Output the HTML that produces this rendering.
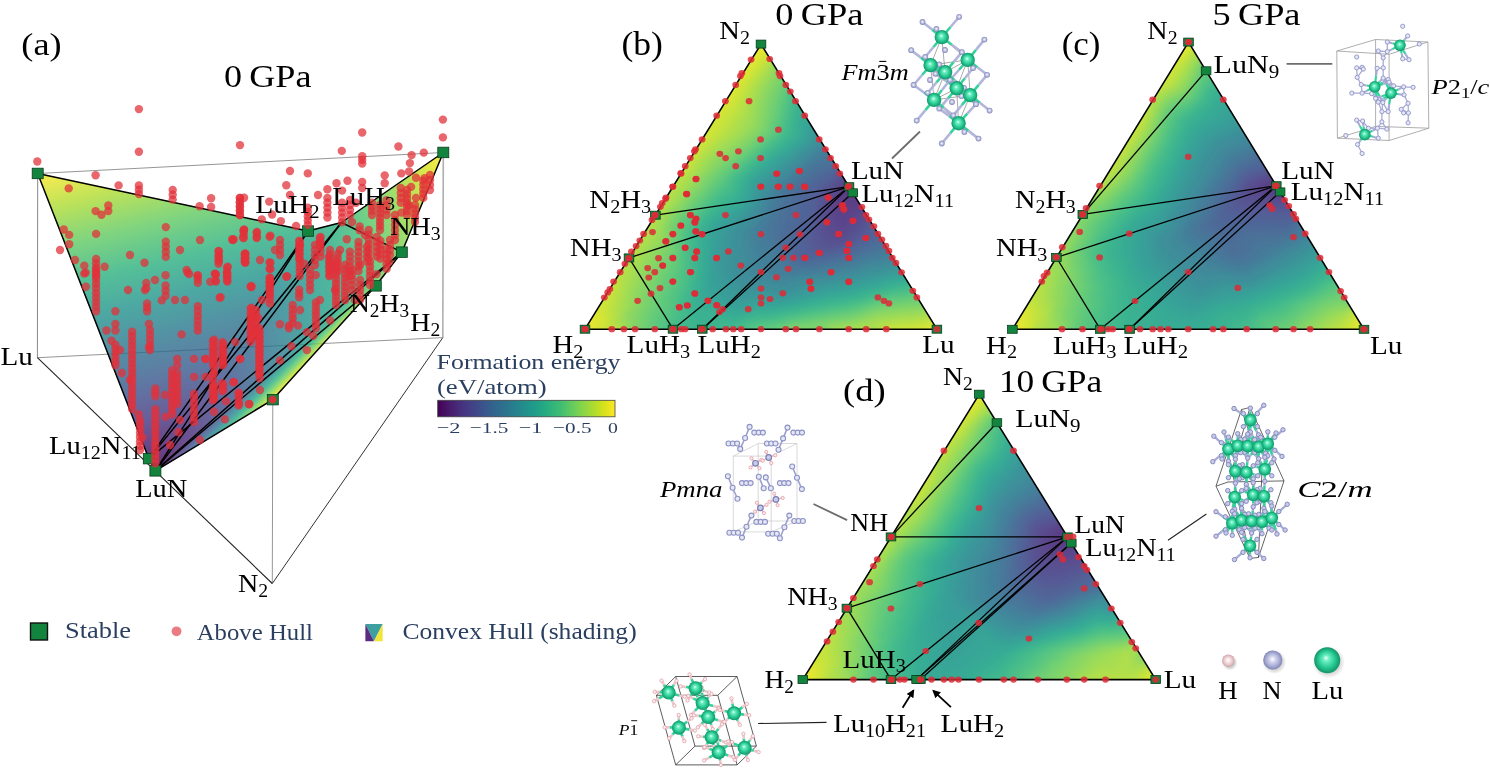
<!DOCTYPE html><html><head><meta charset="utf-8"><style>html,body{margin:0;padding:0;background:#fff;overflow:hidden}svg{display:block}</style></head><body><svg width="1490" height="776" viewBox="0 0 1490 776"><defs><linearGradient id="fa1" gradientUnits="userSpaceOnUse" x1="330.6" y1="185.9" x2="443.3" y2="152.5"><stop offset="0" stop-color="#31b57b"/><stop offset="0.12" stop-color="#42be71"/><stop offset="0.25" stop-color="#58c765"/><stop offset="0.38" stop-color="#70cf57"/><stop offset="0.5" stop-color="#8bd646"/><stop offset="0.62" stop-color="#a8db34"/><stop offset="0.75" stop-color="#c5e021"/><stop offset="0.88" stop-color="#e2e418"/><stop offset="1" stop-color="#fde725"/></linearGradient><linearGradient id="fa2" gradientUnits="userSpaceOnUse" x1="111.1" y1="274.5" x2="392.5" y2="211"><stop offset="0" stop-color="#440154"/><stop offset="0.12" stop-color="#482475"/><stop offset="0.25" stop-color="#414487"/><stop offset="0.38" stop-color="#355f8d"/><stop offset="0.5" stop-color="#2a788e"/><stop offset="0.62" stop-color="#21918c"/><stop offset="0.75" stop-color="#22a884"/><stop offset="0.88" stop-color="#44bf70"/><stop offset="1" stop-color="#7ad151"/></linearGradient><linearGradient id="fa3" gradientUnits="userSpaceOnUse" x1="251.5" y1="501.8" x2="341.5" y2="222.5"><stop offset="0" stop-color="#440154"/><stop offset="0.12" stop-color="#481d6f"/><stop offset="0.25" stop-color="#453882"/><stop offset="0.38" stop-color="#3c508b"/><stop offset="0.5" stop-color="#31668e"/><stop offset="0.62" stop-color="#297a8e"/><stop offset="0.75" stop-color="#218e8d"/><stop offset="0.88" stop-color="#1fa187"/><stop offset="1" stop-color="#31b57b"/></linearGradient><linearGradient id="fa4" gradientUnits="userSpaceOnUse" x1="299.6" y1="475.8" x2="308" y2="231"><stop offset="0" stop-color="#440154"/><stop offset="0.12" stop-color="#481c6e"/><stop offset="0.25" stop-color="#453581"/><stop offset="0.38" stop-color="#3e4c8a"/><stop offset="0.5" stop-color="#34618d"/><stop offset="0.62" stop-color="#2b748e"/><stop offset="0.75" stop-color="#24868e"/><stop offset="0.88" stop-color="#1f998a"/><stop offset="1" stop-color="#25ac82"/></linearGradient><linearGradient id="fa5" gradientUnits="userSpaceOnUse" x1="351.9" y1="408.3" x2="279" y2="113.8"><stop offset="0" stop-color="#460b5e"/><stop offset="0.12" stop-color="#463480"/><stop offset="0.25" stop-color="#38588c"/><stop offset="0.38" stop-color="#2a768e"/><stop offset="0.5" stop-color="#20938c"/><stop offset="0.62" stop-color="#2ab07f"/><stop offset="0.75" stop-color="#60ca60"/><stop offset="0.88" stop-color="#addc30"/><stop offset="1" stop-color="#fde725"/></linearGradient><linearGradient id="fa6" gradientUnits="userSpaceOnUse" x1="362.2" y1="219.6" x2="402.8" y2="253"><stop offset="0" stop-color="#440154"/><stop offset="0.12" stop-color="#482576"/><stop offset="0.25" stop-color="#404588"/><stop offset="0.38" stop-color="#34618d"/><stop offset="0.5" stop-color="#297a8e"/><stop offset="0.62" stop-color="#20938c"/><stop offset="0.75" stop-color="#25ac82"/><stop offset="0.88" stop-color="#4cc26c"/><stop offset="1" stop-color="#86d549"/></linearGradient><linearGradient id="fa7" gradientUnits="userSpaceOnUse" x1="355.9" y1="266.3" x2="380.2" y2="290.1"><stop offset="0" stop-color="#440154"/><stop offset="0.12" stop-color="#472d7b"/><stop offset="0.25" stop-color="#3b528b"/><stop offset="0.38" stop-color="#2c728e"/><stop offset="0.5" stop-color="#21918c"/><stop offset="0.62" stop-color="#28ae80"/><stop offset="0.75" stop-color="#5ec962"/><stop offset="0.88" stop-color="#addc30"/><stop offset="1" stop-color="#fde725"/></linearGradient><linearGradient id="cb8" x1="0" x2="1" y1="0" y2="0"><stop offset="0" stop-color="#440154"/><stop offset="0.06" stop-color="#48186a"/><stop offset="0.12" stop-color="#472d7b"/><stop offset="0.19" stop-color="#424086"/><stop offset="0.25" stop-color="#3b528b"/><stop offset="0.31" stop-color="#33638d"/><stop offset="0.38" stop-color="#2c728e"/><stop offset="0.44" stop-color="#26828e"/><stop offset="0.5" stop-color="#21918c"/><stop offset="0.56" stop-color="#1fa088"/><stop offset="0.62" stop-color="#28ae80"/><stop offset="0.69" stop-color="#3fbc73"/><stop offset="0.75" stop-color="#5ec962"/><stop offset="0.81" stop-color="#84d44b"/><stop offset="0.88" stop-color="#addc30"/><stop offset="0.94" stop-color="#d8e219"/><stop offset="1" stop-color="#fde725"/></linearGradient><clipPath id="clip9"><polygon points="585,329.2 936.9,329.2 761,44.1"/></clipPath><filter id="blur10" x="-5%" y="-5%" width="110%" height="110%"><feGaussianBlur stdDeviation="0.8 2.0"/></filter><linearGradient id="r11" gradientUnits="userSpaceOnUse" x1="755" x2="767" y1="0" y2="0"><stop offset="0" stop-color="#eee731"/><stop offset="0.5" stop-color="#eee731"/><stop offset="1" stop-color="#eee731"/></linearGradient><linearGradient id="r12" gradientUnits="userSpaceOnUse" x1="755" x2="767" y1="0" y2="0"><stop offset="0" stop-color="#eee731"/><stop offset="0.5" stop-color="#ece731"/><stop offset="1" stop-color="#ece731"/></linearGradient><linearGradient id="r13" gradientUnits="userSpaceOnUse" x1="752.5" x2="769.5" y1="0" y2="0"><stop offset="0" stop-color="#ece731"/><stop offset="0.5" stop-color="#e7e730"/><stop offset="1" stop-color="#ece731"/></linearGradient><linearGradient id="r14" gradientUnits="userSpaceOnUse" x1="750.1" x2="771.9" y1="0" y2="0"><stop offset="0" stop-color="#ece731"/><stop offset="0.33" stop-color="#e5e62f"/><stop offset="0.67" stop-color="#e0e630"/><stop offset="1" stop-color="#e9e730"/></linearGradient><linearGradient id="r15" gradientUnits="userSpaceOnUse" x1="747.6" x2="774.4" y1="0" y2="0"><stop offset="0" stop-color="#ece731"/><stop offset="0.33" stop-color="#e3e62f"/><stop offset="0.67" stop-color="#d4e433"/><stop offset="1" stop-color="#d9e531"/></linearGradient><linearGradient id="r16" gradientUnits="userSpaceOnUse" x1="745.1" x2="776.9" y1="0" y2="0"><stop offset="0" stop-color="#ece731"/><stop offset="0.25" stop-color="#e3e62f"/><stop offset="0.5" stop-color="#d0e435"/><stop offset="0.75" stop-color="#c6e23a"/><stop offset="1" stop-color="#a9de4d"/></linearGradient><linearGradient id="r17" gradientUnits="userSpaceOnUse" x1="742.7" x2="779.3" y1="0" y2="0"><stop offset="0" stop-color="#e7e730"/><stop offset="0.25" stop-color="#e0e630"/><stop offset="0.5" stop-color="#c8e339"/><stop offset="0.75" stop-color="#aedf4a"/><stop offset="1" stop-color="#7fd468"/></linearGradient><linearGradient id="r18" gradientUnits="userSpaceOnUse" x1="740.2" x2="781.8" y1="0" y2="0"><stop offset="0" stop-color="#e3e62f"/><stop offset="0.2" stop-color="#dee530"/><stop offset="0.4" stop-color="#cbe338"/><stop offset="0.6" stop-color="#b5e045"/><stop offset="0.8" stop-color="#94d95a"/><stop offset="1" stop-color="#72d06f"/></linearGradient><linearGradient id="r19" gradientUnits="userSpaceOnUse" x1="737.7" x2="784.3" y1="0" y2="0"><stop offset="0" stop-color="#e3e62f"/><stop offset="0.2" stop-color="#dce530"/><stop offset="0.4" stop-color="#c4e23c"/><stop offset="0.6" stop-color="#acde4b"/><stop offset="0.8" stop-color="#8bd760"/><stop offset="1" stop-color="#70cf70"/></linearGradient><linearGradient id="r20" gradientUnits="userSpaceOnUse" x1="735.2" x2="786.7" y1="0" y2="0"><stop offset="0" stop-color="#e3e62f"/><stop offset="0.17" stop-color="#dce530"/><stop offset="0.33" stop-color="#c8e339"/><stop offset="0.5" stop-color="#b0df48"/><stop offset="0.67" stop-color="#99da57"/><stop offset="0.83" stop-color="#7fd468"/><stop offset="1" stop-color="#6ecf71"/></linearGradient><linearGradient id="r21" gradientUnits="userSpaceOnUse" x1="732.8" x2="789.2" y1="0" y2="0"><stop offset="0" stop-color="#e3e62f"/><stop offset="0.17" stop-color="#d9e531"/><stop offset="0.33" stop-color="#c1e23d"/><stop offset="0.5" stop-color="#a9de4d"/><stop offset="0.67" stop-color="#90d85d"/><stop offset="0.83" stop-color="#78d26b"/><stop offset="1" stop-color="#6cce73"/></linearGradient><linearGradient id="r22" gradientUnits="userSpaceOnUse" x1="730.3" x2="791.7" y1="0" y2="0"><stop offset="0" stop-color="#e0e630"/><stop offset="0.14" stop-color="#d9e531"/><stop offset="0.29" stop-color="#c4e23c"/><stop offset="0.43" stop-color="#aedf4a"/><stop offset="0.57" stop-color="#97da59"/><stop offset="0.71" stop-color="#81d466"/><stop offset="0.86" stop-color="#6ecf71"/><stop offset="1" stop-color="#65cb77"/></linearGradient><linearGradient id="r23" gradientUnits="userSpaceOnUse" x1="727.8" x2="794.1" y1="0" y2="0"><stop offset="0" stop-color="#e0e630"/><stop offset="0.14" stop-color="#d7e532"/><stop offset="0.29" stop-color="#c1e23d"/><stop offset="0.43" stop-color="#a7dd4e"/><stop offset="0.57" stop-color="#90d85d"/><stop offset="0.71" stop-color="#7ad26a"/><stop offset="0.86" stop-color="#65cb77"/><stop offset="1" stop-color="#50c282"/></linearGradient><linearGradient id="r24" gradientUnits="userSpaceOnUse" x1="725.4" x2="796.6" y1="0" y2="0"><stop offset="0" stop-color="#e0e630"/><stop offset="0.12" stop-color="#d9e531"/><stop offset="0.25" stop-color="#c4e23c"/><stop offset="0.38" stop-color="#aedf4a"/><stop offset="0.5" stop-color="#97da59"/><stop offset="0.62" stop-color="#83d565"/><stop offset="0.75" stop-color="#6ecf71"/><stop offset="0.88" stop-color="#57c57f"/><stop offset="1" stop-color="#41b98b"/></linearGradient><linearGradient id="r25" gradientUnits="userSpaceOnUse" x1="722.9" x2="799.1" y1="0" y2="0"><stop offset="0" stop-color="#e0e630"/><stop offset="0.12" stop-color="#d7e532"/><stop offset="0.25" stop-color="#c4e23c"/><stop offset="0.38" stop-color="#acde4b"/><stop offset="0.5" stop-color="#94d95a"/><stop offset="0.62" stop-color="#7cd369"/><stop offset="0.75" stop-color="#68cd75"/><stop offset="0.88" stop-color="#4bbf85"/><stop offset="1" stop-color="#3db68d"/></linearGradient><linearGradient id="r26" gradientUnits="userSpaceOnUse" x1="720.4" x2="801.6" y1="0" y2="0"><stop offset="0" stop-color="#e0e630"/><stop offset="0.11" stop-color="#d9e531"/><stop offset="0.22" stop-color="#c6e23a"/><stop offset="0.33" stop-color="#b0df48"/><stop offset="0.44" stop-color="#9bdb56"/><stop offset="0.56" stop-color="#85d564"/><stop offset="0.67" stop-color="#72d06f"/><stop offset="0.78" stop-color="#5ac77d"/><stop offset="0.89" stop-color="#42ba8a"/><stop offset="1" stop-color="#3bb48e"/></linearGradient><linearGradient id="r27" gradientUnits="userSpaceOnUse" x1="718" x2="804" y1="0" y2="0"><stop offset="0" stop-color="#dee530"/><stop offset="0.11" stop-color="#d7e532"/><stop offset="0.22" stop-color="#c4e23c"/><stop offset="0.33" stop-color="#b0df48"/><stop offset="0.44" stop-color="#99da57"/><stop offset="0.56" stop-color="#81d466"/><stop offset="0.67" stop-color="#6cce73"/><stop offset="0.78" stop-color="#54c480"/><stop offset="0.89" stop-color="#3fb78c"/><stop offset="1" stop-color="#37af91"/></linearGradient><linearGradient id="r28" gradientUnits="userSpaceOnUse" x1="715.5" x2="806.5" y1="0" y2="0"><stop offset="0" stop-color="#d9e531"/><stop offset="0.1" stop-color="#d4e433"/><stop offset="0.2" stop-color="#c6e23a"/><stop offset="0.3" stop-color="#b5e045"/><stop offset="0.4" stop-color="#a2dc51"/><stop offset="0.5" stop-color="#8bd760"/><stop offset="0.6" stop-color="#76d16d"/><stop offset="0.7" stop-color="#61ca79"/><stop offset="0.8" stop-color="#49be86"/><stop offset="0.9" stop-color="#3ab28f"/><stop offset="1" stop-color="#35a994"/></linearGradient><linearGradient id="r29" gradientUnits="userSpaceOnUse" x1="713" x2="809" y1="0" y2="0"><stop offset="0" stop-color="#d7e532"/><stop offset="0.1" stop-color="#d2e434"/><stop offset="0.2" stop-color="#c4e23c"/><stop offset="0.3" stop-color="#b5e045"/><stop offset="0.4" stop-color="#a0dc53"/><stop offset="0.5" stop-color="#89d761"/><stop offset="0.6" stop-color="#72d06f"/><stop offset="0.7" stop-color="#5cc87c"/><stop offset="0.8" stop-color="#44bb89"/><stop offset="0.9" stop-color="#37ae92"/><stop offset="1" stop-color="#35a795"/></linearGradient><linearGradient id="r30" gradientUnits="userSpaceOnUse" x1="710.6" x2="811.4" y1="0" y2="0"><stop offset="0" stop-color="#d7e532"/><stop offset="0.09" stop-color="#d0e435"/><stop offset="0.18" stop-color="#c4e23c"/><stop offset="0.27" stop-color="#b5e045"/><stop offset="0.36" stop-color="#a7dd4e"/><stop offset="0.45" stop-color="#94d95a"/><stop offset="0.55" stop-color="#7cd369"/><stop offset="0.64" stop-color="#67cc76"/><stop offset="0.73" stop-color="#4fc283"/><stop offset="0.82" stop-color="#3db68d"/><stop offset="0.91" stop-color="#35aa94"/><stop offset="1" stop-color="#35a695"/></linearGradient><linearGradient id="r31" gradientUnits="userSpaceOnUse" x1="708.1" x2="813.9" y1="0" y2="0"><stop offset="0" stop-color="#d7e532"/><stop offset="0.09" stop-color="#d0e435"/><stop offset="0.18" stop-color="#c4e23c"/><stop offset="0.27" stop-color="#b3df47"/><stop offset="0.36" stop-color="#a5dd50"/><stop offset="0.45" stop-color="#92d95c"/><stop offset="0.55" stop-color="#7ad26a"/><stop offset="0.64" stop-color="#61ca79"/><stop offset="0.73" stop-color="#49be86"/><stop offset="0.82" stop-color="#3ab28f"/><stop offset="0.91" stop-color="#35a795"/><stop offset="1" stop-color="#35a496"/></linearGradient><linearGradient id="r32" gradientUnits="userSpaceOnUse" x1="705.6" x2="816.4" y1="0" y2="0"><stop offset="0" stop-color="#d7e532"/><stop offset="0.08" stop-color="#d2e434"/><stop offset="0.17" stop-color="#c4e23c"/><stop offset="0.25" stop-color="#b5e045"/><stop offset="0.33" stop-color="#a7dd4e"/><stop offset="0.42" stop-color="#99da57"/><stop offset="0.5" stop-color="#85d564"/><stop offset="0.58" stop-color="#6cce73"/><stop offset="0.67" stop-color="#54c480"/><stop offset="0.75" stop-color="#41b98b"/><stop offset="0.83" stop-color="#36ad92"/><stop offset="0.92" stop-color="#35a496"/><stop offset="1" stop-color="#369d98"/></linearGradient><linearGradient id="r33" gradientUnits="userSpaceOnUse" x1="703.1" x2="818.8" y1="0" y2="0"><stop offset="0" stop-color="#d4e433"/><stop offset="0.08" stop-color="#d0e435"/><stop offset="0.17" stop-color="#c1e23d"/><stop offset="0.25" stop-color="#b3df47"/><stop offset="0.33" stop-color="#a5dd50"/><stop offset="0.42" stop-color="#94d95a"/><stop offset="0.5" stop-color="#83d565"/><stop offset="0.58" stop-color="#68cd75"/><stop offset="0.67" stop-color="#50c282"/><stop offset="0.75" stop-color="#3eb68d"/><stop offset="0.83" stop-color="#36ab93"/><stop offset="0.92" stop-color="#36a097"/><stop offset="1" stop-color="#399599"/></linearGradient><linearGradient id="r34" gradientUnits="userSpaceOnUse" x1="700.7" x2="821.3" y1="0" y2="0"><stop offset="0" stop-color="#d4e433"/><stop offset="0.08" stop-color="#d0e435"/><stop offset="0.15" stop-color="#c4e23c"/><stop offset="0.23" stop-color="#b3df47"/><stop offset="0.31" stop-color="#a5dd50"/><stop offset="0.38" stop-color="#97da59"/><stop offset="0.46" stop-color="#85d564"/><stop offset="0.54" stop-color="#70cf70"/><stop offset="0.62" stop-color="#58c67e"/><stop offset="0.69" stop-color="#45bc88"/><stop offset="0.77" stop-color="#39b190"/><stop offset="0.85" stop-color="#35a795"/><stop offset="0.92" stop-color="#379b98"/><stop offset="1" stop-color="#3a9199"/></linearGradient><linearGradient id="r35" gradientUnits="userSpaceOnUse" x1="698.2" x2="823.8" y1="0" y2="0"><stop offset="0" stop-color="#d4e433"/><stop offset="0.08" stop-color="#d0e435"/><stop offset="0.15" stop-color="#bfe13f"/><stop offset="0.23" stop-color="#b0df48"/><stop offset="0.31" stop-color="#a0dc53"/><stop offset="0.38" stop-color="#90d85d"/><stop offset="0.46" stop-color="#7cd369"/><stop offset="0.54" stop-color="#67cc76"/><stop offset="0.62" stop-color="#50c282"/><stop offset="0.69" stop-color="#41b98b"/><stop offset="0.77" stop-color="#37ae92"/><stop offset="0.85" stop-color="#35a396"/><stop offset="0.92" stop-color="#389799"/><stop offset="1" stop-color="#3b9099"/></linearGradient><linearGradient id="r36" gradientUnits="userSpaceOnUse" x1="695.7" x2="826.2" y1="0" y2="0"><stop offset="0" stop-color="#d4e433"/><stop offset="0.07" stop-color="#cde336"/><stop offset="0.14" stop-color="#bfe13f"/><stop offset="0.21" stop-color="#aedf4a"/><stop offset="0.29" stop-color="#9edb54"/><stop offset="0.36" stop-color="#8ed85e"/><stop offset="0.43" stop-color="#7cd369"/><stop offset="0.5" stop-color="#67cc76"/><stop offset="0.57" stop-color="#52c381"/><stop offset="0.64" stop-color="#43ba8a"/><stop offset="0.71" stop-color="#38b190"/><stop offset="0.79" stop-color="#35a795"/><stop offset="0.86" stop-color="#379c98"/><stop offset="0.93" stop-color="#3a9299"/><stop offset="1" stop-color="#3d8c99"/></linearGradient><linearGradient id="r37" gradientUnits="userSpaceOnUse" x1="693.3" x2="828.7" y1="0" y2="0"><stop offset="0" stop-color="#d4e433"/><stop offset="0.07" stop-color="#cbe338"/><stop offset="0.14" stop-color="#b8e043"/><stop offset="0.21" stop-color="#a7dd4e"/><stop offset="0.29" stop-color="#97da59"/><stop offset="0.36" stop-color="#87d663"/><stop offset="0.43" stop-color="#72d06f"/><stop offset="0.5" stop-color="#5cc87c"/><stop offset="0.57" stop-color="#49be86"/><stop offset="0.64" stop-color="#3cb58e"/><stop offset="0.71" stop-color="#36ab93"/><stop offset="0.79" stop-color="#35a197"/><stop offset="0.86" stop-color="#389799"/><stop offset="0.93" stop-color="#3d8c99"/><stop offset="1" stop-color="#40829a"/></linearGradient><linearGradient id="r38" gradientUnits="userSpaceOnUse" x1="690.8" x2="831.2" y1="0" y2="0"><stop offset="0" stop-color="#d4e433"/><stop offset="0.07" stop-color="#c8e339"/><stop offset="0.13" stop-color="#b5e045"/><stop offset="0.2" stop-color="#a5dd50"/><stop offset="0.27" stop-color="#94d95a"/><stop offset="0.33" stop-color="#85d564"/><stop offset="0.4" stop-color="#72d06f"/><stop offset="0.47" stop-color="#5cc87c"/><stop offset="0.53" stop-color="#49be86"/><stop offset="0.6" stop-color="#3cb58e"/><stop offset="0.67" stop-color="#36ac93"/><stop offset="0.73" stop-color="#35a296"/><stop offset="0.8" stop-color="#389799"/><stop offset="0.87" stop-color="#3c8d99"/><stop offset="0.93" stop-color="#40839a"/><stop offset="1" stop-color="#437b99"/></linearGradient><linearGradient id="r39" gradientUnits="userSpaceOnUse" x1="688.3" x2="833.6" y1="0" y2="0"><stop offset="0" stop-color="#d4e433"/><stop offset="0.07" stop-color="#c6e23a"/><stop offset="0.13" stop-color="#b0df48"/><stop offset="0.2" stop-color="#9edb54"/><stop offset="0.27" stop-color="#8ed85e"/><stop offset="0.33" stop-color="#7cd369"/><stop offset="0.4" stop-color="#68cd75"/><stop offset="0.47" stop-color="#52c381"/><stop offset="0.53" stop-color="#41b98b"/><stop offset="0.6" stop-color="#38b091"/><stop offset="0.67" stop-color="#35a695"/><stop offset="0.73" stop-color="#379c98"/><stop offset="0.8" stop-color="#3a9199"/><stop offset="0.87" stop-color="#3f869a"/><stop offset="0.93" stop-color="#437c99"/><stop offset="1" stop-color="#457899"/></linearGradient><linearGradient id="r40" gradientUnits="userSpaceOnUse" x1="685.9" x2="836.1" y1="0" y2="0"><stop offset="0" stop-color="#d4e433"/><stop offset="0.06" stop-color="#c6e23a"/><stop offset="0.12" stop-color="#aedf4a"/><stop offset="0.19" stop-color="#99da57"/><stop offset="0.25" stop-color="#89d761"/><stop offset="0.31" stop-color="#7ad26a"/><stop offset="0.38" stop-color="#68cd75"/><stop offset="0.44" stop-color="#52c381"/><stop offset="0.5" stop-color="#41b98b"/><stop offset="0.56" stop-color="#38b091"/><stop offset="0.62" stop-color="#35a695"/><stop offset="0.69" stop-color="#379c98"/><stop offset="0.75" stop-color="#3a9299"/><stop offset="0.81" stop-color="#3e889a"/><stop offset="0.88" stop-color="#437d99"/><stop offset="0.94" stop-color="#457799"/><stop offset="1" stop-color="#477299"/></linearGradient><linearGradient id="r41" gradientUnits="userSpaceOnUse" x1="683.4" x2="838.6" y1="0" y2="0"><stop offset="0" stop-color="#d4e433"/><stop offset="0.06" stop-color="#c4e23c"/><stop offset="0.12" stop-color="#acde4b"/><stop offset="0.19" stop-color="#94d95a"/><stop offset="0.25" stop-color="#83d565"/><stop offset="0.31" stop-color="#74d16e"/><stop offset="0.38" stop-color="#5fc97a"/><stop offset="0.44" stop-color="#49be86"/><stop offset="0.5" stop-color="#3bb48e"/><stop offset="0.56" stop-color="#35aa94"/><stop offset="0.62" stop-color="#36a097"/><stop offset="0.69" stop-color="#399699"/><stop offset="0.75" stop-color="#3d8c99"/><stop offset="0.81" stop-color="#41819a"/><stop offset="0.88" stop-color="#457799"/><stop offset="0.94" stop-color="#477299"/><stop offset="1" stop-color="#497099"/></linearGradient><linearGradient id="r42" gradientUnits="userSpaceOnUse" x1="680.9" x2="841" y1="0" y2="0"><stop offset="0" stop-color="#d4e433"/><stop offset="0.06" stop-color="#c4e23c"/><stop offset="0.12" stop-color="#a9de4d"/><stop offset="0.18" stop-color="#92d95c"/><stop offset="0.24" stop-color="#81d466"/><stop offset="0.29" stop-color="#72d06f"/><stop offset="0.35" stop-color="#5ec87b"/><stop offset="0.41" stop-color="#49be86"/><stop offset="0.47" stop-color="#3bb48e"/><stop offset="0.53" stop-color="#35aa94"/><stop offset="0.59" stop-color="#35a197"/><stop offset="0.65" stop-color="#389799"/><stop offset="0.71" stop-color="#3c8d99"/><stop offset="0.76" stop-color="#40839a"/><stop offset="0.82" stop-color="#457899"/><stop offset="0.88" stop-color="#487299"/><stop offset="0.94" stop-color="#496f98"/><stop offset="1" stop-color="#4a6d98"/></linearGradient><linearGradient id="r43" gradientUnits="userSpaceOnUse" x1="678.5" x2="843.5" y1="0" y2="0"><stop offset="0" stop-color="#d2e434"/><stop offset="0.06" stop-color="#c1e23d"/><stop offset="0.12" stop-color="#a7dd4e"/><stop offset="0.18" stop-color="#90d85d"/><stop offset="0.24" stop-color="#7ad26a"/><stop offset="0.29" stop-color="#6acd74"/><stop offset="0.35" stop-color="#55c580"/><stop offset="0.41" stop-color="#43ba8a"/><stop offset="0.47" stop-color="#37af91"/><stop offset="0.53" stop-color="#35a595"/><stop offset="0.59" stop-color="#379b98"/><stop offset="0.65" stop-color="#3b9199"/><stop offset="0.71" stop-color="#3f869a"/><stop offset="0.76" stop-color="#437c99"/><stop offset="0.82" stop-color="#477299"/><stop offset="0.88" stop-color="#496e98"/><stop offset="0.94" stop-color="#4b6b98"/><stop offset="1" stop-color="#4f6397"/></linearGradient><linearGradient id="r44" gradientUnits="userSpaceOnUse" x1="676" x2="846" y1="0" y2="0"><stop offset="0" stop-color="#c8e339"/><stop offset="0.06" stop-color="#bce140"/><stop offset="0.12" stop-color="#a5dd50"/><stop offset="0.18" stop-color="#8bd760"/><stop offset="0.24" stop-color="#74d16e"/><stop offset="0.29" stop-color="#63ca78"/><stop offset="0.35" stop-color="#4dc184"/><stop offset="0.41" stop-color="#3db68d"/><stop offset="0.47" stop-color="#35aa94"/><stop offset="0.53" stop-color="#36a097"/><stop offset="0.59" stop-color="#399699"/><stop offset="0.65" stop-color="#3d8b9a"/><stop offset="0.71" stop-color="#41809a"/><stop offset="0.76" stop-color="#467699"/><stop offset="0.82" stop-color="#496e98"/><stop offset="0.88" stop-color="#4c6998"/><stop offset="0.94" stop-color="#4e6397"/><stop offset="1" stop-color="#555291"/></linearGradient><linearGradient id="r45" gradientUnits="userSpaceOnUse" x1="673.5" x2="848.4" y1="0" y2="0"><stop offset="0" stop-color="#bce140"/><stop offset="0.06" stop-color="#b8e043"/><stop offset="0.11" stop-color="#a5dd50"/><stop offset="0.17" stop-color="#8bd760"/><stop offset="0.22" stop-color="#74d16e"/><stop offset="0.28" stop-color="#63ca78"/><stop offset="0.33" stop-color="#4dc184"/><stop offset="0.39" stop-color="#3eb68d"/><stop offset="0.44" stop-color="#36ab93"/><stop offset="0.5" stop-color="#36a097"/><stop offset="0.56" stop-color="#399699"/><stop offset="0.61" stop-color="#3d8c99"/><stop offset="0.67" stop-color="#41819a"/><stop offset="0.72" stop-color="#457799"/><stop offset="0.78" stop-color="#496f98"/><stop offset="0.83" stop-color="#4c6898"/><stop offset="0.89" stop-color="#4e6397"/><stop offset="0.94" stop-color="#535793"/><stop offset="1" stop-color="#58488d"/></linearGradient><linearGradient id="r46" gradientUnits="userSpaceOnUse" x1="671" x2="850.9" y1="0" y2="0"><stop offset="0" stop-color="#b8e043"/><stop offset="0.06" stop-color="#b3df47"/><stop offset="0.11" stop-color="#a0dc53"/><stop offset="0.17" stop-color="#87d663"/><stop offset="0.22" stop-color="#70cf70"/><stop offset="0.28" stop-color="#5ec87b"/><stop offset="0.33" stop-color="#49be86"/><stop offset="0.39" stop-color="#3ab38f"/><stop offset="0.44" stop-color="#35a795"/><stop offset="0.5" stop-color="#379c98"/><stop offset="0.56" stop-color="#3b9199"/><stop offset="0.61" stop-color="#3f869a"/><stop offset="0.67" stop-color="#437b99"/><stop offset="0.72" stop-color="#487299"/><stop offset="0.78" stop-color="#4b6a98"/><stop offset="0.83" stop-color="#4e6497"/><stop offset="0.89" stop-color="#515d95"/><stop offset="0.94" stop-color="#574e90"/><stop offset="1" stop-color="#5a4087"/></linearGradient><linearGradient id="r47" gradientUnits="userSpaceOnUse" x1="668.6" x2="853.4" y1="0" y2="0"><stop offset="0" stop-color="#b8e043"/><stop offset="0.05" stop-color="#b5e045"/><stop offset="0.11" stop-color="#a0dc53"/><stop offset="0.16" stop-color="#89d761"/><stop offset="0.21" stop-color="#72d06f"/><stop offset="0.26" stop-color="#5ec87b"/><stop offset="0.32" stop-color="#4cc084"/><stop offset="0.37" stop-color="#3db68d"/><stop offset="0.42" stop-color="#35aa94"/><stop offset="0.47" stop-color="#369e97"/><stop offset="0.53" stop-color="#3a9299"/><stop offset="0.58" stop-color="#3e879a"/><stop offset="0.63" stop-color="#437c99"/><stop offset="0.68" stop-color="#477299"/><stop offset="0.74" stop-color="#4b6b98"/><stop offset="0.79" stop-color="#4e6497"/><stop offset="0.84" stop-color="#515e95"/><stop offset="0.89" stop-color="#555291"/><stop offset="0.95" stop-color="#59448a"/><stop offset="1" stop-color="#5a3881"/></linearGradient><linearGradient id="r48" gradientUnits="userSpaceOnUse" x1="666.1" x2="855.8" y1="0" y2="0"><stop offset="0" stop-color="#b8e043"/><stop offset="0.05" stop-color="#b3df47"/><stop offset="0.11" stop-color="#9edb54"/><stop offset="0.16" stop-color="#85d564"/><stop offset="0.21" stop-color="#6ecf71"/><stop offset="0.26" stop-color="#58c67e"/><stop offset="0.32" stop-color="#49be86"/><stop offset="0.37" stop-color="#3cb58e"/><stop offset="0.42" stop-color="#35a994"/><stop offset="0.47" stop-color="#379c98"/><stop offset="0.53" stop-color="#3b8f99"/><stop offset="0.58" stop-color="#40839a"/><stop offset="0.63" stop-color="#457799"/><stop offset="0.68" stop-color="#496e98"/><stop offset="0.74" stop-color="#4c6797"/><stop offset="0.79" stop-color="#506196"/><stop offset="0.84" stop-color="#535793"/><stop offset="0.89" stop-color="#574c8e"/><stop offset="0.95" stop-color="#5a3c84"/><stop offset="1" stop-color="#5b357f"/></linearGradient><linearGradient id="r49" gradientUnits="userSpaceOnUse" x1="663.6" x2="858.3" y1="0" y2="0"><stop offset="0" stop-color="#b8e043"/><stop offset="0.05" stop-color="#b3df47"/><stop offset="0.1" stop-color="#9edb54"/><stop offset="0.15" stop-color="#85d564"/><stop offset="0.2" stop-color="#6ecf71"/><stop offset="0.25" stop-color="#58c67e"/><stop offset="0.3" stop-color="#48be87"/><stop offset="0.35" stop-color="#3fb78c"/><stop offset="0.4" stop-color="#36ad92"/><stop offset="0.45" stop-color="#35a197"/><stop offset="0.5" stop-color="#3a9299"/><stop offset="0.55" stop-color="#3f869a"/><stop offset="0.6" stop-color="#447a99"/><stop offset="0.65" stop-color="#497099"/><stop offset="0.7" stop-color="#4c6998"/><stop offset="0.75" stop-color="#4f6397"/><stop offset="0.8" stop-color="#525c95"/><stop offset="0.85" stop-color="#565091"/><stop offset="0.9" stop-color="#594389"/><stop offset="0.95" stop-color="#5a3982"/><stop offset="1" stop-color="#5a3982"/></linearGradient><linearGradient id="r50" gradientUnits="userSpaceOnUse" x1="661.2" x2="860.8" y1="0" y2="0"><stop offset="0" stop-color="#b8e043"/><stop offset="0.05" stop-color="#b0df48"/><stop offset="0.1" stop-color="#9bdb56"/><stop offset="0.15" stop-color="#81d466"/><stop offset="0.2" stop-color="#68cd75"/><stop offset="0.25" stop-color="#54c480"/><stop offset="0.3" stop-color="#44bb89"/><stop offset="0.35" stop-color="#3cb58e"/><stop offset="0.4" stop-color="#36ac93"/><stop offset="0.45" stop-color="#369e97"/><stop offset="0.5" stop-color="#3b9099"/><stop offset="0.55" stop-color="#40839a"/><stop offset="0.6" stop-color="#457799"/><stop offset="0.65" stop-color="#496e98"/><stop offset="0.7" stop-color="#4c6797"/><stop offset="0.75" stop-color="#506196"/><stop offset="0.8" stop-color="#535894"/><stop offset="0.85" stop-color="#584b8e"/><stop offset="0.9" stop-color="#5a3e86"/><stop offset="0.95" stop-color="#5a3a83"/><stop offset="1" stop-color="#5a3d85"/></linearGradient><linearGradient id="r51" gradientUnits="userSpaceOnUse" x1="658.7" x2="863.2" y1="0" y2="0"><stop offset="0" stop-color="#b8e043"/><stop offset="0.05" stop-color="#b0df48"/><stop offset="0.1" stop-color="#99da57"/><stop offset="0.14" stop-color="#81d466"/><stop offset="0.19" stop-color="#68cd75"/><stop offset="0.24" stop-color="#54c480"/><stop offset="0.29" stop-color="#43ba8a"/><stop offset="0.33" stop-color="#3bb48e"/><stop offset="0.38" stop-color="#36ad92"/><stop offset="0.43" stop-color="#35a296"/><stop offset="0.48" stop-color="#399499"/><stop offset="0.52" stop-color="#3e879a"/><stop offset="0.57" stop-color="#437b99"/><stop offset="0.62" stop-color="#487199"/><stop offset="0.67" stop-color="#4b6a98"/><stop offset="0.71" stop-color="#4e6497"/><stop offset="0.76" stop-color="#515e95"/><stop offset="0.81" stop-color="#555291"/><stop offset="0.86" stop-color="#59448a"/><stop offset="0.9" stop-color="#5a3c84"/><stop offset="0.95" stop-color="#5a3c84"/><stop offset="1" stop-color="#5a4087"/></linearGradient><linearGradient id="r52" gradientUnits="userSpaceOnUse" x1="656.2" x2="865.7" y1="0" y2="0"><stop offset="0" stop-color="#b8e043"/><stop offset="0.05" stop-color="#aedf4a"/><stop offset="0.1" stop-color="#97da59"/><stop offset="0.14" stop-color="#7cd369"/><stop offset="0.19" stop-color="#65cb77"/><stop offset="0.24" stop-color="#4fc283"/><stop offset="0.29" stop-color="#40b88b"/><stop offset="0.33" stop-color="#38b190"/><stop offset="0.38" stop-color="#35aa94"/><stop offset="0.43" stop-color="#36a097"/><stop offset="0.48" stop-color="#3a9199"/><stop offset="0.52" stop-color="#40849a"/><stop offset="0.57" stop-color="#457899"/><stop offset="0.62" stop-color="#497099"/><stop offset="0.67" stop-color="#4c6998"/><stop offset="0.71" stop-color="#4e6397"/><stop offset="0.76" stop-color="#525c95"/><stop offset="0.81" stop-color="#564f90"/><stop offset="0.86" stop-color="#5a4188"/><stop offset="0.9" stop-color="#5a3d85"/><stop offset="0.95" stop-color="#5a3e86"/><stop offset="1" stop-color="#5a4188"/></linearGradient><linearGradient id="r53" gradientUnits="userSpaceOnUse" x1="653.8" x2="868.2" y1="0" y2="0"><stop offset="0" stop-color="#b8e043"/><stop offset="0.05" stop-color="#aedf4a"/><stop offset="0.09" stop-color="#94d95a"/><stop offset="0.14" stop-color="#7cd369"/><stop offset="0.18" stop-color="#65cb77"/><stop offset="0.23" stop-color="#4fc283"/><stop offset="0.27" stop-color="#40b88b"/><stop offset="0.32" stop-color="#37af91"/><stop offset="0.36" stop-color="#35a994"/><stop offset="0.41" stop-color="#35a296"/><stop offset="0.45" stop-color="#399699"/><stop offset="0.5" stop-color="#3e889a"/><stop offset="0.55" stop-color="#437c99"/><stop offset="0.59" stop-color="#477299"/><stop offset="0.64" stop-color="#4a6c98"/><stop offset="0.68" stop-color="#4d6697"/><stop offset="0.73" stop-color="#506096"/><stop offset="0.77" stop-color="#545693"/><stop offset="0.82" stop-color="#58488d"/><stop offset="0.86" stop-color="#5a4087"/><stop offset="0.91" stop-color="#5a3e86"/><stop offset="0.95" stop-color="#594288"/><stop offset="1" stop-color="#59458b"/></linearGradient><linearGradient id="r54" gradientUnits="userSpaceOnUse" x1="651.3" x2="870.7" y1="0" y2="0"><stop offset="0" stop-color="#b8e043"/><stop offset="0.05" stop-color="#acde4b"/><stop offset="0.09" stop-color="#92d95c"/><stop offset="0.14" stop-color="#76d16d"/><stop offset="0.18" stop-color="#5fc97a"/><stop offset="0.23" stop-color="#4cc084"/><stop offset="0.27" stop-color="#3db68d"/><stop offset="0.32" stop-color="#36ac92"/><stop offset="0.36" stop-color="#35a695"/><stop offset="0.41" stop-color="#369e97"/><stop offset="0.45" stop-color="#3a9399"/><stop offset="0.5" stop-color="#3f869a"/><stop offset="0.55" stop-color="#447a99"/><stop offset="0.59" stop-color="#487299"/><stop offset="0.64" stop-color="#4b6b98"/><stop offset="0.68" stop-color="#4d6597"/><stop offset="0.73" stop-color="#505f96"/><stop offset="0.77" stop-color="#555492"/><stop offset="0.82" stop-color="#59468b"/><stop offset="0.86" stop-color="#5a4087"/><stop offset="0.91" stop-color="#5a4188"/><stop offset="0.95" stop-color="#59468b"/><stop offset="1" stop-color="#564f90"/></linearGradient><linearGradient id="r55" gradientUnits="userSpaceOnUse" x1="648.8" x2="873.1" y1="0" y2="0"><stop offset="0" stop-color="#b8e043"/><stop offset="0.04" stop-color="#acde4b"/><stop offset="0.09" stop-color="#90d85d"/><stop offset="0.13" stop-color="#76d16d"/><stop offset="0.17" stop-color="#5fc97a"/><stop offset="0.22" stop-color="#4cc084"/><stop offset="0.26" stop-color="#3db68d"/><stop offset="0.3" stop-color="#36ac93"/><stop offset="0.35" stop-color="#35a496"/><stop offset="0.39" stop-color="#369d98"/><stop offset="0.43" stop-color="#399599"/><stop offset="0.48" stop-color="#3d8a9a"/><stop offset="0.52" stop-color="#437d99"/><stop offset="0.57" stop-color="#467499"/><stop offset="0.61" stop-color="#496e98"/><stop offset="0.65" stop-color="#4c6898"/><stop offset="0.7" stop-color="#4f6397"/><stop offset="0.74" stop-color="#525b94"/><stop offset="0.78" stop-color="#574e90"/><stop offset="0.83" stop-color="#59448a"/><stop offset="0.87" stop-color="#5a4188"/><stop offset="0.91" stop-color="#59448a"/><stop offset="0.96" stop-color="#574c8e"/><stop offset="1" stop-color="#555492"/></linearGradient><linearGradient id="r56" gradientUnits="userSpaceOnUse" x1="646.4" x2="875.6" y1="0" y2="0"><stop offset="0" stop-color="#b8e043"/><stop offset="0.04" stop-color="#acde4b"/><stop offset="0.09" stop-color="#90d85d"/><stop offset="0.13" stop-color="#72d06f"/><stop offset="0.17" stop-color="#5ac77d"/><stop offset="0.22" stop-color="#48be87"/><stop offset="0.26" stop-color="#3ab38f"/><stop offset="0.3" stop-color="#35a994"/><stop offset="0.35" stop-color="#35a197"/><stop offset="0.39" stop-color="#389998"/><stop offset="0.43" stop-color="#3a9199"/><stop offset="0.48" stop-color="#3f869a"/><stop offset="0.52" stop-color="#447a99"/><stop offset="0.57" stop-color="#477399"/><stop offset="0.61" stop-color="#4a6d98"/><stop offset="0.65" stop-color="#4c6797"/><stop offset="0.7" stop-color="#4f6296"/><stop offset="0.74" stop-color="#535894"/><stop offset="0.78" stop-color="#574c8e"/><stop offset="0.83" stop-color="#59448a"/><stop offset="0.87" stop-color="#594389"/><stop offset="0.91" stop-color="#58478c"/><stop offset="0.96" stop-color="#565191"/><stop offset="1" stop-color="#545693"/></linearGradient><linearGradient id="r57" gradientUnits="userSpaceOnUse" x1="643.9" x2="878.1" y1="0" y2="0"><stop offset="0" stop-color="#b8e043"/><stop offset="0.04" stop-color="#aedf4a"/><stop offset="0.08" stop-color="#97da59"/><stop offset="0.12" stop-color="#76d16d"/><stop offset="0.17" stop-color="#5cc87c"/><stop offset="0.21" stop-color="#48be87"/><stop offset="0.25" stop-color="#3bb48e"/><stop offset="0.29" stop-color="#35a994"/><stop offset="0.33" stop-color="#36a097"/><stop offset="0.38" stop-color="#389898"/><stop offset="0.42" stop-color="#3b9199"/><stop offset="0.46" stop-color="#3e889a"/><stop offset="0.5" stop-color="#427e99"/><stop offset="0.54" stop-color="#467599"/><stop offset="0.58" stop-color="#497099"/><stop offset="0.62" stop-color="#4b6a98"/><stop offset="0.67" stop-color="#4e6497"/><stop offset="0.71" stop-color="#515e95"/><stop offset="0.75" stop-color="#555392"/><stop offset="0.79" stop-color="#584a8d"/><stop offset="0.83" stop-color="#59448a"/><stop offset="0.88" stop-color="#59468b"/><stop offset="0.92" stop-color="#574d8f"/><stop offset="0.96" stop-color="#545693"/><stop offset="1" stop-color="#525b94"/></linearGradient><linearGradient id="r58" gradientUnits="userSpaceOnUse" x1="641.4" x2="880.5" y1="0" y2="0"><stop offset="0" stop-color="#b8e043"/><stop offset="0.04" stop-color="#aedf4a"/><stop offset="0.08" stop-color="#99da57"/><stop offset="0.12" stop-color="#78d26b"/><stop offset="0.17" stop-color="#5cc87c"/><stop offset="0.21" stop-color="#45bc88"/><stop offset="0.25" stop-color="#3ab28f"/><stop offset="0.29" stop-color="#35a795"/><stop offset="0.33" stop-color="#369d98"/><stop offset="0.38" stop-color="#399699"/><stop offset="0.42" stop-color="#3c8d99"/><stop offset="0.46" stop-color="#3f859a"/><stop offset="0.5" stop-color="#437c99"/><stop offset="0.54" stop-color="#467599"/><stop offset="0.58" stop-color="#496f98"/><stop offset="0.62" stop-color="#4c6998"/><stop offset="0.67" stop-color="#4e6397"/><stop offset="0.71" stop-color="#515d95"/><stop offset="0.75" stop-color="#565191"/><stop offset="0.79" stop-color="#584a8d"/><stop offset="0.83" stop-color="#59458b"/><stop offset="0.88" stop-color="#584a8d"/><stop offset="0.92" stop-color="#555291"/><stop offset="0.96" stop-color="#525b94"/><stop offset="1" stop-color="#4f6397"/></linearGradient><linearGradient id="r59" gradientUnits="userSpaceOnUse" x1="638.9" x2="883" y1="0" y2="0"><stop offset="0" stop-color="#b8e043"/><stop offset="0.04" stop-color="#aedf4a"/><stop offset="0.08" stop-color="#9edb54"/><stop offset="0.12" stop-color="#83d565"/><stop offset="0.16" stop-color="#63ca78"/><stop offset="0.2" stop-color="#49be86"/><stop offset="0.24" stop-color="#3bb48e"/><stop offset="0.28" stop-color="#35a994"/><stop offset="0.32" stop-color="#369f97"/><stop offset="0.36" stop-color="#389799"/><stop offset="0.4" stop-color="#3b8f99"/><stop offset="0.44" stop-color="#3e879a"/><stop offset="0.48" stop-color="#427f99"/><stop offset="0.52" stop-color="#457899"/><stop offset="0.56" stop-color="#487299"/><stop offset="0.6" stop-color="#4a6c98"/><stop offset="0.64" stop-color="#4d6697"/><stop offset="0.68" stop-color="#506196"/><stop offset="0.72" stop-color="#535793"/><stop offset="0.76" stop-color="#564f90"/><stop offset="0.8" stop-color="#584a8d"/><stop offset="0.84" stop-color="#58478c"/><stop offset="0.88" stop-color="#564f90"/><stop offset="0.92" stop-color="#535793"/><stop offset="0.96" stop-color="#506196"/><stop offset="1" stop-color="#4c6998"/></linearGradient><linearGradient id="r60" gradientUnits="userSpaceOnUse" x1="636.5" x2="885.5" y1="0" y2="0"><stop offset="0" stop-color="#b8e043"/><stop offset="0.04" stop-color="#aedf4a"/><stop offset="0.08" stop-color="#9edb54"/><stop offset="0.12" stop-color="#87d663"/><stop offset="0.16" stop-color="#67cc76"/><stop offset="0.2" stop-color="#4cc084"/><stop offset="0.24" stop-color="#3bb48e"/><stop offset="0.28" stop-color="#35aa94"/><stop offset="0.32" stop-color="#369f97"/><stop offset="0.36" stop-color="#389799"/><stop offset="0.4" stop-color="#3b8f99"/><stop offset="0.44" stop-color="#3e879a"/><stop offset="0.48" stop-color="#427f99"/><stop offset="0.52" stop-color="#447999"/><stop offset="0.56" stop-color="#487299"/><stop offset="0.6" stop-color="#4b6b98"/><stop offset="0.64" stop-color="#4d6597"/><stop offset="0.68" stop-color="#505f96"/><stop offset="0.72" stop-color="#545693"/><stop offset="0.76" stop-color="#565091"/><stop offset="0.8" stop-color="#584b8e"/><stop offset="0.84" stop-color="#574c8e"/><stop offset="0.88" stop-color="#555492"/><stop offset="0.92" stop-color="#515d95"/><stop offset="0.96" stop-color="#4d6597"/><stop offset="1" stop-color="#4b6b98"/></linearGradient><linearGradient id="r61" gradientUnits="userSpaceOnUse" x1="634" x2="887.9" y1="0" y2="0"><stop offset="0" stop-color="#b8e043"/><stop offset="0.04" stop-color="#aedf4a"/><stop offset="0.08" stop-color="#9edb54"/><stop offset="0.12" stop-color="#8bd760"/><stop offset="0.15" stop-color="#70cf70"/><stop offset="0.19" stop-color="#54c480"/><stop offset="0.23" stop-color="#40b88b"/><stop offset="0.27" stop-color="#36ad92"/><stop offset="0.31" stop-color="#35a296"/><stop offset="0.35" stop-color="#389998"/><stop offset="0.38" stop-color="#3a9399"/><stop offset="0.42" stop-color="#3d8c99"/><stop offset="0.46" stop-color="#40849a"/><stop offset="0.5" stop-color="#437c99"/><stop offset="0.54" stop-color="#467699"/><stop offset="0.58" stop-color="#496f98"/><stop offset="0.62" stop-color="#4c6898"/><stop offset="0.65" stop-color="#4f6397"/><stop offset="0.69" stop-color="#525c95"/><stop offset="0.73" stop-color="#555492"/><stop offset="0.77" stop-color="#564f90"/><stop offset="0.81" stop-color="#574d8f"/><stop offset="0.85" stop-color="#555291"/><stop offset="0.88" stop-color="#525c95"/><stop offset="0.92" stop-color="#4e6397"/><stop offset="0.96" stop-color="#4b6a98"/><stop offset="1" stop-color="#496e98"/></linearGradient><linearGradient id="r62" gradientUnits="userSpaceOnUse" x1="631.5" x2="890.4" y1="0" y2="0"><stop offset="0" stop-color="#b8e043"/><stop offset="0.04" stop-color="#aedf4a"/><stop offset="0.08" stop-color="#9edb54"/><stop offset="0.12" stop-color="#8bd760"/><stop offset="0.15" stop-color="#74d16e"/><stop offset="0.19" stop-color="#57c57f"/><stop offset="0.23" stop-color="#42ba8a"/><stop offset="0.27" stop-color="#37ae92"/><stop offset="0.31" stop-color="#35a396"/><stop offset="0.35" stop-color="#379a98"/><stop offset="0.38" stop-color="#3a9399"/><stop offset="0.42" stop-color="#3c8c99"/><stop offset="0.46" stop-color="#40849a"/><stop offset="0.5" stop-color="#437d99"/><stop offset="0.54" stop-color="#457899"/><stop offset="0.58" stop-color="#497099"/><stop offset="0.62" stop-color="#4c6898"/><stop offset="0.65" stop-color="#4f6296"/><stop offset="0.69" stop-color="#525c95"/><stop offset="0.73" stop-color="#545593"/><stop offset="0.77" stop-color="#565191"/><stop offset="0.81" stop-color="#555291"/><stop offset="0.85" stop-color="#535994"/><stop offset="0.88" stop-color="#4f6397"/><stop offset="0.92" stop-color="#4c6998"/><stop offset="0.96" stop-color="#496f98"/><stop offset="1" stop-color="#467599"/></linearGradient><linearGradient id="r63" gradientUnits="userSpaceOnUse" x1="629.1" x2="892.9" y1="0" y2="0"><stop offset="0" stop-color="#b8e043"/><stop offset="0.04" stop-color="#aedf4a"/><stop offset="0.07" stop-color="#9edb54"/><stop offset="0.11" stop-color="#8bd760"/><stop offset="0.15" stop-color="#7ad26a"/><stop offset="0.19" stop-color="#5fc97a"/><stop offset="0.22" stop-color="#48be87"/><stop offset="0.26" stop-color="#3ab28f"/><stop offset="0.3" stop-color="#35a795"/><stop offset="0.33" stop-color="#379c98"/><stop offset="0.37" stop-color="#399699"/><stop offset="0.41" stop-color="#3b9099"/><stop offset="0.44" stop-color="#3e899a"/><stop offset="0.48" stop-color="#41819a"/><stop offset="0.52" stop-color="#437c99"/><stop offset="0.56" stop-color="#467699"/><stop offset="0.59" stop-color="#4a6d98"/><stop offset="0.63" stop-color="#4d6597"/><stop offset="0.67" stop-color="#506096"/><stop offset="0.7" stop-color="#535994"/><stop offset="0.74" stop-color="#545693"/><stop offset="0.78" stop-color="#535793"/><stop offset="0.81" stop-color="#525c95"/><stop offset="0.85" stop-color="#4e6397"/><stop offset="0.89" stop-color="#4b6b98"/><stop offset="0.93" stop-color="#497099"/><stop offset="0.96" stop-color="#467499"/><stop offset="1" stop-color="#437b99"/></linearGradient><linearGradient id="r64" gradientUnits="userSpaceOnUse" x1="626.6" x2="895.3" y1="0" y2="0"><stop offset="0" stop-color="#b8e043"/><stop offset="0.04" stop-color="#aedf4a"/><stop offset="0.07" stop-color="#9edb54"/><stop offset="0.11" stop-color="#8bd760"/><stop offset="0.15" stop-color="#7ad26a"/><stop offset="0.19" stop-color="#63ca78"/><stop offset="0.22" stop-color="#4bbf85"/><stop offset="0.26" stop-color="#3ab38f"/><stop offset="0.3" stop-color="#35a894"/><stop offset="0.33" stop-color="#369d98"/><stop offset="0.37" stop-color="#399699"/><stop offset="0.41" stop-color="#3b9099"/><stop offset="0.44" stop-color="#3e899a"/><stop offset="0.48" stop-color="#41819a"/><stop offset="0.52" stop-color="#437d99"/><stop offset="0.56" stop-color="#457899"/><stop offset="0.59" stop-color="#496e98"/><stop offset="0.63" stop-color="#4d6597"/><stop offset="0.67" stop-color="#506096"/><stop offset="0.7" stop-color="#515d95"/><stop offset="0.74" stop-color="#515d95"/><stop offset="0.78" stop-color="#506096"/><stop offset="0.81" stop-color="#4e6397"/><stop offset="0.85" stop-color="#4b6b98"/><stop offset="0.89" stop-color="#477299"/><stop offset="0.93" stop-color="#467699"/><stop offset="0.96" stop-color="#447a99"/><stop offset="1" stop-color="#437d99"/></linearGradient><linearGradient id="r65" gradientUnits="userSpaceOnUse" x1="624.1" x2="897.8" y1="0" y2="0"><stop offset="0" stop-color="#b8e043"/><stop offset="0.04" stop-color="#b0df48"/><stop offset="0.07" stop-color="#9edb54"/><stop offset="0.11" stop-color="#8bd760"/><stop offset="0.14" stop-color="#7cd369"/><stop offset="0.18" stop-color="#6acd74"/><stop offset="0.21" stop-color="#52c381"/><stop offset="0.25" stop-color="#3fb78c"/><stop offset="0.29" stop-color="#36ac92"/><stop offset="0.32" stop-color="#35a197"/><stop offset="0.36" stop-color="#389799"/><stop offset="0.39" stop-color="#3a9299"/><stop offset="0.43" stop-color="#3c8c99"/><stop offset="0.46" stop-color="#3f869a"/><stop offset="0.5" stop-color="#41809a"/><stop offset="0.54" stop-color="#437c99"/><stop offset="0.57" stop-color="#467699"/><stop offset="0.61" stop-color="#4a6c98"/><stop offset="0.64" stop-color="#4e6497"/><stop offset="0.68" stop-color="#4f6296"/><stop offset="0.71" stop-color="#4f6397"/><stop offset="0.75" stop-color="#4d6597"/><stop offset="0.79" stop-color="#4c6898"/><stop offset="0.82" stop-color="#4a6c98"/><stop offset="0.86" stop-color="#477399"/><stop offset="0.89" stop-color="#447a99"/><stop offset="0.93" stop-color="#437c99"/><stop offset="0.96" stop-color="#427f99"/><stop offset="1" stop-color="#41809a"/></linearGradient><linearGradient id="r66" gradientUnits="userSpaceOnUse" x1="621.7" x2="900.3" y1="0" y2="0"><stop offset="0" stop-color="#b8e043"/><stop offset="0.04" stop-color="#b0df48"/><stop offset="0.07" stop-color="#9edb54"/><stop offset="0.11" stop-color="#8bd760"/><stop offset="0.14" stop-color="#7ad26a"/><stop offset="0.18" stop-color="#6acd74"/><stop offset="0.21" stop-color="#55c580"/><stop offset="0.25" stop-color="#41b98b"/><stop offset="0.29" stop-color="#36ad92"/><stop offset="0.32" stop-color="#35a296"/><stop offset="0.36" stop-color="#389898"/><stop offset="0.39" stop-color="#3a9299"/><stop offset="0.43" stop-color="#3c8c99"/><stop offset="0.46" stop-color="#3f869a"/><stop offset="0.5" stop-color="#41809a"/><stop offset="0.54" stop-color="#437d99"/><stop offset="0.57" stop-color="#457899"/><stop offset="0.61" stop-color="#496e98"/><stop offset="0.64" stop-color="#4c6797"/><stop offset="0.68" stop-color="#4c6797"/><stop offset="0.71" stop-color="#4b6a98"/><stop offset="0.75" stop-color="#4a6d98"/><stop offset="0.79" stop-color="#497099"/><stop offset="0.82" stop-color="#467499"/><stop offset="0.86" stop-color="#437b99"/><stop offset="0.89" stop-color="#41809a"/><stop offset="0.93" stop-color="#40829a"/><stop offset="0.96" stop-color="#3f859a"/><stop offset="1" stop-color="#3d8c99"/></linearGradient><linearGradient id="r67" gradientUnits="userSpaceOnUse" x1="619.2" x2="902.7" y1="0" y2="0"><stop offset="0" stop-color="#b8e043"/><stop offset="0.03" stop-color="#b0df48"/><stop offset="0.07" stop-color="#a0dc53"/><stop offset="0.1" stop-color="#8ed85e"/><stop offset="0.14" stop-color="#7cd369"/><stop offset="0.17" stop-color="#6cce73"/><stop offset="0.21" stop-color="#5cc87c"/><stop offset="0.24" stop-color="#47bd87"/><stop offset="0.28" stop-color="#39b190"/><stop offset="0.31" stop-color="#35a795"/><stop offset="0.34" stop-color="#379c98"/><stop offset="0.38" stop-color="#399499"/><stop offset="0.41" stop-color="#3b8f99"/><stop offset="0.45" stop-color="#3e899a"/><stop offset="0.48" stop-color="#40839a"/><stop offset="0.52" stop-color="#427f99"/><stop offset="0.55" stop-color="#437c99"/><stop offset="0.59" stop-color="#467699"/><stop offset="0.62" stop-color="#496f98"/><stop offset="0.66" stop-color="#4a6d98"/><stop offset="0.69" stop-color="#496f98"/><stop offset="0.72" stop-color="#477299"/><stop offset="0.76" stop-color="#467599"/><stop offset="0.79" stop-color="#457899"/><stop offset="0.83" stop-color="#437c99"/><stop offset="0.86" stop-color="#40839a"/><stop offset="0.9" stop-color="#3f869a"/><stop offset="0.93" stop-color="#3e889a"/><stop offset="0.97" stop-color="#3c8c99"/><stop offset="1" stop-color="#389799"/></linearGradient><linearGradient id="r68" gradientUnits="userSpaceOnUse" x1="616.7" x2="905.2" y1="0" y2="0"><stop offset="0" stop-color="#b8e043"/><stop offset="0.03" stop-color="#b3df47"/><stop offset="0.07" stop-color="#a0dc53"/><stop offset="0.1" stop-color="#8ed85e"/><stop offset="0.14" stop-color="#7cd369"/><stop offset="0.17" stop-color="#6cce73"/><stop offset="0.21" stop-color="#5cc87c"/><stop offset="0.24" stop-color="#49be86"/><stop offset="0.28" stop-color="#3ab38f"/><stop offset="0.31" stop-color="#35a795"/><stop offset="0.34" stop-color="#379c98"/><stop offset="0.38" stop-color="#399499"/><stop offset="0.41" stop-color="#3b8f99"/><stop offset="0.45" stop-color="#3e899a"/><stop offset="0.48" stop-color="#40849a"/><stop offset="0.52" stop-color="#41809a"/><stop offset="0.55" stop-color="#437d99"/><stop offset="0.59" stop-color="#447999"/><stop offset="0.62" stop-color="#467599"/><stop offset="0.66" stop-color="#467499"/><stop offset="0.69" stop-color="#467699"/><stop offset="0.72" stop-color="#447a99"/><stop offset="0.76" stop-color="#437c99"/><stop offset="0.79" stop-color="#427f99"/><stop offset="0.83" stop-color="#40839a"/><stop offset="0.86" stop-color="#3e899a"/><stop offset="0.9" stop-color="#3d8c99"/><stop offset="0.93" stop-color="#3b8f99"/><stop offset="0.97" stop-color="#399599"/><stop offset="1" stop-color="#379b98"/></linearGradient><linearGradient id="r69" gradientUnits="userSpaceOnUse" x1="614.2" x2="907.7" y1="0" y2="0"><stop offset="0" stop-color="#b8e043"/><stop offset="0.03" stop-color="#b5e045"/><stop offset="0.07" stop-color="#a5dd50"/><stop offset="0.1" stop-color="#90d85d"/><stop offset="0.13" stop-color="#7fd468"/><stop offset="0.17" stop-color="#6ecf71"/><stop offset="0.2" stop-color="#5fc97a"/><stop offset="0.23" stop-color="#4fc283"/><stop offset="0.27" stop-color="#3fb78c"/><stop offset="0.3" stop-color="#36ac93"/><stop offset="0.33" stop-color="#35a197"/><stop offset="0.37" stop-color="#389799"/><stop offset="0.4" stop-color="#3a9199"/><stop offset="0.43" stop-color="#3c8c99"/><stop offset="0.47" stop-color="#3e879a"/><stop offset="0.5" stop-color="#40839a"/><stop offset="0.53" stop-color="#41809a"/><stop offset="0.57" stop-color="#427e99"/><stop offset="0.6" stop-color="#437c99"/><stop offset="0.63" stop-color="#437c99"/><stop offset="0.67" stop-color="#437c99"/><stop offset="0.7" stop-color="#427f99"/><stop offset="0.73" stop-color="#41819a"/><stop offset="0.77" stop-color="#40849a"/><stop offset="0.8" stop-color="#3f869a"/><stop offset="0.83" stop-color="#3d8c99"/><stop offset="0.87" stop-color="#3b9099"/><stop offset="0.9" stop-color="#3a9299"/><stop offset="0.93" stop-color="#389799"/><stop offset="0.97" stop-color="#379c98"/><stop offset="1" stop-color="#369d98"/></linearGradient><linearGradient id="r70" gradientUnits="userSpaceOnUse" x1="611.8" x2="910.1" y1="0" y2="0"><stop offset="0" stop-color="#bfe13f"/><stop offset="0.03" stop-color="#b8e043"/><stop offset="0.07" stop-color="#a5dd50"/><stop offset="0.1" stop-color="#92d95c"/><stop offset="0.13" stop-color="#81d466"/><stop offset="0.17" stop-color="#6ecf71"/><stop offset="0.2" stop-color="#5fc97a"/><stop offset="0.23" stop-color="#50c282"/><stop offset="0.27" stop-color="#40b88b"/><stop offset="0.3" stop-color="#36ac92"/><stop offset="0.33" stop-color="#35a296"/><stop offset="0.37" stop-color="#389998"/><stop offset="0.4" stop-color="#3a9399"/><stop offset="0.43" stop-color="#3c8e99"/><stop offset="0.47" stop-color="#3e899a"/><stop offset="0.5" stop-color="#3f869a"/><stop offset="0.53" stop-color="#40839a"/><stop offset="0.57" stop-color="#41809a"/><stop offset="0.6" stop-color="#41819a"/><stop offset="0.63" stop-color="#40839a"/><stop offset="0.67" stop-color="#40849a"/><stop offset="0.7" stop-color="#3f869a"/><stop offset="0.73" stop-color="#3e889a"/><stop offset="0.77" stop-color="#3d8b9a"/><stop offset="0.8" stop-color="#3c8d99"/><stop offset="0.83" stop-color="#3a9299"/><stop offset="0.87" stop-color="#399699"/><stop offset="0.9" stop-color="#389998"/><stop offset="0.93" stop-color="#369e97"/><stop offset="0.97" stop-color="#35a296"/><stop offset="1" stop-color="#35a695"/></linearGradient><linearGradient id="r71" gradientUnits="userSpaceOnUse" x1="609.3" x2="912.6" y1="0" y2="0"><stop offset="0" stop-color="#cbe338"/><stop offset="0.03" stop-color="#bae142"/><stop offset="0.06" stop-color="#a7dd4e"/><stop offset="0.1" stop-color="#94d95a"/><stop offset="0.13" stop-color="#83d565"/><stop offset="0.16" stop-color="#72d06f"/><stop offset="0.19" stop-color="#63ca78"/><stop offset="0.23" stop-color="#54c480"/><stop offset="0.26" stop-color="#45bc88"/><stop offset="0.29" stop-color="#38b190"/><stop offset="0.32" stop-color="#35a695"/><stop offset="0.35" stop-color="#379c98"/><stop offset="0.39" stop-color="#389799"/><stop offset="0.42" stop-color="#3a9199"/><stop offset="0.45" stop-color="#3c8c99"/><stop offset="0.48" stop-color="#3d8a9a"/><stop offset="0.52" stop-color="#3e889a"/><stop offset="0.55" stop-color="#3f869a"/><stop offset="0.58" stop-color="#40849a"/><stop offset="0.61" stop-color="#3e879a"/><stop offset="0.65" stop-color="#3d8b9a"/><stop offset="0.68" stop-color="#3d8c99"/><stop offset="0.71" stop-color="#3c8d99"/><stop offset="0.74" stop-color="#3b9099"/><stop offset="0.77" stop-color="#3a9299"/><stop offset="0.81" stop-color="#399599"/><stop offset="0.84" stop-color="#389998"/><stop offset="0.87" stop-color="#379c98"/><stop offset="0.9" stop-color="#35a296"/><stop offset="0.94" stop-color="#35a795"/><stop offset="0.97" stop-color="#35aa94"/><stop offset="1" stop-color="#3ab38f"/></linearGradient><linearGradient id="r72" gradientUnits="userSpaceOnUse" x1="606.8" x2="915.1" y1="0" y2="0"><stop offset="0" stop-color="#d2e434"/><stop offset="0.03" stop-color="#bfe13f"/><stop offset="0.06" stop-color="#a9de4d"/><stop offset="0.1" stop-color="#97da59"/><stop offset="0.13" stop-color="#83d565"/><stop offset="0.16" stop-color="#72d06f"/><stop offset="0.19" stop-color="#63ca78"/><stop offset="0.23" stop-color="#54c480"/><stop offset="0.26" stop-color="#45bc88"/><stop offset="0.29" stop-color="#39b190"/><stop offset="0.32" stop-color="#35a795"/><stop offset="0.35" stop-color="#369e97"/><stop offset="0.39" stop-color="#389898"/><stop offset="0.42" stop-color="#3a9399"/><stop offset="0.45" stop-color="#3c8e99"/><stop offset="0.48" stop-color="#3c8d99"/><stop offset="0.52" stop-color="#3c8c99"/><stop offset="0.55" stop-color="#3e899a"/><stop offset="0.58" stop-color="#3e889a"/><stop offset="0.61" stop-color="#3c8c99"/><stop offset="0.65" stop-color="#3b9099"/><stop offset="0.68" stop-color="#3a9299"/><stop offset="0.71" stop-color="#399499"/><stop offset="0.74" stop-color="#389799"/><stop offset="0.77" stop-color="#389998"/><stop offset="0.81" stop-color="#379c98"/><stop offset="0.84" stop-color="#36a097"/><stop offset="0.87" stop-color="#35a496"/><stop offset="0.9" stop-color="#35aa94"/><stop offset="0.94" stop-color="#37af91"/><stop offset="0.97" stop-color="#3ab38f"/><stop offset="1" stop-color="#43ba8a"/></linearGradient><linearGradient id="r73" gradientUnits="userSpaceOnUse" x1="604.4" x2="917.5" y1="0" y2="0"><stop offset="0" stop-color="#d4e433"/><stop offset="0.03" stop-color="#c4e23c"/><stop offset="0.06" stop-color="#aedf4a"/><stop offset="0.09" stop-color="#99da57"/><stop offset="0.12" stop-color="#87d663"/><stop offset="0.16" stop-color="#74d16e"/><stop offset="0.19" stop-color="#65cb77"/><stop offset="0.22" stop-color="#57c57f"/><stop offset="0.25" stop-color="#49be86"/><stop offset="0.28" stop-color="#3db68d"/><stop offset="0.31" stop-color="#36ab93"/><stop offset="0.34" stop-color="#35a296"/><stop offset="0.38" stop-color="#379c98"/><stop offset="0.41" stop-color="#389799"/><stop offset="0.44" stop-color="#3a9299"/><stop offset="0.47" stop-color="#3b9099"/><stop offset="0.5" stop-color="#3b9199"/><stop offset="0.53" stop-color="#3c8e99"/><stop offset="0.56" stop-color="#3d8c99"/><stop offset="0.59" stop-color="#3c8e99"/><stop offset="0.62" stop-color="#3a9299"/><stop offset="0.66" stop-color="#399699"/><stop offset="0.69" stop-color="#389998"/><stop offset="0.72" stop-color="#379c98"/><stop offset="0.75" stop-color="#369e97"/><stop offset="0.78" stop-color="#35a197"/><stop offset="0.81" stop-color="#35a396"/><stop offset="0.84" stop-color="#35a894"/><stop offset="0.88" stop-color="#36ad92"/><stop offset="0.91" stop-color="#3ab38f"/><stop offset="0.94" stop-color="#3fb78c"/><stop offset="0.97" stop-color="#43ba8a"/><stop offset="1" stop-color="#49be86"/></linearGradient><linearGradient id="r74" gradientUnits="userSpaceOnUse" x1="601.9" x2="920" y1="0" y2="0"><stop offset="0" stop-color="#d4e433"/><stop offset="0.03" stop-color="#c6e23a"/><stop offset="0.06" stop-color="#aedf4a"/><stop offset="0.09" stop-color="#99da57"/><stop offset="0.12" stop-color="#87d663"/><stop offset="0.16" stop-color="#76d16d"/><stop offset="0.19" stop-color="#65cb77"/><stop offset="0.22" stop-color="#57c57f"/><stop offset="0.25" stop-color="#49be86"/><stop offset="0.28" stop-color="#3db68d"/><stop offset="0.31" stop-color="#36ac93"/><stop offset="0.34" stop-color="#35a496"/><stop offset="0.38" stop-color="#369e97"/><stop offset="0.41" stop-color="#389998"/><stop offset="0.44" stop-color="#399499"/><stop offset="0.47" stop-color="#3a9399"/><stop offset="0.5" stop-color="#399599"/><stop offset="0.53" stop-color="#3a9299"/><stop offset="0.56" stop-color="#3b9099"/><stop offset="0.59" stop-color="#3a9299"/><stop offset="0.62" stop-color="#389799"/><stop offset="0.66" stop-color="#379b98"/><stop offset="0.69" stop-color="#369f97"/><stop offset="0.72" stop-color="#35a296"/><stop offset="0.75" stop-color="#35a595"/><stop offset="0.78" stop-color="#35a795"/><stop offset="0.81" stop-color="#36ab93"/><stop offset="0.84" stop-color="#38b190"/><stop offset="0.88" stop-color="#3eb68d"/><stop offset="0.91" stop-color="#44bb89"/><stop offset="0.94" stop-color="#49be86"/><stop offset="0.97" stop-color="#4dc184"/><stop offset="1" stop-color="#58c67e"/></linearGradient><linearGradient id="r75" gradientUnits="userSpaceOnUse" x1="599.4" x2="922.5" y1="0" y2="0"><stop offset="0" stop-color="#d4e433"/><stop offset="0.03" stop-color="#c8e339"/><stop offset="0.06" stop-color="#b3df47"/><stop offset="0.09" stop-color="#9edb54"/><stop offset="0.12" stop-color="#89d761"/><stop offset="0.15" stop-color="#78d26b"/><stop offset="0.18" stop-color="#68cd75"/><stop offset="0.21" stop-color="#5ac77d"/><stop offset="0.24" stop-color="#4dc184"/><stop offset="0.27" stop-color="#40b88b"/><stop offset="0.3" stop-color="#38b091"/><stop offset="0.33" stop-color="#35a795"/><stop offset="0.36" stop-color="#35a296"/><stop offset="0.39" stop-color="#379c98"/><stop offset="0.42" stop-color="#389799"/><stop offset="0.45" stop-color="#399699"/><stop offset="0.48" stop-color="#389898"/><stop offset="0.52" stop-color="#389898"/><stop offset="0.55" stop-color="#399599"/><stop offset="0.58" stop-color="#399699"/><stop offset="0.61" stop-color="#379a98"/><stop offset="0.64" stop-color="#369e97"/><stop offset="0.67" stop-color="#35a296"/><stop offset="0.7" stop-color="#35a795"/><stop offset="0.73" stop-color="#35aa94"/><stop offset="0.76" stop-color="#36ac92"/><stop offset="0.79" stop-color="#37af91"/><stop offset="0.82" stop-color="#3bb48e"/><stop offset="0.85" stop-color="#42ba8a"/><stop offset="0.88" stop-color="#4bbf85"/><stop offset="0.91" stop-color="#52c381"/><stop offset="0.94" stop-color="#57c57f"/><stop offset="0.97" stop-color="#5cc87c"/><stop offset="1" stop-color="#67cc76"/></linearGradient><linearGradient id="r76" gradientUnits="userSpaceOnUse" x1="597" x2="924.9" y1="0" y2="0"><stop offset="0" stop-color="#d4e433"/><stop offset="0.03" stop-color="#cbe338"/><stop offset="0.06" stop-color="#b5e045"/><stop offset="0.09" stop-color="#a0dc53"/><stop offset="0.12" stop-color="#8bd760"/><stop offset="0.15" stop-color="#78d26b"/><stop offset="0.18" stop-color="#68cd75"/><stop offset="0.21" stop-color="#5ac77d"/><stop offset="0.24" stop-color="#4dc184"/><stop offset="0.27" stop-color="#40b88b"/><stop offset="0.3" stop-color="#38b091"/><stop offset="0.33" stop-color="#35aa94"/><stop offset="0.36" stop-color="#35a595"/><stop offset="0.39" stop-color="#36a097"/><stop offset="0.42" stop-color="#379b98"/><stop offset="0.45" stop-color="#379a98"/><stop offset="0.48" stop-color="#379c98"/><stop offset="0.52" stop-color="#369d98"/><stop offset="0.55" stop-color="#379b98"/><stop offset="0.58" stop-color="#369d98"/><stop offset="0.61" stop-color="#35a296"/><stop offset="0.64" stop-color="#35a695"/><stop offset="0.67" stop-color="#35aa94"/><stop offset="0.7" stop-color="#37ae92"/><stop offset="0.73" stop-color="#39b190"/><stop offset="0.76" stop-color="#3bb48e"/><stop offset="0.79" stop-color="#3fb78c"/><stop offset="0.82" stop-color="#45bc88"/><stop offset="0.85" stop-color="#4fc283"/><stop offset="0.88" stop-color="#5ac77d"/><stop offset="0.91" stop-color="#61ca79"/><stop offset="0.94" stop-color="#65cb77"/><stop offset="0.97" stop-color="#6acd74"/><stop offset="1" stop-color="#6ecf71"/></linearGradient><linearGradient id="r77" gradientUnits="userSpaceOnUse" x1="594.5" x2="927.4" y1="0" y2="0"><stop offset="0" stop-color="#d7e532"/><stop offset="0.03" stop-color="#cde336"/><stop offset="0.06" stop-color="#b8e043"/><stop offset="0.09" stop-color="#a2dc51"/><stop offset="0.12" stop-color="#8ed85e"/><stop offset="0.15" stop-color="#7cd369"/><stop offset="0.18" stop-color="#6cce73"/><stop offset="0.21" stop-color="#5ec87b"/><stop offset="0.24" stop-color="#50c282"/><stop offset="0.26" stop-color="#43ba8a"/><stop offset="0.29" stop-color="#3ab28f"/><stop offset="0.32" stop-color="#36ad92"/><stop offset="0.35" stop-color="#35aa94"/><stop offset="0.38" stop-color="#35a595"/><stop offset="0.41" stop-color="#36a097"/><stop offset="0.44" stop-color="#369e97"/><stop offset="0.47" stop-color="#35a197"/><stop offset="0.5" stop-color="#35a396"/><stop offset="0.53" stop-color="#35a296"/><stop offset="0.56" stop-color="#35a296"/><stop offset="0.59" stop-color="#35a795"/><stop offset="0.62" stop-color="#36ab93"/><stop offset="0.65" stop-color="#37af91"/><stop offset="0.68" stop-color="#3ab38f"/><stop offset="0.71" stop-color="#3eb68d"/><stop offset="0.74" stop-color="#41b98b"/><stop offset="0.76" stop-color="#45bc88"/><stop offset="0.79" stop-color="#4bbf85"/><stop offset="0.82" stop-color="#55c580"/><stop offset="0.85" stop-color="#63ca78"/><stop offset="0.88" stop-color="#6cce73"/><stop offset="0.91" stop-color="#70cf70"/><stop offset="0.94" stop-color="#74d16e"/><stop offset="0.97" stop-color="#78d26b"/><stop offset="1" stop-color="#7ad26a"/></linearGradient><linearGradient id="r78" gradientUnits="userSpaceOnUse" x1="592" x2="929.9" y1="0" y2="0"><stop offset="0" stop-color="#d7e532"/><stop offset="0.03" stop-color="#d0e435"/><stop offset="0.06" stop-color="#bae142"/><stop offset="0.09" stop-color="#a5dd50"/><stop offset="0.12" stop-color="#90d85d"/><stop offset="0.15" stop-color="#7cd369"/><stop offset="0.18" stop-color="#6cce73"/><stop offset="0.21" stop-color="#5ec87b"/><stop offset="0.24" stop-color="#50c282"/><stop offset="0.26" stop-color="#43ba8a"/><stop offset="0.29" stop-color="#3ab38f"/><stop offset="0.32" stop-color="#37af91"/><stop offset="0.35" stop-color="#36ad92"/><stop offset="0.38" stop-color="#35a994"/><stop offset="0.41" stop-color="#35a496"/><stop offset="0.44" stop-color="#35a396"/><stop offset="0.47" stop-color="#35a795"/><stop offset="0.5" stop-color="#35a994"/><stop offset="0.53" stop-color="#35a894"/><stop offset="0.56" stop-color="#36ab93"/><stop offset="0.59" stop-color="#37ae92"/><stop offset="0.62" stop-color="#3ab28f"/><stop offset="0.65" stop-color="#3eb68d"/><stop offset="0.68" stop-color="#43ba8a"/><stop offset="0.71" stop-color="#48be87"/><stop offset="0.74" stop-color="#4cc084"/><stop offset="0.76" stop-color="#50c282"/><stop offset="0.79" stop-color="#5ac77d"/><stop offset="0.82" stop-color="#68cd75"/><stop offset="0.85" stop-color="#74d16e"/><stop offset="0.88" stop-color="#7cd369"/><stop offset="0.91" stop-color="#81d466"/><stop offset="0.94" stop-color="#83d565"/><stop offset="0.97" stop-color="#87d663"/><stop offset="1" stop-color="#92d95c"/></linearGradient><linearGradient id="r79" gradientUnits="userSpaceOnUse" x1="589.6" x2="932.3" y1="0" y2="0"><stop offset="0" stop-color="#dce530"/><stop offset="0.03" stop-color="#d4e433"/><stop offset="0.06" stop-color="#bfe13f"/><stop offset="0.09" stop-color="#a7dd4e"/><stop offset="0.11" stop-color="#92d95c"/><stop offset="0.14" stop-color="#81d466"/><stop offset="0.17" stop-color="#6ecf71"/><stop offset="0.2" stop-color="#5fc97a"/><stop offset="0.23" stop-color="#54c480"/><stop offset="0.26" stop-color="#47bd87"/><stop offset="0.29" stop-color="#3cb58e"/><stop offset="0.31" stop-color="#38b091"/><stop offset="0.34" stop-color="#38b091"/><stop offset="0.37" stop-color="#37af91"/><stop offset="0.4" stop-color="#35aa94"/><stop offset="0.43" stop-color="#35a795"/><stop offset="0.46" stop-color="#36ab93"/><stop offset="0.49" stop-color="#37af91"/><stop offset="0.51" stop-color="#37af91"/><stop offset="0.54" stop-color="#38b091"/><stop offset="0.57" stop-color="#3bb48e"/><stop offset="0.6" stop-color="#40b88b"/><stop offset="0.63" stop-color="#45bc88"/><stop offset="0.66" stop-color="#4bbf85"/><stop offset="0.69" stop-color="#50c282"/><stop offset="0.71" stop-color="#57c57f"/><stop offset="0.74" stop-color="#5cc87c"/><stop offset="0.77" stop-color="#63ca78"/><stop offset="0.8" stop-color="#6ecf71"/><stop offset="0.83" stop-color="#7fd468"/><stop offset="0.86" stop-color="#87d663"/><stop offset="0.89" stop-color="#8bd760"/><stop offset="0.91" stop-color="#90d85d"/><stop offset="0.94" stop-color="#92d95c"/><stop offset="0.97" stop-color="#97da59"/><stop offset="1" stop-color="#acde4b"/></linearGradient><linearGradient id="r80" gradientUnits="userSpaceOnUse" x1="587.1" x2="934.8" y1="0" y2="0"><stop offset="0" stop-color="#e5e62f"/><stop offset="0.03" stop-color="#d9e531"/><stop offset="0.06" stop-color="#c6e23a"/><stop offset="0.09" stop-color="#acde4b"/><stop offset="0.11" stop-color="#94d95a"/><stop offset="0.14" stop-color="#81d466"/><stop offset="0.17" stop-color="#6ecf71"/><stop offset="0.2" stop-color="#5fc97a"/><stop offset="0.23" stop-color="#52c381"/><stop offset="0.26" stop-color="#47bd87"/><stop offset="0.29" stop-color="#3db68d"/><stop offset="0.31" stop-color="#38b190"/><stop offset="0.34" stop-color="#38b190"/><stop offset="0.37" stop-color="#39b190"/><stop offset="0.4" stop-color="#37ae92"/><stop offset="0.43" stop-color="#36ac93"/><stop offset="0.46" stop-color="#38b190"/><stop offset="0.49" stop-color="#3cb58e"/><stop offset="0.51" stop-color="#3db68d"/><stop offset="0.54" stop-color="#40b88b"/><stop offset="0.57" stop-color="#45bc88"/><stop offset="0.6" stop-color="#4bbf85"/><stop offset="0.63" stop-color="#52c381"/><stop offset="0.66" stop-color="#5ac77d"/><stop offset="0.69" stop-color="#5fc97a"/><stop offset="0.71" stop-color="#65cb77"/><stop offset="0.74" stop-color="#6cce73"/><stop offset="0.77" stop-color="#74d16e"/><stop offset="0.8" stop-color="#83d565"/><stop offset="0.83" stop-color="#90d85d"/><stop offset="0.86" stop-color="#97da59"/><stop offset="0.89" stop-color="#9bdb56"/><stop offset="0.91" stop-color="#a0dc53"/><stop offset="0.94" stop-color="#a2dc51"/><stop offset="0.97" stop-color="#a9de4d"/><stop offset="1" stop-color="#bae142"/></linearGradient><linearGradient id="r81" gradientUnits="userSpaceOnUse" x1="584.6" x2="937.3" y1="0" y2="0"><stop offset="0" stop-color="#ece731"/><stop offset="0.03" stop-color="#dee530"/><stop offset="0.06" stop-color="#cde336"/><stop offset="0.08" stop-color="#b5e045"/><stop offset="0.11" stop-color="#9bdb56"/><stop offset="0.14" stop-color="#85d564"/><stop offset="0.17" stop-color="#72d06f"/><stop offset="0.19" stop-color="#63ca78"/><stop offset="0.22" stop-color="#55c580"/><stop offset="0.25" stop-color="#49be86"/><stop offset="0.28" stop-color="#40b88b"/><stop offset="0.31" stop-color="#3ab38f"/><stop offset="0.33" stop-color="#38b190"/><stop offset="0.36" stop-color="#3ab28f"/><stop offset="0.39" stop-color="#3ab38f"/><stop offset="0.42" stop-color="#38b190"/><stop offset="0.44" stop-color="#3ab38f"/><stop offset="0.47" stop-color="#41b98b"/><stop offset="0.5" stop-color="#44bb89"/><stop offset="0.53" stop-color="#47bd87"/><stop offset="0.56" stop-color="#4dc184"/><stop offset="0.58" stop-color="#55c580"/><stop offset="0.61" stop-color="#5ec87b"/><stop offset="0.64" stop-color="#65cb77"/><stop offset="0.67" stop-color="#6cce73"/><stop offset="0.69" stop-color="#72d06f"/><stop offset="0.72" stop-color="#78d26b"/><stop offset="0.75" stop-color="#7fd468"/><stop offset="0.78" stop-color="#8bd760"/><stop offset="0.81" stop-color="#99da57"/><stop offset="0.83" stop-color="#a0dc53"/><stop offset="0.86" stop-color="#a7dd4e"/><stop offset="0.89" stop-color="#acde4b"/><stop offset="0.92" stop-color="#b0df48"/><stop offset="0.94" stop-color="#b3df47"/><stop offset="0.97" stop-color="#bae142"/><stop offset="1" stop-color="#cbe338"/></linearGradient><linearGradient id="r82" gradientUnits="userSpaceOnUse" x1="582.1" x2="939.8" y1="0" y2="0"><stop offset="0" stop-color="#eee731"/><stop offset="0.03" stop-color="#e3e62f"/><stop offset="0.06" stop-color="#d0e435"/><stop offset="0.08" stop-color="#bce140"/><stop offset="0.11" stop-color="#a2dc51"/><stop offset="0.14" stop-color="#85d564"/><stop offset="0.17" stop-color="#72d06f"/><stop offset="0.19" stop-color="#65cb77"/><stop offset="0.22" stop-color="#55c580"/><stop offset="0.25" stop-color="#49be86"/><stop offset="0.28" stop-color="#41b98b"/><stop offset="0.31" stop-color="#3bb48e"/><stop offset="0.33" stop-color="#38b190"/><stop offset="0.36" stop-color="#3ab28f"/><stop offset="0.39" stop-color="#3db68d"/><stop offset="0.42" stop-color="#3cb58e"/><stop offset="0.44" stop-color="#40b88b"/><stop offset="0.47" stop-color="#48be87"/><stop offset="0.5" stop-color="#4fc283"/><stop offset="0.53" stop-color="#54c480"/><stop offset="0.56" stop-color="#5cc87c"/><stop offset="0.58" stop-color="#67cc76"/><stop offset="0.61" stop-color="#6ecf71"/><stop offset="0.64" stop-color="#74d16e"/><stop offset="0.67" stop-color="#7ad26a"/><stop offset="0.69" stop-color="#83d565"/><stop offset="0.72" stop-color="#8bd760"/><stop offset="0.75" stop-color="#92d95c"/><stop offset="0.78" stop-color="#9edb54"/><stop offset="0.81" stop-color="#a5dd50"/><stop offset="0.83" stop-color="#aedf4a"/><stop offset="0.86" stop-color="#b8e043"/><stop offset="0.89" stop-color="#bce140"/><stop offset="0.92" stop-color="#bfe13f"/><stop offset="0.94" stop-color="#c4e23c"/><stop offset="0.97" stop-color="#cde336"/><stop offset="1" stop-color="#e3e62f"/></linearGradient><linearGradient id="r83" gradientUnits="userSpaceOnUse" x1="579.7" x2="942.2" y1="0" y2="0"><stop offset="0" stop-color="#eee731"/><stop offset="0.03" stop-color="#e9e730"/><stop offset="0.05" stop-color="#d4e433"/><stop offset="0.08" stop-color="#c4e23c"/><stop offset="0.11" stop-color="#b0df48"/><stop offset="0.14" stop-color="#89d761"/><stop offset="0.16" stop-color="#76d16d"/><stop offset="0.19" stop-color="#6acd74"/><stop offset="0.22" stop-color="#57c57f"/><stop offset="0.24" stop-color="#4bbf85"/><stop offset="0.27" stop-color="#44bb89"/><stop offset="0.3" stop-color="#3eb68d"/><stop offset="0.32" stop-color="#39b190"/><stop offset="0.35" stop-color="#39b190"/><stop offset="0.38" stop-color="#3cb58e"/><stop offset="0.41" stop-color="#3fb78c"/><stop offset="0.43" stop-color="#41b98b"/><stop offset="0.46" stop-color="#4bbf85"/><stop offset="0.49" stop-color="#55c580"/><stop offset="0.51" stop-color="#5ac77d"/><stop offset="0.54" stop-color="#61ca79"/><stop offset="0.57" stop-color="#72d06f"/><stop offset="0.59" stop-color="#7ad26a"/><stop offset="0.62" stop-color="#7fd468"/><stop offset="0.65" stop-color="#7ad26a"/><stop offset="0.68" stop-color="#81d466"/><stop offset="0.7" stop-color="#97da59"/><stop offset="0.73" stop-color="#9edb54"/><stop offset="0.76" stop-color="#a2dc51"/><stop offset="0.78" stop-color="#a9de4d"/><stop offset="0.81" stop-color="#a7dd4e"/><stop offset="0.84" stop-color="#bae142"/><stop offset="0.86" stop-color="#c4e23c"/><stop offset="0.89" stop-color="#c8e339"/><stop offset="0.92" stop-color="#cbe338"/><stop offset="0.95" stop-color="#d0e435"/><stop offset="0.97" stop-color="#e0e630"/><stop offset="1" stop-color="#ece731"/></linearGradient><linearGradient id="r84" gradientUnits="userSpaceOnUse" x1="579" x2="942.9" y1="0" y2="0"><stop offset="0" stop-color="#eee731"/><stop offset="0.03" stop-color="#ece731"/><stop offset="0.05" stop-color="#d4e433"/><stop offset="0.08" stop-color="#c4e23c"/><stop offset="0.11" stop-color="#bae142"/><stop offset="0.14" stop-color="#87d663"/><stop offset="0.16" stop-color="#74d16e"/><stop offset="0.19" stop-color="#6ecf71"/><stop offset="0.22" stop-color="#54c480"/><stop offset="0.24" stop-color="#49be86"/><stop offset="0.27" stop-color="#47bd87"/><stop offset="0.3" stop-color="#3fb78c"/><stop offset="0.32" stop-color="#39b190"/><stop offset="0.35" stop-color="#39b190"/><stop offset="0.38" stop-color="#3cb58e"/><stop offset="0.41" stop-color="#41b98b"/><stop offset="0.43" stop-color="#42ba8a"/><stop offset="0.46" stop-color="#4fc283"/><stop offset="0.49" stop-color="#5cc87c"/><stop offset="0.51" stop-color="#5ec87b"/><stop offset="0.54" stop-color="#63ca78"/><stop offset="0.57" stop-color="#7cd369"/><stop offset="0.59" stop-color="#83d565"/><stop offset="0.62" stop-color="#85d564"/><stop offset="0.65" stop-color="#78d26b"/><stop offset="0.68" stop-color="#7cd369"/><stop offset="0.7" stop-color="#a2dc51"/><stop offset="0.73" stop-color="#a7dd4e"/><stop offset="0.76" stop-color="#a9de4d"/><stop offset="0.78" stop-color="#acde4b"/><stop offset="0.81" stop-color="#a5dd50"/><stop offset="0.84" stop-color="#c4e23c"/><stop offset="0.86" stop-color="#cde336"/><stop offset="0.89" stop-color="#cde336"/><stop offset="0.92" stop-color="#d0e435"/><stop offset="0.95" stop-color="#d9e531"/><stop offset="0.97" stop-color="#e9e730"/><stop offset="1" stop-color="#eee731"/></linearGradient><linearGradient id="r85" gradientUnits="userSpaceOnUse" x1="579" x2="942.9" y1="0" y2="0"><stop offset="0" stop-color="#eee731"/><stop offset="0.03" stop-color="#ece731"/><stop offset="0.05" stop-color="#d4e433"/><stop offset="0.08" stop-color="#c4e23c"/><stop offset="0.11" stop-color="#bfe13f"/><stop offset="0.14" stop-color="#85d564"/><stop offset="0.16" stop-color="#72d06f"/><stop offset="0.19" stop-color="#70cf70"/><stop offset="0.22" stop-color="#52c381"/><stop offset="0.24" stop-color="#48be87"/><stop offset="0.27" stop-color="#47bd87"/><stop offset="0.3" stop-color="#3fb78c"/><stop offset="0.32" stop-color="#38b190"/><stop offset="0.35" stop-color="#38b190"/><stop offset="0.38" stop-color="#3cb58e"/><stop offset="0.41" stop-color="#41b98b"/><stop offset="0.43" stop-color="#42ba8a"/><stop offset="0.46" stop-color="#50c282"/><stop offset="0.49" stop-color="#5ec87b"/><stop offset="0.51" stop-color="#5fc97a"/><stop offset="0.54" stop-color="#63ca78"/><stop offset="0.57" stop-color="#83d565"/><stop offset="0.59" stop-color="#87d663"/><stop offset="0.62" stop-color="#87d663"/><stop offset="0.65" stop-color="#76d16d"/><stop offset="0.68" stop-color="#7ad26a"/><stop offset="0.7" stop-color="#a7dd4e"/><stop offset="0.73" stop-color="#a9de4d"/><stop offset="0.76" stop-color="#acde4b"/><stop offset="0.78" stop-color="#acde4b"/><stop offset="0.81" stop-color="#acde4b"/><stop offset="0.84" stop-color="#cbe338"/><stop offset="0.86" stop-color="#d0e435"/><stop offset="0.89" stop-color="#d0e435"/><stop offset="0.92" stop-color="#d0e435"/><stop offset="0.95" stop-color="#e3e62f"/><stop offset="0.97" stop-color="#eee731"/><stop offset="1" stop-color="#eee731"/></linearGradient><clipPath id="clip86"><polygon points="1012.4,329.3 1364,329.3 1188.5,42.1"/></clipPath><filter id="blur87" x="-5%" y="-5%" width="110%" height="110%"><feGaussianBlur stdDeviation="0.8 2.0"/></filter><linearGradient id="r88" gradientUnits="userSpaceOnUse" x1="1182.5" x2="1194.5" y1="0" y2="0"><stop offset="0" stop-color="#eee731"/><stop offset="0.5" stop-color="#eee731"/><stop offset="1" stop-color="#ece731"/></linearGradient><linearGradient id="r89" gradientUnits="userSpaceOnUse" x1="1182.5" x2="1194.5" y1="0" y2="0"><stop offset="0" stop-color="#ece731"/><stop offset="0.5" stop-color="#e9e730"/><stop offset="1" stop-color="#e5e62f"/></linearGradient><linearGradient id="r90" gradientUnits="userSpaceOnUse" x1="1180" x2="1196.9" y1="0" y2="0"><stop offset="0" stop-color="#ece731"/><stop offset="0.5" stop-color="#e3e62f"/><stop offset="1" stop-color="#c8e339"/></linearGradient><linearGradient id="r91" gradientUnits="userSpaceOnUse" x1="1177.6" x2="1199.4" y1="0" y2="0"><stop offset="0" stop-color="#ece731"/><stop offset="0.33" stop-color="#e0e630"/><stop offset="0.67" stop-color="#c6e23a"/><stop offset="1" stop-color="#aedf4a"/></linearGradient><linearGradient id="r92" gradientUnits="userSpaceOnUse" x1="1175.1" x2="1201.8" y1="0" y2="0"><stop offset="0" stop-color="#e5e62f"/><stop offset="0.33" stop-color="#d7e532"/><stop offset="0.67" stop-color="#b5e045"/><stop offset="1" stop-color="#a2dc51"/></linearGradient><linearGradient id="r93" gradientUnits="userSpaceOnUse" x1="1172.7" x2="1204.3" y1="0" y2="0"><stop offset="0" stop-color="#dce530"/><stop offset="0.25" stop-color="#d4e433"/><stop offset="0.5" stop-color="#bce140"/><stop offset="0.75" stop-color="#a0dc53"/><stop offset="1" stop-color="#8ed85e"/></linearGradient><linearGradient id="r94" gradientUnits="userSpaceOnUse" x1="1170.2" x2="1206.7" y1="0" y2="0"><stop offset="0" stop-color="#d7e532"/><stop offset="0.25" stop-color="#cde336"/><stop offset="0.5" stop-color="#b0df48"/><stop offset="0.75" stop-color="#90d85d"/><stop offset="1" stop-color="#6cce73"/></linearGradient><linearGradient id="r95" gradientUnits="userSpaceOnUse" x1="1167.8" x2="1209.2" y1="0" y2="0"><stop offset="0" stop-color="#d4e433"/><stop offset="0.2" stop-color="#cde336"/><stop offset="0.4" stop-color="#b5e045"/><stop offset="0.6" stop-color="#99da57"/><stop offset="0.8" stop-color="#76d16d"/><stop offset="1" stop-color="#5ac77d"/></linearGradient><linearGradient id="r96" gradientUnits="userSpaceOnUse" x1="1165.3" x2="1211.6" y1="0" y2="0"><stop offset="0" stop-color="#d4e433"/><stop offset="0.2" stop-color="#cbe338"/><stop offset="0.4" stop-color="#aedf4a"/><stop offset="0.6" stop-color="#8ed85e"/><stop offset="0.8" stop-color="#68cd75"/><stop offset="1" stop-color="#57c57f"/></linearGradient><linearGradient id="r97" gradientUnits="userSpaceOnUse" x1="1162.9" x2="1214.1" y1="0" y2="0"><stop offset="0" stop-color="#d4e433"/><stop offset="0.17" stop-color="#cbe338"/><stop offset="0.33" stop-color="#b3df47"/><stop offset="0.5" stop-color="#97da59"/><stop offset="0.67" stop-color="#76d16d"/><stop offset="0.83" stop-color="#5ac77d"/><stop offset="1" stop-color="#55c580"/></linearGradient><linearGradient id="r98" gradientUnits="userSpaceOnUse" x1="1160.4" x2="1216.5" y1="0" y2="0"><stop offset="0" stop-color="#d4e433"/><stop offset="0.17" stop-color="#c8e339"/><stop offset="0.33" stop-color="#aedf4a"/><stop offset="0.5" stop-color="#90d85d"/><stop offset="0.67" stop-color="#6cce73"/><stop offset="0.83" stop-color="#52c381"/><stop offset="1" stop-color="#50c282"/></linearGradient><linearGradient id="r99" gradientUnits="userSpaceOnUse" x1="1158" x2="1218.9" y1="0" y2="0"><stop offset="0" stop-color="#d2e434"/><stop offset="0.14" stop-color="#c8e339"/><stop offset="0.29" stop-color="#b0df48"/><stop offset="0.43" stop-color="#97da59"/><stop offset="0.57" stop-color="#78d26b"/><stop offset="0.71" stop-color="#5ac77d"/><stop offset="0.86" stop-color="#4bbf85"/><stop offset="1" stop-color="#43ba8a"/></linearGradient><linearGradient id="r100" gradientUnits="userSpaceOnUse" x1="1155.5" x2="1221.4" y1="0" y2="0"><stop offset="0" stop-color="#cbe338"/><stop offset="0.14" stop-color="#c1e23d"/><stop offset="0.29" stop-color="#a9de4d"/><stop offset="0.43" stop-color="#90d85d"/><stop offset="0.57" stop-color="#70cf70"/><stop offset="0.71" stop-color="#52c381"/><stop offset="0.86" stop-color="#42ba8a"/><stop offset="1" stop-color="#37af91"/></linearGradient><linearGradient id="r101" gradientUnits="userSpaceOnUse" x1="1153.1" x2="1223.8" y1="0" y2="0"><stop offset="0" stop-color="#bce140"/><stop offset="0.12" stop-color="#bae142"/><stop offset="0.25" stop-color="#a2dc51"/><stop offset="0.38" stop-color="#90d85d"/><stop offset="0.5" stop-color="#78d26b"/><stop offset="0.62" stop-color="#5cc87c"/><stop offset="0.75" stop-color="#45bc88"/><stop offset="0.88" stop-color="#3ab38f"/><stop offset="1" stop-color="#35aa94"/></linearGradient><linearGradient id="r102" gradientUnits="userSpaceOnUse" x1="1150.6" x2="1226.3" y1="0" y2="0"><stop offset="0" stop-color="#b8e043"/><stop offset="0.12" stop-color="#b0df48"/><stop offset="0.25" stop-color="#97da59"/><stop offset="0.38" stop-color="#85d564"/><stop offset="0.5" stop-color="#6ecf71"/><stop offset="0.62" stop-color="#55c580"/><stop offset="0.75" stop-color="#40b88b"/><stop offset="0.88" stop-color="#37af91"/><stop offset="1" stop-color="#35a894"/></linearGradient><linearGradient id="r103" gradientUnits="userSpaceOnUse" x1="1148.2" x2="1228.7" y1="0" y2="0"><stop offset="0" stop-color="#b8e043"/><stop offset="0.11" stop-color="#acde4b"/><stop offset="0.22" stop-color="#92d95c"/><stop offset="0.33" stop-color="#7cd369"/><stop offset="0.44" stop-color="#6ecf71"/><stop offset="0.56" stop-color="#5ac77d"/><stop offset="0.67" stop-color="#45bc88"/><stop offset="0.78" stop-color="#3ab28f"/><stop offset="0.89" stop-color="#36ac93"/><stop offset="1" stop-color="#35a894"/></linearGradient><linearGradient id="r104" gradientUnits="userSpaceOnUse" x1="1145.7" x2="1231.2" y1="0" y2="0"><stop offset="0" stop-color="#b8e043"/><stop offset="0.11" stop-color="#a9de4d"/><stop offset="0.22" stop-color="#89d761"/><stop offset="0.33" stop-color="#72d06f"/><stop offset="0.44" stop-color="#63ca78"/><stop offset="0.56" stop-color="#50c282"/><stop offset="0.67" stop-color="#3fb78c"/><stop offset="0.78" stop-color="#37af91"/><stop offset="0.89" stop-color="#35a994"/><stop offset="1" stop-color="#35a795"/></linearGradient><linearGradient id="r105" gradientUnits="userSpaceOnUse" x1="1143.3" x2="1233.6" y1="0" y2="0"><stop offset="0" stop-color="#bfe13f"/><stop offset="0.1" stop-color="#acde4b"/><stop offset="0.2" stop-color="#89d761"/><stop offset="0.3" stop-color="#6cce73"/><stop offset="0.4" stop-color="#5ec87b"/><stop offset="0.5" stop-color="#50c282"/><stop offset="0.6" stop-color="#41b98b"/><stop offset="0.7" stop-color="#38b190"/><stop offset="0.8" stop-color="#36ab93"/><stop offset="0.9" stop-color="#35a795"/><stop offset="1" stop-color="#35a396"/></linearGradient><linearGradient id="r106" gradientUnits="userSpaceOnUse" x1="1140.8" x2="1236.1" y1="0" y2="0"><stop offset="0" stop-color="#c8e339"/><stop offset="0.1" stop-color="#b0df48"/><stop offset="0.2" stop-color="#87d663"/><stop offset="0.3" stop-color="#65cb77"/><stop offset="0.4" stop-color="#54c480"/><stop offset="0.5" stop-color="#48be87"/><stop offset="0.6" stop-color="#3bb48e"/><stop offset="0.7" stop-color="#36ad92"/><stop offset="0.8" stop-color="#35a894"/><stop offset="0.9" stop-color="#35a496"/><stop offset="1" stop-color="#369e97"/></linearGradient><linearGradient id="r107" gradientUnits="userSpaceOnUse" x1="1138.4" x2="1238.5" y1="0" y2="0"><stop offset="0" stop-color="#cde336"/><stop offset="0.09" stop-color="#b8e043"/><stop offset="0.18" stop-color="#90d85d"/><stop offset="0.27" stop-color="#6acd74"/><stop offset="0.36" stop-color="#54c480"/><stop offset="0.45" stop-color="#47bd87"/><stop offset="0.55" stop-color="#3cb58e"/><stop offset="0.64" stop-color="#37ae92"/><stop offset="0.73" stop-color="#35aa94"/><stop offset="0.82" stop-color="#35a595"/><stop offset="0.91" stop-color="#35a197"/><stop offset="1" stop-color="#379c98"/></linearGradient><linearGradient id="r108" gradientUnits="userSpaceOnUse" x1="1135.9" x2="1240.9" y1="0" y2="0"><stop offset="0" stop-color="#d0e435"/><stop offset="0.09" stop-color="#bae142"/><stop offset="0.18" stop-color="#90d85d"/><stop offset="0.27" stop-color="#68cd75"/><stop offset="0.36" stop-color="#4fc283"/><stop offset="0.45" stop-color="#41b98b"/><stop offset="0.55" stop-color="#39b190"/><stop offset="0.64" stop-color="#36ac93"/><stop offset="0.73" stop-color="#35a795"/><stop offset="0.82" stop-color="#35a296"/><stop offset="0.91" stop-color="#369d98"/><stop offset="1" stop-color="#379b98"/></linearGradient><linearGradient id="r109" gradientUnits="userSpaceOnUse" x1="1133.4" x2="1243.4" y1="0" y2="0"><stop offset="0" stop-color="#d0e435"/><stop offset="0.09" stop-color="#bce140"/><stop offset="0.18" stop-color="#90d85d"/><stop offset="0.27" stop-color="#67cc76"/><stop offset="0.36" stop-color="#4dc184"/><stop offset="0.45" stop-color="#3eb68d"/><stop offset="0.55" stop-color="#37ae92"/><stop offset="0.64" stop-color="#35a894"/><stop offset="0.73" stop-color="#35a496"/><stop offset="0.82" stop-color="#369f97"/><stop offset="0.91" stop-color="#379b98"/><stop offset="1" stop-color="#389998"/></linearGradient><linearGradient id="r110" gradientUnits="userSpaceOnUse" x1="1131" x2="1245.8" y1="0" y2="0"><stop offset="0" stop-color="#cde336"/><stop offset="0.08" stop-color="#bfe13f"/><stop offset="0.17" stop-color="#97da59"/><stop offset="0.25" stop-color="#6ecf71"/><stop offset="0.33" stop-color="#52c381"/><stop offset="0.42" stop-color="#42ba8a"/><stop offset="0.5" stop-color="#38b091"/><stop offset="0.58" stop-color="#35a894"/><stop offset="0.67" stop-color="#35a396"/><stop offset="0.75" stop-color="#369f97"/><stop offset="0.83" stop-color="#379b98"/><stop offset="0.92" stop-color="#389799"/><stop offset="1" stop-color="#3a9399"/></linearGradient><linearGradient id="r111" gradientUnits="userSpaceOnUse" x1="1128.5" x2="1248.3" y1="0" y2="0"><stop offset="0" stop-color="#cbe338"/><stop offset="0.08" stop-color="#bce140"/><stop offset="0.17" stop-color="#97da59"/><stop offset="0.25" stop-color="#6ecf71"/><stop offset="0.33" stop-color="#50c282"/><stop offset="0.42" stop-color="#40b88b"/><stop offset="0.5" stop-color="#36ad92"/><stop offset="0.58" stop-color="#35a695"/><stop offset="0.67" stop-color="#36a097"/><stop offset="0.75" stop-color="#379b98"/><stop offset="0.83" stop-color="#389799"/><stop offset="0.92" stop-color="#3a9299"/><stop offset="1" stop-color="#3d8b9a"/></linearGradient><linearGradient id="r112" gradientUnits="userSpaceOnUse" x1="1126.1" x2="1250.7" y1="0" y2="0"><stop offset="0" stop-color="#c6e23a"/><stop offset="0.08" stop-color="#bfe13f"/><stop offset="0.15" stop-color="#9bdb56"/><stop offset="0.23" stop-color="#76d16d"/><stop offset="0.31" stop-color="#55c580"/><stop offset="0.38" stop-color="#43ba8a"/><stop offset="0.46" stop-color="#38b190"/><stop offset="0.54" stop-color="#35a795"/><stop offset="0.62" stop-color="#36a097"/><stop offset="0.69" stop-color="#379b98"/><stop offset="0.77" stop-color="#389799"/><stop offset="0.85" stop-color="#3a9199"/><stop offset="0.92" stop-color="#3c8c99"/><stop offset="1" stop-color="#3f869a"/></linearGradient><linearGradient id="r113" gradientUnits="userSpaceOnUse" x1="1123.6" x2="1253.2" y1="0" y2="0"><stop offset="0" stop-color="#c4e23c"/><stop offset="0.08" stop-color="#bce140"/><stop offset="0.15" stop-color="#99da57"/><stop offset="0.23" stop-color="#74d16e"/><stop offset="0.31" stop-color="#54c480"/><stop offset="0.38" stop-color="#41b98b"/><stop offset="0.46" stop-color="#37ae92"/><stop offset="0.54" stop-color="#35a595"/><stop offset="0.62" stop-color="#369d98"/><stop offset="0.69" stop-color="#389799"/><stop offset="0.77" stop-color="#3a9299"/><stop offset="0.85" stop-color="#3c8d99"/><stop offset="0.92" stop-color="#3e889a"/><stop offset="1" stop-color="#3f869a"/></linearGradient><linearGradient id="r114" gradientUnits="userSpaceOnUse" x1="1121.2" x2="1255.6" y1="0" y2="0"><stop offset="0" stop-color="#c4e23c"/><stop offset="0.07" stop-color="#bce140"/><stop offset="0.14" stop-color="#9bdb56"/><stop offset="0.21" stop-color="#7ad26a"/><stop offset="0.29" stop-color="#5ac77d"/><stop offset="0.36" stop-color="#44bb89"/><stop offset="0.43" stop-color="#39b190"/><stop offset="0.5" stop-color="#35a795"/><stop offset="0.57" stop-color="#369f97"/><stop offset="0.64" stop-color="#389898"/><stop offset="0.71" stop-color="#3a9299"/><stop offset="0.79" stop-color="#3c8d99"/><stop offset="0.86" stop-color="#3e899a"/><stop offset="0.93" stop-color="#3f859a"/><stop offset="1" stop-color="#3f859a"/></linearGradient><linearGradient id="r115" gradientUnits="userSpaceOnUse" x1="1118.7" x2="1258.1" y1="0" y2="0"><stop offset="0" stop-color="#c4e23c"/><stop offset="0.07" stop-color="#bae142"/><stop offset="0.14" stop-color="#99da57"/><stop offset="0.21" stop-color="#76d16d"/><stop offset="0.29" stop-color="#57c57f"/><stop offset="0.36" stop-color="#43ba8a"/><stop offset="0.43" stop-color="#38b091"/><stop offset="0.5" stop-color="#35a595"/><stop offset="0.57" stop-color="#369d98"/><stop offset="0.64" stop-color="#399599"/><stop offset="0.71" stop-color="#3c8e99"/><stop offset="0.79" stop-color="#3e899a"/><stop offset="0.86" stop-color="#3f859a"/><stop offset="0.93" stop-color="#41809a"/><stop offset="1" stop-color="#41809a"/></linearGradient><linearGradient id="r116" gradientUnits="userSpaceOnUse" x1="1116.3" x2="1260.5" y1="0" y2="0"><stop offset="0" stop-color="#c4e23c"/><stop offset="0.07" stop-color="#bae142"/><stop offset="0.13" stop-color="#9bdb56"/><stop offset="0.2" stop-color="#7ad26a"/><stop offset="0.27" stop-color="#5cc87c"/><stop offset="0.33" stop-color="#47bd87"/><stop offset="0.4" stop-color="#3ab28f"/><stop offset="0.47" stop-color="#35a894"/><stop offset="0.53" stop-color="#369f97"/><stop offset="0.6" stop-color="#389799"/><stop offset="0.67" stop-color="#3b9099"/><stop offset="0.73" stop-color="#3e899a"/><stop offset="0.8" stop-color="#40849a"/><stop offset="0.87" stop-color="#41809a"/><stop offset="0.93" stop-color="#437c99"/><stop offset="1" stop-color="#477399"/></linearGradient><linearGradient id="r117" gradientUnits="userSpaceOnUse" x1="1113.8" x2="1262.9" y1="0" y2="0"><stop offset="0" stop-color="#c4e23c"/><stop offset="0.07" stop-color="#bae142"/><stop offset="0.13" stop-color="#99da57"/><stop offset="0.2" stop-color="#76d16d"/><stop offset="0.27" stop-color="#58c67e"/><stop offset="0.33" stop-color="#45bc88"/><stop offset="0.4" stop-color="#39b190"/><stop offset="0.47" stop-color="#35a795"/><stop offset="0.53" stop-color="#369d98"/><stop offset="0.6" stop-color="#399599"/><stop offset="0.67" stop-color="#3c8d99"/><stop offset="0.73" stop-color="#3f869a"/><stop offset="0.8" stop-color="#41809a"/><stop offset="0.87" stop-color="#447a99"/><stop offset="0.93" stop-color="#467599"/><stop offset="1" stop-color="#4c6797"/></linearGradient><linearGradient id="r118" gradientUnits="userSpaceOnUse" x1="1111.4" x2="1265.4" y1="0" y2="0"><stop offset="0" stop-color="#c4e23c"/><stop offset="0.06" stop-color="#bae142"/><stop offset="0.12" stop-color="#9bdb56"/><stop offset="0.19" stop-color="#7ad26a"/><stop offset="0.25" stop-color="#5ec87b"/><stop offset="0.31" stop-color="#48be87"/><stop offset="0.38" stop-color="#3bb48e"/><stop offset="0.44" stop-color="#35a994"/><stop offset="0.5" stop-color="#369f97"/><stop offset="0.56" stop-color="#389799"/><stop offset="0.62" stop-color="#3b9099"/><stop offset="0.69" stop-color="#3e889a"/><stop offset="0.75" stop-color="#41809a"/><stop offset="0.81" stop-color="#447a99"/><stop offset="0.88" stop-color="#467599"/><stop offset="0.94" stop-color="#4a6d98"/><stop offset="1" stop-color="#4e6497"/></linearGradient><linearGradient id="r119" gradientUnits="userSpaceOnUse" x1="1108.9" x2="1267.8" y1="0" y2="0"><stop offset="0" stop-color="#c4e23c"/><stop offset="0.06" stop-color="#b8e043"/><stop offset="0.12" stop-color="#99da57"/><stop offset="0.19" stop-color="#78d26b"/><stop offset="0.25" stop-color="#5ac77d"/><stop offset="0.31" stop-color="#47bd87"/><stop offset="0.38" stop-color="#3ab38f"/><stop offset="0.44" stop-color="#35a894"/><stop offset="0.5" stop-color="#369d98"/><stop offset="0.56" stop-color="#399699"/><stop offset="0.62" stop-color="#3c8d99"/><stop offset="0.69" stop-color="#3f869a"/><stop offset="0.75" stop-color="#437d99"/><stop offset="0.81" stop-color="#467599"/><stop offset="0.88" stop-color="#496f98"/><stop offset="0.94" stop-color="#4c6898"/><stop offset="1" stop-color="#4e6397"/></linearGradient><linearGradient id="r120" gradientUnits="userSpaceOnUse" x1="1106.5" x2="1270.3" y1="0" y2="0"><stop offset="0" stop-color="#c4e23c"/><stop offset="0.06" stop-color="#b8e043"/><stop offset="0.12" stop-color="#9bdb56"/><stop offset="0.18" stop-color="#7ad26a"/><stop offset="0.24" stop-color="#5ec87b"/><stop offset="0.29" stop-color="#49be86"/><stop offset="0.35" stop-color="#3cb58e"/><stop offset="0.41" stop-color="#36ab93"/><stop offset="0.47" stop-color="#35a197"/><stop offset="0.53" stop-color="#389799"/><stop offset="0.59" stop-color="#3b9099"/><stop offset="0.65" stop-color="#3e889a"/><stop offset="0.71" stop-color="#41809a"/><stop offset="0.76" stop-color="#457799"/><stop offset="0.82" stop-color="#496e98"/><stop offset="0.88" stop-color="#4c6898"/><stop offset="0.94" stop-color="#4f6397"/><stop offset="1" stop-color="#4f6296"/></linearGradient><linearGradient id="r121" gradientUnits="userSpaceOnUse" x1="1104" x2="1272.7" y1="0" y2="0"><stop offset="0" stop-color="#c1e23d"/><stop offset="0.06" stop-color="#b5e045"/><stop offset="0.12" stop-color="#99da57"/><stop offset="0.18" stop-color="#78d26b"/><stop offset="0.24" stop-color="#5cc87c"/><stop offset="0.29" stop-color="#48be87"/><stop offset="0.35" stop-color="#3bb48e"/><stop offset="0.41" stop-color="#35aa94"/><stop offset="0.47" stop-color="#369f97"/><stop offset="0.53" stop-color="#399699"/><stop offset="0.59" stop-color="#3c8e99"/><stop offset="0.65" stop-color="#3f869a"/><stop offset="0.71" stop-color="#437c99"/><stop offset="0.76" stop-color="#487299"/><stop offset="0.82" stop-color="#4c6898"/><stop offset="0.88" stop-color="#4f6296"/><stop offset="0.94" stop-color="#515d95"/><stop offset="1" stop-color="#535894"/></linearGradient><linearGradient id="r122" gradientUnits="userSpaceOnUse" x1="1101.6" x2="1275.2" y1="0" y2="0"><stop offset="0" stop-color="#c1e23d"/><stop offset="0.06" stop-color="#b3df47"/><stop offset="0.11" stop-color="#99da57"/><stop offset="0.17" stop-color="#7cd369"/><stop offset="0.22" stop-color="#5fc97a"/><stop offset="0.28" stop-color="#4bbf85"/><stop offset="0.33" stop-color="#3db68d"/><stop offset="0.39" stop-color="#36ac92"/><stop offset="0.44" stop-color="#35a296"/><stop offset="0.5" stop-color="#389898"/><stop offset="0.56" stop-color="#3b9199"/><stop offset="0.61" stop-color="#3e899a"/><stop offset="0.67" stop-color="#41809a"/><stop offset="0.72" stop-color="#467699"/><stop offset="0.78" stop-color="#4b6a98"/><stop offset="0.83" stop-color="#506196"/><stop offset="0.89" stop-color="#535994"/><stop offset="0.94" stop-color="#555492"/><stop offset="1" stop-color="#59458b"/></linearGradient><linearGradient id="r123" gradientUnits="userSpaceOnUse" x1="1099.1" x2="1277.6" y1="0" y2="0"><stop offset="0" stop-color="#c1e23d"/><stop offset="0.06" stop-color="#aedf4a"/><stop offset="0.11" stop-color="#94d95a"/><stop offset="0.17" stop-color="#78d26b"/><stop offset="0.22" stop-color="#5ec87b"/><stop offset="0.28" stop-color="#49be86"/><stop offset="0.33" stop-color="#3bb48e"/><stop offset="0.39" stop-color="#36ab93"/><stop offset="0.44" stop-color="#35a197"/><stop offset="0.5" stop-color="#389799"/><stop offset="0.56" stop-color="#3b8f99"/><stop offset="0.61" stop-color="#3f869a"/><stop offset="0.67" stop-color="#437c99"/><stop offset="0.72" stop-color="#487299"/><stop offset="0.78" stop-color="#4d6597"/><stop offset="0.83" stop-color="#535994"/><stop offset="0.89" stop-color="#555291"/><stop offset="0.94" stop-color="#584a8d"/><stop offset="1" stop-color="#5a3982"/></linearGradient><linearGradient id="r124" gradientUnits="userSpaceOnUse" x1="1096.7" x2="1280.1" y1="0" y2="0"><stop offset="0" stop-color="#bfe13f"/><stop offset="0.05" stop-color="#acde4b"/><stop offset="0.11" stop-color="#92d95c"/><stop offset="0.16" stop-color="#78d26b"/><stop offset="0.21" stop-color="#61ca79"/><stop offset="0.26" stop-color="#4cc084"/><stop offset="0.32" stop-color="#3eb68d"/><stop offset="0.37" stop-color="#36ad92"/><stop offset="0.42" stop-color="#35a396"/><stop offset="0.47" stop-color="#379a98"/><stop offset="0.53" stop-color="#3a9199"/><stop offset="0.58" stop-color="#3e899a"/><stop offset="0.63" stop-color="#41809a"/><stop offset="0.68" stop-color="#467599"/><stop offset="0.74" stop-color="#4b6a98"/><stop offset="0.79" stop-color="#515d95"/><stop offset="0.84" stop-color="#565191"/><stop offset="0.89" stop-color="#58488d"/><stop offset="0.95" stop-color="#5a4087"/><stop offset="1" stop-color="#5b357f"/></linearGradient><linearGradient id="r125" gradientUnits="userSpaceOnUse" x1="1094.2" x2="1282.5" y1="0" y2="0"><stop offset="0" stop-color="#b8e043"/><stop offset="0.05" stop-color="#a7dd4e"/><stop offset="0.11" stop-color="#8bd760"/><stop offset="0.16" stop-color="#72d06f"/><stop offset="0.21" stop-color="#5ec87b"/><stop offset="0.26" stop-color="#4bbf85"/><stop offset="0.32" stop-color="#3cb58e"/><stop offset="0.37" stop-color="#36ac93"/><stop offset="0.42" stop-color="#35a296"/><stop offset="0.47" stop-color="#389898"/><stop offset="0.53" stop-color="#3b9099"/><stop offset="0.58" stop-color="#3f869a"/><stop offset="0.63" stop-color="#437c99"/><stop offset="0.68" stop-color="#487199"/><stop offset="0.74" stop-color="#4d6597"/><stop offset="0.79" stop-color="#535793"/><stop offset="0.84" stop-color="#584a8d"/><stop offset="0.89" stop-color="#594288"/><stop offset="0.95" stop-color="#5a3c84"/><stop offset="1" stop-color="#5b357f"/></linearGradient><linearGradient id="r126" gradientUnits="userSpaceOnUse" x1="1091.8" x2="1284.9" y1="0" y2="0"><stop offset="0" stop-color="#a0dc53"/><stop offset="0.05" stop-color="#a0dc53"/><stop offset="0.1" stop-color="#89d761"/><stop offset="0.15" stop-color="#72d06f"/><stop offset="0.2" stop-color="#5ec87b"/><stop offset="0.25" stop-color="#4dc184"/><stop offset="0.3" stop-color="#3eb68d"/><stop offset="0.35" stop-color="#36ad92"/><stop offset="0.4" stop-color="#35a496"/><stop offset="0.45" stop-color="#379b98"/><stop offset="0.5" stop-color="#3a9199"/><stop offset="0.55" stop-color="#3e899a"/><stop offset="0.6" stop-color="#427f99"/><stop offset="0.65" stop-color="#467499"/><stop offset="0.7" stop-color="#4c6998"/><stop offset="0.75" stop-color="#515e95"/><stop offset="0.8" stop-color="#564f90"/><stop offset="0.85" stop-color="#59458b"/><stop offset="0.9" stop-color="#5a4087"/><stop offset="0.95" stop-color="#5a3c84"/><stop offset="1" stop-color="#5a3881"/></linearGradient><linearGradient id="r127" gradientUnits="userSpaceOnUse" x1="1089.3" x2="1287.4" y1="0" y2="0"><stop offset="0" stop-color="#8ed85e"/><stop offset="0.05" stop-color="#97da59"/><stop offset="0.1" stop-color="#83d565"/><stop offset="0.15" stop-color="#6cce73"/><stop offset="0.2" stop-color="#58c67e"/><stop offset="0.25" stop-color="#49be86"/><stop offset="0.3" stop-color="#3db68d"/><stop offset="0.35" stop-color="#36ac93"/><stop offset="0.4" stop-color="#35a296"/><stop offset="0.45" stop-color="#389998"/><stop offset="0.5" stop-color="#3b9099"/><stop offset="0.55" stop-color="#3f869a"/><stop offset="0.6" stop-color="#437b99"/><stop offset="0.65" stop-color="#487199"/><stop offset="0.7" stop-color="#4d6597"/><stop offset="0.75" stop-color="#535894"/><stop offset="0.8" stop-color="#574c8e"/><stop offset="0.85" stop-color="#59468b"/><stop offset="0.9" stop-color="#594389"/><stop offset="0.95" stop-color="#5a4188"/><stop offset="1" stop-color="#594288"/></linearGradient><linearGradient id="r128" gradientUnits="userSpaceOnUse" x1="1086.8" x2="1289.8" y1="0" y2="0"><stop offset="0" stop-color="#89d761"/><stop offset="0.05" stop-color="#90d85d"/><stop offset="0.1" stop-color="#81d466"/><stop offset="0.14" stop-color="#6acd74"/><stop offset="0.19" stop-color="#58c67e"/><stop offset="0.24" stop-color="#49be86"/><stop offset="0.29" stop-color="#3eb68d"/><stop offset="0.33" stop-color="#36ad92"/><stop offset="0.38" stop-color="#35a595"/><stop offset="0.43" stop-color="#379c98"/><stop offset="0.48" stop-color="#3a9299"/><stop offset="0.52" stop-color="#3e889a"/><stop offset="0.57" stop-color="#427f99"/><stop offset="0.62" stop-color="#467499"/><stop offset="0.67" stop-color="#4c6998"/><stop offset="0.71" stop-color="#515e95"/><stop offset="0.76" stop-color="#555291"/><stop offset="0.81" stop-color="#574d8f"/><stop offset="0.86" stop-color="#584b8e"/><stop offset="0.9" stop-color="#58488d"/><stop offset="0.95" stop-color="#59468b"/><stop offset="1" stop-color="#565091"/></linearGradient><linearGradient id="r129" gradientUnits="userSpaceOnUse" x1="1084.4" x2="1292.3" y1="0" y2="0"><stop offset="0" stop-color="#89d761"/><stop offset="0.05" stop-color="#89d761"/><stop offset="0.1" stop-color="#7ad26a"/><stop offset="0.14" stop-color="#67cc76"/><stop offset="0.19" stop-color="#54c480"/><stop offset="0.24" stop-color="#45bc88"/><stop offset="0.29" stop-color="#3bb48e"/><stop offset="0.33" stop-color="#36ac92"/><stop offset="0.38" stop-color="#35a396"/><stop offset="0.43" stop-color="#379a98"/><stop offset="0.48" stop-color="#3b9099"/><stop offset="0.52" stop-color="#3f869a"/><stop offset="0.57" stop-color="#437c99"/><stop offset="0.62" stop-color="#487299"/><stop offset="0.67" stop-color="#4d6597"/><stop offset="0.71" stop-color="#525b94"/><stop offset="0.76" stop-color="#555392"/><stop offset="0.81" stop-color="#565191"/><stop offset="0.86" stop-color="#565091"/><stop offset="0.9" stop-color="#574e90"/><stop offset="0.95" stop-color="#574e90"/><stop offset="1" stop-color="#545593"/></linearGradient><linearGradient id="r130" gradientUnits="userSpaceOnUse" x1="1081.9" x2="1294.7" y1="0" y2="0"><stop offset="0" stop-color="#87d663"/><stop offset="0.05" stop-color="#87d663"/><stop offset="0.09" stop-color="#76d16d"/><stop offset="0.14" stop-color="#65cb77"/><stop offset="0.18" stop-color="#52c381"/><stop offset="0.23" stop-color="#45bc88"/><stop offset="0.27" stop-color="#3bb48e"/><stop offset="0.32" stop-color="#36ac92"/><stop offset="0.36" stop-color="#35a595"/><stop offset="0.41" stop-color="#379c98"/><stop offset="0.45" stop-color="#3a9299"/><stop offset="0.5" stop-color="#3e899a"/><stop offset="0.55" stop-color="#41809a"/><stop offset="0.59" stop-color="#467699"/><stop offset="0.64" stop-color="#4b6b98"/><stop offset="0.68" stop-color="#506096"/><stop offset="0.73" stop-color="#535793"/><stop offset="0.77" stop-color="#545693"/><stop offset="0.82" stop-color="#545593"/><stop offset="0.86" stop-color="#555492"/><stop offset="0.91" stop-color="#555392"/><stop offset="0.95" stop-color="#555392"/><stop offset="1" stop-color="#545693"/></linearGradient><linearGradient id="r131" gradientUnits="userSpaceOnUse" x1="1079.5" x2="1297.2" y1="0" y2="0"><stop offset="0" stop-color="#87d663"/><stop offset="0.05" stop-color="#83d565"/><stop offset="0.09" stop-color="#72d06f"/><stop offset="0.14" stop-color="#5fc97a"/><stop offset="0.18" stop-color="#4fc283"/><stop offset="0.23" stop-color="#42ba8a"/><stop offset="0.27" stop-color="#39b190"/><stop offset="0.32" stop-color="#36ab93"/><stop offset="0.36" stop-color="#35a396"/><stop offset="0.41" stop-color="#379b98"/><stop offset="0.45" stop-color="#3b9199"/><stop offset="0.5" stop-color="#3f869a"/><stop offset="0.55" stop-color="#427e99"/><stop offset="0.59" stop-color="#477399"/><stop offset="0.64" stop-color="#4c6898"/><stop offset="0.68" stop-color="#505f96"/><stop offset="0.73" stop-color="#525b94"/><stop offset="0.77" stop-color="#535994"/><stop offset="0.82" stop-color="#535994"/><stop offset="0.86" stop-color="#535894"/><stop offset="0.91" stop-color="#535793"/><stop offset="0.95" stop-color="#535793"/><stop offset="1" stop-color="#535793"/></linearGradient><linearGradient id="r132" gradientUnits="userSpaceOnUse" x1="1077" x2="1299.6" y1="0" y2="0"><stop offset="0" stop-color="#87d663"/><stop offset="0.04" stop-color="#81d466"/><stop offset="0.09" stop-color="#6ecf71"/><stop offset="0.13" stop-color="#5ec87b"/><stop offset="0.17" stop-color="#4dc184"/><stop offset="0.22" stop-color="#41b98b"/><stop offset="0.26" stop-color="#39b190"/><stop offset="0.3" stop-color="#35aa94"/><stop offset="0.35" stop-color="#35a496"/><stop offset="0.39" stop-color="#379c98"/><stop offset="0.43" stop-color="#3a9399"/><stop offset="0.48" stop-color="#3e899a"/><stop offset="0.52" stop-color="#41809a"/><stop offset="0.57" stop-color="#457799"/><stop offset="0.61" stop-color="#4a6d98"/><stop offset="0.65" stop-color="#4e6397"/><stop offset="0.7" stop-color="#505f96"/><stop offset="0.74" stop-color="#515e95"/><stop offset="0.78" stop-color="#515e95"/><stop offset="0.83" stop-color="#515d95"/><stop offset="0.87" stop-color="#515d95"/><stop offset="0.91" stop-color="#525c95"/><stop offset="0.96" stop-color="#525b94"/><stop offset="1" stop-color="#515e95"/></linearGradient><linearGradient id="r133" gradientUnits="userSpaceOnUse" x1="1074.6" x2="1302" y1="0" y2="0"><stop offset="0" stop-color="#89d761"/><stop offset="0.04" stop-color="#7fd468"/><stop offset="0.09" stop-color="#6cce73"/><stop offset="0.13" stop-color="#5ac77d"/><stop offset="0.17" stop-color="#4bbf85"/><stop offset="0.22" stop-color="#3fb78c"/><stop offset="0.26" stop-color="#37af91"/><stop offset="0.3" stop-color="#35a894"/><stop offset="0.35" stop-color="#35a296"/><stop offset="0.39" stop-color="#379b98"/><stop offset="0.43" stop-color="#3a9199"/><stop offset="0.48" stop-color="#3e879a"/><stop offset="0.52" stop-color="#437d99"/><stop offset="0.57" stop-color="#467499"/><stop offset="0.61" stop-color="#4b6b98"/><stop offset="0.65" stop-color="#4e6397"/><stop offset="0.7" stop-color="#4f6296"/><stop offset="0.74" stop-color="#506196"/><stop offset="0.78" stop-color="#506196"/><stop offset="0.83" stop-color="#506196"/><stop offset="0.87" stop-color="#506196"/><stop offset="0.91" stop-color="#506096"/><stop offset="0.96" stop-color="#506196"/><stop offset="1" stop-color="#4a6c98"/></linearGradient><linearGradient id="r134" gradientUnits="userSpaceOnUse" x1="1072.1" x2="1304.5" y1="0" y2="0"><stop offset="0" stop-color="#8ed85e"/><stop offset="0.04" stop-color="#81d466"/><stop offset="0.08" stop-color="#6cce73"/><stop offset="0.12" stop-color="#5ac77d"/><stop offset="0.17" stop-color="#4bbf85"/><stop offset="0.21" stop-color="#3fb78c"/><stop offset="0.25" stop-color="#37af91"/><stop offset="0.29" stop-color="#35a795"/><stop offset="0.33" stop-color="#35a296"/><stop offset="0.38" stop-color="#379c98"/><stop offset="0.42" stop-color="#399499"/><stop offset="0.46" stop-color="#3d8b9a"/><stop offset="0.5" stop-color="#41809a"/><stop offset="0.54" stop-color="#467699"/><stop offset="0.58" stop-color="#496e98"/><stop offset="0.62" stop-color="#4c6797"/><stop offset="0.67" stop-color="#4e6497"/><stop offset="0.71" stop-color="#4e6497"/><stop offset="0.75" stop-color="#4e6497"/><stop offset="0.79" stop-color="#4e6497"/><stop offset="0.83" stop-color="#4e6497"/><stop offset="0.88" stop-color="#4e6397"/><stop offset="0.92" stop-color="#4e6397"/><stop offset="0.96" stop-color="#4c6898"/><stop offset="1" stop-color="#457799"/></linearGradient><linearGradient id="r135" gradientUnits="userSpaceOnUse" x1="1069.7" x2="1306.9" y1="0" y2="0"><stop offset="0" stop-color="#92d95c"/><stop offset="0.04" stop-color="#83d565"/><stop offset="0.08" stop-color="#6acd74"/><stop offset="0.12" stop-color="#58c67e"/><stop offset="0.17" stop-color="#49be86"/><stop offset="0.21" stop-color="#3db68d"/><stop offset="0.25" stop-color="#36ac92"/><stop offset="0.29" stop-color="#35a695"/><stop offset="0.33" stop-color="#369f97"/><stop offset="0.38" stop-color="#389998"/><stop offset="0.42" stop-color="#3a9299"/><stop offset="0.46" stop-color="#3e899a"/><stop offset="0.5" stop-color="#427e99"/><stop offset="0.54" stop-color="#467499"/><stop offset="0.58" stop-color="#4a6d98"/><stop offset="0.62" stop-color="#4c6898"/><stop offset="0.67" stop-color="#4d6697"/><stop offset="0.71" stop-color="#4c6797"/><stop offset="0.75" stop-color="#4c6797"/><stop offset="0.79" stop-color="#4c6797"/><stop offset="0.83" stop-color="#4c6797"/><stop offset="0.88" stop-color="#4c6797"/><stop offset="0.92" stop-color="#4c6797"/><stop offset="0.96" stop-color="#487199"/><stop offset="1" stop-color="#447a99"/></linearGradient><linearGradient id="r136" gradientUnits="userSpaceOnUse" x1="1067.2" x2="1309.4" y1="0" y2="0"><stop offset="0" stop-color="#92d95c"/><stop offset="0.04" stop-color="#85d564"/><stop offset="0.08" stop-color="#6cce73"/><stop offset="0.12" stop-color="#5ac77d"/><stop offset="0.16" stop-color="#4bbf85"/><stop offset="0.2" stop-color="#3eb68d"/><stop offset="0.24" stop-color="#36ad92"/><stop offset="0.28" stop-color="#35a695"/><stop offset="0.32" stop-color="#369f97"/><stop offset="0.36" stop-color="#389998"/><stop offset="0.4" stop-color="#3a9399"/><stop offset="0.44" stop-color="#3d8c99"/><stop offset="0.48" stop-color="#41819a"/><stop offset="0.52" stop-color="#457899"/><stop offset="0.56" stop-color="#487199"/><stop offset="0.6" stop-color="#4a6d98"/><stop offset="0.64" stop-color="#4c6898"/><stop offset="0.68" stop-color="#4c6898"/><stop offset="0.72" stop-color="#4b6a98"/><stop offset="0.76" stop-color="#4b6b98"/><stop offset="0.8" stop-color="#4b6b98"/><stop offset="0.84" stop-color="#4b6b98"/><stop offset="0.88" stop-color="#4b6a98"/><stop offset="0.92" stop-color="#4a6d98"/><stop offset="0.96" stop-color="#467699"/><stop offset="1" stop-color="#437b99"/></linearGradient><linearGradient id="r137" gradientUnits="userSpaceOnUse" x1="1064.8" x2="1311.8" y1="0" y2="0"><stop offset="0" stop-color="#92d95c"/><stop offset="0.04" stop-color="#87d663"/><stop offset="0.08" stop-color="#6ecf71"/><stop offset="0.12" stop-color="#58c67e"/><stop offset="0.16" stop-color="#49be86"/><stop offset="0.2" stop-color="#3db68d"/><stop offset="0.24" stop-color="#36ac92"/><stop offset="0.28" stop-color="#35a695"/><stop offset="0.32" stop-color="#369e97"/><stop offset="0.36" stop-color="#389799"/><stop offset="0.4" stop-color="#3b9199"/><stop offset="0.44" stop-color="#3d8a9a"/><stop offset="0.48" stop-color="#41809a"/><stop offset="0.52" stop-color="#457899"/><stop offset="0.56" stop-color="#477399"/><stop offset="0.6" stop-color="#496f98"/><stop offset="0.64" stop-color="#4b6a98"/><stop offset="0.68" stop-color="#4b6a98"/><stop offset="0.72" stop-color="#4a6d98"/><stop offset="0.76" stop-color="#496e98"/><stop offset="0.8" stop-color="#496e98"/><stop offset="0.84" stop-color="#496e98"/><stop offset="0.88" stop-color="#496f98"/><stop offset="0.92" stop-color="#477299"/><stop offset="0.96" stop-color="#437b99"/><stop offset="1" stop-color="#41809a"/></linearGradient><linearGradient id="r138" gradientUnits="userSpaceOnUse" x1="1062.3" x2="1314.3" y1="0" y2="0"><stop offset="0" stop-color="#94d95a"/><stop offset="0.04" stop-color="#89d761"/><stop offset="0.08" stop-color="#70cf70"/><stop offset="0.12" stop-color="#5ac77d"/><stop offset="0.15" stop-color="#49be86"/><stop offset="0.19" stop-color="#3eb68d"/><stop offset="0.23" stop-color="#37ae92"/><stop offset="0.27" stop-color="#35a795"/><stop offset="0.31" stop-color="#35a197"/><stop offset="0.35" stop-color="#389998"/><stop offset="0.38" stop-color="#3a9299"/><stop offset="0.42" stop-color="#3d8c99"/><stop offset="0.46" stop-color="#3f859a"/><stop offset="0.5" stop-color="#427e99"/><stop offset="0.54" stop-color="#457899"/><stop offset="0.58" stop-color="#467499"/><stop offset="0.62" stop-color="#496f98"/><stop offset="0.65" stop-color="#4b6a98"/><stop offset="0.69" stop-color="#4a6c98"/><stop offset="0.73" stop-color="#496f98"/><stop offset="0.77" stop-color="#487199"/><stop offset="0.81" stop-color="#487299"/><stop offset="0.85" stop-color="#487299"/><stop offset="0.88" stop-color="#467499"/><stop offset="0.92" stop-color="#447a99"/><stop offset="0.96" stop-color="#41809a"/><stop offset="1" stop-color="#3d8b9a"/></linearGradient><linearGradient id="r139" gradientUnits="userSpaceOnUse" x1="1059.9" x2="1316.7" y1="0" y2="0"><stop offset="0" stop-color="#97da59"/><stop offset="0.04" stop-color="#89d761"/><stop offset="0.08" stop-color="#72d06f"/><stop offset="0.12" stop-color="#5ac77d"/><stop offset="0.15" stop-color="#49be86"/><stop offset="0.19" stop-color="#3db68d"/><stop offset="0.23" stop-color="#37ae92"/><stop offset="0.27" stop-color="#35a894"/><stop offset="0.31" stop-color="#35a296"/><stop offset="0.35" stop-color="#379a98"/><stop offset="0.38" stop-color="#3a9299"/><stop offset="0.42" stop-color="#3d8c99"/><stop offset="0.46" stop-color="#3f869a"/><stop offset="0.5" stop-color="#41809a"/><stop offset="0.54" stop-color="#437b99"/><stop offset="0.58" stop-color="#457799"/><stop offset="0.62" stop-color="#487199"/><stop offset="0.65" stop-color="#4a6c98"/><stop offset="0.69" stop-color="#4a6d98"/><stop offset="0.73" stop-color="#487199"/><stop offset="0.77" stop-color="#477399"/><stop offset="0.81" stop-color="#467499"/><stop offset="0.85" stop-color="#467599"/><stop offset="0.88" stop-color="#447a99"/><stop offset="0.92" stop-color="#41809a"/><stop offset="0.96" stop-color="#3e889a"/><stop offset="1" stop-color="#399499"/></linearGradient><linearGradient id="r140" gradientUnits="userSpaceOnUse" x1="1057.4" x2="1319.2" y1="0" y2="0"><stop offset="0" stop-color="#9bdb56"/><stop offset="0.04" stop-color="#8ed85e"/><stop offset="0.07" stop-color="#74d16e"/><stop offset="0.11" stop-color="#5ec87b"/><stop offset="0.15" stop-color="#4bbf85"/><stop offset="0.19" stop-color="#3fb78c"/><stop offset="0.22" stop-color="#38b190"/><stop offset="0.26" stop-color="#36ab93"/><stop offset="0.3" stop-color="#35a595"/><stop offset="0.33" stop-color="#369d98"/><stop offset="0.37" stop-color="#399699"/><stop offset="0.41" stop-color="#3c8e99"/><stop offset="0.44" stop-color="#3e899a"/><stop offset="0.48" stop-color="#3f869a"/><stop offset="0.52" stop-color="#41809a"/><stop offset="0.56" stop-color="#437c99"/><stop offset="0.59" stop-color="#467599"/><stop offset="0.63" stop-color="#497099"/><stop offset="0.67" stop-color="#4a6d98"/><stop offset="0.7" stop-color="#496f98"/><stop offset="0.74" stop-color="#477299"/><stop offset="0.78" stop-color="#467699"/><stop offset="0.81" stop-color="#457899"/><stop offset="0.85" stop-color="#437b99"/><stop offset="0.89" stop-color="#41819a"/><stop offset="0.93" stop-color="#3e879a"/><stop offset="0.96" stop-color="#3b8f99"/><stop offset="1" stop-color="#389799"/></linearGradient><linearGradient id="r141" gradientUnits="userSpaceOnUse" x1="1055" x2="1321.6" y1="0" y2="0"><stop offset="0" stop-color="#9edb54"/><stop offset="0.04" stop-color="#90d85d"/><stop offset="0.07" stop-color="#76d16d"/><stop offset="0.11" stop-color="#5ec87b"/><stop offset="0.15" stop-color="#4bbf85"/><stop offset="0.19" stop-color="#3fb78c"/><stop offset="0.22" stop-color="#39b190"/><stop offset="0.26" stop-color="#36ab93"/><stop offset="0.3" stop-color="#35a595"/><stop offset="0.33" stop-color="#369e97"/><stop offset="0.37" stop-color="#389799"/><stop offset="0.41" stop-color="#3b9099"/><stop offset="0.44" stop-color="#3d8c99"/><stop offset="0.48" stop-color="#3e879a"/><stop offset="0.52" stop-color="#40839a"/><stop offset="0.56" stop-color="#427e99"/><stop offset="0.59" stop-color="#457799"/><stop offset="0.63" stop-color="#487299"/><stop offset="0.67" stop-color="#496e98"/><stop offset="0.7" stop-color="#497099"/><stop offset="0.74" stop-color="#477399"/><stop offset="0.78" stop-color="#457899"/><stop offset="0.81" stop-color="#437c99"/><stop offset="0.85" stop-color="#41819a"/><stop offset="0.89" stop-color="#3e879a"/><stop offset="0.93" stop-color="#3c8d99"/><stop offset="0.96" stop-color="#399499"/><stop offset="1" stop-color="#389799"/></linearGradient><linearGradient id="r142" gradientUnits="userSpaceOnUse" x1="1052.5" x2="1324" y1="0" y2="0"><stop offset="0" stop-color="#9edb54"/><stop offset="0.04" stop-color="#92d95c"/><stop offset="0.07" stop-color="#7ad26a"/><stop offset="0.11" stop-color="#63ca78"/><stop offset="0.14" stop-color="#50c282"/><stop offset="0.18" stop-color="#42ba8a"/><stop offset="0.21" stop-color="#3bb48e"/><stop offset="0.25" stop-color="#36ad92"/><stop offset="0.29" stop-color="#35a795"/><stop offset="0.32" stop-color="#35a296"/><stop offset="0.36" stop-color="#379b98"/><stop offset="0.39" stop-color="#3a9399"/><stop offset="0.43" stop-color="#3b8f99"/><stop offset="0.46" stop-color="#3d8b9a"/><stop offset="0.5" stop-color="#3e879a"/><stop offset="0.54" stop-color="#40839a"/><stop offset="0.57" stop-color="#437c99"/><stop offset="0.61" stop-color="#457799"/><stop offset="0.64" stop-color="#477299"/><stop offset="0.68" stop-color="#496f98"/><stop offset="0.71" stop-color="#487299"/><stop offset="0.75" stop-color="#457799"/><stop offset="0.79" stop-color="#437c99"/><stop offset="0.82" stop-color="#41819a"/><stop offset="0.86" stop-color="#3e879a"/><stop offset="0.89" stop-color="#3c8d99"/><stop offset="0.93" stop-color="#3a9399"/><stop offset="0.96" stop-color="#389998"/><stop offset="1" stop-color="#379c98"/></linearGradient><linearGradient id="r143" gradientUnits="userSpaceOnUse" x1="1050.1" x2="1326.5" y1="0" y2="0"><stop offset="0" stop-color="#a0dc53"/><stop offset="0.04" stop-color="#97da59"/><stop offset="0.07" stop-color="#7fd468"/><stop offset="0.11" stop-color="#68cd75"/><stop offset="0.14" stop-color="#54c480"/><stop offset="0.18" stop-color="#45bc88"/><stop offset="0.21" stop-color="#3db68d"/><stop offset="0.25" stop-color="#37af91"/><stop offset="0.29" stop-color="#35a994"/><stop offset="0.32" stop-color="#35a296"/><stop offset="0.36" stop-color="#379c98"/><stop offset="0.39" stop-color="#399699"/><stop offset="0.43" stop-color="#3b9199"/><stop offset="0.46" stop-color="#3c8c99"/><stop offset="0.5" stop-color="#3e899a"/><stop offset="0.54" stop-color="#3f859a"/><stop offset="0.57" stop-color="#427e99"/><stop offset="0.61" stop-color="#447999"/><stop offset="0.64" stop-color="#467499"/><stop offset="0.68" stop-color="#487299"/><stop offset="0.71" stop-color="#467499"/><stop offset="0.75" stop-color="#447a99"/><stop offset="0.79" stop-color="#41819a"/><stop offset="0.82" stop-color="#3f869a"/><stop offset="0.86" stop-color="#3d8c99"/><stop offset="0.89" stop-color="#3a9299"/><stop offset="0.93" stop-color="#389898"/><stop offset="0.96" stop-color="#369d98"/><stop offset="1" stop-color="#35a695"/></linearGradient><linearGradient id="r144" gradientUnits="userSpaceOnUse" x1="1047.6" x2="1328.9" y1="0" y2="0"><stop offset="0" stop-color="#a0dc53"/><stop offset="0.03" stop-color="#9bdb56"/><stop offset="0.07" stop-color="#87d663"/><stop offset="0.1" stop-color="#70cf70"/><stop offset="0.14" stop-color="#5cc87c"/><stop offset="0.17" stop-color="#4bbf85"/><stop offset="0.21" stop-color="#40b88b"/><stop offset="0.24" stop-color="#3ab28f"/><stop offset="0.28" stop-color="#36ac92"/><stop offset="0.31" stop-color="#35a695"/><stop offset="0.34" stop-color="#36a097"/><stop offset="0.38" stop-color="#379a98"/><stop offset="0.41" stop-color="#399599"/><stop offset="0.45" stop-color="#3b9099"/><stop offset="0.48" stop-color="#3c8c99"/><stop offset="0.52" stop-color="#3e889a"/><stop offset="0.55" stop-color="#40839a"/><stop offset="0.59" stop-color="#427f99"/><stop offset="0.62" stop-color="#437b99"/><stop offset="0.66" stop-color="#457799"/><stop offset="0.69" stop-color="#467599"/><stop offset="0.72" stop-color="#447a99"/><stop offset="0.76" stop-color="#41809a"/><stop offset="0.79" stop-color="#3e879a"/><stop offset="0.83" stop-color="#3c8c99"/><stop offset="0.86" stop-color="#3a9199"/><stop offset="0.9" stop-color="#389799"/><stop offset="0.93" stop-color="#369d98"/><stop offset="0.97" stop-color="#35a496"/><stop offset="1" stop-color="#37ae92"/></linearGradient><linearGradient id="r145" gradientUnits="userSpaceOnUse" x1="1045.2" x2="1331.4" y1="0" y2="0"><stop offset="0" stop-color="#a7dd4e"/><stop offset="0.03" stop-color="#9edb54"/><stop offset="0.07" stop-color="#8bd760"/><stop offset="0.1" stop-color="#76d16d"/><stop offset="0.14" stop-color="#61ca79"/><stop offset="0.17" stop-color="#4fc283"/><stop offset="0.21" stop-color="#43ba8a"/><stop offset="0.24" stop-color="#3bb48e"/><stop offset="0.28" stop-color="#37ae92"/><stop offset="0.31" stop-color="#35a795"/><stop offset="0.34" stop-color="#35a296"/><stop offset="0.38" stop-color="#379c98"/><stop offset="0.41" stop-color="#389799"/><stop offset="0.45" stop-color="#3a9299"/><stop offset="0.48" stop-color="#3c8e99"/><stop offset="0.52" stop-color="#3d8a9a"/><stop offset="0.55" stop-color="#3f859a"/><stop offset="0.59" stop-color="#40829a"/><stop offset="0.62" stop-color="#41809a"/><stop offset="0.66" stop-color="#437b99"/><stop offset="0.69" stop-color="#447a99"/><stop offset="0.72" stop-color="#427f99"/><stop offset="0.76" stop-color="#3f869a"/><stop offset="0.79" stop-color="#3c8c99"/><stop offset="0.83" stop-color="#3b9199"/><stop offset="0.86" stop-color="#399699"/><stop offset="0.9" stop-color="#379c98"/><stop offset="0.93" stop-color="#35a296"/><stop offset="0.97" stop-color="#35aa94"/><stop offset="1" stop-color="#38b190"/></linearGradient><linearGradient id="r146" gradientUnits="userSpaceOnUse" x1="1042.7" x2="1333.8" y1="0" y2="0"><stop offset="0" stop-color="#b0df48"/><stop offset="0.03" stop-color="#a2dc51"/><stop offset="0.07" stop-color="#90d85d"/><stop offset="0.1" stop-color="#7fd468"/><stop offset="0.13" stop-color="#68cd75"/><stop offset="0.17" stop-color="#57c57f"/><stop offset="0.2" stop-color="#47bd87"/><stop offset="0.23" stop-color="#3fb78c"/><stop offset="0.27" stop-color="#39b190"/><stop offset="0.3" stop-color="#36ab93"/><stop offset="0.33" stop-color="#35a595"/><stop offset="0.37" stop-color="#36a097"/><stop offset="0.4" stop-color="#379b98"/><stop offset="0.43" stop-color="#389799"/><stop offset="0.47" stop-color="#3a9199"/><stop offset="0.5" stop-color="#3c8d99"/><stop offset="0.53" stop-color="#3e899a"/><stop offset="0.57" stop-color="#3f859a"/><stop offset="0.6" stop-color="#3f869a"/><stop offset="0.63" stop-color="#40839a"/><stop offset="0.67" stop-color="#41809a"/><stop offset="0.7" stop-color="#41809a"/><stop offset="0.73" stop-color="#3f869a"/><stop offset="0.77" stop-color="#3c8c99"/><stop offset="0.8" stop-color="#3a9299"/><stop offset="0.83" stop-color="#389799"/><stop offset="0.87" stop-color="#379b98"/><stop offset="0.9" stop-color="#35a197"/><stop offset="0.93" stop-color="#35a795"/><stop offset="0.97" stop-color="#37af91"/><stop offset="1" stop-color="#39b190"/></linearGradient><linearGradient id="r147" gradientUnits="userSpaceOnUse" x1="1040.2" x2="1336.3" y1="0" y2="0"><stop offset="0" stop-color="#b5e045"/><stop offset="0.03" stop-color="#a7dd4e"/><stop offset="0.07" stop-color="#94d95a"/><stop offset="0.1" stop-color="#81d466"/><stop offset="0.13" stop-color="#6ecf71"/><stop offset="0.17" stop-color="#5ac77d"/><stop offset="0.2" stop-color="#4bbf85"/><stop offset="0.23" stop-color="#41b98b"/><stop offset="0.27" stop-color="#3ab38f"/><stop offset="0.3" stop-color="#36ad92"/><stop offset="0.33" stop-color="#35a795"/><stop offset="0.37" stop-color="#35a296"/><stop offset="0.4" stop-color="#379c98"/><stop offset="0.43" stop-color="#389898"/><stop offset="0.47" stop-color="#3a9399"/><stop offset="0.5" stop-color="#3b8f99"/><stop offset="0.53" stop-color="#3d8b9a"/><stop offset="0.57" stop-color="#3e889a"/><stop offset="0.6" stop-color="#3d8a9a"/><stop offset="0.63" stop-color="#3e889a"/><stop offset="0.67" stop-color="#3f859a"/><stop offset="0.7" stop-color="#3f869a"/><stop offset="0.73" stop-color="#3d8b9a"/><stop offset="0.77" stop-color="#3a9199"/><stop offset="0.8" stop-color="#389799"/><stop offset="0.83" stop-color="#379b98"/><stop offset="0.87" stop-color="#36a097"/><stop offset="0.9" stop-color="#35a695"/><stop offset="0.93" stop-color="#36ac92"/><stop offset="0.97" stop-color="#3ab38f"/><stop offset="1" stop-color="#3db68d"/></linearGradient><linearGradient id="r148" gradientUnits="userSpaceOnUse" x1="1037.8" x2="1338.7" y1="0" y2="0"><stop offset="0" stop-color="#b8e043"/><stop offset="0.03" stop-color="#acde4b"/><stop offset="0.06" stop-color="#97da59"/><stop offset="0.1" stop-color="#85d564"/><stop offset="0.13" stop-color="#74d16e"/><stop offset="0.16" stop-color="#63ca78"/><stop offset="0.19" stop-color="#50c282"/><stop offset="0.23" stop-color="#45bc88"/><stop offset="0.26" stop-color="#3eb68d"/><stop offset="0.29" stop-color="#38b190"/><stop offset="0.32" stop-color="#36ab93"/><stop offset="0.35" stop-color="#35a595"/><stop offset="0.39" stop-color="#35a197"/><stop offset="0.42" stop-color="#379c98"/><stop offset="0.45" stop-color="#389799"/><stop offset="0.48" stop-color="#3a9399"/><stop offset="0.52" stop-color="#3b8f99"/><stop offset="0.55" stop-color="#3d8b9a"/><stop offset="0.58" stop-color="#3d8c99"/><stop offset="0.61" stop-color="#3c8e99"/><stop offset="0.65" stop-color="#3d8c99"/><stop offset="0.68" stop-color="#3d8a9a"/><stop offset="0.71" stop-color="#3c8c99"/><stop offset="0.74" stop-color="#3a9199"/><stop offset="0.77" stop-color="#389898"/><stop offset="0.81" stop-color="#369d98"/><stop offset="0.84" stop-color="#35a197"/><stop offset="0.87" stop-color="#35a595"/><stop offset="0.9" stop-color="#36ac93"/><stop offset="0.94" stop-color="#3ab38f"/><stop offset="0.97" stop-color="#40b88b"/><stop offset="1" stop-color="#4bbf85"/></linearGradient><linearGradient id="r149" gradientUnits="userSpaceOnUse" x1="1035.3" x2="1341.2" y1="0" y2="0"><stop offset="0" stop-color="#b8e043"/><stop offset="0.03" stop-color="#aedf4a"/><stop offset="0.06" stop-color="#9bdb56"/><stop offset="0.1" stop-color="#87d663"/><stop offset="0.13" stop-color="#76d16d"/><stop offset="0.16" stop-color="#65cb77"/><stop offset="0.19" stop-color="#55c580"/><stop offset="0.23" stop-color="#48be87"/><stop offset="0.26" stop-color="#40b88b"/><stop offset="0.29" stop-color="#3ab28f"/><stop offset="0.32" stop-color="#36ac92"/><stop offset="0.35" stop-color="#35a795"/><stop offset="0.39" stop-color="#35a296"/><stop offset="0.42" stop-color="#369e97"/><stop offset="0.45" stop-color="#389998"/><stop offset="0.48" stop-color="#399599"/><stop offset="0.52" stop-color="#3b9099"/><stop offset="0.55" stop-color="#3c8d99"/><stop offset="0.58" stop-color="#3b8f99"/><stop offset="0.61" stop-color="#3a9199"/><stop offset="0.65" stop-color="#3b9199"/><stop offset="0.68" stop-color="#3b8f99"/><stop offset="0.71" stop-color="#3a9299"/><stop offset="0.74" stop-color="#389799"/><stop offset="0.77" stop-color="#369d98"/><stop offset="0.81" stop-color="#35a296"/><stop offset="0.84" stop-color="#35a695"/><stop offset="0.87" stop-color="#36ab93"/><stop offset="0.9" stop-color="#39b190"/><stop offset="0.94" stop-color="#41b98b"/><stop offset="0.97" stop-color="#49be86"/><stop offset="1" stop-color="#5ac77d"/></linearGradient><linearGradient id="r150" gradientUnits="userSpaceOnUse" x1="1032.9" x2="1343.6" y1="0" y2="0"><stop offset="0" stop-color="#b8e043"/><stop offset="0.03" stop-color="#b3df47"/><stop offset="0.06" stop-color="#a0dc53"/><stop offset="0.09" stop-color="#8bd760"/><stop offset="0.12" stop-color="#7ad26a"/><stop offset="0.16" stop-color="#6acd74"/><stop offset="0.19" stop-color="#5ac77d"/><stop offset="0.22" stop-color="#4cc084"/><stop offset="0.25" stop-color="#43ba8a"/><stop offset="0.28" stop-color="#3db68d"/><stop offset="0.31" stop-color="#38b091"/><stop offset="0.34" stop-color="#36ab93"/><stop offset="0.38" stop-color="#35a695"/><stop offset="0.41" stop-color="#35a296"/><stop offset="0.44" stop-color="#369d98"/><stop offset="0.47" stop-color="#389898"/><stop offset="0.5" stop-color="#399499"/><stop offset="0.53" stop-color="#3b9099"/><stop offset="0.56" stop-color="#3b9199"/><stop offset="0.59" stop-color="#3a9399"/><stop offset="0.62" stop-color="#399699"/><stop offset="0.66" stop-color="#399599"/><stop offset="0.69" stop-color="#399699"/><stop offset="0.72" stop-color="#389998"/><stop offset="0.75" stop-color="#369e97"/><stop offset="0.78" stop-color="#35a396"/><stop offset="0.81" stop-color="#35a795"/><stop offset="0.84" stop-color="#36ac93"/><stop offset="0.88" stop-color="#38b190"/><stop offset="0.91" stop-color="#40b88b"/><stop offset="0.94" stop-color="#4bbf85"/><stop offset="0.97" stop-color="#54c480"/><stop offset="1" stop-color="#5fc97a"/></linearGradient><linearGradient id="r151" gradientUnits="userSpaceOnUse" x1="1030.4" x2="1346" y1="0" y2="0"><stop offset="0" stop-color="#b8e043"/><stop offset="0.03" stop-color="#b5e045"/><stop offset="0.06" stop-color="#a2dc51"/><stop offset="0.09" stop-color="#8ed85e"/><stop offset="0.12" stop-color="#7cd369"/><stop offset="0.16" stop-color="#6cce73"/><stop offset="0.19" stop-color="#5cc87c"/><stop offset="0.22" stop-color="#4fc283"/><stop offset="0.25" stop-color="#45bc88"/><stop offset="0.28" stop-color="#3eb68d"/><stop offset="0.31" stop-color="#38b190"/><stop offset="0.34" stop-color="#36ac92"/><stop offset="0.38" stop-color="#35a894"/><stop offset="0.41" stop-color="#35a396"/><stop offset="0.44" stop-color="#369f97"/><stop offset="0.47" stop-color="#379a98"/><stop offset="0.5" stop-color="#399699"/><stop offset="0.53" stop-color="#3a9299"/><stop offset="0.56" stop-color="#3a9399"/><stop offset="0.59" stop-color="#389799"/><stop offset="0.62" stop-color="#379a98"/><stop offset="0.66" stop-color="#379a98"/><stop offset="0.69" stop-color="#379c98"/><stop offset="0.72" stop-color="#369f97"/><stop offset="0.75" stop-color="#35a396"/><stop offset="0.78" stop-color="#35a894"/><stop offset="0.81" stop-color="#36ac92"/><stop offset="0.84" stop-color="#39b190"/><stop offset="0.88" stop-color="#3fb78c"/><stop offset="0.91" stop-color="#48be87"/><stop offset="0.94" stop-color="#54c480"/><stop offset="0.97" stop-color="#5ec87b"/><stop offset="1" stop-color="#5fc97a"/></linearGradient><linearGradient id="r152" gradientUnits="userSpaceOnUse" x1="1028" x2="1348.5" y1="0" y2="0"><stop offset="0" stop-color="#b8e043"/><stop offset="0.03" stop-color="#bae142"/><stop offset="0.06" stop-color="#a7dd4e"/><stop offset="0.09" stop-color="#92d95c"/><stop offset="0.12" stop-color="#81d466"/><stop offset="0.15" stop-color="#70cf70"/><stop offset="0.18" stop-color="#5fc97a"/><stop offset="0.21" stop-color="#52c381"/><stop offset="0.24" stop-color="#48be87"/><stop offset="0.27" stop-color="#41b98b"/><stop offset="0.3" stop-color="#3ab38f"/><stop offset="0.33" stop-color="#37af91"/><stop offset="0.36" stop-color="#36ac93"/><stop offset="0.39" stop-color="#35a795"/><stop offset="0.42" stop-color="#35a296"/><stop offset="0.45" stop-color="#369e97"/><stop offset="0.48" stop-color="#379a98"/><stop offset="0.52" stop-color="#399699"/><stop offset="0.55" stop-color="#399699"/><stop offset="0.58" stop-color="#389998"/><stop offset="0.61" stop-color="#379c98"/><stop offset="0.64" stop-color="#369e97"/><stop offset="0.67" stop-color="#369f97"/><stop offset="0.7" stop-color="#35a296"/><stop offset="0.73" stop-color="#35a695"/><stop offset="0.76" stop-color="#35aa94"/><stop offset="0.79" stop-color="#37af91"/><stop offset="0.82" stop-color="#3ab38f"/><stop offset="0.85" stop-color="#40b88b"/><stop offset="0.88" stop-color="#48be87"/><stop offset="0.91" stop-color="#54c480"/><stop offset="0.94" stop-color="#5fc97a"/><stop offset="0.97" stop-color="#67cc76"/><stop offset="1" stop-color="#61ca79"/></linearGradient><linearGradient id="r153" gradientUnits="userSpaceOnUse" x1="1025.5" x2="1350.9" y1="0" y2="0"><stop offset="0" stop-color="#bce140"/><stop offset="0.03" stop-color="#bce140"/><stop offset="0.06" stop-color="#acde4b"/><stop offset="0.09" stop-color="#94d95a"/><stop offset="0.12" stop-color="#83d565"/><stop offset="0.15" stop-color="#70cf70"/><stop offset="0.18" stop-color="#61ca79"/><stop offset="0.21" stop-color="#54c480"/><stop offset="0.24" stop-color="#49be86"/><stop offset="0.27" stop-color="#42ba8a"/><stop offset="0.3" stop-color="#3bb48e"/><stop offset="0.33" stop-color="#38b091"/><stop offset="0.36" stop-color="#36ac92"/><stop offset="0.39" stop-color="#35a994"/><stop offset="0.42" stop-color="#35a496"/><stop offset="0.45" stop-color="#36a097"/><stop offset="0.48" stop-color="#379c98"/><stop offset="0.52" stop-color="#389898"/><stop offset="0.55" stop-color="#389998"/><stop offset="0.58" stop-color="#379c98"/><stop offset="0.61" stop-color="#36a097"/><stop offset="0.64" stop-color="#35a296"/><stop offset="0.67" stop-color="#35a496"/><stop offset="0.7" stop-color="#35a795"/><stop offset="0.73" stop-color="#36ac93"/><stop offset="0.76" stop-color="#37af91"/><stop offset="0.79" stop-color="#3bb48e"/><stop offset="0.82" stop-color="#41b98b"/><stop offset="0.85" stop-color="#48be87"/><stop offset="0.88" stop-color="#52c381"/><stop offset="0.91" stop-color="#5fc97a"/><stop offset="0.94" stop-color="#6acd74"/><stop offset="0.97" stop-color="#6ecf71"/><stop offset="1" stop-color="#63ca78"/></linearGradient><linearGradient id="r154" gradientUnits="userSpaceOnUse" x1="1023.1" x2="1353.4" y1="0" y2="0"><stop offset="0" stop-color="#cbe338"/><stop offset="0.03" stop-color="#c1e23d"/><stop offset="0.06" stop-color="#b3df47"/><stop offset="0.09" stop-color="#9bdb56"/><stop offset="0.12" stop-color="#87d663"/><stop offset="0.15" stop-color="#74d16e"/><stop offset="0.18" stop-color="#65cb77"/><stop offset="0.21" stop-color="#57c57f"/><stop offset="0.24" stop-color="#4cc084"/><stop offset="0.26" stop-color="#44bb89"/><stop offset="0.29" stop-color="#3eb68d"/><stop offset="0.32" stop-color="#39b190"/><stop offset="0.35" stop-color="#37af91"/><stop offset="0.38" stop-color="#36ac93"/><stop offset="0.41" stop-color="#35a795"/><stop offset="0.44" stop-color="#35a396"/><stop offset="0.47" stop-color="#369f97"/><stop offset="0.5" stop-color="#379c98"/><stop offset="0.53" stop-color="#379b98"/><stop offset="0.56" stop-color="#369f97"/><stop offset="0.59" stop-color="#35a296"/><stop offset="0.62" stop-color="#35a595"/><stop offset="0.65" stop-color="#35a795"/><stop offset="0.68" stop-color="#35aa94"/><stop offset="0.71" stop-color="#37ae92"/><stop offset="0.74" stop-color="#39b190"/><stop offset="0.76" stop-color="#3cb58e"/><stop offset="0.79" stop-color="#42ba8a"/><stop offset="0.82" stop-color="#4bbf85"/><stop offset="0.85" stop-color="#54c480"/><stop offset="0.88" stop-color="#5fc97a"/><stop offset="0.91" stop-color="#6cce73"/><stop offset="0.94" stop-color="#76d16d"/><stop offset="0.97" stop-color="#78d26b"/><stop offset="1" stop-color="#6cce73"/></linearGradient><linearGradient id="r155" gradientUnits="userSpaceOnUse" x1="1020.6" x2="1355.8" y1="0" y2="0"><stop offset="0" stop-color="#e0e630"/><stop offset="0.03" stop-color="#c8e339"/><stop offset="0.06" stop-color="#b8e043"/><stop offset="0.09" stop-color="#a2dc51"/><stop offset="0.12" stop-color="#89d761"/><stop offset="0.15" stop-color="#76d16d"/><stop offset="0.18" stop-color="#67cc76"/><stop offset="0.21" stop-color="#58c67e"/><stop offset="0.24" stop-color="#4cc084"/><stop offset="0.26" stop-color="#44bb89"/><stop offset="0.29" stop-color="#3eb68d"/><stop offset="0.32" stop-color="#39b190"/><stop offset="0.35" stop-color="#37af91"/><stop offset="0.38" stop-color="#36ac92"/><stop offset="0.41" stop-color="#35a994"/><stop offset="0.44" stop-color="#35a595"/><stop offset="0.47" stop-color="#35a296"/><stop offset="0.5" stop-color="#369e97"/><stop offset="0.53" stop-color="#369e97"/><stop offset="0.56" stop-color="#35a296"/><stop offset="0.59" stop-color="#35a795"/><stop offset="0.62" stop-color="#35a994"/><stop offset="0.65" stop-color="#36ab93"/><stop offset="0.68" stop-color="#37ae92"/><stop offset="0.71" stop-color="#3ab28f"/><stop offset="0.74" stop-color="#3eb68d"/><stop offset="0.76" stop-color="#42ba8a"/><stop offset="0.79" stop-color="#48be87"/><stop offset="0.82" stop-color="#54c480"/><stop offset="0.85" stop-color="#5fc97a"/><stop offset="0.88" stop-color="#6cce73"/><stop offset="0.91" stop-color="#78d26b"/><stop offset="0.94" stop-color="#81d466"/><stop offset="0.97" stop-color="#85d564"/><stop offset="1" stop-color="#94d95a"/></linearGradient><linearGradient id="r156" gradientUnits="userSpaceOnUse" x1="1018.2" x2="1358.3" y1="0" y2="0"><stop offset="0" stop-color="#e9e730"/><stop offset="0.03" stop-color="#d2e434"/><stop offset="0.06" stop-color="#bce140"/><stop offset="0.09" stop-color="#a9de4d"/><stop offset="0.11" stop-color="#90d85d"/><stop offset="0.14" stop-color="#7cd369"/><stop offset="0.17" stop-color="#6acd74"/><stop offset="0.2" stop-color="#5cc87c"/><stop offset="0.23" stop-color="#4fc283"/><stop offset="0.26" stop-color="#45bc88"/><stop offset="0.29" stop-color="#40b88b"/><stop offset="0.31" stop-color="#3ab38f"/><stop offset="0.34" stop-color="#38b091"/><stop offset="0.37" stop-color="#37ae92"/><stop offset="0.4" stop-color="#36ac93"/><stop offset="0.43" stop-color="#35a894"/><stop offset="0.46" stop-color="#35a595"/><stop offset="0.49" stop-color="#35a296"/><stop offset="0.51" stop-color="#36a097"/><stop offset="0.54" stop-color="#35a396"/><stop offset="0.57" stop-color="#35a894"/><stop offset="0.6" stop-color="#36ac93"/><stop offset="0.63" stop-color="#36ad92"/><stop offset="0.66" stop-color="#37af91"/><stop offset="0.69" stop-color="#3bb48e"/><stop offset="0.71" stop-color="#40b88b"/><stop offset="0.74" stop-color="#44bb89"/><stop offset="0.77" stop-color="#49be86"/><stop offset="0.8" stop-color="#52c381"/><stop offset="0.83" stop-color="#5ec87b"/><stop offset="0.86" stop-color="#6cce73"/><stop offset="0.89" stop-color="#7ad26a"/><stop offset="0.91" stop-color="#85d564"/><stop offset="0.94" stop-color="#8ed85e"/><stop offset="0.97" stop-color="#99da57"/><stop offset="1" stop-color="#d0e435"/></linearGradient><linearGradient id="r157" gradientUnits="userSpaceOnUse" x1="1015.7" x2="1360.7" y1="0" y2="0"><stop offset="0" stop-color="#ece731"/><stop offset="0.03" stop-color="#d7e532"/><stop offset="0.06" stop-color="#c1e23d"/><stop offset="0.09" stop-color="#aedf4a"/><stop offset="0.11" stop-color="#97da59"/><stop offset="0.14" stop-color="#7fd468"/><stop offset="0.17" stop-color="#6cce73"/><stop offset="0.2" stop-color="#5cc87c"/><stop offset="0.23" stop-color="#4fc283"/><stop offset="0.26" stop-color="#45bc88"/><stop offset="0.29" stop-color="#40b88b"/><stop offset="0.31" stop-color="#3bb48e"/><stop offset="0.34" stop-color="#38b091"/><stop offset="0.37" stop-color="#37af91"/><stop offset="0.4" stop-color="#36ac92"/><stop offset="0.43" stop-color="#35a994"/><stop offset="0.46" stop-color="#35a795"/><stop offset="0.49" stop-color="#35a595"/><stop offset="0.51" stop-color="#35a396"/><stop offset="0.54" stop-color="#35a795"/><stop offset="0.57" stop-color="#36ab93"/><stop offset="0.6" stop-color="#37ae92"/><stop offset="0.63" stop-color="#38b091"/><stop offset="0.66" stop-color="#39b190"/><stop offset="0.69" stop-color="#3fb78c"/><stop offset="0.71" stop-color="#45bc88"/><stop offset="0.74" stop-color="#4bbf85"/><stop offset="0.77" stop-color="#50c282"/><stop offset="0.8" stop-color="#5ac77d"/><stop offset="0.83" stop-color="#68cd75"/><stop offset="0.86" stop-color="#76d16d"/><stop offset="0.89" stop-color="#85d564"/><stop offset="0.91" stop-color="#90d85d"/><stop offset="0.94" stop-color="#9bdb56"/><stop offset="0.97" stop-color="#b3df47"/><stop offset="1" stop-color="#e7e730"/></linearGradient><linearGradient id="r158" gradientUnits="userSpaceOnUse" x1="1013.3" x2="1363.2" y1="0" y2="0"><stop offset="0" stop-color="#ece731"/><stop offset="0.03" stop-color="#dce530"/><stop offset="0.06" stop-color="#c6e23a"/><stop offset="0.09" stop-color="#b3df47"/><stop offset="0.11" stop-color="#9bdb56"/><stop offset="0.14" stop-color="#83d565"/><stop offset="0.17" stop-color="#6ecf71"/><stop offset="0.2" stop-color="#5ec87b"/><stop offset="0.23" stop-color="#4fc283"/><stop offset="0.26" stop-color="#45bc88"/><stop offset="0.29" stop-color="#40b88b"/><stop offset="0.31" stop-color="#3bb48e"/><stop offset="0.34" stop-color="#38b190"/><stop offset="0.37" stop-color="#37af91"/><stop offset="0.4" stop-color="#36ac92"/><stop offset="0.43" stop-color="#35aa94"/><stop offset="0.46" stop-color="#35a894"/><stop offset="0.49" stop-color="#35a795"/><stop offset="0.51" stop-color="#35a695"/><stop offset="0.54" stop-color="#35aa94"/><stop offset="0.57" stop-color="#36ad92"/><stop offset="0.6" stop-color="#38b091"/><stop offset="0.63" stop-color="#3ab28f"/><stop offset="0.66" stop-color="#3cb58e"/><stop offset="0.69" stop-color="#43ba8a"/><stop offset="0.71" stop-color="#4cc084"/><stop offset="0.74" stop-color="#50c282"/><stop offset="0.77" stop-color="#58c67e"/><stop offset="0.8" stop-color="#63ca78"/><stop offset="0.83" stop-color="#72d06f"/><stop offset="0.86" stop-color="#81d466"/><stop offset="0.89" stop-color="#90d85d"/><stop offset="0.91" stop-color="#9edb54"/><stop offset="0.94" stop-color="#a9de4d"/><stop offset="0.97" stop-color="#c4e23c"/><stop offset="1" stop-color="#e9e730"/></linearGradient><linearGradient id="r159" gradientUnits="userSpaceOnUse" x1="1010.8" x2="1365.6" y1="0" y2="0"><stop offset="0" stop-color="#ece731"/><stop offset="0.03" stop-color="#e0e630"/><stop offset="0.06" stop-color="#cbe338"/><stop offset="0.08" stop-color="#b8e043"/><stop offset="0.11" stop-color="#a2dc51"/><stop offset="0.14" stop-color="#8bd760"/><stop offset="0.17" stop-color="#74d16e"/><stop offset="0.19" stop-color="#61ca79"/><stop offset="0.22" stop-color="#54c480"/><stop offset="0.25" stop-color="#48be87"/><stop offset="0.28" stop-color="#42ba8a"/><stop offset="0.31" stop-color="#3db68d"/><stop offset="0.33" stop-color="#39b190"/><stop offset="0.36" stop-color="#38b091"/><stop offset="0.39" stop-color="#37ae92"/><stop offset="0.42" stop-color="#36ac93"/><stop offset="0.44" stop-color="#35aa94"/><stop offset="0.47" stop-color="#35aa94"/><stop offset="0.5" stop-color="#35a894"/><stop offset="0.53" stop-color="#35aa94"/><stop offset="0.56" stop-color="#36ad92"/><stop offset="0.58" stop-color="#37af91"/><stop offset="0.61" stop-color="#3ab28f"/><stop offset="0.64" stop-color="#3db68d"/><stop offset="0.67" stop-color="#41b98b"/><stop offset="0.69" stop-color="#4bbf85"/><stop offset="0.72" stop-color="#54c480"/><stop offset="0.75" stop-color="#5ac77d"/><stop offset="0.78" stop-color="#63ca78"/><stop offset="0.81" stop-color="#70cf70"/><stop offset="0.83" stop-color="#7fd468"/><stop offset="0.86" stop-color="#8ed85e"/><stop offset="0.89" stop-color="#9edb54"/><stop offset="0.92" stop-color="#acde4b"/><stop offset="0.94" stop-color="#bae142"/><stop offset="0.97" stop-color="#d2e434"/><stop offset="1" stop-color="#ece731"/></linearGradient><linearGradient id="r160" gradientUnits="userSpaceOnUse" x1="1008.4" x2="1368" y1="0" y2="0"><stop offset="0" stop-color="#eee731"/><stop offset="0.03" stop-color="#e5e62f"/><stop offset="0.06" stop-color="#d2e434"/><stop offset="0.08" stop-color="#b8e043"/><stop offset="0.11" stop-color="#a7dd4e"/><stop offset="0.14" stop-color="#92d95c"/><stop offset="0.17" stop-color="#74d16e"/><stop offset="0.19" stop-color="#63ca78"/><stop offset="0.22" stop-color="#55c580"/><stop offset="0.25" stop-color="#48be87"/><stop offset="0.28" stop-color="#42ba8a"/><stop offset="0.31" stop-color="#3cb58e"/><stop offset="0.33" stop-color="#39b190"/><stop offset="0.36" stop-color="#38b091"/><stop offset="0.39" stop-color="#37ae92"/><stop offset="0.42" stop-color="#36ac92"/><stop offset="0.44" stop-color="#36ac93"/><stop offset="0.47" stop-color="#36ab93"/><stop offset="0.5" stop-color="#36ab93"/><stop offset="0.53" stop-color="#36ac93"/><stop offset="0.56" stop-color="#37ae92"/><stop offset="0.58" stop-color="#38b091"/><stop offset="0.61" stop-color="#3ab38f"/><stop offset="0.64" stop-color="#40b88b"/><stop offset="0.67" stop-color="#44bb89"/><stop offset="0.69" stop-color="#4cc084"/><stop offset="0.72" stop-color="#58c67e"/><stop offset="0.75" stop-color="#61ca79"/><stop offset="0.78" stop-color="#6acd74"/><stop offset="0.81" stop-color="#7ad26a"/><stop offset="0.83" stop-color="#89d761"/><stop offset="0.86" stop-color="#97da59"/><stop offset="0.89" stop-color="#a9de4d"/><stop offset="0.92" stop-color="#b8e043"/><stop offset="0.94" stop-color="#c6e23a"/><stop offset="0.97" stop-color="#dee530"/><stop offset="1" stop-color="#eee731"/></linearGradient><linearGradient id="r161" gradientUnits="userSpaceOnUse" x1="1006.4" x2="1370" y1="0" y2="0"><stop offset="0" stop-color="#eee731"/><stop offset="0.03" stop-color="#e9e730"/><stop offset="0.05" stop-color="#dee530"/><stop offset="0.08" stop-color="#b5e045"/><stop offset="0.11" stop-color="#a9de4d"/><stop offset="0.14" stop-color="#9edb54"/><stop offset="0.16" stop-color="#7cd369"/><stop offset="0.19" stop-color="#63ca78"/><stop offset="0.22" stop-color="#5ac77d"/><stop offset="0.24" stop-color="#49be86"/><stop offset="0.27" stop-color="#43ba8a"/><stop offset="0.3" stop-color="#3eb68d"/><stop offset="0.32" stop-color="#39b190"/><stop offset="0.35" stop-color="#38b190"/><stop offset="0.38" stop-color="#37af91"/><stop offset="0.41" stop-color="#36ac92"/><stop offset="0.43" stop-color="#36ac92"/><stop offset="0.46" stop-color="#36ac93"/><stop offset="0.49" stop-color="#36ac93"/><stop offset="0.51" stop-color="#36ac92"/><stop offset="0.54" stop-color="#36ad92"/><stop offset="0.57" stop-color="#38b091"/><stop offset="0.59" stop-color="#38b190"/><stop offset="0.62" stop-color="#3cb58e"/><stop offset="0.65" stop-color="#44bb89"/><stop offset="0.68" stop-color="#48be87"/><stop offset="0.7" stop-color="#4fc283"/><stop offset="0.73" stop-color="#61ca79"/><stop offset="0.76" stop-color="#67cc76"/><stop offset="0.78" stop-color="#70cf70"/><stop offset="0.81" stop-color="#89d761"/><stop offset="0.84" stop-color="#92d95c"/><stop offset="0.86" stop-color="#9bdb56"/><stop offset="0.89" stop-color="#b8e043"/><stop offset="0.92" stop-color="#c1e23d"/><stop offset="0.95" stop-color="#d0e435"/><stop offset="0.97" stop-color="#e7e730"/><stop offset="1" stop-color="#eee731"/></linearGradient><linearGradient id="r162" gradientUnits="userSpaceOnUse" x1="1006.4" x2="1370" y1="0" y2="0"><stop offset="0" stop-color="#eee731"/><stop offset="0.03" stop-color="#ece731"/><stop offset="0.05" stop-color="#e3e62f"/><stop offset="0.08" stop-color="#aedf4a"/><stop offset="0.11" stop-color="#a7dd4e"/><stop offset="0.14" stop-color="#a2dc51"/><stop offset="0.16" stop-color="#7cd369"/><stop offset="0.19" stop-color="#61ca79"/><stop offset="0.22" stop-color="#5cc87c"/><stop offset="0.24" stop-color="#48be87"/><stop offset="0.27" stop-color="#44bb89"/><stop offset="0.3" stop-color="#3eb68d"/><stop offset="0.32" stop-color="#39b190"/><stop offset="0.35" stop-color="#38b190"/><stop offset="0.38" stop-color="#37af91"/><stop offset="0.41" stop-color="#36ac92"/><stop offset="0.43" stop-color="#36ac92"/><stop offset="0.46" stop-color="#36ac92"/><stop offset="0.49" stop-color="#36ac92"/><stop offset="0.51" stop-color="#36ac92"/><stop offset="0.54" stop-color="#37ae92"/><stop offset="0.57" stop-color="#38b190"/><stop offset="0.59" stop-color="#38b190"/><stop offset="0.62" stop-color="#3bb48e"/><stop offset="0.65" stop-color="#45bc88"/><stop offset="0.68" stop-color="#48be87"/><stop offset="0.7" stop-color="#4dc184"/><stop offset="0.73" stop-color="#65cb77"/><stop offset="0.76" stop-color="#68cd75"/><stop offset="0.78" stop-color="#70cf70"/><stop offset="0.81" stop-color="#8ed85e"/><stop offset="0.84" stop-color="#92d95c"/><stop offset="0.86" stop-color="#9bdb56"/><stop offset="0.89" stop-color="#bfe13f"/><stop offset="0.92" stop-color="#c4e23c"/><stop offset="0.95" stop-color="#d2e434"/><stop offset="0.97" stop-color="#ece731"/><stop offset="1" stop-color="#eee731"/></linearGradient><clipPath id="clip163"><polygon points="802.8,679.6 1155.7,679.6 979.3,394.2"/></clipPath><filter id="blur164" x="-5%" y="-5%" width="110%" height="110%"><feGaussianBlur stdDeviation="0.8 2.0"/></filter><linearGradient id="r165" gradientUnits="userSpaceOnUse" x1="973.3" x2="985.3" y1="0" y2="0"><stop offset="0" stop-color="#eee731"/><stop offset="0.5" stop-color="#eee731"/><stop offset="1" stop-color="#ece731"/></linearGradient><linearGradient id="r166" gradientUnits="userSpaceOnUse" x1="973.3" x2="985.3" y1="0" y2="0"><stop offset="0" stop-color="#ece731"/><stop offset="0.5" stop-color="#e9e730"/><stop offset="1" stop-color="#e5e62f"/></linearGradient><linearGradient id="r167" gradientUnits="userSpaceOnUse" x1="970.8" x2="987.8" y1="0" y2="0"><stop offset="0" stop-color="#ece731"/><stop offset="0.5" stop-color="#e3e62f"/><stop offset="1" stop-color="#cbe338"/></linearGradient><linearGradient id="r168" gradientUnits="userSpaceOnUse" x1="968.4" x2="990.2" y1="0" y2="0"><stop offset="0" stop-color="#e9e730"/><stop offset="0.33" stop-color="#e0e630"/><stop offset="0.67" stop-color="#c8e339"/><stop offset="1" stop-color="#b0df48"/></linearGradient><linearGradient id="r169" gradientUnits="userSpaceOnUse" x1="965.9" x2="992.7" y1="0" y2="0"><stop offset="0" stop-color="#e3e62f"/><stop offset="0.33" stop-color="#d9e531"/><stop offset="0.67" stop-color="#b8e043"/><stop offset="1" stop-color="#a2dc51"/></linearGradient><linearGradient id="r170" gradientUnits="userSpaceOnUse" x1="963.4" x2="995.2" y1="0" y2="0"><stop offset="0" stop-color="#d9e531"/><stop offset="0.25" stop-color="#d7e532"/><stop offset="0.5" stop-color="#bce140"/><stop offset="0.75" stop-color="#a2dc51"/><stop offset="1" stop-color="#8ed85e"/></linearGradient><linearGradient id="r171" gradientUnits="userSpaceOnUse" x1="960.9" x2="997.7" y1="0" y2="0"><stop offset="0" stop-color="#d7e532"/><stop offset="0.25" stop-color="#cde336"/><stop offset="0.5" stop-color="#aedf4a"/><stop offset="0.75" stop-color="#8ed85e"/><stop offset="1" stop-color="#68cd75"/></linearGradient><linearGradient id="r172" gradientUnits="userSpaceOnUse" x1="958.5" x2="1000.1" y1="0" y2="0"><stop offset="0" stop-color="#d4e433"/><stop offset="0.2" stop-color="#cde336"/><stop offset="0.4" stop-color="#b0df48"/><stop offset="0.6" stop-color="#8ed85e"/><stop offset="0.8" stop-color="#6ecf71"/><stop offset="1" stop-color="#54c480"/></linearGradient><linearGradient id="r173" gradientUnits="userSpaceOnUse" x1="956" x2="1002.6" y1="0" y2="0"><stop offset="0" stop-color="#d4e433"/><stop offset="0.2" stop-color="#c6e23a"/><stop offset="0.4" stop-color="#a5dd50"/><stop offset="0.6" stop-color="#7fd468"/><stop offset="0.8" stop-color="#5cc87c"/><stop offset="1" stop-color="#4cc084"/></linearGradient><linearGradient id="r174" gradientUnits="userSpaceOnUse" x1="953.5" x2="1005.1" y1="0" y2="0"><stop offset="0" stop-color="#d2e434"/><stop offset="0.17" stop-color="#c8e339"/><stop offset="0.33" stop-color="#a7dd4e"/><stop offset="0.5" stop-color="#85d564"/><stop offset="0.67" stop-color="#67cc76"/><stop offset="0.83" stop-color="#4fc283"/><stop offset="1" stop-color="#42ba8a"/></linearGradient><linearGradient id="r175" gradientUnits="userSpaceOnUse" x1="951" x2="1007.6" y1="0" y2="0"><stop offset="0" stop-color="#cbe338"/><stop offset="0.17" stop-color="#c4e23c"/><stop offset="0.33" stop-color="#a0dc53"/><stop offset="0.5" stop-color="#7ad26a"/><stop offset="0.67" stop-color="#5ec87b"/><stop offset="0.83" stop-color="#48be87"/><stop offset="1" stop-color="#3ab38f"/></linearGradient><linearGradient id="r176" gradientUnits="userSpaceOnUse" x1="948.6" x2="1010" y1="0" y2="0"><stop offset="0" stop-color="#c4e23c"/><stop offset="0.14" stop-color="#c1e23d"/><stop offset="0.29" stop-color="#a7dd4e"/><stop offset="0.43" stop-color="#83d565"/><stop offset="0.57" stop-color="#67cc76"/><stop offset="0.71" stop-color="#50c282"/><stop offset="0.86" stop-color="#3fb78c"/><stop offset="1" stop-color="#38b190"/></linearGradient><linearGradient id="r177" gradientUnits="userSpaceOnUse" x1="946.1" x2="1012.5" y1="0" y2="0"><stop offset="0" stop-color="#c4e23c"/><stop offset="0.14" stop-color="#bae142"/><stop offset="0.29" stop-color="#a0dc53"/><stop offset="0.43" stop-color="#7cd369"/><stop offset="0.57" stop-color="#61ca79"/><stop offset="0.71" stop-color="#4cc084"/><stop offset="0.86" stop-color="#3bb48e"/><stop offset="1" stop-color="#38b091"/></linearGradient><linearGradient id="r178" gradientUnits="userSpaceOnUse" x1="943.6" x2="1015" y1="0" y2="0"><stop offset="0" stop-color="#c4e23c"/><stop offset="0.12" stop-color="#bae142"/><stop offset="0.25" stop-color="#a2dc51"/><stop offset="0.38" stop-color="#85d564"/><stop offset="0.5" stop-color="#68cd75"/><stop offset="0.62" stop-color="#54c480"/><stop offset="0.75" stop-color="#43ba8a"/><stop offset="0.88" stop-color="#38b091"/><stop offset="1" stop-color="#36ac93"/></linearGradient><linearGradient id="r179" gradientUnits="userSpaceOnUse" x1="941.1" x2="1017.4" y1="0" y2="0"><stop offset="0" stop-color="#c4e23c"/><stop offset="0.12" stop-color="#b8e043"/><stop offset="0.25" stop-color="#9edb54"/><stop offset="0.38" stop-color="#7fd468"/><stop offset="0.5" stop-color="#65cb77"/><stop offset="0.62" stop-color="#4fc283"/><stop offset="0.75" stop-color="#3fb78c"/><stop offset="0.88" stop-color="#36ac92"/><stop offset="1" stop-color="#35a197"/></linearGradient><linearGradient id="r180" gradientUnits="userSpaceOnUse" x1="938.7" x2="1019.9" y1="0" y2="0"><stop offset="0" stop-color="#c4e23c"/><stop offset="0.11" stop-color="#b8e043"/><stop offset="0.22" stop-color="#a0dc53"/><stop offset="0.33" stop-color="#85d564"/><stop offset="0.44" stop-color="#6acd74"/><stop offset="0.56" stop-color="#55c580"/><stop offset="0.67" stop-color="#44bb89"/><stop offset="0.78" stop-color="#39b190"/><stop offset="0.89" stop-color="#35a695"/><stop offset="1" stop-color="#389998"/></linearGradient><linearGradient id="r181" gradientUnits="userSpaceOnUse" x1="936.2" x2="1022.4" y1="0" y2="0"><stop offset="0" stop-color="#bfe13f"/><stop offset="0.11" stop-color="#b8e043"/><stop offset="0.22" stop-color="#9bdb56"/><stop offset="0.33" stop-color="#7fd468"/><stop offset="0.44" stop-color="#63ca78"/><stop offset="0.56" stop-color="#4dc184"/><stop offset="0.67" stop-color="#3fb78c"/><stop offset="0.78" stop-color="#36ad92"/><stop offset="0.89" stop-color="#35a197"/><stop offset="1" stop-color="#389799"/></linearGradient><linearGradient id="r182" gradientUnits="userSpaceOnUse" x1="933.7" x2="1024.9" y1="0" y2="0"><stop offset="0" stop-color="#b0df48"/><stop offset="0.1" stop-color="#b8e043"/><stop offset="0.2" stop-color="#9edb54"/><stop offset="0.3" stop-color="#83d565"/><stop offset="0.4" stop-color="#67cc76"/><stop offset="0.5" stop-color="#50c282"/><stop offset="0.6" stop-color="#41b98b"/><stop offset="0.7" stop-color="#38b091"/><stop offset="0.8" stop-color="#35a795"/><stop offset="0.9" stop-color="#379c98"/><stop offset="1" stop-color="#399699"/></linearGradient><linearGradient id="r183" gradientUnits="userSpaceOnUse" x1="931.2" x2="1027.3" y1="0" y2="0"><stop offset="0" stop-color="#a2dc51"/><stop offset="0.1" stop-color="#b0df48"/><stop offset="0.2" stop-color="#9bdb56"/><stop offset="0.3" stop-color="#7fd468"/><stop offset="0.4" stop-color="#5fc97a"/><stop offset="0.5" stop-color="#49be86"/><stop offset="0.6" stop-color="#3cb58e"/><stop offset="0.7" stop-color="#36ac93"/><stop offset="0.8" stop-color="#35a296"/><stop offset="0.9" stop-color="#389998"/><stop offset="1" stop-color="#3a9399"/></linearGradient><linearGradient id="r184" gradientUnits="userSpaceOnUse" x1="928.8" x2="1029.8" y1="0" y2="0"><stop offset="0" stop-color="#aedf4a"/><stop offset="0.09" stop-color="#acde4b"/><stop offset="0.18" stop-color="#9edb54"/><stop offset="0.27" stop-color="#83d565"/><stop offset="0.36" stop-color="#65cb77"/><stop offset="0.45" stop-color="#4cc084"/><stop offset="0.55" stop-color="#3db68d"/><stop offset="0.64" stop-color="#36ad92"/><stop offset="0.73" stop-color="#35a595"/><stop offset="0.82" stop-color="#379c98"/><stop offset="0.91" stop-color="#399499"/><stop offset="1" stop-color="#3b8f99"/></linearGradient><linearGradient id="r185" gradientUnits="userSpaceOnUse" x1="926.3" x2="1032.3" y1="0" y2="0"><stop offset="0" stop-color="#c4e23c"/><stop offset="0.09" stop-color="#b0df48"/><stop offset="0.18" stop-color="#9edb54"/><stop offset="0.27" stop-color="#7fd468"/><stop offset="0.36" stop-color="#5fc97a"/><stop offset="0.45" stop-color="#47bd87"/><stop offset="0.55" stop-color="#39b190"/><stop offset="0.64" stop-color="#35a994"/><stop offset="0.73" stop-color="#35a197"/><stop offset="0.82" stop-color="#389898"/><stop offset="0.91" stop-color="#3a9199"/><stop offset="1" stop-color="#3c8d99"/></linearGradient><linearGradient id="r186" gradientUnits="userSpaceOnUse" x1="923.8" x2="1034.7" y1="0" y2="0"><stop offset="0" stop-color="#cde336"/><stop offset="0.08" stop-color="#b8e043"/><stop offset="0.17" stop-color="#a0dc53"/><stop offset="0.25" stop-color="#83d565"/><stop offset="0.33" stop-color="#65cb77"/><stop offset="0.42" stop-color="#4cc084"/><stop offset="0.5" stop-color="#3bb48e"/><stop offset="0.58" stop-color="#36ab93"/><stop offset="0.67" stop-color="#35a296"/><stop offset="0.75" stop-color="#379b98"/><stop offset="0.83" stop-color="#399499"/><stop offset="0.92" stop-color="#3c8d99"/><stop offset="1" stop-color="#3e889a"/></linearGradient><linearGradient id="r187" gradientUnits="userSpaceOnUse" x1="921.4" x2="1037.2" y1="0" y2="0"><stop offset="0" stop-color="#d0e435"/><stop offset="0.08" stop-color="#bce140"/><stop offset="0.17" stop-color="#9edb54"/><stop offset="0.25" stop-color="#7fd468"/><stop offset="0.33" stop-color="#61ca79"/><stop offset="0.42" stop-color="#49be86"/><stop offset="0.5" stop-color="#39b190"/><stop offset="0.58" stop-color="#35a795"/><stop offset="0.67" stop-color="#369f97"/><stop offset="0.75" stop-color="#389799"/><stop offset="0.83" stop-color="#3b9199"/><stop offset="0.92" stop-color="#3d8a9a"/><stop offset="1" stop-color="#40839a"/></linearGradient><linearGradient id="r188" gradientUnits="userSpaceOnUse" x1="918.9" x2="1039.7" y1="0" y2="0"><stop offset="0" stop-color="#d0e435"/><stop offset="0.08" stop-color="#c1e23d"/><stop offset="0.15" stop-color="#a2dc51"/><stop offset="0.23" stop-color="#83d565"/><stop offset="0.31" stop-color="#67cc76"/><stop offset="0.38" stop-color="#4fc283"/><stop offset="0.46" stop-color="#3db68d"/><stop offset="0.54" stop-color="#35aa94"/><stop offset="0.62" stop-color="#35a197"/><stop offset="0.69" stop-color="#389898"/><stop offset="0.77" stop-color="#3a9199"/><stop offset="0.85" stop-color="#3d8c99"/><stop offset="0.92" stop-color="#3f869a"/><stop offset="1" stop-color="#41819a"/></linearGradient><linearGradient id="r189" gradientUnits="userSpaceOnUse" x1="916.4" x2="1042.2" y1="0" y2="0"><stop offset="0" stop-color="#d0e435"/><stop offset="0.08" stop-color="#bfe13f"/><stop offset="0.15" stop-color="#a0dc53"/><stop offset="0.23" stop-color="#81d466"/><stop offset="0.31" stop-color="#65cb77"/><stop offset="0.38" stop-color="#4cc084"/><stop offset="0.46" stop-color="#3bb48e"/><stop offset="0.54" stop-color="#35a795"/><stop offset="0.62" stop-color="#369d98"/><stop offset="0.69" stop-color="#399599"/><stop offset="0.77" stop-color="#3c8e99"/><stop offset="0.85" stop-color="#3e889a"/><stop offset="0.92" stop-color="#41819a"/><stop offset="1" stop-color="#41809a"/></linearGradient><linearGradient id="r190" gradientUnits="userSpaceOnUse" x1="913.9" x2="1044.6" y1="0" y2="0"><stop offset="0" stop-color="#d0e435"/><stop offset="0.07" stop-color="#c1e23d"/><stop offset="0.14" stop-color="#a2dc51"/><stop offset="0.21" stop-color="#85d564"/><stop offset="0.29" stop-color="#6acd74"/><stop offset="0.36" stop-color="#52c381"/><stop offset="0.43" stop-color="#40b88b"/><stop offset="0.5" stop-color="#36ac93"/><stop offset="0.57" stop-color="#36a097"/><stop offset="0.64" stop-color="#389799"/><stop offset="0.71" stop-color="#3b8f99"/><stop offset="0.79" stop-color="#3e899a"/><stop offset="0.86" stop-color="#40839a"/><stop offset="0.93" stop-color="#437d99"/><stop offset="1" stop-color="#437c99"/></linearGradient><linearGradient id="r191" gradientUnits="userSpaceOnUse" x1="911.5" x2="1047.1" y1="0" y2="0"><stop offset="0" stop-color="#d0e435"/><stop offset="0.07" stop-color="#c1e23d"/><stop offset="0.14" stop-color="#a0dc53"/><stop offset="0.21" stop-color="#81d466"/><stop offset="0.29" stop-color="#67cc76"/><stop offset="0.36" stop-color="#4fc283"/><stop offset="0.43" stop-color="#3eb68d"/><stop offset="0.5" stop-color="#35a994"/><stop offset="0.57" stop-color="#379c98"/><stop offset="0.64" stop-color="#3a9399"/><stop offset="0.71" stop-color="#3d8c99"/><stop offset="0.79" stop-color="#3f859a"/><stop offset="0.86" stop-color="#427e99"/><stop offset="0.93" stop-color="#457899"/><stop offset="1" stop-color="#487199"/></linearGradient><linearGradient id="r192" gradientUnits="userSpaceOnUse" x1="909" x2="1049.6" y1="0" y2="0"><stop offset="0" stop-color="#cde336"/><stop offset="0.07" stop-color="#c1e23d"/><stop offset="0.13" stop-color="#a5dd50"/><stop offset="0.2" stop-color="#85d564"/><stop offset="0.27" stop-color="#6acd74"/><stop offset="0.33" stop-color="#54c480"/><stop offset="0.4" stop-color="#42ba8a"/><stop offset="0.47" stop-color="#36ad92"/><stop offset="0.53" stop-color="#35a296"/><stop offset="0.6" stop-color="#399699"/><stop offset="0.67" stop-color="#3c8c99"/><stop offset="0.73" stop-color="#3f869a"/><stop offset="0.8" stop-color="#427f99"/><stop offset="0.87" stop-color="#457799"/><stop offset="0.93" stop-color="#487299"/><stop offset="1" stop-color="#4d6697"/></linearGradient><linearGradient id="r193" gradientUnits="userSpaceOnUse" x1="906.5" x2="1052.1" y1="0" y2="0"><stop offset="0" stop-color="#c1e23d"/><stop offset="0.07" stop-color="#bfe13f"/><stop offset="0.13" stop-color="#a2dc51"/><stop offset="0.2" stop-color="#83d565"/><stop offset="0.27" stop-color="#68cd75"/><stop offset="0.33" stop-color="#50c282"/><stop offset="0.4" stop-color="#40b88b"/><stop offset="0.47" stop-color="#36ac93"/><stop offset="0.53" stop-color="#369f97"/><stop offset="0.6" stop-color="#3a9299"/><stop offset="0.67" stop-color="#3e899a"/><stop offset="0.73" stop-color="#40829a"/><stop offset="0.8" stop-color="#447a99"/><stop offset="0.87" stop-color="#487299"/><stop offset="0.93" stop-color="#4b6a98"/><stop offset="1" stop-color="#4e6397"/></linearGradient><linearGradient id="r194" gradientUnits="userSpaceOnUse" x1="904" x2="1054.5" y1="0" y2="0"><stop offset="0" stop-color="#acde4b"/><stop offset="0.06" stop-color="#bae142"/><stop offset="0.12" stop-color="#a5dd50"/><stop offset="0.19" stop-color="#85d564"/><stop offset="0.25" stop-color="#6acd74"/><stop offset="0.31" stop-color="#55c580"/><stop offset="0.38" stop-color="#43ba8a"/><stop offset="0.44" stop-color="#37af91"/><stop offset="0.5" stop-color="#35a396"/><stop offset="0.56" stop-color="#389799"/><stop offset="0.62" stop-color="#3d8b9a"/><stop offset="0.69" stop-color="#40839a"/><stop offset="0.75" stop-color="#437b99"/><stop offset="0.81" stop-color="#477299"/><stop offset="0.88" stop-color="#4b6b98"/><stop offset="0.94" stop-color="#4d6597"/><stop offset="1" stop-color="#4f6397"/></linearGradient><linearGradient id="r195" gradientUnits="userSpaceOnUse" x1="901.6" x2="1057" y1="0" y2="0"><stop offset="0" stop-color="#a0dc53"/><stop offset="0.06" stop-color="#b3df47"/><stop offset="0.12" stop-color="#a2dc51"/><stop offset="0.19" stop-color="#83d565"/><stop offset="0.25" stop-color="#68cd75"/><stop offset="0.31" stop-color="#52c381"/><stop offset="0.38" stop-color="#41b98b"/><stop offset="0.44" stop-color="#36ad92"/><stop offset="0.5" stop-color="#35a296"/><stop offset="0.56" stop-color="#399499"/><stop offset="0.62" stop-color="#3e889a"/><stop offset="0.69" stop-color="#427f99"/><stop offset="0.75" stop-color="#467699"/><stop offset="0.81" stop-color="#4a6d98"/><stop offset="0.88" stop-color="#4e6497"/><stop offset="0.94" stop-color="#506196"/><stop offset="1" stop-color="#4f6397"/></linearGradient><linearGradient id="r196" gradientUnits="userSpaceOnUse" x1="899.1" x2="1059.5" y1="0" y2="0"><stop offset="0" stop-color="#a2dc51"/><stop offset="0.06" stop-color="#aedf4a"/><stop offset="0.12" stop-color="#a2dc51"/><stop offset="0.18" stop-color="#87d663"/><stop offset="0.24" stop-color="#6cce73"/><stop offset="0.29" stop-color="#55c580"/><stop offset="0.35" stop-color="#43ba8a"/><stop offset="0.41" stop-color="#38b091"/><stop offset="0.47" stop-color="#35a595"/><stop offset="0.53" stop-color="#389998"/><stop offset="0.59" stop-color="#3c8d99"/><stop offset="0.65" stop-color="#41819a"/><stop offset="0.71" stop-color="#457899"/><stop offset="0.76" stop-color="#496f98"/><stop offset="0.82" stop-color="#4d6597"/><stop offset="0.88" stop-color="#505f96"/><stop offset="0.94" stop-color="#515d95"/><stop offset="1" stop-color="#506096"/></linearGradient><linearGradient id="r197" gradientUnits="userSpaceOnUse" x1="896.6" x2="1061.9" y1="0" y2="0"><stop offset="0" stop-color="#b0df48"/><stop offset="0.06" stop-color="#aedf4a"/><stop offset="0.12" stop-color="#a0dc53"/><stop offset="0.18" stop-color="#85d564"/><stop offset="0.24" stop-color="#6acd74"/><stop offset="0.29" stop-color="#52c381"/><stop offset="0.35" stop-color="#41b98b"/><stop offset="0.41" stop-color="#37ae92"/><stop offset="0.47" stop-color="#35a296"/><stop offset="0.53" stop-color="#389799"/><stop offset="0.59" stop-color="#3d8c99"/><stop offset="0.65" stop-color="#41809a"/><stop offset="0.71" stop-color="#467499"/><stop offset="0.76" stop-color="#4c6998"/><stop offset="0.82" stop-color="#506096"/><stop offset="0.88" stop-color="#535894"/><stop offset="0.94" stop-color="#535793"/><stop offset="1" stop-color="#545593"/></linearGradient><linearGradient id="r198" gradientUnits="userSpaceOnUse" x1="894.1" x2="1064.4" y1="0" y2="0"><stop offset="0" stop-color="#b5e045"/><stop offset="0.06" stop-color="#aedf4a"/><stop offset="0.11" stop-color="#9edb54"/><stop offset="0.17" stop-color="#85d564"/><stop offset="0.22" stop-color="#6cce73"/><stop offset="0.28" stop-color="#55c580"/><stop offset="0.33" stop-color="#43ba8a"/><stop offset="0.39" stop-color="#38b091"/><stop offset="0.44" stop-color="#35a595"/><stop offset="0.5" stop-color="#379b98"/><stop offset="0.56" stop-color="#3b9199"/><stop offset="0.61" stop-color="#3f859a"/><stop offset="0.67" stop-color="#447a99"/><stop offset="0.72" stop-color="#4a6d98"/><stop offset="0.78" stop-color="#4f6397"/><stop offset="0.83" stop-color="#535894"/><stop offset="0.89" stop-color="#555291"/><stop offset="0.94" stop-color="#565091"/><stop offset="1" stop-color="#594288"/></linearGradient><linearGradient id="r199" gradientUnits="userSpaceOnUse" x1="891.7" x2="1066.9" y1="0" y2="0"><stop offset="0" stop-color="#b8e043"/><stop offset="0.06" stop-color="#b0df48"/><stop offset="0.11" stop-color="#99da57"/><stop offset="0.17" stop-color="#81d466"/><stop offset="0.22" stop-color="#68cd75"/><stop offset="0.28" stop-color="#52c381"/><stop offset="0.33" stop-color="#41b98b"/><stop offset="0.39" stop-color="#37ae92"/><stop offset="0.44" stop-color="#35a296"/><stop offset="0.5" stop-color="#389998"/><stop offset="0.56" stop-color="#3b8f99"/><stop offset="0.61" stop-color="#40839a"/><stop offset="0.67" stop-color="#457799"/><stop offset="0.72" stop-color="#4b6a98"/><stop offset="0.78" stop-color="#515e95"/><stop offset="0.83" stop-color="#555291"/><stop offset="0.89" stop-color="#574c8e"/><stop offset="0.94" stop-color="#59468b"/><stop offset="1" stop-color="#5a3680"/></linearGradient><linearGradient id="r200" gradientUnits="userSpaceOnUse" x1="889.2" x2="1069.4" y1="0" y2="0"><stop offset="0" stop-color="#b8e043"/><stop offset="0.05" stop-color="#aedf4a"/><stop offset="0.11" stop-color="#97da59"/><stop offset="0.16" stop-color="#7fd468"/><stop offset="0.21" stop-color="#6acd74"/><stop offset="0.26" stop-color="#55c580"/><stop offset="0.32" stop-color="#43ba8a"/><stop offset="0.37" stop-color="#38b091"/><stop offset="0.42" stop-color="#35a595"/><stop offset="0.47" stop-color="#379b98"/><stop offset="0.53" stop-color="#3a9399"/><stop offset="0.58" stop-color="#3e899a"/><stop offset="0.63" stop-color="#437d99"/><stop offset="0.68" stop-color="#487299"/><stop offset="0.74" stop-color="#4e6497"/><stop offset="0.79" stop-color="#545693"/><stop offset="0.84" stop-color="#574c8e"/><stop offset="0.89" stop-color="#59468b"/><stop offset="0.95" stop-color="#5a3e86"/><stop offset="1" stop-color="#5b357f"/></linearGradient><linearGradient id="r201" gradientUnits="userSpaceOnUse" x1="886.7" x2="1071.8" y1="0" y2="0"><stop offset="0" stop-color="#b5e045"/><stop offset="0.05" stop-color="#acde4b"/><stop offset="0.11" stop-color="#92d95c"/><stop offset="0.16" stop-color="#78d26b"/><stop offset="0.21" stop-color="#65cb77"/><stop offset="0.26" stop-color="#50c282"/><stop offset="0.32" stop-color="#40b88b"/><stop offset="0.37" stop-color="#36ad92"/><stop offset="0.42" stop-color="#35a296"/><stop offset="0.47" stop-color="#389998"/><stop offset="0.53" stop-color="#3a9199"/><stop offset="0.58" stop-color="#3e879a"/><stop offset="0.63" stop-color="#437b99"/><stop offset="0.68" stop-color="#496f98"/><stop offset="0.74" stop-color="#4f6296"/><stop offset="0.79" stop-color="#555392"/><stop offset="0.84" stop-color="#58488d"/><stop offset="0.89" stop-color="#594288"/><stop offset="0.95" stop-color="#5a3a83"/><stop offset="1" stop-color="#5a347e"/></linearGradient><linearGradient id="r202" gradientUnits="userSpaceOnUse" x1="884.2" x2="1074.3" y1="0" y2="0"><stop offset="0" stop-color="#b5e045"/><stop offset="0.05" stop-color="#a9de4d"/><stop offset="0.1" stop-color="#90d85d"/><stop offset="0.15" stop-color="#76d16d"/><stop offset="0.2" stop-color="#63ca78"/><stop offset="0.25" stop-color="#52c381"/><stop offset="0.3" stop-color="#42ba8a"/><stop offset="0.35" stop-color="#37af91"/><stop offset="0.4" stop-color="#35a496"/><stop offset="0.45" stop-color="#379b98"/><stop offset="0.5" stop-color="#399499"/><stop offset="0.55" stop-color="#3d8c99"/><stop offset="0.6" stop-color="#41819a"/><stop offset="0.65" stop-color="#467599"/><stop offset="0.7" stop-color="#4c6898"/><stop offset="0.75" stop-color="#525c95"/><stop offset="0.8" stop-color="#574e90"/><stop offset="0.85" stop-color="#59448a"/><stop offset="0.9" stop-color="#5a3e86"/><stop offset="0.95" stop-color="#5a3881"/><stop offset="1" stop-color="#5b357f"/></linearGradient><linearGradient id="r203" gradientUnits="userSpaceOnUse" x1="881.8" x2="1076.8" y1="0" y2="0"><stop offset="0" stop-color="#b5e045"/><stop offset="0.05" stop-color="#a5dd50"/><stop offset="0.1" stop-color="#89d761"/><stop offset="0.15" stop-color="#70cf70"/><stop offset="0.2" stop-color="#5ec87b"/><stop offset="0.25" stop-color="#4dc184"/><stop offset="0.3" stop-color="#40b88b"/><stop offset="0.35" stop-color="#36ad92"/><stop offset="0.4" stop-color="#35a296"/><stop offset="0.45" stop-color="#389998"/><stop offset="0.5" stop-color="#3a9199"/><stop offset="0.55" stop-color="#3d8a9a"/><stop offset="0.6" stop-color="#41809a"/><stop offset="0.65" stop-color="#477399"/><stop offset="0.7" stop-color="#4d6697"/><stop offset="0.75" stop-color="#535994"/><stop offset="0.8" stop-color="#574c8e"/><stop offset="0.85" stop-color="#594389"/><stop offset="0.9" stop-color="#5a3c84"/><stop offset="0.95" stop-color="#5a3982"/><stop offset="1" stop-color="#5a3b83"/></linearGradient><linearGradient id="r204" gradientUnits="userSpaceOnUse" x1="879.3" x2="1079.2" y1="0" y2="0"><stop offset="0" stop-color="#b5e045"/><stop offset="0.05" stop-color="#a5dd50"/><stop offset="0.1" stop-color="#85d564"/><stop offset="0.15" stop-color="#6acd74"/><stop offset="0.2" stop-color="#58c67e"/><stop offset="0.25" stop-color="#49be86"/><stop offset="0.3" stop-color="#3db68d"/><stop offset="0.35" stop-color="#36ab93"/><stop offset="0.4" stop-color="#36a097"/><stop offset="0.45" stop-color="#389799"/><stop offset="0.5" stop-color="#3b9099"/><stop offset="0.55" stop-color="#3e889a"/><stop offset="0.6" stop-color="#427f99"/><stop offset="0.65" stop-color="#487299"/><stop offset="0.7" stop-color="#4e6497"/><stop offset="0.75" stop-color="#535793"/><stop offset="0.8" stop-color="#584b8e"/><stop offset="0.85" stop-color="#594288"/><stop offset="0.9" stop-color="#5a3d85"/><stop offset="0.95" stop-color="#5a3d85"/><stop offset="1" stop-color="#594389"/></linearGradient><linearGradient id="r205" gradientUnits="userSpaceOnUse" x1="876.8" x2="1081.7" y1="0" y2="0"><stop offset="0" stop-color="#b3df47"/><stop offset="0.05" stop-color="#a2dc51"/><stop offset="0.1" stop-color="#83d565"/><stop offset="0.14" stop-color="#68cd75"/><stop offset="0.19" stop-color="#57c57f"/><stop offset="0.24" stop-color="#48be87"/><stop offset="0.29" stop-color="#3db68d"/><stop offset="0.33" stop-color="#36ac92"/><stop offset="0.38" stop-color="#35a296"/><stop offset="0.43" stop-color="#389998"/><stop offset="0.48" stop-color="#3a9299"/><stop offset="0.52" stop-color="#3d8b9a"/><stop offset="0.57" stop-color="#40839a"/><stop offset="0.62" stop-color="#457899"/><stop offset="0.67" stop-color="#4b6b98"/><stop offset="0.71" stop-color="#505f96"/><stop offset="0.76" stop-color="#555291"/><stop offset="0.81" stop-color="#58478c"/><stop offset="0.86" stop-color="#594288"/><stop offset="0.9" stop-color="#5a4188"/><stop offset="0.95" stop-color="#594288"/><stop offset="1" stop-color="#58478c"/></linearGradient><linearGradient id="r206" gradientUnits="userSpaceOnUse" x1="874.4" x2="1084.2" y1="0" y2="0"><stop offset="0" stop-color="#aedf4a"/><stop offset="0.05" stop-color="#a0dc53"/><stop offset="0.1" stop-color="#7fd468"/><stop offset="0.14" stop-color="#65cb77"/><stop offset="0.19" stop-color="#52c381"/><stop offset="0.24" stop-color="#44bb89"/><stop offset="0.29" stop-color="#3ab28f"/><stop offset="0.33" stop-color="#35aa94"/><stop offset="0.38" stop-color="#36a097"/><stop offset="0.43" stop-color="#389799"/><stop offset="0.48" stop-color="#3b9199"/><stop offset="0.52" stop-color="#3e899a"/><stop offset="0.57" stop-color="#41819a"/><stop offset="0.62" stop-color="#457799"/><stop offset="0.67" stop-color="#4b6a98"/><stop offset="0.71" stop-color="#515e95"/><stop offset="0.76" stop-color="#565091"/><stop offset="0.81" stop-color="#59468b"/><stop offset="0.86" stop-color="#59448a"/><stop offset="0.9" stop-color="#59458b"/><stop offset="0.95" stop-color="#59468b"/><stop offset="1" stop-color="#58488d"/></linearGradient><linearGradient id="r207" gradientUnits="userSpaceOnUse" x1="871.9" x2="1086.7" y1="0" y2="0"><stop offset="0" stop-color="#acde4b"/><stop offset="0.05" stop-color="#a0dc53"/><stop offset="0.09" stop-color="#7fd468"/><stop offset="0.14" stop-color="#63ca78"/><stop offset="0.18" stop-color="#52c381"/><stop offset="0.23" stop-color="#44bb89"/><stop offset="0.27" stop-color="#3ab38f"/><stop offset="0.32" stop-color="#36ab93"/><stop offset="0.36" stop-color="#35a296"/><stop offset="0.41" stop-color="#389998"/><stop offset="0.45" stop-color="#3a9299"/><stop offset="0.5" stop-color="#3d8b9a"/><stop offset="0.55" stop-color="#40849a"/><stop offset="0.59" stop-color="#437c99"/><stop offset="0.64" stop-color="#487199"/><stop offset="0.68" stop-color="#4d6597"/><stop offset="0.73" stop-color="#535894"/><stop offset="0.77" stop-color="#574d8f"/><stop offset="0.82" stop-color="#58478c"/><stop offset="0.86" stop-color="#58478c"/><stop offset="0.91" stop-color="#58488d"/><stop offset="0.95" stop-color="#584a8d"/><stop offset="1" stop-color="#574c8e"/></linearGradient><linearGradient id="r208" gradientUnits="userSpaceOnUse" x1="869.4" x2="1089.1" y1="0" y2="0"><stop offset="0" stop-color="#a9de4d"/><stop offset="0.05" stop-color="#9edb54"/><stop offset="0.09" stop-color="#7fd468"/><stop offset="0.14" stop-color="#61ca79"/><stop offset="0.18" stop-color="#50c282"/><stop offset="0.23" stop-color="#42ba8a"/><stop offset="0.27" stop-color="#39b190"/><stop offset="0.32" stop-color="#35a994"/><stop offset="0.36" stop-color="#35a197"/><stop offset="0.41" stop-color="#389998"/><stop offset="0.45" stop-color="#3a9199"/><stop offset="0.5" stop-color="#3d8a9a"/><stop offset="0.55" stop-color="#40829a"/><stop offset="0.59" stop-color="#447a99"/><stop offset="0.64" stop-color="#497099"/><stop offset="0.68" stop-color="#4e6397"/><stop offset="0.73" stop-color="#535793"/><stop offset="0.77" stop-color="#574d8f"/><stop offset="0.82" stop-color="#584b8e"/><stop offset="0.86" stop-color="#584b8e"/><stop offset="0.91" stop-color="#574c8e"/><stop offset="0.95" stop-color="#574e90"/><stop offset="1" stop-color="#555392"/></linearGradient><linearGradient id="r209" gradientUnits="userSpaceOnUse" x1="866.9" x2="1091.6" y1="0" y2="0"><stop offset="0" stop-color="#a9de4d"/><stop offset="0.04" stop-color="#9edb54"/><stop offset="0.09" stop-color="#81d466"/><stop offset="0.13" stop-color="#67cc76"/><stop offset="0.17" stop-color="#54c480"/><stop offset="0.22" stop-color="#45bc88"/><stop offset="0.26" stop-color="#3bb48e"/><stop offset="0.3" stop-color="#36ac93"/><stop offset="0.35" stop-color="#35a396"/><stop offset="0.39" stop-color="#379c98"/><stop offset="0.43" stop-color="#399499"/><stop offset="0.48" stop-color="#3c8d99"/><stop offset="0.52" stop-color="#3f869a"/><stop offset="0.57" stop-color="#427f99"/><stop offset="0.61" stop-color="#467699"/><stop offset="0.65" stop-color="#4b6b98"/><stop offset="0.7" stop-color="#505f96"/><stop offset="0.74" stop-color="#555392"/><stop offset="0.78" stop-color="#574e90"/><stop offset="0.83" stop-color="#574e90"/><stop offset="0.87" stop-color="#574e90"/><stop offset="0.91" stop-color="#564f90"/><stop offset="0.96" stop-color="#555392"/><stop offset="1" stop-color="#535994"/></linearGradient><linearGradient id="r210" gradientUnits="userSpaceOnUse" x1="864.5" x2="1094.1" y1="0" y2="0"><stop offset="0" stop-color="#a9de4d"/><stop offset="0.04" stop-color="#a0dc53"/><stop offset="0.09" stop-color="#83d565"/><stop offset="0.13" stop-color="#68cd75"/><stop offset="0.17" stop-color="#54c480"/><stop offset="0.22" stop-color="#47bd87"/><stop offset="0.26" stop-color="#3cb58e"/><stop offset="0.3" stop-color="#36ac93"/><stop offset="0.35" stop-color="#35a396"/><stop offset="0.39" stop-color="#379c98"/><stop offset="0.43" stop-color="#399499"/><stop offset="0.48" stop-color="#3c8c99"/><stop offset="0.52" stop-color="#3f869a"/><stop offset="0.57" stop-color="#427e99"/><stop offset="0.61" stop-color="#467699"/><stop offset="0.65" stop-color="#4b6a98"/><stop offset="0.7" stop-color="#515e95"/><stop offset="0.74" stop-color="#555492"/><stop offset="0.78" stop-color="#565091"/><stop offset="0.83" stop-color="#565091"/><stop offset="0.87" stop-color="#565191"/><stop offset="0.91" stop-color="#555392"/><stop offset="0.96" stop-color="#535793"/><stop offset="1" stop-color="#525c95"/></linearGradient><linearGradient id="r211" gradientUnits="userSpaceOnUse" x1="862" x2="1096.6" y1="0" y2="0"><stop offset="0" stop-color="#a9de4d"/><stop offset="0.04" stop-color="#a0dc53"/><stop offset="0.08" stop-color="#87d663"/><stop offset="0.12" stop-color="#6cce73"/><stop offset="0.17" stop-color="#58c67e"/><stop offset="0.21" stop-color="#49be86"/><stop offset="0.25" stop-color="#3fb78c"/><stop offset="0.29" stop-color="#37af91"/><stop offset="0.33" stop-color="#35a795"/><stop offset="0.38" stop-color="#369e97"/><stop offset="0.42" stop-color="#389799"/><stop offset="0.46" stop-color="#3b9099"/><stop offset="0.5" stop-color="#3e889a"/><stop offset="0.54" stop-color="#40829a"/><stop offset="0.58" stop-color="#447a99"/><stop offset="0.62" stop-color="#487199"/><stop offset="0.67" stop-color="#4d6597"/><stop offset="0.71" stop-color="#525c95"/><stop offset="0.75" stop-color="#545593"/><stop offset="0.79" stop-color="#555291"/><stop offset="0.83" stop-color="#555392"/><stop offset="0.88" stop-color="#555492"/><stop offset="0.92" stop-color="#535793"/><stop offset="0.96" stop-color="#515d95"/><stop offset="1" stop-color="#505f96"/></linearGradient><linearGradient id="r212" gradientUnits="userSpaceOnUse" x1="859.5" x2="1099" y1="0" y2="0"><stop offset="0" stop-color="#a9de4d"/><stop offset="0.04" stop-color="#a0dc53"/><stop offset="0.08" stop-color="#89d761"/><stop offset="0.12" stop-color="#70cf70"/><stop offset="0.17" stop-color="#58c67e"/><stop offset="0.21" stop-color="#49be86"/><stop offset="0.25" stop-color="#3fb78c"/><stop offset="0.29" stop-color="#37af91"/><stop offset="0.33" stop-color="#35a795"/><stop offset="0.38" stop-color="#369e97"/><stop offset="0.42" stop-color="#389799"/><stop offset="0.46" stop-color="#3b9099"/><stop offset="0.5" stop-color="#3e889a"/><stop offset="0.54" stop-color="#41819a"/><stop offset="0.58" stop-color="#447a99"/><stop offset="0.62" stop-color="#497099"/><stop offset="0.67" stop-color="#4e6497"/><stop offset="0.71" stop-color="#515e95"/><stop offset="0.75" stop-color="#535793"/><stop offset="0.79" stop-color="#545593"/><stop offset="0.83" stop-color="#545693"/><stop offset="0.88" stop-color="#535894"/><stop offset="0.92" stop-color="#515d95"/><stop offset="0.96" stop-color="#506196"/><stop offset="1" stop-color="#4d6697"/></linearGradient><linearGradient id="r213" gradientUnits="userSpaceOnUse" x1="857" x2="1101.5" y1="0" y2="0"><stop offset="0" stop-color="#a5dd50"/><stop offset="0.04" stop-color="#a0dc53"/><stop offset="0.08" stop-color="#8bd760"/><stop offset="0.12" stop-color="#76d16d"/><stop offset="0.16" stop-color="#5ec87b"/><stop offset="0.2" stop-color="#4dc184"/><stop offset="0.24" stop-color="#42ba8a"/><stop offset="0.28" stop-color="#39b190"/><stop offset="0.32" stop-color="#35aa94"/><stop offset="0.36" stop-color="#35a296"/><stop offset="0.4" stop-color="#379a98"/><stop offset="0.44" stop-color="#3a9299"/><stop offset="0.48" stop-color="#3d8c99"/><stop offset="0.52" stop-color="#3f859a"/><stop offset="0.56" stop-color="#427f99"/><stop offset="0.6" stop-color="#467699"/><stop offset="0.64" stop-color="#4b6b98"/><stop offset="0.68" stop-color="#4e6397"/><stop offset="0.72" stop-color="#505f96"/><stop offset="0.76" stop-color="#535994"/><stop offset="0.8" stop-color="#535894"/><stop offset="0.84" stop-color="#535994"/><stop offset="0.88" stop-color="#515d95"/><stop offset="0.92" stop-color="#4f6296"/><stop offset="0.96" stop-color="#4d6697"/><stop offset="1" stop-color="#4a6d98"/></linearGradient><linearGradient id="r214" gradientUnits="userSpaceOnUse" x1="854.6" x2="1104" y1="0" y2="0"><stop offset="0" stop-color="#9bdb56"/><stop offset="0.04" stop-color="#9edb54"/><stop offset="0.08" stop-color="#89d761"/><stop offset="0.12" stop-color="#76d16d"/><stop offset="0.16" stop-color="#5fc97a"/><stop offset="0.2" stop-color="#4dc184"/><stop offset="0.24" stop-color="#42ba8a"/><stop offset="0.28" stop-color="#3ab28f"/><stop offset="0.32" stop-color="#35aa94"/><stop offset="0.36" stop-color="#35a296"/><stop offset="0.4" stop-color="#379a98"/><stop offset="0.44" stop-color="#3a9299"/><stop offset="0.48" stop-color="#3d8c99"/><stop offset="0.52" stop-color="#3f859a"/><stop offset="0.56" stop-color="#427e99"/><stop offset="0.6" stop-color="#467699"/><stop offset="0.64" stop-color="#4a6c98"/><stop offset="0.68" stop-color="#4d6597"/><stop offset="0.72" stop-color="#506196"/><stop offset="0.76" stop-color="#525c95"/><stop offset="0.8" stop-color="#525b94"/><stop offset="0.84" stop-color="#515e95"/><stop offset="0.88" stop-color="#4f6296"/><stop offset="0.92" stop-color="#4d6697"/><stop offset="0.96" stop-color="#4a6c98"/><stop offset="1" stop-color="#487299"/></linearGradient><linearGradient id="r215" gradientUnits="userSpaceOnUse" x1="852.1" x2="1106.4" y1="0" y2="0"><stop offset="0" stop-color="#9edb54"/><stop offset="0.04" stop-color="#99da57"/><stop offset="0.08" stop-color="#89d761"/><stop offset="0.12" stop-color="#76d16d"/><stop offset="0.15" stop-color="#65cb77"/><stop offset="0.19" stop-color="#52c381"/><stop offset="0.23" stop-color="#44bb89"/><stop offset="0.27" stop-color="#3bb48e"/><stop offset="0.31" stop-color="#36ac92"/><stop offset="0.35" stop-color="#35a595"/><stop offset="0.38" stop-color="#379c98"/><stop offset="0.42" stop-color="#399599"/><stop offset="0.46" stop-color="#3b8f99"/><stop offset="0.5" stop-color="#3e889a"/><stop offset="0.54" stop-color="#40829a"/><stop offset="0.58" stop-color="#447a99"/><stop offset="0.62" stop-color="#487299"/><stop offset="0.65" stop-color="#4b6b98"/><stop offset="0.69" stop-color="#4d6697"/><stop offset="0.73" stop-color="#4f6296"/><stop offset="0.77" stop-color="#515e95"/><stop offset="0.81" stop-color="#505f96"/><stop offset="0.85" stop-color="#4f6397"/><stop offset="0.88" stop-color="#4c6797"/><stop offset="0.92" stop-color="#4a6d98"/><stop offset="0.96" stop-color="#477399"/><stop offset="1" stop-color="#437c99"/></linearGradient><linearGradient id="r216" gradientUnits="userSpaceOnUse" x1="849.6" x2="1108.9" y1="0" y2="0"><stop offset="0" stop-color="#a2dc51"/><stop offset="0.04" stop-color="#97da59"/><stop offset="0.08" stop-color="#87d663"/><stop offset="0.12" stop-color="#74d16e"/><stop offset="0.15" stop-color="#63ca78"/><stop offset="0.19" stop-color="#52c381"/><stop offset="0.23" stop-color="#44bb89"/><stop offset="0.27" stop-color="#3bb48e"/><stop offset="0.31" stop-color="#36ac92"/><stop offset="0.35" stop-color="#35a595"/><stop offset="0.38" stop-color="#379c98"/><stop offset="0.42" stop-color="#399699"/><stop offset="0.46" stop-color="#3b8f99"/><stop offset="0.5" stop-color="#3e889a"/><stop offset="0.54" stop-color="#40829a"/><stop offset="0.58" stop-color="#447a99"/><stop offset="0.62" stop-color="#477399"/><stop offset="0.65" stop-color="#496e98"/><stop offset="0.69" stop-color="#4c6998"/><stop offset="0.73" stop-color="#4e6497"/><stop offset="0.77" stop-color="#506196"/><stop offset="0.81" stop-color="#4f6397"/><stop offset="0.85" stop-color="#4c6898"/><stop offset="0.88" stop-color="#496f98"/><stop offset="0.92" stop-color="#457799"/><stop offset="0.96" stop-color="#427e99"/><stop offset="1" stop-color="#3d8a9a"/></linearGradient><linearGradient id="r217" gradientUnits="userSpaceOnUse" x1="847.1" x2="1111.4" y1="0" y2="0"><stop offset="0" stop-color="#a5dd50"/><stop offset="0.04" stop-color="#9bdb56"/><stop offset="0.07" stop-color="#87d663"/><stop offset="0.11" stop-color="#74d16e"/><stop offset="0.15" stop-color="#65cb77"/><stop offset="0.19" stop-color="#55c580"/><stop offset="0.22" stop-color="#48be87"/><stop offset="0.26" stop-color="#3eb68d"/><stop offset="0.3" stop-color="#37af91"/><stop offset="0.33" stop-color="#35a795"/><stop offset="0.37" stop-color="#36a097"/><stop offset="0.41" stop-color="#389998"/><stop offset="0.44" stop-color="#3a9299"/><stop offset="0.48" stop-color="#3c8c99"/><stop offset="0.52" stop-color="#3f869a"/><stop offset="0.56" stop-color="#41809a"/><stop offset="0.59" stop-color="#447999"/><stop offset="0.63" stop-color="#477399"/><stop offset="0.67" stop-color="#496f98"/><stop offset="0.7" stop-color="#4b6a98"/><stop offset="0.74" stop-color="#4d6597"/><stop offset="0.78" stop-color="#4e6497"/><stop offset="0.81" stop-color="#4b6b98"/><stop offset="0.85" stop-color="#477299"/><stop offset="0.89" stop-color="#447a99"/><stop offset="0.93" stop-color="#40829a"/><stop offset="0.96" stop-color="#3d8a9a"/><stop offset="1" stop-color="#3c8c99"/></linearGradient><linearGradient id="r218" gradientUnits="userSpaceOnUse" x1="844.7" x2="1113.9" y1="0" y2="0"><stop offset="0" stop-color="#a5dd50"/><stop offset="0.04" stop-color="#9bdb56"/><stop offset="0.07" stop-color="#87d663"/><stop offset="0.11" stop-color="#74d16e"/><stop offset="0.15" stop-color="#63ca78"/><stop offset="0.19" stop-color="#55c580"/><stop offset="0.22" stop-color="#48be87"/><stop offset="0.26" stop-color="#3eb68d"/><stop offset="0.3" stop-color="#37ae92"/><stop offset="0.33" stop-color="#35a795"/><stop offset="0.37" stop-color="#369f97"/><stop offset="0.41" stop-color="#379a98"/><stop offset="0.44" stop-color="#399599"/><stop offset="0.48" stop-color="#3c8e99"/><stop offset="0.52" stop-color="#3e879a"/><stop offset="0.56" stop-color="#41819a"/><stop offset="0.59" stop-color="#437b99"/><stop offset="0.63" stop-color="#467699"/><stop offset="0.67" stop-color="#487299"/><stop offset="0.7" stop-color="#4a6d98"/><stop offset="0.74" stop-color="#4c6998"/><stop offset="0.78" stop-color="#4a6c98"/><stop offset="0.81" stop-color="#477399"/><stop offset="0.85" stop-color="#437b99"/><stop offset="0.89" stop-color="#40849a"/><stop offset="0.93" stop-color="#3d8c99"/><stop offset="0.96" stop-color="#3a9199"/><stop offset="1" stop-color="#3e899a"/></linearGradient><linearGradient id="r219" gradientUnits="userSpaceOnUse" x1="842.2" x2="1116.3" y1="0" y2="0"><stop offset="0" stop-color="#a5dd50"/><stop offset="0.04" stop-color="#9edb54"/><stop offset="0.07" stop-color="#89d761"/><stop offset="0.11" stop-color="#76d16d"/><stop offset="0.14" stop-color="#67cc76"/><stop offset="0.18" stop-color="#57c57f"/><stop offset="0.21" stop-color="#4bbf85"/><stop offset="0.25" stop-color="#40b88b"/><stop offset="0.29" stop-color="#38b190"/><stop offset="0.32" stop-color="#35a994"/><stop offset="0.36" stop-color="#35a296"/><stop offset="0.39" stop-color="#379c98"/><stop offset="0.43" stop-color="#379a98"/><stop offset="0.46" stop-color="#399499"/><stop offset="0.5" stop-color="#3c8e99"/><stop offset="0.54" stop-color="#3e879a"/><stop offset="0.57" stop-color="#41819a"/><stop offset="0.61" stop-color="#437c99"/><stop offset="0.64" stop-color="#457899"/><stop offset="0.68" stop-color="#477399"/><stop offset="0.71" stop-color="#497099"/><stop offset="0.75" stop-color="#497099"/><stop offset="0.79" stop-color="#467599"/><stop offset="0.82" stop-color="#437d99"/><stop offset="0.86" stop-color="#3f869a"/><stop offset="0.89" stop-color="#3c8d99"/><stop offset="0.93" stop-color="#399599"/><stop offset="0.96" stop-color="#3a9399"/><stop offset="1" stop-color="#3c8e99"/></linearGradient><linearGradient id="r220" gradientUnits="userSpaceOnUse" x1="839.7" x2="1118.8" y1="0" y2="0"><stop offset="0" stop-color="#a5dd50"/><stop offset="0.04" stop-color="#9edb54"/><stop offset="0.07" stop-color="#8bd760"/><stop offset="0.11" stop-color="#78d26b"/><stop offset="0.14" stop-color="#67cc76"/><stop offset="0.18" stop-color="#57c57f"/><stop offset="0.21" stop-color="#4bbf85"/><stop offset="0.25" stop-color="#40b88b"/><stop offset="0.29" stop-color="#38b190"/><stop offset="0.32" stop-color="#35a894"/><stop offset="0.36" stop-color="#35a296"/><stop offset="0.39" stop-color="#369d98"/><stop offset="0.43" stop-color="#379c98"/><stop offset="0.46" stop-color="#389898"/><stop offset="0.5" stop-color="#3a9199"/><stop offset="0.54" stop-color="#3d8b9a"/><stop offset="0.57" stop-color="#3f859a"/><stop offset="0.61" stop-color="#41809a"/><stop offset="0.64" stop-color="#437b99"/><stop offset="0.68" stop-color="#457799"/><stop offset="0.71" stop-color="#467499"/><stop offset="0.75" stop-color="#457899"/><stop offset="0.79" stop-color="#427e99"/><stop offset="0.82" stop-color="#3f869a"/><stop offset="0.86" stop-color="#3c8d99"/><stop offset="0.89" stop-color="#399699"/><stop offset="0.93" stop-color="#369d98"/><stop offset="0.96" stop-color="#389799"/><stop offset="1" stop-color="#369f97"/></linearGradient><linearGradient id="r221" gradientUnits="userSpaceOnUse" x1="837.2" x2="1121.3" y1="0" y2="0"><stop offset="0" stop-color="#a5dd50"/><stop offset="0.03" stop-color="#a2dc51"/><stop offset="0.07" stop-color="#90d85d"/><stop offset="0.1" stop-color="#7fd468"/><stop offset="0.14" stop-color="#6acd74"/><stop offset="0.17" stop-color="#5ac77d"/><stop offset="0.21" stop-color="#4dc184"/><stop offset="0.24" stop-color="#42ba8a"/><stop offset="0.28" stop-color="#3ab28f"/><stop offset="0.31" stop-color="#36ab93"/><stop offset="0.34" stop-color="#35a496"/><stop offset="0.38" stop-color="#369f97"/><stop offset="0.41" stop-color="#369d98"/><stop offset="0.45" stop-color="#369d98"/><stop offset="0.48" stop-color="#389898"/><stop offset="0.52" stop-color="#3a9299"/><stop offset="0.55" stop-color="#3d8c99"/><stop offset="0.59" stop-color="#3f869a"/><stop offset="0.62" stop-color="#41819a"/><stop offset="0.66" stop-color="#437d99"/><stop offset="0.69" stop-color="#447a99"/><stop offset="0.72" stop-color="#437c99"/><stop offset="0.76" stop-color="#40829a"/><stop offset="0.79" stop-color="#3e879a"/><stop offset="0.83" stop-color="#3b8f99"/><stop offset="0.86" stop-color="#389799"/><stop offset="0.9" stop-color="#369f97"/><stop offset="0.93" stop-color="#35a496"/><stop offset="0.97" stop-color="#369f97"/><stop offset="1" stop-color="#36ac92"/></linearGradient><linearGradient id="r222" gradientUnits="userSpaceOnUse" x1="834.8" x2="1123.7" y1="0" y2="0"><stop offset="0" stop-color="#a7dd4e"/><stop offset="0.03" stop-color="#a5dd50"/><stop offset="0.07" stop-color="#94d95a"/><stop offset="0.1" stop-color="#81d466"/><stop offset="0.14" stop-color="#6cce73"/><stop offset="0.17" stop-color="#5ac77d"/><stop offset="0.21" stop-color="#4dc184"/><stop offset="0.24" stop-color="#42ba8a"/><stop offset="0.28" stop-color="#3ab28f"/><stop offset="0.31" stop-color="#36ab93"/><stop offset="0.34" stop-color="#35a496"/><stop offset="0.38" stop-color="#369f97"/><stop offset="0.41" stop-color="#369d98"/><stop offset="0.45" stop-color="#369e97"/><stop offset="0.48" stop-color="#379c98"/><stop offset="0.52" stop-color="#399699"/><stop offset="0.55" stop-color="#3b8f99"/><stop offset="0.59" stop-color="#3d8a9a"/><stop offset="0.62" stop-color="#3f859a"/><stop offset="0.66" stop-color="#41819a"/><stop offset="0.69" stop-color="#41809a"/><stop offset="0.72" stop-color="#3f859a"/><stop offset="0.76" stop-color="#3d8b9a"/><stop offset="0.79" stop-color="#3b9099"/><stop offset="0.83" stop-color="#389799"/><stop offset="0.86" stop-color="#369f97"/><stop offset="0.9" stop-color="#35a795"/><stop offset="0.93" stop-color="#35a994"/><stop offset="0.97" stop-color="#35a994"/><stop offset="1" stop-color="#38b190"/></linearGradient><linearGradient id="r223" gradientUnits="userSpaceOnUse" x1="832.3" x2="1126.2" y1="0" y2="0"><stop offset="0" stop-color="#aedf4a"/><stop offset="0.03" stop-color="#a7dd4e"/><stop offset="0.07" stop-color="#97da59"/><stop offset="0.1" stop-color="#85d564"/><stop offset="0.13" stop-color="#70cf70"/><stop offset="0.17" stop-color="#5ec87b"/><stop offset="0.2" stop-color="#4fc283"/><stop offset="0.23" stop-color="#44bb89"/><stop offset="0.27" stop-color="#3bb48e"/><stop offset="0.3" stop-color="#36ac92"/><stop offset="0.33" stop-color="#35a695"/><stop offset="0.37" stop-color="#35a296"/><stop offset="0.4" stop-color="#369e97"/><stop offset="0.43" stop-color="#369f97"/><stop offset="0.47" stop-color="#36a097"/><stop offset="0.5" stop-color="#379c98"/><stop offset="0.53" stop-color="#399699"/><stop offset="0.57" stop-color="#3b9099"/><stop offset="0.6" stop-color="#3d8c99"/><stop offset="0.63" stop-color="#3e879a"/><stop offset="0.67" stop-color="#3f869a"/><stop offset="0.7" stop-color="#3e899a"/><stop offset="0.73" stop-color="#3b8f99"/><stop offset="0.77" stop-color="#399499"/><stop offset="0.8" stop-color="#379a98"/><stop offset="0.83" stop-color="#36a097"/><stop offset="0.87" stop-color="#35a894"/><stop offset="0.9" stop-color="#37af91"/><stop offset="0.93" stop-color="#37ae92"/><stop offset="0.97" stop-color="#3ab28f"/><stop offset="1" stop-color="#3db68d"/></linearGradient><linearGradient id="r224" gradientUnits="userSpaceOnUse" x1="829.8" x2="1128.7" y1="0" y2="0"><stop offset="0" stop-color="#bce140"/><stop offset="0.03" stop-color="#acde4b"/><stop offset="0.07" stop-color="#9bdb56"/><stop offset="0.1" stop-color="#87d663"/><stop offset="0.13" stop-color="#72d06f"/><stop offset="0.17" stop-color="#5fc97a"/><stop offset="0.2" stop-color="#4fc283"/><stop offset="0.23" stop-color="#44bb89"/><stop offset="0.27" stop-color="#3bb48e"/><stop offset="0.3" stop-color="#36ac92"/><stop offset="0.33" stop-color="#35a795"/><stop offset="0.37" stop-color="#35a296"/><stop offset="0.4" stop-color="#369e97"/><stop offset="0.43" stop-color="#369f97"/><stop offset="0.47" stop-color="#35a197"/><stop offset="0.5" stop-color="#369f97"/><stop offset="0.53" stop-color="#379a98"/><stop offset="0.57" stop-color="#3a9399"/><stop offset="0.6" stop-color="#3b8f99"/><stop offset="0.63" stop-color="#3d8b9a"/><stop offset="0.67" stop-color="#3c8c99"/><stop offset="0.7" stop-color="#3a9199"/><stop offset="0.73" stop-color="#389799"/><stop offset="0.77" stop-color="#379c98"/><stop offset="0.8" stop-color="#35a296"/><stop offset="0.83" stop-color="#35a894"/><stop offset="0.87" stop-color="#38b091"/><stop offset="0.9" stop-color="#3eb68d"/><stop offset="0.93" stop-color="#3db68d"/><stop offset="0.97" stop-color="#42ba8a"/><stop offset="1" stop-color="#4bbf85"/></linearGradient><linearGradient id="r225" gradientUnits="userSpaceOnUse" x1="827.4" x2="1131.2" y1="0" y2="0"><stop offset="0" stop-color="#c1e23d"/><stop offset="0.03" stop-color="#b0df48"/><stop offset="0.06" stop-color="#9edb54"/><stop offset="0.1" stop-color="#8bd760"/><stop offset="0.13" stop-color="#78d26b"/><stop offset="0.16" stop-color="#63ca78"/><stop offset="0.19" stop-color="#54c480"/><stop offset="0.23" stop-color="#47bd87"/><stop offset="0.26" stop-color="#3db68d"/><stop offset="0.29" stop-color="#37ae92"/><stop offset="0.32" stop-color="#35a894"/><stop offset="0.35" stop-color="#35a496"/><stop offset="0.39" stop-color="#36a097"/><stop offset="0.42" stop-color="#369f97"/><stop offset="0.45" stop-color="#35a197"/><stop offset="0.48" stop-color="#35a296"/><stop offset="0.52" stop-color="#36a097"/><stop offset="0.55" stop-color="#379a98"/><stop offset="0.58" stop-color="#399599"/><stop offset="0.61" stop-color="#3b9199"/><stop offset="0.65" stop-color="#3b9199"/><stop offset="0.68" stop-color="#399699"/><stop offset="0.71" stop-color="#379c98"/><stop offset="0.74" stop-color="#35a296"/><stop offset="0.77" stop-color="#35a795"/><stop offset="0.81" stop-color="#36ac93"/><stop offset="0.84" stop-color="#39b190"/><stop offset="0.87" stop-color="#41b98b"/><stop offset="0.9" stop-color="#47bd87"/><stop offset="0.94" stop-color="#49be86"/><stop offset="0.97" stop-color="#4dc184"/><stop offset="1" stop-color="#5ac77d"/></linearGradient><linearGradient id="r226" gradientUnits="userSpaceOnUse" x1="824.9" x2="1133.6" y1="0" y2="0"><stop offset="0" stop-color="#c4e23c"/><stop offset="0.03" stop-color="#b5e045"/><stop offset="0.06" stop-color="#a2dc51"/><stop offset="0.1" stop-color="#8ed85e"/><stop offset="0.13" stop-color="#7ad26a"/><stop offset="0.16" stop-color="#65cb77"/><stop offset="0.19" stop-color="#54c480"/><stop offset="0.23" stop-color="#47bd87"/><stop offset="0.26" stop-color="#3db68d"/><stop offset="0.29" stop-color="#37ae92"/><stop offset="0.32" stop-color="#35a994"/><stop offset="0.35" stop-color="#35a595"/><stop offset="0.39" stop-color="#35a197"/><stop offset="0.42" stop-color="#369f97"/><stop offset="0.45" stop-color="#35a197"/><stop offset="0.48" stop-color="#35a296"/><stop offset="0.52" stop-color="#35a296"/><stop offset="0.55" stop-color="#369d98"/><stop offset="0.58" stop-color="#389898"/><stop offset="0.61" stop-color="#399699"/><stop offset="0.65" stop-color="#389898"/><stop offset="0.68" stop-color="#369e97"/><stop offset="0.71" stop-color="#35a496"/><stop offset="0.74" stop-color="#35aa94"/><stop offset="0.77" stop-color="#37af91"/><stop offset="0.81" stop-color="#3bb48e"/><stop offset="0.84" stop-color="#42ba8a"/><stop offset="0.87" stop-color="#4cc084"/><stop offset="0.9" stop-color="#54c480"/><stop offset="0.94" stop-color="#57c57f"/><stop offset="0.97" stop-color="#5ac77d"/><stop offset="1" stop-color="#61ca79"/></linearGradient><linearGradient id="r227" gradientUnits="userSpaceOnUse" x1="822.4" x2="1136.1" y1="0" y2="0"><stop offset="0" stop-color="#c4e23c"/><stop offset="0.03" stop-color="#b8e043"/><stop offset="0.06" stop-color="#a5dd50"/><stop offset="0.09" stop-color="#92d95c"/><stop offset="0.12" stop-color="#7fd468"/><stop offset="0.16" stop-color="#6acd74"/><stop offset="0.19" stop-color="#58c67e"/><stop offset="0.22" stop-color="#49be86"/><stop offset="0.25" stop-color="#3fb78c"/><stop offset="0.28" stop-color="#38b190"/><stop offset="0.31" stop-color="#36ac93"/><stop offset="0.34" stop-color="#35a795"/><stop offset="0.38" stop-color="#35a396"/><stop offset="0.41" stop-color="#36a097"/><stop offset="0.44" stop-color="#36a097"/><stop offset="0.47" stop-color="#35a296"/><stop offset="0.5" stop-color="#35a396"/><stop offset="0.53" stop-color="#35a396"/><stop offset="0.56" stop-color="#369e97"/><stop offset="0.59" stop-color="#379b98"/><stop offset="0.62" stop-color="#379c98"/><stop offset="0.66" stop-color="#35a296"/><stop offset="0.69" stop-color="#35a894"/><stop offset="0.72" stop-color="#37ae92"/><stop offset="0.75" stop-color="#3ab38f"/><stop offset="0.78" stop-color="#40b88b"/><stop offset="0.81" stop-color="#47bd87"/><stop offset="0.84" stop-color="#50c282"/><stop offset="0.88" stop-color="#5ec87b"/><stop offset="0.91" stop-color="#63ca78"/><stop offset="0.94" stop-color="#67cc76"/><stop offset="0.97" stop-color="#6acd74"/><stop offset="1" stop-color="#74d16e"/></linearGradient><linearGradient id="r228" gradientUnits="userSpaceOnUse" x1="819.9" x2="1138.6" y1="0" y2="0"><stop offset="0" stop-color="#c4e23c"/><stop offset="0.03" stop-color="#bae142"/><stop offset="0.06" stop-color="#a7dd4e"/><stop offset="0.09" stop-color="#94d95a"/><stop offset="0.12" stop-color="#81d466"/><stop offset="0.16" stop-color="#6cce73"/><stop offset="0.19" stop-color="#5ac77d"/><stop offset="0.22" stop-color="#49be86"/><stop offset="0.25" stop-color="#3fb78c"/><stop offset="0.28" stop-color="#38b190"/><stop offset="0.31" stop-color="#36ac93"/><stop offset="0.34" stop-color="#35a795"/><stop offset="0.38" stop-color="#35a396"/><stop offset="0.41" stop-color="#36a097"/><stop offset="0.44" stop-color="#35a197"/><stop offset="0.47" stop-color="#35a296"/><stop offset="0.5" stop-color="#35a496"/><stop offset="0.53" stop-color="#35a595"/><stop offset="0.56" stop-color="#35a296"/><stop offset="0.59" stop-color="#36a097"/><stop offset="0.62" stop-color="#35a595"/><stop offset="0.66" stop-color="#36ab93"/><stop offset="0.69" stop-color="#38b190"/><stop offset="0.72" stop-color="#3eb68d"/><stop offset="0.75" stop-color="#44bb89"/><stop offset="0.78" stop-color="#4cc084"/><stop offset="0.81" stop-color="#55c580"/><stop offset="0.84" stop-color="#61ca79"/><stop offset="0.88" stop-color="#6ecf71"/><stop offset="0.91" stop-color="#74d16e"/><stop offset="0.94" stop-color="#78d26b"/><stop offset="0.97" stop-color="#7fd468"/><stop offset="1" stop-color="#97da59"/></linearGradient><linearGradient id="r229" gradientUnits="userSpaceOnUse" x1="817.5" x2="1141.1" y1="0" y2="0"><stop offset="0" stop-color="#c4e23c"/><stop offset="0.03" stop-color="#bfe13f"/><stop offset="0.06" stop-color="#acde4b"/><stop offset="0.09" stop-color="#99da57"/><stop offset="0.12" stop-color="#85d564"/><stop offset="0.15" stop-color="#70cf70"/><stop offset="0.18" stop-color="#5ec87b"/><stop offset="0.21" stop-color="#4dc184"/><stop offset="0.24" stop-color="#41b98b"/><stop offset="0.27" stop-color="#3ab28f"/><stop offset="0.3" stop-color="#37ae92"/><stop offset="0.33" stop-color="#35aa94"/><stop offset="0.36" stop-color="#35a695"/><stop offset="0.39" stop-color="#35a296"/><stop offset="0.42" stop-color="#36a097"/><stop offset="0.45" stop-color="#35a296"/><stop offset="0.48" stop-color="#35a396"/><stop offset="0.52" stop-color="#35a595"/><stop offset="0.55" stop-color="#35a695"/><stop offset="0.58" stop-color="#35a595"/><stop offset="0.61" stop-color="#35a894"/><stop offset="0.64" stop-color="#37ae92"/><stop offset="0.67" stop-color="#3bb48e"/><stop offset="0.7" stop-color="#42ba8a"/><stop offset="0.73" stop-color="#4bbf85"/><stop offset="0.76" stop-color="#54c480"/><stop offset="0.79" stop-color="#5ec87b"/><stop offset="0.82" stop-color="#68cd75"/><stop offset="0.85" stop-color="#74d16e"/><stop offset="0.88" stop-color="#81d466"/><stop offset="0.91" stop-color="#87d663"/><stop offset="0.94" stop-color="#8ed85e"/><stop offset="0.97" stop-color="#99da57"/><stop offset="1" stop-color="#a0dc53"/></linearGradient><linearGradient id="r230" gradientUnits="userSpaceOnUse" x1="815" x2="1143.5" y1="0" y2="0"><stop offset="0" stop-color="#c4e23c"/><stop offset="0.03" stop-color="#c1e23d"/><stop offset="0.06" stop-color="#b0df48"/><stop offset="0.09" stop-color="#9edb54"/><stop offset="0.12" stop-color="#87d663"/><stop offset="0.15" stop-color="#72d06f"/><stop offset="0.18" stop-color="#5fc97a"/><stop offset="0.21" stop-color="#4fc283"/><stop offset="0.24" stop-color="#42ba8a"/><stop offset="0.27" stop-color="#3ab38f"/><stop offset="0.3" stop-color="#37af91"/><stop offset="0.33" stop-color="#36ab93"/><stop offset="0.36" stop-color="#35a695"/><stop offset="0.39" stop-color="#35a296"/><stop offset="0.42" stop-color="#35a197"/><stop offset="0.45" stop-color="#35a296"/><stop offset="0.48" stop-color="#35a496"/><stop offset="0.52" stop-color="#35a695"/><stop offset="0.55" stop-color="#35a795"/><stop offset="0.58" stop-color="#35a994"/><stop offset="0.61" stop-color="#37af91"/><stop offset="0.64" stop-color="#3cb58e"/><stop offset="0.67" stop-color="#43ba8a"/><stop offset="0.7" stop-color="#4cc084"/><stop offset="0.73" stop-color="#57c57f"/><stop offset="0.76" stop-color="#61ca79"/><stop offset="0.79" stop-color="#6cce73"/><stop offset="0.82" stop-color="#78d26b"/><stop offset="0.85" stop-color="#85d564"/><stop offset="0.88" stop-color="#90d85d"/><stop offset="0.91" stop-color="#97da59"/><stop offset="0.94" stop-color="#a0dc53"/><stop offset="0.97" stop-color="#a7dd4e"/><stop offset="1" stop-color="#87d663"/></linearGradient><linearGradient id="r231" gradientUnits="userSpaceOnUse" x1="812.5" x2="1146" y1="0" y2="0"><stop offset="0" stop-color="#c8e339"/><stop offset="0.03" stop-color="#c6e23a"/><stop offset="0.06" stop-color="#b5e045"/><stop offset="0.09" stop-color="#a2dc51"/><stop offset="0.12" stop-color="#8ed85e"/><stop offset="0.15" stop-color="#78d26b"/><stop offset="0.18" stop-color="#65cb77"/><stop offset="0.21" stop-color="#54c480"/><stop offset="0.24" stop-color="#45bc88"/><stop offset="0.26" stop-color="#3cb58e"/><stop offset="0.29" stop-color="#38b190"/><stop offset="0.32" stop-color="#36ac92"/><stop offset="0.35" stop-color="#35a894"/><stop offset="0.38" stop-color="#35a496"/><stop offset="0.41" stop-color="#35a296"/><stop offset="0.44" stop-color="#35a296"/><stop offset="0.47" stop-color="#35a496"/><stop offset="0.5" stop-color="#35a695"/><stop offset="0.53" stop-color="#35a795"/><stop offset="0.56" stop-color="#36ab93"/><stop offset="0.59" stop-color="#38b091"/><stop offset="0.62" stop-color="#3db68d"/><stop offset="0.65" stop-color="#44bb89"/><stop offset="0.68" stop-color="#4dc184"/><stop offset="0.71" stop-color="#58c67e"/><stop offset="0.74" stop-color="#63ca78"/><stop offset="0.76" stop-color="#6ecf71"/><stop offset="0.79" stop-color="#7ad26a"/><stop offset="0.82" stop-color="#87d663"/><stop offset="0.85" stop-color="#92d95c"/><stop offset="0.88" stop-color="#99da57"/><stop offset="0.91" stop-color="#a2dc51"/><stop offset="0.94" stop-color="#acde4b"/><stop offset="0.97" stop-color="#9edb54"/><stop offset="1" stop-color="#7ad26a"/></linearGradient><linearGradient id="r232" gradientUnits="userSpaceOnUse" x1="810" x2="1148.5" y1="0" y2="0"><stop offset="0" stop-color="#d4e433"/><stop offset="0.03" stop-color="#cbe338"/><stop offset="0.06" stop-color="#bae142"/><stop offset="0.09" stop-color="#a7dd4e"/><stop offset="0.12" stop-color="#90d85d"/><stop offset="0.15" stop-color="#7ad26a"/><stop offset="0.18" stop-color="#67cc76"/><stop offset="0.21" stop-color="#55c580"/><stop offset="0.24" stop-color="#47bd87"/><stop offset="0.26" stop-color="#3db68d"/><stop offset="0.29" stop-color="#38b190"/><stop offset="0.32" stop-color="#36ac92"/><stop offset="0.35" stop-color="#35a894"/><stop offset="0.38" stop-color="#35a496"/><stop offset="0.41" stop-color="#35a296"/><stop offset="0.44" stop-color="#35a396"/><stop offset="0.47" stop-color="#35a595"/><stop offset="0.5" stop-color="#35a795"/><stop offset="0.53" stop-color="#35a994"/><stop offset="0.56" stop-color="#36ac92"/><stop offset="0.59" stop-color="#3ab28f"/><stop offset="0.62" stop-color="#40b88b"/><stop offset="0.65" stop-color="#48be87"/><stop offset="0.68" stop-color="#52c381"/><stop offset="0.71" stop-color="#5ec87b"/><stop offset="0.74" stop-color="#6acd74"/><stop offset="0.76" stop-color="#76d16d"/><stop offset="0.79" stop-color="#83d565"/><stop offset="0.82" stop-color="#90d85d"/><stop offset="0.85" stop-color="#99da57"/><stop offset="0.88" stop-color="#a0dc53"/><stop offset="0.91" stop-color="#a7dd4e"/><stop offset="0.94" stop-color="#aedf4a"/><stop offset="0.97" stop-color="#90d85d"/><stop offset="1" stop-color="#90d85d"/></linearGradient><linearGradient id="r233" gradientUnits="userSpaceOnUse" x1="807.6" x2="1150.9" y1="0" y2="0"><stop offset="0" stop-color="#e5e62f"/><stop offset="0.03" stop-color="#d0e435"/><stop offset="0.06" stop-color="#bfe13f"/><stop offset="0.09" stop-color="#acde4b"/><stop offset="0.11" stop-color="#97da59"/><stop offset="0.14" stop-color="#81d466"/><stop offset="0.17" stop-color="#6acd74"/><stop offset="0.2" stop-color="#58c67e"/><stop offset="0.23" stop-color="#4bbf85"/><stop offset="0.26" stop-color="#40b88b"/><stop offset="0.29" stop-color="#3ab38f"/><stop offset="0.31" stop-color="#37ae92"/><stop offset="0.34" stop-color="#35aa94"/><stop offset="0.37" stop-color="#35a795"/><stop offset="0.4" stop-color="#35a396"/><stop offset="0.43" stop-color="#35a396"/><stop offset="0.46" stop-color="#35a595"/><stop offset="0.49" stop-color="#35a795"/><stop offset="0.51" stop-color="#35a994"/><stop offset="0.54" stop-color="#36ad92"/><stop offset="0.57" stop-color="#39b190"/><stop offset="0.6" stop-color="#3fb78c"/><stop offset="0.63" stop-color="#47bd87"/><stop offset="0.66" stop-color="#50c282"/><stop offset="0.69" stop-color="#5cc87c"/><stop offset="0.71" stop-color="#68cd75"/><stop offset="0.74" stop-color="#74d16e"/><stop offset="0.77" stop-color="#81d466"/><stop offset="0.8" stop-color="#8bd760"/><stop offset="0.83" stop-color="#99da57"/><stop offset="0.86" stop-color="#a0dc53"/><stop offset="0.89" stop-color="#a5dd50"/><stop offset="0.91" stop-color="#acde4b"/><stop offset="0.94" stop-color="#acde4b"/><stop offset="0.97" stop-color="#94d95a"/><stop offset="1" stop-color="#acde4b"/></linearGradient><linearGradient id="r234" gradientUnits="userSpaceOnUse" x1="805.1" x2="1153.4" y1="0" y2="0"><stop offset="0" stop-color="#ece731"/><stop offset="0.03" stop-color="#d7e532"/><stop offset="0.06" stop-color="#c4e23c"/><stop offset="0.09" stop-color="#aedf4a"/><stop offset="0.11" stop-color="#9bdb56"/><stop offset="0.14" stop-color="#83d565"/><stop offset="0.17" stop-color="#6ecf71"/><stop offset="0.2" stop-color="#5ac77d"/><stop offset="0.23" stop-color="#4cc084"/><stop offset="0.26" stop-color="#41b98b"/><stop offset="0.29" stop-color="#3bb48e"/><stop offset="0.31" stop-color="#37af91"/><stop offset="0.34" stop-color="#36ab93"/><stop offset="0.37" stop-color="#35a795"/><stop offset="0.4" stop-color="#35a496"/><stop offset="0.43" stop-color="#35a496"/><stop offset="0.46" stop-color="#35a695"/><stop offset="0.49" stop-color="#35a894"/><stop offset="0.51" stop-color="#36ac93"/><stop offset="0.54" stop-color="#37af91"/><stop offset="0.57" stop-color="#3bb48e"/><stop offset="0.6" stop-color="#42ba8a"/><stop offset="0.63" stop-color="#4bbf85"/><stop offset="0.66" stop-color="#55c580"/><stop offset="0.69" stop-color="#63ca78"/><stop offset="0.71" stop-color="#6ecf71"/><stop offset="0.74" stop-color="#7ad26a"/><stop offset="0.77" stop-color="#87d663"/><stop offset="0.8" stop-color="#92d95c"/><stop offset="0.83" stop-color="#a0dc53"/><stop offset="0.86" stop-color="#a7dd4e"/><stop offset="0.89" stop-color="#a7dd4e"/><stop offset="0.91" stop-color="#aedf4a"/><stop offset="0.94" stop-color="#a7dd4e"/><stop offset="0.97" stop-color="#a5dd50"/><stop offset="1" stop-color="#bce140"/></linearGradient><linearGradient id="r235" gradientUnits="userSpaceOnUse" x1="802.6" x2="1155.9" y1="0" y2="0"><stop offset="0" stop-color="#ece731"/><stop offset="0.03" stop-color="#dee530"/><stop offset="0.06" stop-color="#c8e339"/><stop offset="0.08" stop-color="#b5e045"/><stop offset="0.11" stop-color="#a0dc53"/><stop offset="0.14" stop-color="#89d761"/><stop offset="0.17" stop-color="#72d06f"/><stop offset="0.19" stop-color="#5fc97a"/><stop offset="0.22" stop-color="#50c282"/><stop offset="0.25" stop-color="#44bb89"/><stop offset="0.28" stop-color="#3db68d"/><stop offset="0.31" stop-color="#38b190"/><stop offset="0.33" stop-color="#36ac92"/><stop offset="0.36" stop-color="#35a894"/><stop offset="0.39" stop-color="#35a695"/><stop offset="0.42" stop-color="#35a595"/><stop offset="0.44" stop-color="#35a695"/><stop offset="0.47" stop-color="#35a894"/><stop offset="0.5" stop-color="#36ac93"/><stop offset="0.53" stop-color="#38b091"/><stop offset="0.56" stop-color="#3bb48e"/><stop offset="0.58" stop-color="#41b98b"/><stop offset="0.61" stop-color="#49be86"/><stop offset="0.64" stop-color="#54c480"/><stop offset="0.67" stop-color="#5fc97a"/><stop offset="0.69" stop-color="#6cce73"/><stop offset="0.72" stop-color="#78d26b"/><stop offset="0.75" stop-color="#85d564"/><stop offset="0.78" stop-color="#90d85d"/><stop offset="0.81" stop-color="#9bdb56"/><stop offset="0.83" stop-color="#a7dd4e"/><stop offset="0.86" stop-color="#acde4b"/><stop offset="0.89" stop-color="#acde4b"/><stop offset="0.92" stop-color="#b0df48"/><stop offset="0.94" stop-color="#a9de4d"/><stop offset="0.97" stop-color="#bae142"/><stop offset="1" stop-color="#d0e435"/></linearGradient><linearGradient id="r236" gradientUnits="userSpaceOnUse" x1="800.1" x2="1158.4" y1="0" y2="0"><stop offset="0" stop-color="#eee731"/><stop offset="0.03" stop-color="#e3e62f"/><stop offset="0.06" stop-color="#cde336"/><stop offset="0.08" stop-color="#b8e043"/><stop offset="0.11" stop-color="#a5dd50"/><stop offset="0.14" stop-color="#8ed85e"/><stop offset="0.17" stop-color="#74d16e"/><stop offset="0.19" stop-color="#61ca79"/><stop offset="0.22" stop-color="#52c381"/><stop offset="0.25" stop-color="#45bc88"/><stop offset="0.28" stop-color="#3fb78c"/><stop offset="0.31" stop-color="#39b190"/><stop offset="0.33" stop-color="#36ac92"/><stop offset="0.36" stop-color="#35a994"/><stop offset="0.39" stop-color="#35a795"/><stop offset="0.42" stop-color="#35a695"/><stop offset="0.44" stop-color="#35a795"/><stop offset="0.47" stop-color="#35aa94"/><stop offset="0.5" stop-color="#37ae92"/><stop offset="0.53" stop-color="#3ab28f"/><stop offset="0.56" stop-color="#3db68d"/><stop offset="0.58" stop-color="#43ba8a"/><stop offset="0.61" stop-color="#4cc084"/><stop offset="0.64" stop-color="#5ac77d"/><stop offset="0.67" stop-color="#67cc76"/><stop offset="0.69" stop-color="#72d06f"/><stop offset="0.72" stop-color="#7fd468"/><stop offset="0.75" stop-color="#89d761"/><stop offset="0.78" stop-color="#99da57"/><stop offset="0.81" stop-color="#a5dd50"/><stop offset="0.83" stop-color="#aedf4a"/><stop offset="0.86" stop-color="#b0df48"/><stop offset="0.89" stop-color="#b0df48"/><stop offset="0.92" stop-color="#b3df47"/><stop offset="0.94" stop-color="#b5e045"/><stop offset="0.97" stop-color="#cde336"/><stop offset="1" stop-color="#e5e62f"/></linearGradient><linearGradient id="r237" gradientUnits="userSpaceOnUse" x1="797.7" x2="1160.8" y1="0" y2="0"><stop offset="0" stop-color="#eee731"/><stop offset="0.03" stop-color="#e7e730"/><stop offset="0.05" stop-color="#d7e532"/><stop offset="0.08" stop-color="#b8e043"/><stop offset="0.11" stop-color="#a9de4d"/><stop offset="0.14" stop-color="#99da57"/><stop offset="0.16" stop-color="#7ad26a"/><stop offset="0.19" stop-color="#65cb77"/><stop offset="0.22" stop-color="#58c67e"/><stop offset="0.24" stop-color="#48be87"/><stop offset="0.27" stop-color="#42ba8a"/><stop offset="0.3" stop-color="#3bb48e"/><stop offset="0.32" stop-color="#37ae92"/><stop offset="0.35" stop-color="#36ac93"/><stop offset="0.38" stop-color="#35a994"/><stop offset="0.41" stop-color="#35a795"/><stop offset="0.43" stop-color="#35a795"/><stop offset="0.46" stop-color="#35a894"/><stop offset="0.49" stop-color="#36ad92"/><stop offset="0.51" stop-color="#3bb48e"/><stop offset="0.54" stop-color="#3eb68d"/><stop offset="0.57" stop-color="#41b98b"/><stop offset="0.59" stop-color="#47bd87"/><stop offset="0.62" stop-color="#54c480"/><stop offset="0.65" stop-color="#68cd75"/><stop offset="0.68" stop-color="#72d06f"/><stop offset="0.7" stop-color="#7cd369"/><stop offset="0.73" stop-color="#83d565"/><stop offset="0.76" stop-color="#90d85d"/><stop offset="0.78" stop-color="#a5dd50"/><stop offset="0.81" stop-color="#aedf4a"/><stop offset="0.84" stop-color="#b3df47"/><stop offset="0.86" stop-color="#b5e045"/><stop offset="0.89" stop-color="#b5e045"/><stop offset="0.92" stop-color="#b5e045"/><stop offset="0.95" stop-color="#c4e23c"/><stop offset="0.97" stop-color="#e0e630"/><stop offset="1" stop-color="#ece731"/></linearGradient><linearGradient id="r238" gradientUnits="userSpaceOnUse" x1="796.8" x2="1161.7" y1="0" y2="0"><stop offset="0" stop-color="#eee731"/><stop offset="0.03" stop-color="#ece731"/><stop offset="0.05" stop-color="#e0e630"/><stop offset="0.08" stop-color="#b0df48"/><stop offset="0.11" stop-color="#a7dd4e"/><stop offset="0.14" stop-color="#a0dc53"/><stop offset="0.16" stop-color="#7cd369"/><stop offset="0.19" stop-color="#61ca79"/><stop offset="0.22" stop-color="#5ac77d"/><stop offset="0.24" stop-color="#47bd87"/><stop offset="0.27" stop-color="#43ba8a"/><stop offset="0.3" stop-color="#3bb48e"/><stop offset="0.32" stop-color="#36ad92"/><stop offset="0.35" stop-color="#36ac92"/><stop offset="0.38" stop-color="#35a994"/><stop offset="0.41" stop-color="#35a795"/><stop offset="0.43" stop-color="#35a795"/><stop offset="0.46" stop-color="#35a795"/><stop offset="0.49" stop-color="#37ae92"/><stop offset="0.51" stop-color="#3fb78c"/><stop offset="0.54" stop-color="#40b88b"/><stop offset="0.57" stop-color="#42ba8a"/><stop offset="0.59" stop-color="#44bb89"/><stop offset="0.62" stop-color="#52c381"/><stop offset="0.65" stop-color="#74d16e"/><stop offset="0.68" stop-color="#78d26b"/><stop offset="0.7" stop-color="#7cd369"/><stop offset="0.73" stop-color="#81d466"/><stop offset="0.76" stop-color="#8ed85e"/><stop offset="0.78" stop-color="#b0df48"/><stop offset="0.81" stop-color="#b3df47"/><stop offset="0.84" stop-color="#b5e045"/><stop offset="0.86" stop-color="#b5e045"/><stop offset="0.89" stop-color="#b5e045"/><stop offset="0.92" stop-color="#b8e043"/><stop offset="0.95" stop-color="#cbe338"/><stop offset="0.97" stop-color="#e9e730"/><stop offset="1" stop-color="#eee731"/></linearGradient><linearGradient id="r239" gradientUnits="userSpaceOnUse" x1="796.8" x2="1161.7" y1="0" y2="0"><stop offset="0" stop-color="#eee731"/><stop offset="0.03" stop-color="#eee731"/><stop offset="0.05" stop-color="#e5e62f"/><stop offset="0.08" stop-color="#aedf4a"/><stop offset="0.11" stop-color="#a5dd50"/><stop offset="0.14" stop-color="#a2dc51"/><stop offset="0.16" stop-color="#7ad26a"/><stop offset="0.19" stop-color="#5fc97a"/><stop offset="0.22" stop-color="#5ac77d"/><stop offset="0.24" stop-color="#47bd87"/><stop offset="0.27" stop-color="#44bb89"/><stop offset="0.3" stop-color="#3bb48e"/><stop offset="0.32" stop-color="#36ac92"/><stop offset="0.35" stop-color="#36ac92"/><stop offset="0.38" stop-color="#35a994"/><stop offset="0.41" stop-color="#35a695"/><stop offset="0.43" stop-color="#35a695"/><stop offset="0.46" stop-color="#35a795"/><stop offset="0.49" stop-color="#37ae92"/><stop offset="0.51" stop-color="#41b98b"/><stop offset="0.54" stop-color="#41b98b"/><stop offset="0.57" stop-color="#41b98b"/><stop offset="0.59" stop-color="#42ba8a"/><stop offset="0.62" stop-color="#52c381"/><stop offset="0.65" stop-color="#7ad26a"/><stop offset="0.68" stop-color="#7cd369"/><stop offset="0.7" stop-color="#7cd369"/><stop offset="0.73" stop-color="#7fd468"/><stop offset="0.76" stop-color="#8bd760"/><stop offset="0.78" stop-color="#b5e045"/><stop offset="0.81" stop-color="#b8e043"/><stop offset="0.84" stop-color="#b8e043"/><stop offset="0.86" stop-color="#b8e043"/><stop offset="0.89" stop-color="#b8e043"/><stop offset="0.92" stop-color="#b8e043"/><stop offset="0.95" stop-color="#cbe338"/><stop offset="0.97" stop-color="#ece731"/><stop offset="1" stop-color="#eee731"/></linearGradient><marker id="ah" viewBox="0 0 10 10" refX="8" refY="5" markerWidth="4.5" markerHeight="4.5" orient="auto"><path d="M0,0 L10,5 L0,10 z" fill="#000"/></marker><radialGradient id="sLu" cx="0.5" cy="0.5" r="0.5" fx="0.45" fy="0.4"><stop offset="0" stop-color="#f2fffa"/><stop offset="0.22" stop-color="#6ff0c4"/><stop offset="0.65" stop-color="#26c890"/><stop offset="1" stop-color="#12946a"/></radialGradient><radialGradient id="sN" cx="0.5" cy="0.5" r="0.5" fx="0.48" fy="0.45"><stop offset="0" stop-color="#ffffff"/><stop offset="0.3" stop-color="#d4d6ee"/><stop offset="0.75" stop-color="#a2a6d0"/><stop offset="1" stop-color="#7f84b4"/></radialGradient><radialGradient id="sH" cx="0.5" cy="0.5" r="0.5" fx="0.48" fy="0.45"><stop offset="0" stop-color="#ffffff"/><stop offset="0.35" stop-color="#f7e4e6"/><stop offset="0.8" stop-color="#e2bcc1"/><stop offset="1" stop-color="#c69aa1"/></radialGradient><radialGradient id="shd" cx="0.5" cy="0.5" r="0.5"><stop offset="0.55" stop-color="#000" stop-opacity="0.22"/><stop offset="1" stop-color="#000" stop-opacity="0"/></radialGradient></defs><rect width="1490" height="776" fill="#fff"/><line x1="37.7" y1="173.5" x2="443.3" y2="152.5" stroke="#8a8a8a" stroke-width="0.9"/><line x1="37.4" y1="357.7" x2="442.8" y2="337.6" stroke="#8a8a8a" stroke-width="0.9"/><line x1="37.4" y1="357.7" x2="37.7" y2="173.5" stroke="#7a7a7a" stroke-width="0.9"/><line x1="442.8" y1="337.6" x2="443.3" y2="152.5" stroke="#b0b0b0" stroke-width="1.6"/><line x1="272.3" y1="583.5" x2="272.8" y2="399.6" stroke="#8a8a8a" stroke-width="0.9"/><line x1="37.4" y1="357.7" x2="272.3" y2="583.5" stroke="#222" stroke-width="1.1"/><line x1="272.3" y1="583.5" x2="442.8" y2="337.6" stroke="#333" stroke-width="1"/><g opacity="0.8"><polygon points="443.3,152.5 341.5,222.5 401.8,252.2" fill="url(#fa1)" stroke="url(#fa1)" stroke-width="0.6"/><polygon points="341.5,222.5 155.4,470.8 401.8,252.2" fill="url(#fa2)" stroke="url(#fa2)" stroke-width="0.6"/><polygon points="341.5,222.5 308,231 155.4,470.8" fill="url(#fa3)" stroke="url(#fa3)" stroke-width="0.6"/><polygon points="308,231 148.8,458.6 155.4,470.8" fill="url(#fa4)" stroke="url(#fa4)" stroke-width="0.6"/><polygon points="308,231 37.7,173.5 148.8,458.6" fill="url(#fa5)" stroke="url(#fa5)" stroke-width="0.6"/><polygon points="401.8,252.2 155.4,470.8 375.8,285.8" fill="url(#fa6)" stroke="url(#fa6)" stroke-width="0.6"/><polygon points="375.8,285.8 155.4,470.8 272.8,399.6" fill="url(#fa7)" stroke="url(#fa7)" stroke-width="0.6"/></g><g stroke="#000" stroke-width="1.5" stroke-linecap="round"><line x1="37.7" y1="173.5" x2="308" y2="231"/><line x1="308" y1="231" x2="341.5" y2="222.5"/><line x1="341.5" y1="222.5" x2="443.3" y2="152.5"/><line x1="443.3" y1="152.5" x2="401.8" y2="252.2"/><line x1="401.8" y1="252.2" x2="375.8" y2="285.8"/><line x1="375.8" y1="285.8" x2="272.8" y2="399.6"/><line x1="272.8" y1="399.6" x2="155.4" y2="470.8"/><line x1="155.4" y1="470.8" x2="148.8" y2="458.6"/><line x1="148.8" y1="458.6" x2="37.7" y2="173.5"/><line x1="341.5" y1="222.5" x2="401.8" y2="252.2"/><line x1="341.5" y1="222.5" x2="155.4" y2="470.8"/><line x1="308" y1="231" x2="155.4" y2="470.8"/><line x1="308" y1="231" x2="148.8" y2="458.6"/><line x1="401.8" y1="252.2" x2="155.4" y2="470.8"/><line x1="375.8" y1="285.8" x2="155.4" y2="470.8"/><line x1="341.5" y1="222.5" x2="148.8" y2="458.6"/><line x1="401.8" y1="252.2" x2="148.8" y2="458.6"/></g><rect x="32.2" y="168.2" width="11" height="10.5" fill="#12843e" stroke="#0a3d1c" stroke-width="0.8"/><rect x="437.8" y="147.2" width="11" height="10.5" fill="#12843e" stroke="#0a3d1c" stroke-width="0.8"/><rect x="267.3" y="394.4" width="11" height="10.5" fill="#12843e" stroke="#0a3d1c" stroke-width="0.8"/><ellipse cx="272.8" cy="399.6" rx="3.2" ry="2.8" fill="#de2a36" fill-opacity="0.85"/><rect x="149.9" y="465.6" width="11" height="10.5" fill="#12843e" stroke="#0a3d1c" stroke-width="0.8"/><rect x="143.3" y="453.4" width="11" height="10.5" fill="#12843e" stroke="#0a3d1c" stroke-width="0.8"/><rect x="302.5" y="225.8" width="11" height="10.5" fill="#12843e" stroke="#0a3d1c" stroke-width="0.8"/><rect x="396.3" y="246.9" width="11" height="10.5" fill="#12843e" stroke="#0a3d1c" stroke-width="0.8"/><rect x="370.3" y="280.6" width="11" height="10.5" fill="#12843e" stroke="#0a3d1c" stroke-width="0.8"/><g fill="#e3303a" fill-opacity="0.74"><circle cx="138.9" cy="109.1" r="4.2"/><circle cx="138.9" cy="151.7" r="4.2"/><circle cx="240" cy="145.1" r="4.2"/><circle cx="37.3" cy="161.5" r="4.2"/><circle cx="95.6" cy="175.2" r="4.2"/><circle cx="118.6" cy="185.4" r="4.2"/><circle cx="68.7" cy="188.4" r="4.2"/><circle cx="211.1" cy="198.2" r="4.2"/><circle cx="211.1" cy="207" r="4.2"/><circle cx="199.6" cy="206.3" r="4.2"/><circle cx="244.1" cy="197.7" r="4.2"/><circle cx="108.3" cy="205.5" r="4.2"/><circle cx="108.3" cy="211.1" r="4.2"/><circle cx="95.6" cy="211.1" r="4.2"/><circle cx="101.5" cy="214.8" r="4.2"/><circle cx="165.8" cy="227.1" r="4.2"/><circle cx="63.8" cy="229.5" r="4.2"/><circle cx="69.2" cy="234.9" r="4.2"/><circle cx="69.2" cy="244.2" r="4.2"/><circle cx="96.1" cy="233.9" r="4.2"/><circle cx="244.1" cy="229.5" r="4.2"/><circle cx="242.9" cy="237.6" r="4.2"/><circle cx="232.6" cy="240" r="4.2"/><circle cx="84.3" cy="265.7" r="4.2"/><circle cx="104.6" cy="266.7" r="4.2"/><circle cx="144.5" cy="262.8" r="4.2"/><circle cx="186.6" cy="269.9" r="4.2"/><circle cx="189.1" cy="274" r="4.2"/><circle cx="197.6" cy="276" r="4.2"/><circle cx="214.8" cy="273.6" r="4.2"/><circle cx="227.8" cy="266.7" r="4.2"/><circle cx="227" cy="273.1" r="4.2"/><circle cx="84.3" cy="273.6" r="4.2"/><circle cx="362.2" cy="132.5" r="4.2"/><circle cx="442.9" cy="119.6" r="4.2"/><circle cx="442.9" cy="137.4" r="4.2"/><circle cx="398.4" cy="146.5" r="4.2"/><circle cx="341.8" cy="150.9" r="4.2"/><circle cx="411.6" cy="155.1" r="4.2"/><circle cx="423.8" cy="152.6" r="4.2"/><circle cx="409.9" cy="163.1" r="4.2"/><circle cx="290" cy="171" r="4.2"/><circle cx="307.8" cy="173.4" r="4.2"/><circle cx="286.3" cy="185.2" r="4.2"/><circle cx="401.3" cy="173.4" r="4.2"/><circle cx="409.1" cy="171.5" r="4.2"/><circle cx="384.7" cy="175.4" r="4.2"/><circle cx="416" cy="177.8" r="4.2"/><circle cx="424.6" cy="178.3" r="4.2"/><circle cx="336.5" cy="183.2" r="4.2"/><circle cx="347.5" cy="180.8" r="4.2"/><circle cx="384.7" cy="183.2" r="4.2"/><circle cx="327.4" cy="189.3" r="4.2"/><circle cx="342.1" cy="190.6" r="4.2"/><circle cx="269.2" cy="201.6" r="4.2"/><circle cx="272.1" cy="214.5" r="4.2"/><circle cx="261.8" cy="219.4" r="4.2"/><circle cx="280.9" cy="221.1" r="4.2"/><circle cx="296.1" cy="226" r="4.2"/><circle cx="356" cy="202.8" r="4.2"/><circle cx="411.1" cy="186.9" r="4.2"/><circle cx="416" cy="197.9" r="4.2"/><circle cx="401.3" cy="212.6" r="4.2"/><circle cx="408.7" cy="205.2" r="4.2"/><circle cx="243.5" cy="230.9" r="4.2"/><circle cx="270.4" cy="235.8" r="4.2"/><circle cx="233.7" cy="239.5" r="4.2"/><circle cx="287" cy="276.2" r="4.2"/><circle cx="315.7" cy="275" r="4.2"/><circle cx="251.3" cy="286" r="4.2"/><circle cx="270.4" cy="281.1" r="4.2"/><circle cx="85.8" cy="272.6" r="4.2"/><circle cx="85.8" cy="286.7" r="4.2"/><circle cx="115.4" cy="311.2" r="4.2"/><circle cx="106.4" cy="330.5" r="4.2"/><circle cx="111.5" cy="340.8" r="4.2"/><circle cx="121.8" cy="373" r="4.2"/><circle cx="138.6" cy="414.3" r="4.2"/><circle cx="142.4" cy="437.4" r="4.2"/><circle cx="148.9" cy="347.3" r="4.2"/><circle cx="148.9" cy="324" r="4.2"/><circle cx="161.8" cy="300.4" r="4.2"/><circle cx="165.6" cy="275.2" r="4.2"/><circle cx="165.6" cy="416.8" r="4.2"/><circle cx="178.5" cy="432.3" r="4.2"/><circle cx="181.6" cy="334.4" r="4.2"/><circle cx="194" cy="358.9" r="4.2"/><circle cx="194" cy="376.9" r="4.2"/><circle cx="187.5" cy="272.6" r="4.2"/><circle cx="205.5" cy="358.9" r="4.2"/><circle cx="205.5" cy="376.9" r="4.2"/><circle cx="214" cy="411.7" r="4.2"/><circle cx="250.6" cy="286.7" r="4.2"/><circle cx="219.7" cy="297.8" r="4.2"/><circle cx="239" cy="393.6" r="4.2"/><circle cx="239" cy="404" r="4.2"/><circle cx="249.3" cy="404" r="4.2"/><circle cx="226.1" cy="401.4" r="4.2"/><circle cx="224.9" cy="419.4" r="4.2"/><circle cx="235.2" cy="342.1" r="4.2"/><circle cx="240.3" cy="358.9" r="4.2"/><circle cx="233.9" cy="382" r="4.2"/><circle cx="251.5" cy="287" r="4.2"/><circle cx="220.6" cy="297.3" r="4.2"/><circle cx="210.3" cy="281.8" r="4.2"/><circle cx="232.2" cy="239.3" r="4.2"/><circle cx="269.6" cy="236.7" r="4.2"/><circle cx="304.3" cy="263.8" r="4.2"/><circle cx="346.8" cy="239.3" r="4.2"/><circle cx="286.3" cy="276.7" r="4.2"/><circle cx="279.9" cy="324.3" r="4.2"/><circle cx="297.9" cy="325.6" r="4.2"/><circle cx="306.9" cy="332.1" r="4.2"/><circle cx="313.3" cy="335.9" r="4.2"/><circle cx="291.4" cy="346.2" r="4.2"/><circle cx="330.1" cy="320.5" r="4.2"/><circle cx="376.5" cy="274.1" r="4.2"/><circle cx="205.2" cy="359.1" r="4.2"/><circle cx="233.5" cy="382.3" r="4.2"/><circle cx="239.9" cy="359.1" r="4.2"/><circle cx="248.9" cy="404.2" r="4.2"/><circle cx="279.9" cy="360.4" r="4.2"/><circle cx="306.9" cy="350.1" r="4.2"/><circle cx="272.6" cy="399.6" r="4.2"/><circle cx="185" cy="300" r="4.2"/><circle cx="128" cy="290" r="4.2"/><circle cx="60" cy="250" r="4.2"/><circle cx="75" cy="260" r="4.2"/><circle cx="180" cy="250" r="4.2"/><circle cx="200" cy="240" r="4.2"/><circle cx="130" cy="255" r="4.2"/><circle cx="320" cy="300" r="4.2"/><circle cx="335" cy="290" r="4.2"/><circle cx="355" cy="300" r="4.2"/><circle cx="300" cy="310" r="4.2"/><circle cx="262" cy="300" r="4.2"/><circle cx="258" cy="318" r="4.2"/><circle cx="340" cy="250" r="4.2"/><circle cx="360" cy="265" r="4.2"/><circle cx="300" cy="245" r="4.2"/><circle cx="290" cy="195" r="4.2"/><circle cx="318" cy="195" r="4.2"/><circle cx="389" cy="262" r="4.2"/><circle cx="395" cy="240" r="4.2"/><circle cx="352" cy="222" r="4.2"/><circle cx="365" cy="235" r="4.2"/><circle cx="120" cy="350" r="4.2"/><circle cx="130" cy="380" r="4.2"/><circle cx="260" cy="390" r="4.2"/><circle cx="180" cy="420" r="4.2"/><circle cx="200" cy="440" r="4.2"/><circle cx="170" cy="445" r="4.2"/><circle cx="165" cy="395" r="4.2"/><circle cx="175" cy="300" r="4.2"/><circle cx="145" cy="290" r="4.2"/><circle cx="155" cy="280" r="4.2"/><circle cx="260" cy="260" r="4.2"/><circle cx="275" cy="250" r="4.2"/><circle cx="138.9" cy="185.4" r="4.2"/><circle cx="138.9" cy="189.7" r="4.2"/><circle cx="138.9" cy="194" r="4.2"/><circle cx="172.7" cy="189.9" r="4.2"/><circle cx="172.7" cy="194.8" r="4.2"/><circle cx="172.7" cy="199.6" r="4.2"/><circle cx="240" cy="198" r="4.2"/><circle cx="240" cy="202.2" r="4.2"/><circle cx="240" cy="206.5" r="4.2"/><circle cx="240" cy="210.8" r="4.2"/><circle cx="240" cy="215" r="4.2"/><circle cx="165.8" cy="241.7" r="4.2"/><circle cx="165.8" cy="246.8" r="4.2"/><circle cx="165.8" cy="251.8" r="4.2"/><circle cx="165.8" cy="256.9" r="4.2"/><circle cx="218.9" cy="251.5" r="4.2"/><circle cx="218.9" cy="256.4" r="4.2"/><circle cx="218.9" cy="261.3" r="4.2"/><circle cx="245.4" cy="254" r="4.2"/><circle cx="245.4" cy="258.2" r="4.2"/><circle cx="245.4" cy="262.5" r="4.2"/><circle cx="96.1" cy="258.9" r="4.2"/><circle cx="96.1" cy="263.2" r="4.2"/><circle cx="96.1" cy="267.4" r="4.2"/><circle cx="96.1" cy="271.7" r="4.2"/><circle cx="96.1" cy="276" r="4.2"/><circle cx="362.2" cy="156.3" r="4.2"/><circle cx="362.2" cy="159.9" r="4.2"/><circle cx="362.2" cy="163.6" r="4.2"/><circle cx="362.2" cy="182" r="4.2"/><circle cx="362.2" cy="188" r="4.2"/><circle cx="239.8" cy="197.9" r="4.2"/><circle cx="239.8" cy="202.2" r="4.2"/><circle cx="239.8" cy="206.4" r="4.2"/><circle cx="239.8" cy="210.7" r="4.2"/><circle cx="239.8" cy="215" r="4.2"/><circle cx="307.8" cy="207.7" r="4.2"/><circle cx="307.8" cy="212" r="4.2"/><circle cx="307.8" cy="216.2" r="4.2"/><circle cx="307.8" cy="220.5" r="4.2"/><circle cx="307.8" cy="224.8" r="4.2"/><circle cx="327.4" cy="197.9" r="4.2"/><circle cx="327.4" cy="202.8" r="4.2"/><circle cx="327.4" cy="207.7" r="4.2"/><circle cx="327.4" cy="212.6" r="4.2"/><circle cx="327.4" cy="217.5" r="4.2"/><circle cx="342.1" cy="202.8" r="4.2"/><circle cx="342.1" cy="207.7" r="4.2"/><circle cx="342.1" cy="212.6" r="4.2"/><circle cx="342.1" cy="217.5" r="4.2"/><circle cx="342.1" cy="222.4" r="4.2"/><circle cx="372" cy="202.8" r="4.2"/><circle cx="372" cy="206.9" r="4.2"/><circle cx="372" cy="210.9" r="4.2"/><circle cx="372" cy="215" r="4.2"/><circle cx="386.6" cy="200.3" r="4.2"/><circle cx="386.6" cy="205.2" r="4.2"/><circle cx="386.6" cy="210.1" r="4.2"/><circle cx="386.6" cy="215" r="4.2"/><circle cx="400.8" cy="188" r="4.2"/><circle cx="400.8" cy="192.9" r="4.2"/><circle cx="400.8" cy="197.9" r="4.2"/><circle cx="400.8" cy="202.8" r="4.2"/><circle cx="423.3" cy="180.8" r="4.2"/><circle cx="423.3" cy="185.1" r="4.2"/><circle cx="423.3" cy="189.4" r="4.2"/><circle cx="423.3" cy="193.6" r="4.2"/><circle cx="423.3" cy="197.9" r="4.2"/><circle cx="256.9" cy="232" r="4.2"/><circle cx="256.9" cy="237" r="4.2"/><circle cx="244.7" cy="254.2" r="4.2"/><circle cx="244.7" cy="257.9" r="4.2"/><circle cx="244.7" cy="261.5" r="4.2"/><circle cx="270.4" cy="262.7" r="4.2"/><circle cx="270.4" cy="268.9" r="4.2"/><circle cx="299.7" cy="242" r="4.2"/><circle cx="299.7" cy="246.2" r="4.2"/><circle cx="299.7" cy="250.5" r="4.2"/><circle cx="299.7" cy="254.8" r="4.2"/><circle cx="299.7" cy="259" r="4.2"/><circle cx="299.7" cy="263.2" r="4.2"/><circle cx="299.7" cy="267.5" r="4.2"/><circle cx="299.7" cy="271.8" r="4.2"/><circle cx="299.7" cy="276" r="4.2"/><circle cx="320.6" cy="237" r="4.2"/><circle cx="320.6" cy="241.9" r="4.2"/><circle cx="320.6" cy="246.8" r="4.2"/><circle cx="320.6" cy="251.7" r="4.2"/><circle cx="320.6" cy="256.6" r="4.2"/><circle cx="329.1" cy="256.6" r="4.2"/><circle cx="329.1" cy="261.5" r="4.2"/><circle cx="329.1" cy="266.3" r="4.2"/><circle cx="329.1" cy="271.1" r="4.2"/><circle cx="329.1" cy="276" r="4.2"/><circle cx="337.7" cy="254" r="4.2"/><circle cx="337.7" cy="258.2" r="4.2"/><circle cx="337.7" cy="262.5" r="4.2"/><circle cx="337.7" cy="266.8" r="4.2"/><circle cx="337.7" cy="271" r="4.2"/><circle cx="349.9" cy="251.7" r="4.2"/><circle cx="349.9" cy="256.6" r="4.2"/><circle cx="349.9" cy="261.4" r="4.2"/><circle cx="349.9" cy="266.3" r="4.2"/><circle cx="349.9" cy="271.1" r="4.2"/><circle cx="349.9" cy="276" r="4.2"/><circle cx="358.5" cy="242" r="4.2"/><circle cx="358.5" cy="246.8" r="4.2"/><circle cx="358.5" cy="251.7" r="4.2"/><circle cx="358.5" cy="256.5" r="4.2"/><circle cx="358.5" cy="261.3" r="4.2"/><circle cx="358.5" cy="266.2" r="4.2"/><circle cx="358.5" cy="271" r="4.2"/><circle cx="367" cy="246.8" r="4.2"/><circle cx="367" cy="251.7" r="4.2"/><circle cx="367" cy="256.6" r="4.2"/><circle cx="367" cy="261.5" r="4.2"/><circle cx="376.8" cy="237" r="4.2"/><circle cx="376.8" cy="241.9" r="4.2"/><circle cx="376.8" cy="246.8" r="4.2"/><circle cx="376.8" cy="251.7" r="4.2"/><circle cx="376.8" cy="256.6" r="4.2"/><circle cx="386.6" cy="249.3" r="4.2"/><circle cx="386.6" cy="254.2" r="4.2"/><circle cx="386.6" cy="259.1" r="4.2"/><circle cx="386.6" cy="264" r="4.2"/><circle cx="386.6" cy="268.9" r="4.2"/><circle cx="96.1" cy="270" r="4.2"/><circle cx="96.1" cy="274.6" r="4.2"/><circle cx="96.1" cy="279.2" r="4.2"/><circle cx="96.1" cy="283.7" r="4.2"/><circle cx="96.1" cy="288.3" r="4.2"/><circle cx="96.1" cy="292.9" r="4.2"/><circle cx="96.1" cy="297.5" r="4.2"/><circle cx="96.1" cy="302" r="4.2"/><circle cx="96.1" cy="306.6" r="4.2"/><circle cx="96.1" cy="311.2" r="4.2"/><circle cx="115.4" cy="324" r="4.2"/><circle cx="115.4" cy="330.5" r="4.2"/><circle cx="115.4" cy="344.7" r="4.2"/><circle cx="115.4" cy="348.8" r="4.2"/><circle cx="115.4" cy="352.9" r="4.2"/><circle cx="115.4" cy="357.1" r="4.2"/><circle cx="115.4" cy="361.2" r="4.2"/><circle cx="115.4" cy="365.3" r="4.2"/><circle cx="132.1" cy="331.8" r="4.2"/><circle cx="132.1" cy="336.3" r="4.2"/><circle cx="132.1" cy="340.9" r="4.2"/><circle cx="132.1" cy="345.4" r="4.2"/><circle cx="132.1" cy="350" r="4.2"/><circle cx="132.1" cy="354.5" r="4.2"/><circle cx="132.1" cy="359.1" r="4.2"/><circle cx="132.1" cy="363.6" r="4.2"/><circle cx="132.1" cy="368.2" r="4.2"/><circle cx="132.1" cy="372.7" r="4.2"/><circle cx="132.1" cy="377.3" r="4.2"/><circle cx="132.1" cy="381.8" r="4.2"/><circle cx="132.1" cy="386.4" r="4.2"/><circle cx="132.1" cy="390.9" r="4.2"/><circle cx="132.1" cy="395.5" r="4.2"/><circle cx="132.1" cy="400" r="4.2"/><circle cx="132.1" cy="404.6" r="4.2"/><circle cx="132.1" cy="409.1" r="4.2"/><circle cx="146.3" cy="282.9" r="4.2"/><circle cx="146.3" cy="288" r="4.2"/><circle cx="147.1" cy="303.5" r="4.2"/><circle cx="147.1" cy="307.4" r="4.2"/><circle cx="147.1" cy="311.2" r="4.2"/><circle cx="165.6" cy="285.5" r="4.2"/><circle cx="165.6" cy="290.6" r="4.2"/><circle cx="165.6" cy="295.8" r="4.2"/><circle cx="155.3" cy="388.5" r="4.2"/><circle cx="155.3" cy="392.4" r="4.2"/><circle cx="155.3" cy="396.2" r="4.2"/><circle cx="155.3" cy="409.1" r="4.2"/><circle cx="155.3" cy="413.6" r="4.2"/><circle cx="155.3" cy="418.1" r="4.2"/><circle cx="155.3" cy="422.6" r="4.2"/><circle cx="155.3" cy="427.1" r="4.2"/><circle cx="155.3" cy="431.6" r="4.2"/><circle cx="155.3" cy="436.1" r="4.2"/><circle cx="155.3" cy="440.7" r="4.2"/><circle cx="155.3" cy="445.2" r="4.2"/><circle cx="155.3" cy="449.7" r="4.2"/><circle cx="155.3" cy="454.2" r="4.2"/><circle cx="155.3" cy="458.7" r="4.2"/><circle cx="155.3" cy="463.2" r="4.2"/><circle cx="177.2" cy="358.9" r="4.2"/><circle cx="177.2" cy="365.3" r="4.2"/><circle cx="172.1" cy="370.5" r="4.2"/><circle cx="172.1" cy="374.9" r="4.2"/><circle cx="172.1" cy="379.3" r="4.2"/><circle cx="172.1" cy="383.6" r="4.2"/><circle cx="172.1" cy="388" r="4.2"/><circle cx="172.1" cy="392.4" r="4.2"/><circle cx="172.1" cy="396.8" r="4.2"/><circle cx="172.1" cy="401.2" r="4.2"/><circle cx="172.1" cy="405.5" r="4.2"/><circle cx="172.1" cy="409.9" r="4.2"/><circle cx="172.1" cy="414.3" r="4.2"/><circle cx="177.2" cy="373" r="4.2"/><circle cx="177.2" cy="377.4" r="4.2"/><circle cx="177.2" cy="381.9" r="4.2"/><circle cx="177.2" cy="386.3" r="4.2"/><circle cx="177.2" cy="390.7" r="4.2"/><circle cx="177.2" cy="395.1" r="4.2"/><circle cx="177.2" cy="399.6" r="4.2"/><circle cx="177.2" cy="404" r="4.2"/><circle cx="194" cy="393.6" r="4.2"/><circle cx="194" cy="398.3" r="4.2"/><circle cx="194" cy="403.1" r="4.2"/><circle cx="194" cy="407.8" r="4.2"/><circle cx="194" cy="412.5" r="4.2"/><circle cx="194" cy="417.3" r="4.2"/><circle cx="194" cy="422" r="4.2"/><circle cx="197.8" cy="306.1" r="4.2"/><circle cx="197.8" cy="311" r="4.2"/><circle cx="197.8" cy="315.9" r="4.2"/><circle cx="197.8" cy="320.7" r="4.2"/><circle cx="197.8" cy="325.6" r="4.2"/><circle cx="197.8" cy="330.5" r="4.2"/><circle cx="197.8" cy="275.2" r="4.2"/><circle cx="197.8" cy="279" r="4.2"/><circle cx="197.8" cy="282.9" r="4.2"/><circle cx="214" cy="339.6" r="4.2"/><circle cx="214" cy="344.4" r="4.2"/><circle cx="214" cy="349.1" r="4.2"/><circle cx="214" cy="353.9" r="4.2"/><circle cx="214" cy="358.7" r="4.2"/><circle cx="214" cy="363.5" r="4.2"/><circle cx="214" cy="368.2" r="4.2"/><circle cx="214" cy="373" r="4.2"/><circle cx="214" cy="385.9" r="4.2"/><circle cx="214" cy="390.2" r="4.2"/><circle cx="214" cy="394.5" r="4.2"/><circle cx="214" cy="398.8" r="4.2"/><circle cx="222.3" cy="342.1" r="4.2"/><circle cx="222.3" cy="346.7" r="4.2"/><circle cx="222.3" cy="351.4" r="4.2"/><circle cx="222.3" cy="356" r="4.2"/><circle cx="222.3" cy="360.7" r="4.2"/><circle cx="222.3" cy="365.3" r="4.2"/><circle cx="222.3" cy="383.3" r="4.2"/><circle cx="222.3" cy="387.2" r="4.2"/><circle cx="222.3" cy="391.1" r="4.2"/><circle cx="215.8" cy="275" r="4.2"/><circle cx="215.8" cy="281.6" r="4.2"/><circle cx="227.4" cy="273.9" r="4.2"/><circle cx="227.4" cy="277.8" r="4.2"/><circle cx="227.4" cy="281.6" r="4.2"/><circle cx="250.6" cy="308.6" r="4.2"/><circle cx="250.6" cy="313.4" r="4.2"/><circle cx="250.6" cy="318.2" r="4.2"/><circle cx="250.6" cy="323" r="4.2"/><circle cx="250.6" cy="327.7" r="4.2"/><circle cx="250.6" cy="332.5" r="4.2"/><circle cx="250.6" cy="337.3" r="4.2"/><circle cx="250.6" cy="342.1" r="4.2"/><circle cx="256" cy="310" r="4.2"/><circle cx="256" cy="314.2" r="4.2"/><circle cx="256" cy="318.3" r="4.2"/><circle cx="256" cy="322.5" r="4.2"/><circle cx="256" cy="326.7" r="4.2"/><circle cx="256" cy="330.8" r="4.2"/><circle cx="256" cy="335" r="4.2"/><circle cx="259.6" cy="331.8" r="4.2"/><circle cx="259.6" cy="336.4" r="4.2"/><circle cx="259.6" cy="341.1" r="4.2"/><circle cx="259.6" cy="345.7" r="4.2"/><circle cx="259.6" cy="350.4" r="4.2"/><circle cx="259.6" cy="355" r="4.2"/><circle cx="259.6" cy="359.6" r="4.2"/><circle cx="259.6" cy="364.3" r="4.2"/><circle cx="259.6" cy="368.9" r="4.2"/><circle cx="259.6" cy="373.6" r="4.2"/><circle cx="259.6" cy="378.2" r="4.2"/><circle cx="269.9" cy="277.7" r="4.2"/><circle cx="269.9" cy="282" r="4.2"/><circle cx="269.9" cy="286.3" r="4.2"/><circle cx="269.9" cy="290.6" r="4.2"/><circle cx="269.9" cy="294.9" r="4.2"/><circle cx="269.9" cy="299.2" r="4.2"/><circle cx="269.9" cy="303.5" r="4.2"/><circle cx="218.5" cy="250.9" r="4.2"/><circle cx="218.5" cy="255.2" r="4.2"/><circle cx="218.5" cy="259.5" r="4.2"/><circle cx="218.5" cy="263.8" r="4.2"/><circle cx="243.8" cy="230.3" r="4.2"/><circle cx="243.8" cy="234.2" r="4.2"/><circle cx="243.8" cy="238" r="4.2"/><circle cx="256.7" cy="232.9" r="4.2"/><circle cx="256.7" cy="238" r="4.2"/><circle cx="245.1" cy="253.5" r="4.2"/><circle cx="245.1" cy="258" r="4.2"/><circle cx="245.1" cy="262.5" r="4.2"/><circle cx="269.6" cy="262.5" r="4.2"/><circle cx="269.6" cy="269" r="4.2"/><circle cx="269.6" cy="278" r="4.2"/><circle cx="269.6" cy="282.2" r="4.2"/><circle cx="269.6" cy="286.4" r="4.2"/><circle cx="269.6" cy="290.5" r="4.2"/><circle cx="269.6" cy="294.7" r="4.2"/><circle cx="227" cy="267.7" r="4.2"/><circle cx="227" cy="272" r="4.2"/><circle cx="227" cy="276.2" r="4.2"/><circle cx="227" cy="280.5" r="4.2"/><circle cx="215.5" cy="274" r="4.2"/><circle cx="215.5" cy="280.5" r="4.2"/><circle cx="299.2" cy="240.6" r="4.2"/><circle cx="299.2" cy="245.1" r="4.2"/><circle cx="299.2" cy="249.6" r="4.2"/><circle cx="299.2" cy="254.1" r="4.2"/><circle cx="299.2" cy="258.6" r="4.2"/><circle cx="319.8" cy="238" r="4.2"/><circle cx="319.8" cy="241.9" r="4.2"/><circle cx="319.8" cy="245.8" r="4.2"/><circle cx="359.7" cy="226.4" r="4.2"/><circle cx="359.7" cy="230.3" r="4.2"/><circle cx="299.2" cy="289.6" r="4.2"/><circle cx="299.2" cy="293.5" r="4.2"/><circle cx="299.2" cy="297.3" r="4.2"/><circle cx="251.5" cy="307.6" r="4.2"/><circle cx="251.5" cy="312" r="4.2"/><circle cx="251.5" cy="316.4" r="4.2"/><circle cx="251.5" cy="320.8" r="4.2"/><circle cx="251.5" cy="325.3" r="4.2"/><circle cx="251.5" cy="329.7" r="4.2"/><circle cx="251.5" cy="334.1" r="4.2"/><circle cx="251.5" cy="338.5" r="4.2"/><circle cx="259.2" cy="328.2" r="4.2"/><circle cx="259.2" cy="332.8" r="4.2"/><circle cx="259.2" cy="337.5" r="4.2"/><circle cx="259.2" cy="342.1" r="4.2"/><circle cx="259.2" cy="346.8" r="4.2"/><circle cx="259.2" cy="351.4" r="4.2"/><circle cx="259.2" cy="356" r="4.2"/><circle cx="259.2" cy="360.7" r="4.2"/><circle cx="259.2" cy="365.3" r="4.2"/><circle cx="259.2" cy="370" r="4.2"/><circle cx="259.2" cy="374.6" r="4.2"/><circle cx="292.7" cy="305" r="4.2"/><circle cx="292.7" cy="309.5" r="4.2"/><circle cx="292.7" cy="314" r="4.2"/><circle cx="292.7" cy="318.5" r="4.2"/><circle cx="292.7" cy="323" r="4.2"/><circle cx="288.9" cy="325.6" r="4.2"/><circle cx="288.9" cy="328.2" r="4.2"/><circle cx="315.9" cy="302.4" r="4.2"/><circle cx="315.9" cy="306.7" r="4.2"/><circle cx="315.9" cy="311" r="4.2"/><circle cx="315.9" cy="315.3" r="4.2"/><circle cx="315.9" cy="319.6" r="4.2"/><circle cx="315.9" cy="323.9" r="4.2"/><circle cx="315.9" cy="328.2" r="4.2"/><circle cx="368.7" cy="230" r="4.2"/><circle cx="368.7" cy="234.8" r="4.2"/><circle cx="368.7" cy="239.5" r="4.2"/><circle cx="368.7" cy="244.3" r="4.2"/><circle cx="368.7" cy="249.1" r="4.2"/><circle cx="368.7" cy="253.8" r="4.2"/><circle cx="368.7" cy="258.6" r="4.2"/><circle cx="380.3" cy="240.6" r="4.2"/><circle cx="380.3" cy="245.1" r="4.2"/><circle cx="380.3" cy="249.6" r="4.2"/><circle cx="380.3" cy="254.1" r="4.2"/><circle cx="380.3" cy="258.6" r="4.2"/><circle cx="390" cy="240" r="4.2"/><circle cx="390" cy="245" r="4.2"/><circle cx="390" cy="250" r="4.2"/><circle cx="390" cy="255" r="4.2"/><circle cx="212.9" cy="341.1" r="4.2"/><circle cx="212.9" cy="345.7" r="4.2"/><circle cx="212.9" cy="350.4" r="4.2"/><circle cx="212.9" cy="355" r="4.2"/><circle cx="212.9" cy="359.7" r="4.2"/><circle cx="212.9" cy="364.3" r="4.2"/><circle cx="223.2" cy="343.6" r="4.2"/><circle cx="223.2" cy="347.7" r="4.2"/><circle cx="223.2" cy="351.9" r="4.2"/><circle cx="223.2" cy="356" r="4.2"/><circle cx="223.2" cy="360.2" r="4.2"/><circle cx="223.2" cy="364.3" r="4.2"/><circle cx="212.9" cy="374.6" r="4.2"/><circle cx="212.9" cy="378.9" r="4.2"/><circle cx="212.9" cy="383.2" r="4.2"/><circle cx="212.9" cy="387.5" r="4.2"/><circle cx="212.9" cy="391.7" r="4.2"/><circle cx="212.9" cy="396" r="4.2"/><circle cx="212.9" cy="400.3" r="4.2"/><circle cx="223.2" cy="384.9" r="4.2"/><circle cx="223.2" cy="390" r="4.2"/><circle cx="238.6" cy="392.6" r="4.2"/><circle cx="238.6" cy="396.9" r="4.2"/><circle cx="238.6" cy="401.2" r="4.2"/><circle cx="238.6" cy="405.5" r="4.2"/><circle cx="140" cy="420" r="4.2"/><circle cx="140" cy="424.3" r="4.2"/><circle cx="140" cy="428.6" r="4.2"/><circle cx="140" cy="432.9" r="4.2"/><circle cx="140" cy="437.1" r="4.2"/><circle cx="140" cy="441.4" r="4.2"/><circle cx="140" cy="445.7" r="4.2"/><circle cx="140" cy="450" r="4.2"/><circle cx="150" cy="330" r="4.2"/><circle cx="150" cy="335" r="4.2"/><circle cx="150" cy="340" r="4.2"/><circle cx="150" cy="345" r="4.2"/><circle cx="150" cy="350" r="4.2"/><circle cx="336" cy="262" r="4.2"/><circle cx="336" cy="266.3" r="4.2"/><circle cx="336" cy="270.6" r="4.2"/><circle cx="336" cy="274.9" r="4.2"/><circle cx="336" cy="279.2" r="4.2"/><circle cx="336" cy="283.5" r="4.2"/><circle cx="336" cy="287.8" r="4.2"/><circle cx="336" cy="292.1" r="4.2"/><circle cx="336" cy="296.4" r="4.2"/><circle cx="336" cy="300.7" r="4.2"/><circle cx="336" cy="305" r="4.2"/><circle cx="345" cy="265" r="4.2"/><circle cx="345" cy="269.4" r="4.2"/><circle cx="345" cy="273.8" r="4.2"/><circle cx="345" cy="278.1" r="4.2"/><circle cx="345" cy="282.5" r="4.2"/><circle cx="345" cy="286.9" r="4.2"/><circle cx="345" cy="291.2" r="4.2"/><circle cx="345" cy="295.6" r="4.2"/><circle cx="345" cy="300" r="4.2"/><circle cx="352" cy="270" r="4.2"/><circle cx="352" cy="275" r="4.2"/><circle cx="352" cy="280" r="4.2"/><circle cx="352" cy="285" r="4.2"/><circle cx="352" cy="290" r="4.2"/><circle cx="330" cy="250" r="4.2"/><circle cx="330" cy="254.2" r="4.2"/><circle cx="330" cy="258.3" r="4.2"/><circle cx="330" cy="262.5" r="4.2"/><circle cx="330" cy="266.7" r="4.2"/><circle cx="330" cy="270.8" r="4.2"/><circle cx="330" cy="275" r="4.2"/><circle cx="360" cy="280" r="4.2"/><circle cx="360" cy="285" r="4.2"/><circle cx="360" cy="290" r="4.2"/><circle cx="360" cy="295" r="4.2"/><circle cx="360" cy="300" r="4.2"/><circle cx="370" cy="262" r="4.2"/><circle cx="370" cy="266.6" r="4.2"/><circle cx="370" cy="271.2" r="4.2"/><circle cx="370" cy="275.8" r="4.2"/><circle cx="370" cy="280.4" r="4.2"/><circle cx="370" cy="285" r="4.2"/><circle cx="310" cy="270" r="4.2"/><circle cx="310" cy="275" r="4.2"/><circle cx="310" cy="280" r="4.2"/><circle cx="310" cy="285" r="4.2"/><circle cx="310" cy="290" r="4.2"/><circle cx="380" cy="205" r="4.2"/><circle cx="380" cy="209.2" r="4.2"/><circle cx="380" cy="213.3" r="4.2"/><circle cx="380" cy="217.5" r="4.2"/><circle cx="380" cy="221.7" r="4.2"/><circle cx="380" cy="225.8" r="4.2"/><circle cx="380" cy="230" r="4.2"/><circle cx="395" cy="215" r="4.2"/><circle cx="395" cy="220" r="4.2"/><circle cx="395" cy="225" r="4.2"/><circle cx="395" cy="230" r="4.2"/><circle cx="395" cy="235" r="4.2"/><circle cx="407" cy="190" r="4.2"/><circle cx="407" cy="194.2" r="4.2"/><circle cx="407" cy="198.3" r="4.2"/><circle cx="407" cy="202.5" r="4.2"/><circle cx="407" cy="206.7" r="4.2"/><circle cx="407" cy="210.8" r="4.2"/><circle cx="407" cy="215" r="4.2"/><circle cx="415" cy="205" r="4.2"/><circle cx="415" cy="209.2" r="4.2"/><circle cx="415" cy="213.5" r="4.2"/><circle cx="415" cy="217.8" r="4.2"/><circle cx="415" cy="222" r="4.2"/><circle cx="430" cy="175" r="4.2"/><circle cx="430" cy="180" r="4.2"/><circle cx="430" cy="185" r="4.2"/><circle cx="430" cy="190" r="4.2"/><circle cx="350" cy="200" r="4.2"/><circle cx="350" cy="205" r="4.2"/><circle cx="350" cy="210" r="4.2"/><circle cx="350" cy="215" r="4.2"/><circle cx="315" cy="245" r="4.2"/><circle cx="315" cy="250" r="4.2"/><circle cx="315" cy="255" r="4.2"/><circle cx="315" cy="260" r="4.2"/><circle cx="315" cy="265" r="4.2"/><circle cx="280" cy="240" r="4.2"/><circle cx="280" cy="245" r="4.2"/><circle cx="280" cy="250" r="4.2"/><circle cx="280" cy="255" r="4.2"/></g><rect x="437.7" y="400.3" width="177.3" height="16.5" fill="url(#cb8)" stroke="#444" stroke-width="0.8"/><rect x="30.5" y="623" width="17" height="17" fill="#12843e" stroke="#111" stroke-width="1.4"/><circle cx="176.5" cy="631.3" r="4.9" fill="#de2a36" fill-opacity="0.62"/><polygon points="365.4,624.1 382.7,624.1 374,641.2" fill="#3d9fa0"/><polygon points="365.4,624.1 374,641.2 365.4,641.2" fill="#5b2d82"/><polygon points="382.7,624.1 382.7,641.2 374,641.2" fill="#f2e43a"/><g clip-path="url(#clip9)"><g filter="url(#blur10)"><rect x="755" y="38.1" width="12" height="4.6" fill="url(#r11)"/><rect x="755" y="42.1" width="12" height="4.6" fill="url(#r12)"/><rect x="752.5" y="46.1" width="16.9" height="4.6" fill="url(#r13)"/><rect x="750.1" y="50.1" width="21.9" height="4.6" fill="url(#r14)"/><rect x="747.6" y="54.1" width="26.8" height="4.6" fill="url(#r15)"/><rect x="745.1" y="58.1" width="31.7" height="4.6" fill="url(#r16)"/><rect x="742.7" y="62.1" width="36.7" height="4.6" fill="url(#r17)"/><rect x="740.2" y="66.1" width="41.6" height="4.6" fill="url(#r18)"/><rect x="737.7" y="70.1" width="46.6" height="4.6" fill="url(#r19)"/><rect x="735.2" y="74.1" width="51.5" height="4.6" fill="url(#r20)"/><rect x="732.8" y="78.1" width="56.4" height="4.6" fill="url(#r21)"/><rect x="730.3" y="82.1" width="61.4" height="4.6" fill="url(#r22)"/><rect x="727.8" y="86.1" width="66.3" height="4.6" fill="url(#r23)"/><rect x="725.4" y="90.1" width="71.2" height="4.6" fill="url(#r24)"/><rect x="722.9" y="94.1" width="76.2" height="4.6" fill="url(#r25)"/><rect x="720.4" y="98.1" width="81.1" height="4.6" fill="url(#r26)"/><rect x="718" y="102.1" width="86.1" height="4.6" fill="url(#r27)"/><rect x="715.5" y="106.1" width="91" height="4.6" fill="url(#r28)"/><rect x="713" y="110.1" width="95.9" height="4.6" fill="url(#r29)"/><rect x="710.6" y="114.1" width="100.9" height="4.6" fill="url(#r30)"/><rect x="708.1" y="118.1" width="105.8" height="4.6" fill="url(#r31)"/><rect x="705.6" y="122.1" width="110.7" height="4.6" fill="url(#r32)"/><rect x="703.1" y="126.1" width="115.7" height="4.6" fill="url(#r33)"/><rect x="700.7" y="130.1" width="120.6" height="4.6" fill="url(#r34)"/><rect x="698.2" y="134.1" width="125.6" height="4.6" fill="url(#r35)"/><rect x="695.7" y="138.1" width="130.5" height="4.6" fill="url(#r36)"/><rect x="693.3" y="142.1" width="135.4" height="4.6" fill="url(#r37)"/><rect x="690.8" y="146.1" width="140.4" height="4.6" fill="url(#r38)"/><rect x="688.3" y="150.1" width="145.3" height="4.6" fill="url(#r39)"/><rect x="685.9" y="154.1" width="150.2" height="4.6" fill="url(#r40)"/><rect x="683.4" y="158.1" width="155.2" height="4.6" fill="url(#r41)"/><rect x="680.9" y="162.1" width="160.1" height="4.6" fill="url(#r42)"/><rect x="678.5" y="166.1" width="165.1" height="4.6" fill="url(#r43)"/><rect x="676" y="170.1" width="170" height="4.6" fill="url(#r44)"/><rect x="673.5" y="174.1" width="174.9" height="4.6" fill="url(#r45)"/><rect x="671" y="178.1" width="179.9" height="4.6" fill="url(#r46)"/><rect x="668.6" y="182.1" width="184.8" height="4.6" fill="url(#r47)"/><rect x="666.1" y="186.1" width="189.7" height="4.6" fill="url(#r48)"/><rect x="663.6" y="190.1" width="194.7" height="4.6" fill="url(#r49)"/><rect x="661.2" y="194.1" width="199.6" height="4.6" fill="url(#r50)"/><rect x="658.7" y="198.1" width="204.6" height="4.6" fill="url(#r51)"/><rect x="656.2" y="202.1" width="209.5" height="4.6" fill="url(#r52)"/><rect x="653.8" y="206.1" width="214.4" height="4.6" fill="url(#r53)"/><rect x="651.3" y="210.1" width="219.4" height="4.6" fill="url(#r54)"/><rect x="648.8" y="214.1" width="224.3" height="4.6" fill="url(#r55)"/><rect x="646.4" y="218.1" width="229.2" height="4.6" fill="url(#r56)"/><rect x="643.9" y="222.1" width="234.2" height="4.6" fill="url(#r57)"/><rect x="641.4" y="226.1" width="239.1" height="4.6" fill="url(#r58)"/><rect x="638.9" y="230.1" width="244" height="4.6" fill="url(#r59)"/><rect x="636.5" y="234.1" width="249" height="4.6" fill="url(#r60)"/><rect x="634" y="238.1" width="253.9" height="4.6" fill="url(#r61)"/><rect x="631.5" y="242.1" width="258.9" height="4.6" fill="url(#r62)"/><rect x="629.1" y="246.1" width="263.8" height="4.6" fill="url(#r63)"/><rect x="626.6" y="250.1" width="268.7" height="4.6" fill="url(#r64)"/><rect x="624.1" y="254.1" width="273.7" height="4.6" fill="url(#r65)"/><rect x="621.7" y="258.1" width="278.6" height="4.6" fill="url(#r66)"/><rect x="619.2" y="262.1" width="283.5" height="4.6" fill="url(#r67)"/><rect x="616.7" y="266.1" width="288.5" height="4.6" fill="url(#r68)"/><rect x="614.2" y="270.1" width="293.4" height="4.6" fill="url(#r69)"/><rect x="611.8" y="274.1" width="298.4" height="4.6" fill="url(#r70)"/><rect x="609.3" y="278.1" width="303.3" height="4.6" fill="url(#r71)"/><rect x="606.8" y="282.1" width="308.2" height="4.6" fill="url(#r72)"/><rect x="604.4" y="286.1" width="313.2" height="4.6" fill="url(#r73)"/><rect x="601.9" y="290.1" width="318.1" height="4.6" fill="url(#r74)"/><rect x="599.4" y="294.1" width="323" height="4.6" fill="url(#r75)"/><rect x="597" y="298.1" width="328" height="4.6" fill="url(#r76)"/><rect x="594.5" y="302.1" width="332.9" height="4.6" fill="url(#r77)"/><rect x="592" y="306.1" width="337.9" height="4.6" fill="url(#r78)"/><rect x="589.6" y="310.1" width="342.8" height="4.6" fill="url(#r79)"/><rect x="587.1" y="314.1" width="347.7" height="4.6" fill="url(#r80)"/><rect x="584.6" y="318.1" width="352.7" height="4.6" fill="url(#r81)"/><rect x="582.1" y="322.1" width="357.6" height="4.6" fill="url(#r82)"/><rect x="579.7" y="326.1" width="362.5" height="4.6" fill="url(#r83)"/><rect x="579" y="330.1" width="363.9" height="4.6" fill="url(#r84)"/><rect x="579" y="334.1" width="363.9" height="4.6" fill="url(#r85)"/></g></g><g stroke="#000" stroke-width="1.3"><line x1="655.4" y1="215.2" x2="849" y2="186.7"/><line x1="629" y1="257.9" x2="849" y2="186.7"/><line x1="629" y1="257.9" x2="673" y2="329.2"/><line x1="673" y1="329.2" x2="849" y2="186.7"/><line x1="702.3" y1="329.2" x2="849" y2="186.7"/><line x1="702.3" y1="329.2" x2="852.8" y2="192.8"/></g><polygon points="585,329.2 936.9,329.2 761,44.1" fill="none" stroke="#000" stroke-width="1.6" stroke-linejoin="round"/><rect x="580.2" y="325.2" width="9.6" height="8" fill="#12843e" stroke="#0a3d1c" stroke-width="0.8"/><rect x="932.1" y="325.2" width="9.6" height="8" fill="#12843e" stroke="#0a3d1c" stroke-width="0.8"/><rect x="756.2" y="40.1" width="9.6" height="8" fill="#12843e" stroke="#0a3d1c" stroke-width="0.8"/><rect x="844.2" y="182.7" width="9.6" height="8" fill="#12843e" stroke="#0a3d1c" stroke-width="0.8"/><rect x="848" y="188.8" width="9.6" height="8" fill="#12843e" stroke="#0a3d1c" stroke-width="0.8"/><rect x="697.5" y="325.2" width="9.6" height="8" fill="#12843e" stroke="#0a3d1c" stroke-width="0.8"/><rect x="668.2" y="325.2" width="9.6" height="8" fill="#12843e" stroke="#0a3d1c" stroke-width="0.8"/><rect x="624.2" y="253.9" width="9.6" height="8" fill="#12843e" stroke="#0a3d1c" stroke-width="0.8"/><rect x="650.6" y="211.2" width="9.6" height="8" fill="#12843e" stroke="#0a3d1c" stroke-width="0.8"/><g fill="#de2a36" fill-opacity="0.85"><ellipse cx="680.8" cy="173.2" rx="3.4" ry="3.1"/><ellipse cx="696.1" cy="178.9" rx="3.4" ry="3.1"/><ellipse cx="776.5" cy="173.8" rx="3.4" ry="3.1"/><ellipse cx="799.2" cy="171.1" rx="3.4" ry="3.1"/><ellipse cx="672.8" cy="186.6" rx="3.4" ry="3.1"/><ellipse cx="686.6" cy="193.8" rx="3.4" ry="3.1"/><ellipse cx="761" cy="186.6" rx="3.4" ry="3.1"/><ellipse cx="778.6" cy="186.6" rx="3.4" ry="3.1"/><ellipse cx="790.1" cy="186.6" rx="3.4" ry="3.1"/><ellipse cx="804.5" cy="186.6" rx="3.4" ry="3.1"/><ellipse cx="827.9" cy="197.6" rx="3.4" ry="3.1"/><ellipse cx="690.4" cy="215.1" rx="3.4" ry="3.1"/><ellipse cx="696.1" cy="218.5" rx="3.4" ry="3.1"/><ellipse cx="694.6" cy="222.1" rx="3.4" ry="3.1"/><ellipse cx="725.5" cy="215.1" rx="3.4" ry="3.1"/><ellipse cx="796" cy="215.1" rx="3.4" ry="3.1"/><ellipse cx="842.8" cy="205.1" rx="3.4" ry="3.1"/><ellipse cx="843.8" cy="209.3" rx="3.4" ry="3.1"/><ellipse cx="853" cy="220.6" rx="3.4" ry="3.1"/><ellipse cx="680.8" cy="225.7" rx="3.4" ry="3.1"/><ellipse cx="695.7" cy="231.6" rx="3.4" ry="3.1"/><ellipse cx="672.8" cy="233.8" rx="3.4" ry="3.1"/><ellipse cx="702.1" cy="234.2" rx="3.4" ry="3.1"/><ellipse cx="666" cy="241.2" rx="3.4" ry="3.1"/><ellipse cx="761" cy="234.2" rx="3.4" ry="3.1"/><ellipse cx="799.9" cy="234.2" rx="3.4" ry="3.1"/><ellipse cx="826.8" cy="222.1" rx="3.4" ry="3.1"/><ellipse cx="838.5" cy="234.2" rx="3.4" ry="3.1"/><ellipse cx="848.7" cy="244" rx="3.4" ry="3.1"/><ellipse cx="847" cy="250.8" rx="3.4" ry="3.1"/><ellipse cx="865.7" cy="238" rx="3.4" ry="3.1"/><ellipse cx="685.1" cy="247.6" rx="3.4" ry="3.1"/><ellipse cx="696.6" cy="251.4" rx="3.4" ry="3.1"/><ellipse cx="728.4" cy="251.4" rx="3.4" ry="3.1"/><ellipse cx="672.8" cy="257.8" rx="3.4" ry="3.1"/><ellipse cx="694.6" cy="257.8" rx="3.4" ry="3.1"/><ellipse cx="716.7" cy="257.8" rx="3.4" ry="3.1"/><ellipse cx="662.6" cy="265.6" rx="3.4" ry="3.1"/><ellipse cx="740.8" cy="265.6" rx="3.4" ry="3.1"/><ellipse cx="785.8" cy="247.6" rx="3.4" ry="3.1"/><ellipse cx="782.8" cy="257.8" rx="3.4" ry="3.1"/><ellipse cx="793.5" cy="257.8" rx="3.4" ry="3.1"/><ellipse cx="804.5" cy="257.8" rx="3.4" ry="3.1"/><ellipse cx="819" cy="252.9" rx="3.4" ry="3.1"/><ellipse cx="848.7" cy="257.8" rx="3.4" ry="3.1"/><ellipse cx="690.8" cy="272" rx="3.4" ry="3.1"/><ellipse cx="761" cy="272" rx="3.4" ry="3.1"/><ellipse cx="788.2" cy="268.8" rx="3.4" ry="3.1"/><ellipse cx="831.1" cy="272" rx="3.4" ry="3.1"/><ellipse cx="776.5" cy="277.3" rx="3.4" ry="3.1"/><ellipse cx="672.8" cy="281.6" rx="3.4" ry="3.1"/><ellipse cx="809.8" cy="281.6" rx="3.4" ry="3.1"/><ellipse cx="848.7" cy="281.6" rx="3.4" ry="3.1"/><ellipse cx="810.9" cy="288.6" rx="3.4" ry="3.1"/><ellipse cx="761" cy="288.6" rx="3.4" ry="3.1"/><ellipse cx="782.8" cy="293.3" rx="3.4" ry="3.1"/><ellipse cx="694.6" cy="293.3" rx="3.4" ry="3.1"/><ellipse cx="761" cy="297.5" rx="3.4" ry="3.1"/><ellipse cx="770.1" cy="299" rx="3.4" ry="3.1"/><ellipse cx="761" cy="303.5" rx="3.4" ry="3.1"/><ellipse cx="707.8" cy="300.7" rx="3.4" ry="3.1"/><ellipse cx="679.1" cy="307.1" rx="3.4" ry="3.1"/><ellipse cx="687.2" cy="305.4" rx="3.4" ry="3.1"/><ellipse cx="717" cy="305.4" rx="3.4" ry="3.1"/><ellipse cx="722.7" cy="309.2" rx="3.4" ry="3.1"/><ellipse cx="719.5" cy="312" rx="3.4" ry="3.1"/><ellipse cx="748.2" cy="309.2" rx="3.4" ry="3.1"/><ellipse cx="672.8" cy="329.2" rx="3.4" ry="3.1"/><ellipse cx="681.3" cy="329.2" rx="3.4" ry="3.1"/><ellipse cx="685.1" cy="329.2" rx="3.4" ry="3.1"/><ellipse cx="712.7" cy="329.2" rx="3.4" ry="3.1"/><ellipse cx="725.9" cy="329.2" rx="3.4" ry="3.1"/><ellipse cx="733.3" cy="329.2" rx="3.4" ry="3.1"/><ellipse cx="741.2" cy="329.2" rx="3.4" ry="3.1"/><ellipse cx="761" cy="329.2" rx="3.4" ry="3.1"/><ellipse cx="785.8" cy="329.2" rx="3.4" ry="3.1"/><ellipse cx="796" cy="329.2" rx="3.4" ry="3.1"/><ellipse cx="819.4" cy="329.2" rx="3.4" ry="3.1"/><ellipse cx="848.7" cy="329.2" rx="3.4" ry="3.1"/><ellipse cx="866.2" cy="329.2" rx="3.4" ry="3.1"/><ellipse cx="611.8" cy="329.2" rx="3.4" ry="3.1"/><ellipse cx="623.9" cy="329.2" rx="3.4" ry="3.1"/><ellipse cx="635.1" cy="329.2" rx="3.4" ry="3.1"/><ellipse cx="654.8" cy="329.2" rx="3.4" ry="3.1"/><ellipse cx="701.5" cy="329.2" rx="3.4" ry="3.1"/><ellipse cx="886.3" cy="329.2" rx="3.4" ry="3.1"/><ellipse cx="585" cy="329.2" rx="3.4" ry="3.1"/><ellipse cx="751.1" cy="59.6" rx="3.4" ry="3.1"/><ellipse cx="741.9" cy="73" rx="3.4" ry="3.1"/><ellipse cx="740.4" cy="76.1" rx="3.4" ry="3.1"/><ellipse cx="735.7" cy="84.9" rx="3.4" ry="3.1"/><ellipse cx="725.4" cy="101.2" rx="3.4" ry="3.1"/><ellipse cx="716.7" cy="115.7" rx="3.4" ry="3.1"/><ellipse cx="702.1" cy="139.4" rx="3.4" ry="3.1"/><ellipse cx="695.5" cy="149.3" rx="3.4" ry="3.1"/><ellipse cx="694.4" cy="151.3" rx="3.4" ry="3.1"/><ellipse cx="690.3" cy="158.1" rx="3.4" ry="3.1"/><ellipse cx="685.2" cy="166.2" rx="3.4" ry="3.1"/><ellipse cx="681" cy="173.6" rx="3.4" ry="3.1"/><ellipse cx="672.8" cy="186.8" rx="3.4" ry="3.1"/><ellipse cx="665.6" cy="198.8" rx="3.4" ry="3.1"/><ellipse cx="769.7" cy="59" rx="3.4" ry="3.1"/><ellipse cx="779" cy="73" rx="3.4" ry="3.1"/><ellipse cx="780" cy="76.1" rx="3.4" ry="3.1"/><ellipse cx="785.8" cy="84.9" rx="3.4" ry="3.1"/><ellipse cx="790.3" cy="91.5" rx="3.4" ry="3.1"/><ellipse cx="795.5" cy="101.2" rx="3.4" ry="3.1"/><ellipse cx="804.7" cy="115.7" rx="3.4" ry="3.1"/><ellipse cx="819.2" cy="139.4" rx="3.4" ry="3.1"/><ellipse cx="825.4" cy="149.3" rx="3.4" ry="3.1"/><ellipse cx="830.5" cy="158.1" rx="3.4" ry="3.1"/><ellipse cx="835.7" cy="166.2" rx="3.4" ry="3.1"/><ellipse cx="839.8" cy="173.6" rx="3.4" ry="3.1"/><ellipse cx="848" cy="186.8" rx="3.4" ry="3.1"/><ellipse cx="749.1" cy="101.2" rx="3.4" ry="3.1"/><ellipse cx="778.4" cy="129.7" rx="3.4" ry="3.1"/><ellipse cx="760.6" cy="139.4" rx="3.4" ry="3.1"/><ellipse cx="738.4" cy="151.3" rx="3.4" ry="3.1"/><ellipse cx="719.8" cy="153.8" rx="3.4" ry="3.1"/><ellipse cx="725.6" cy="158.1" rx="3.4" ry="3.1"/><ellipse cx="760.6" cy="158.1" rx="3.4" ry="3.1"/><ellipse cx="735.7" cy="166.2" rx="3.4" ry="3.1"/><ellipse cx="776.9" cy="173.6" rx="3.4" ry="3.1"/><ellipse cx="799.6" cy="170.9" rx="3.4" ry="3.1"/><ellipse cx="695.9" cy="179.2" rx="3.4" ry="3.1"/><ellipse cx="760.6" cy="186.8" rx="3.4" ry="3.1"/><ellipse cx="777.9" cy="186.8" rx="3.4" ry="3.1"/><ellipse cx="789.9" cy="186.8" rx="3.4" ry="3.1"/><ellipse cx="804.7" cy="186.8" rx="3.4" ry="3.1"/><ellipse cx="686.8" cy="194.2" rx="3.4" ry="3.1"/><ellipse cx="666" cy="197.5" rx="3.4" ry="3.1"/><ellipse cx="662.2" cy="203.1" rx="3.4" ry="3.1"/><ellipse cx="660.4" cy="206.8" rx="3.4" ry="3.1"/><ellipse cx="654.8" cy="215.2" rx="3.4" ry="3.1"/><ellipse cx="652" cy="219.9" rx="3.4" ry="3.1"/><ellipse cx="643.6" cy="233.9" rx="3.4" ry="3.1"/><ellipse cx="639.8" cy="240.5" rx="3.4" ry="3.1"/><ellipse cx="636.1" cy="246.1" rx="3.4" ry="3.1"/><ellipse cx="631.4" cy="251.7" rx="3.4" ry="3.1"/><ellipse cx="628.6" cy="258.2" rx="3.4" ry="3.1"/><ellipse cx="624.9" cy="263.8" rx="3.4" ry="3.1"/><ellipse cx="620.2" cy="272.2" rx="3.4" ry="3.1"/><ellipse cx="613.6" cy="281.6" rx="3.4" ry="3.1"/><ellipse cx="609.9" cy="289.1" rx="3.4" ry="3.1"/><ellipse cx="607.7" cy="292.4" rx="3.4" ry="3.1"/><ellipse cx="604.3" cy="297.5" rx="3.4" ry="3.1"/><ellipse cx="686.5" cy="194.1" rx="3.4" ry="3.1"/><ellipse cx="690.3" cy="215.2" rx="3.4" ry="3.1"/><ellipse cx="695.9" cy="219" rx="3.4" ry="3.1"/><ellipse cx="695" cy="222.7" rx="3.4" ry="3.1"/><ellipse cx="680.9" cy="225.5" rx="3.4" ry="3.1"/><ellipse cx="652.5" cy="232.1" rx="3.4" ry="3.1"/><ellipse cx="672.9" cy="234.3" rx="3.4" ry="3.1"/><ellipse cx="695.9" cy="231.1" rx="3.4" ry="3.1"/><ellipse cx="701.9" cy="234.3" rx="3.4" ry="3.1"/><ellipse cx="665.6" cy="241.4" rx="3.4" ry="3.1"/><ellipse cx="685.2" cy="247.9" rx="3.4" ry="3.1"/><ellipse cx="696.8" cy="251.7" rx="3.4" ry="3.1"/><ellipse cx="658.5" cy="258.2" rx="3.4" ry="3.1"/><ellipse cx="672.9" cy="258.2" rx="3.4" ry="3.1"/><ellipse cx="695" cy="258.2" rx="3.4" ry="3.1"/><ellipse cx="716.4" cy="258.2" rx="3.4" ry="3.1"/><ellipse cx="647.7" cy="268.1" rx="3.4" ry="3.1"/><ellipse cx="662.8" cy="265.7" rx="3.4" ry="3.1"/><ellipse cx="654.8" cy="272.2" rx="3.4" ry="3.1"/><ellipse cx="648.8" cy="277.5" rx="3.4" ry="3.1"/><ellipse cx="690.3" cy="272.2" rx="3.4" ry="3.1"/><ellipse cx="672.9" cy="281.6" rx="3.4" ry="3.1"/><ellipse cx="660" cy="288.1" rx="3.4" ry="3.1"/><ellipse cx="651" cy="293.7" rx="3.4" ry="3.1"/><ellipse cx="695" cy="293.7" rx="3.4" ry="3.1"/><ellipse cx="637.6" cy="300.8" rx="3.4" ry="3.1"/><ellipse cx="708" cy="300.8" rx="3.4" ry="3.1"/><ellipse cx="679.4" cy="307.4" rx="3.4" ry="3.1"/><ellipse cx="687.5" cy="305.5" rx="3.4" ry="3.1"/><ellipse cx="716.4" cy="305" rx="3.4" ry="3.1"/><ellipse cx="861.9" cy="207" rx="3.4" ry="3.1"/><ellipse cx="865.9" cy="215" rx="3.4" ry="3.1"/><ellipse cx="868.9" cy="219.5" rx="3.4" ry="3.1"/><ellipse cx="873.9" cy="226.3" rx="3.4" ry="3.1"/><ellipse cx="877.9" cy="233.9" rx="3.4" ry="3.1"/><ellipse cx="881.9" cy="239.5" rx="3.4" ry="3.1"/><ellipse cx="885.9" cy="245.9" rx="3.4" ry="3.1"/><ellipse cx="888.9" cy="250.9" rx="3.4" ry="3.1"/><ellipse cx="892.3" cy="257.9" rx="3.4" ry="3.1"/><ellipse cx="895.9" cy="262.9" rx="3.4" ry="3.1"/><ellipse cx="901.5" cy="272.3" rx="3.4" ry="3.1"/><ellipse cx="912.8" cy="290.8" rx="3.4" ry="3.1"/><ellipse cx="916.8" cy="297.4" rx="3.4" ry="3.1"/><ellipse cx="805" cy="187" rx="3.4" ry="3.1"/><ellipse cx="828.4" cy="197.6" rx="3.4" ry="3.1"/><ellipse cx="841.9" cy="205.6" rx="3.4" ry="3.1"/><ellipse cx="843.9" cy="209.6" rx="3.4" ry="3.1"/><ellipse cx="827" cy="222.3" rx="3.4" ry="3.1"/><ellipse cx="852.9" cy="220.9" rx="3.4" ry="3.1"/><ellipse cx="838.9" cy="233.9" rx="3.4" ry="3.1"/><ellipse cx="865.9" cy="237.9" rx="3.4" ry="3.1"/><ellipse cx="848.9" cy="243.9" rx="3.4" ry="3.1"/><ellipse cx="846.9" cy="250.9" rx="3.4" ry="3.1"/><ellipse cx="819.6" cy="252.9" rx="3.4" ry="3.1"/><ellipse cx="805" cy="257.9" rx="3.4" ry="3.1"/><ellipse cx="848.9" cy="257.9" rx="3.4" ry="3.1"/><ellipse cx="831" cy="272.3" rx="3.4" ry="3.1"/><ellipse cx="809.6" cy="281.9" rx="3.4" ry="3.1"/><ellipse cx="848.9" cy="281.9" rx="3.4" ry="3.1"/><ellipse cx="811" cy="288.8" rx="3.4" ry="3.1"/><ellipse cx="877.9" cy="297.4" rx="3.4" ry="3.1"/><ellipse cx="883.9" cy="300.8" rx="3.4" ry="3.1"/><ellipse cx="888.9" cy="303.4" rx="3.4" ry="3.1"/><ellipse cx="849" cy="186" rx="3.4" ry="3.1"/><ellipse cx="629" cy="258.3" rx="3.4" ry="3.1"/><ellipse cx="655.4" cy="215.1" rx="3.4" ry="3.1"/><ellipse cx="585" cy="329.2" rx="3.4" ry="3.1"/><ellipse cx="673" cy="329.2" rx="3.4" ry="3.1"/><ellipse cx="702.3" cy="329.2" rx="3.4" ry="3.1"/><ellipse cx="936.9" cy="329.2" rx="3.4" ry="3.1"/></g><g clip-path="url(#clip86)"><g filter="url(#blur87)"><rect x="1182.5" y="36.1" width="12" height="4.6" fill="url(#r88)"/><rect x="1182.5" y="40.1" width="12" height="4.6" fill="url(#r89)"/><rect x="1180" y="44.1" width="16.9" height="4.6" fill="url(#r90)"/><rect x="1177.6" y="48.1" width="21.8" height="4.6" fill="url(#r91)"/><rect x="1175.1" y="52.1" width="26.7" height="4.6" fill="url(#r92)"/><rect x="1172.7" y="56.1" width="31.6" height="4.6" fill="url(#r93)"/><rect x="1170.2" y="60.1" width="36.5" height="4.6" fill="url(#r94)"/><rect x="1167.8" y="64.1" width="41.4" height="4.6" fill="url(#r95)"/><rect x="1165.3" y="68.1" width="46.3" height="4.6" fill="url(#r96)"/><rect x="1162.9" y="72.1" width="51.2" height="4.6" fill="url(#r97)"/><rect x="1160.4" y="76.1" width="56.1" height="4.6" fill="url(#r98)"/><rect x="1158" y="80.1" width="61" height="4.6" fill="url(#r99)"/><rect x="1155.5" y="84.1" width="65.9" height="4.6" fill="url(#r100)"/><rect x="1153.1" y="88.1" width="70.8" height="4.6" fill="url(#r101)"/><rect x="1150.6" y="92.1" width="75.7" height="4.6" fill="url(#r102)"/><rect x="1148.2" y="96.1" width="80.6" height="4.6" fill="url(#r103)"/><rect x="1145.7" y="100.1" width="85.5" height="4.6" fill="url(#r104)"/><rect x="1143.3" y="104.1" width="90.4" height="4.6" fill="url(#r105)"/><rect x="1140.8" y="108.1" width="95.2" height="4.6" fill="url(#r106)"/><rect x="1138.4" y="112.1" width="100.1" height="4.6" fill="url(#r107)"/><rect x="1135.9" y="116.1" width="105" height="4.6" fill="url(#r108)"/><rect x="1133.4" y="120.1" width="109.9" height="4.6" fill="url(#r109)"/><rect x="1131" y="124.1" width="114.8" height="4.6" fill="url(#r110)"/><rect x="1128.5" y="128.1" width="119.7" height="4.6" fill="url(#r111)"/><rect x="1126.1" y="132.1" width="124.6" height="4.6" fill="url(#r112)"/><rect x="1123.6" y="136.1" width="129.5" height="4.6" fill="url(#r113)"/><rect x="1121.2" y="140.1" width="134.4" height="4.6" fill="url(#r114)"/><rect x="1118.7" y="144.1" width="139.3" height="4.6" fill="url(#r115)"/><rect x="1116.3" y="148.1" width="144.2" height="4.6" fill="url(#r116)"/><rect x="1113.8" y="152.1" width="149.1" height="4.6" fill="url(#r117)"/><rect x="1111.4" y="156.1" width="154" height="4.6" fill="url(#r118)"/><rect x="1108.9" y="160.1" width="158.9" height="4.6" fill="url(#r119)"/><rect x="1106.5" y="164.1" width="163.8" height="4.6" fill="url(#r120)"/><rect x="1104" y="168.1" width="168.7" height="4.6" fill="url(#r121)"/><rect x="1101.6" y="172.1" width="173.6" height="4.6" fill="url(#r122)"/><rect x="1099.1" y="176.1" width="178.5" height="4.6" fill="url(#r123)"/><rect x="1096.7" y="180.1" width="183.4" height="4.6" fill="url(#r124)"/><rect x="1094.2" y="184.1" width="188.3" height="4.6" fill="url(#r125)"/><rect x="1091.8" y="188.1" width="193.2" height="4.6" fill="url(#r126)"/><rect x="1089.3" y="192.1" width="198.1" height="4.6" fill="url(#r127)"/><rect x="1086.8" y="196.1" width="203" height="4.6" fill="url(#r128)"/><rect x="1084.4" y="200.1" width="207.9" height="4.6" fill="url(#r129)"/><rect x="1081.9" y="204.1" width="212.8" height="4.6" fill="url(#r130)"/><rect x="1079.5" y="208.1" width="217.7" height="4.6" fill="url(#r131)"/><rect x="1077" y="212.1" width="222.6" height="4.6" fill="url(#r132)"/><rect x="1074.6" y="216.1" width="227.5" height="4.6" fill="url(#r133)"/><rect x="1072.1" y="220.1" width="232.4" height="4.6" fill="url(#r134)"/><rect x="1069.7" y="224.1" width="237.3" height="4.6" fill="url(#r135)"/><rect x="1067.2" y="228.1" width="242.2" height="4.6" fill="url(#r136)"/><rect x="1064.8" y="232.1" width="247.1" height="4.6" fill="url(#r137)"/><rect x="1062.3" y="236.1" width="251.9" height="4.6" fill="url(#r138)"/><rect x="1059.9" y="240.1" width="256.8" height="4.6" fill="url(#r139)"/><rect x="1057.4" y="244.1" width="261.7" height="4.6" fill="url(#r140)"/><rect x="1055" y="248.1" width="266.6" height="4.6" fill="url(#r141)"/><rect x="1052.5" y="252.1" width="271.5" height="4.6" fill="url(#r142)"/><rect x="1050.1" y="256.1" width="276.4" height="4.6" fill="url(#r143)"/><rect x="1047.6" y="260.1" width="281.3" height="4.6" fill="url(#r144)"/><rect x="1045.2" y="264.1" width="286.2" height="4.6" fill="url(#r145)"/><rect x="1042.7" y="268.1" width="291.1" height="4.6" fill="url(#r146)"/><rect x="1040.2" y="272.1" width="296" height="4.6" fill="url(#r147)"/><rect x="1037.8" y="276.1" width="300.9" height="4.6" fill="url(#r148)"/><rect x="1035.3" y="280.1" width="305.8" height="4.6" fill="url(#r149)"/><rect x="1032.9" y="284.1" width="310.7" height="4.6" fill="url(#r150)"/><rect x="1030.4" y="288.1" width="315.6" height="4.6" fill="url(#r151)"/><rect x="1028" y="292.1" width="320.5" height="4.6" fill="url(#r152)"/><rect x="1025.5" y="296.1" width="325.4" height="4.6" fill="url(#r153)"/><rect x="1023.1" y="300.1" width="330.3" height="4.6" fill="url(#r154)"/><rect x="1020.6" y="304.1" width="335.2" height="4.6" fill="url(#r155)"/><rect x="1018.2" y="308.1" width="340.1" height="4.6" fill="url(#r156)"/><rect x="1015.7" y="312.1" width="345" height="4.6" fill="url(#r157)"/><rect x="1013.3" y="316.1" width="349.9" height="4.6" fill="url(#r158)"/><rect x="1010.8" y="320.1" width="354.8" height="4.6" fill="url(#r159)"/><rect x="1008.4" y="324.1" width="359.7" height="4.6" fill="url(#r160)"/><rect x="1006.4" y="328.1" width="363.6" height="4.6" fill="url(#r161)"/><rect x="1006.4" y="332.1" width="363.6" height="4.6" fill="url(#r162)"/></g></g><g stroke="#000" stroke-width="1.3"><line x1="1082.8" y1="214.4" x2="1276.2" y2="185.7"/><line x1="1056.4" y1="257.5" x2="1276.2" y2="185.7"/><line x1="1056.4" y1="257.5" x2="1100.3" y2="329.3"/><line x1="1100.3" y1="329.3" x2="1276.2" y2="185.7"/><line x1="1129.6" y1="329.3" x2="1276.2" y2="185.7"/><line x1="1129.6" y1="329.3" x2="1280.1" y2="191.9"/><line x1="1082.8" y1="214.4" x2="1206.1" y2="70.8"/></g><polygon points="1012.4,329.3 1364,329.3 1188.5,42.1" fill="none" stroke="#000" stroke-width="1.6" stroke-linejoin="round"/><rect x="1007.6" y="325.3" width="9.6" height="8" fill="#12843e" stroke="#0a3d1c" stroke-width="0.8"/><rect x="1359.2" y="325.3" width="9.6" height="8" fill="#12843e" stroke="#0a3d1c" stroke-width="0.8"/><rect x="1183.7" y="38.1" width="9.6" height="8" fill="#12843e" stroke="#0a3d1c" stroke-width="0.8"/><rect x="1271.5" y="181.7" width="9.6" height="8" fill="#12843e" stroke="#0a3d1c" stroke-width="0.8"/><rect x="1275.3" y="187.9" width="9.6" height="8" fill="#12843e" stroke="#0a3d1c" stroke-width="0.8"/><rect x="1124.8" y="325.3" width="9.6" height="8" fill="#12843e" stroke="#0a3d1c" stroke-width="0.8"/><rect x="1095.5" y="325.3" width="9.6" height="8" fill="#12843e" stroke="#0a3d1c" stroke-width="0.8"/><rect x="1051.6" y="253.5" width="9.6" height="8" fill="#12843e" stroke="#0a3d1c" stroke-width="0.8"/><rect x="1078" y="210.4" width="9.6" height="8" fill="#12843e" stroke="#0a3d1c" stroke-width="0.8"/><rect x="1201.3" y="66.8" width="9.6" height="8" fill="#12843e" stroke="#0a3d1c" stroke-width="0.8"/><g fill="#de2a36" fill-opacity="0.85"><ellipse cx="1152.7" cy="99.7" rx="3.4" ry="3.1"/><ellipse cx="1223.3" cy="99.7" rx="3.4" ry="3.1"/><ellipse cx="1188.2" cy="156.8" rx="3.4" ry="3.1"/><ellipse cx="1099.6" cy="185.8" rx="3.4" ry="3.1"/><ellipse cx="1086.1" cy="208.2" rx="3.4" ry="3.1"/><ellipse cx="1079.7" cy="231.9" rx="3.4" ry="3.1"/><ellipse cx="1129.3" cy="233.7" rx="3.4" ry="3.1"/><ellipse cx="1062.3" cy="247.2" rx="3.4" ry="3.1"/><ellipse cx="1099.6" cy="257.4" rx="3.4" ry="3.1"/><ellipse cx="1047.1" cy="272.7" rx="3.4" ry="3.1"/><ellipse cx="1041.8" cy="281.6" rx="3.4" ry="3.1"/><ellipse cx="1188.2" cy="272" rx="3.4" ry="3.1"/><ellipse cx="1135" cy="301" rx="3.4" ry="3.1"/><ellipse cx="1237.8" cy="287.9" rx="3.4" ry="3.1"/><ellipse cx="1269.7" cy="205.3" rx="3.4" ry="3.1"/><ellipse cx="1272.2" cy="208.9" rx="3.4" ry="3.1"/><ellipse cx="1284.6" cy="200" rx="3.4" ry="3.1"/><ellipse cx="1288.8" cy="206" rx="3.4" ry="3.1"/><ellipse cx="1293.5" cy="214.2" rx="3.4" ry="3.1"/><ellipse cx="1295.9" cy="218.8" rx="3.4" ry="3.1"/><ellipse cx="1305.2" cy="233.7" rx="3.4" ry="3.1"/><ellipse cx="1293.5" cy="237.2" rx="3.4" ry="3.1"/><ellipse cx="1320" cy="257.8" rx="3.4" ry="3.1"/><ellipse cx="1328.9" cy="272" rx="3.4" ry="3.1"/><ellipse cx="1340.6" cy="291.1" rx="3.4" ry="3.1"/><ellipse cx="1344.2" cy="297.5" rx="3.4" ry="3.1"/><ellipse cx="1062" cy="329.2" rx="3.4" ry="3.1"/><ellipse cx="1082.5" cy="329.2" rx="3.4" ry="3.1"/><ellipse cx="1101" cy="329.2" rx="3.4" ry="3.1"/><ellipse cx="1108.1" cy="329.2" rx="3.4" ry="3.1"/><ellipse cx="1112.7" cy="329.2" rx="3.4" ry="3.1"/><ellipse cx="1129.3" cy="329.2" rx="3.4" ry="3.1"/><ellipse cx="1140" cy="329.2" rx="3.4" ry="3.1"/><ellipse cx="1152.7" cy="329.2" rx="3.4" ry="3.1"/><ellipse cx="1160.5" cy="329.2" rx="3.4" ry="3.1"/><ellipse cx="1168.3" cy="329.2" rx="3.4" ry="3.1"/><ellipse cx="1188.2" cy="329.2" rx="3.4" ry="3.1"/><ellipse cx="1213" cy="329.2" rx="3.4" ry="3.1"/><ellipse cx="1223.3" cy="329.2" rx="3.4" ry="3.1"/><ellipse cx="1246.7" cy="329.2" rx="3.4" ry="3.1"/><ellipse cx="1275.7" cy="329.2" rx="3.4" ry="3.1"/><ellipse cx="1293.5" cy="329.2" rx="3.4" ry="3.1"/><ellipse cx="1310.1" cy="329.2" rx="3.4" ry="3.1"/><ellipse cx="1364" cy="329.2" rx="3.4" ry="3.1"/><ellipse cx="1188.5" cy="42.1" rx="3.4" ry="3.1"/><ellipse cx="1275.5" cy="186" rx="3.4" ry="3.1"/><ellipse cx="1056" cy="257.1" rx="3.4" ry="3.1"/><ellipse cx="1082.6" cy="214.4" rx="3.4" ry="3.1"/><ellipse cx="1044" cy="276" rx="3.4" ry="3.1"/><ellipse cx="1188.5" cy="42.1" rx="3.4" ry="3.1"/><ellipse cx="1364" cy="329.3" rx="3.4" ry="3.1"/><ellipse cx="1100.3" cy="329.3" rx="3.4" ry="3.1"/><ellipse cx="1129.6" cy="329.3" rx="3.4" ry="3.1"/><ellipse cx="1056.4" cy="257.5" rx="3.4" ry="3.1"/><ellipse cx="1082.8" cy="214.4" rx="3.4" ry="3.1"/><ellipse cx="1276.2" cy="185.7" rx="3.4" ry="3.1"/></g><g clip-path="url(#clip163)"><g filter="url(#blur164)"><rect x="973.3" y="388.2" width="12" height="4.6" fill="url(#r165)"/><rect x="973.3" y="392.2" width="12" height="4.6" fill="url(#r166)"/><rect x="970.8" y="396.2" width="16.9" height="4.6" fill="url(#r167)"/><rect x="968.4" y="400.2" width="21.9" height="4.6" fill="url(#r168)"/><rect x="965.9" y="404.2" width="26.8" height="4.6" fill="url(#r169)"/><rect x="963.4" y="408.2" width="31.8" height="4.6" fill="url(#r170)"/><rect x="960.9" y="412.2" width="36.7" height="4.6" fill="url(#r171)"/><rect x="958.5" y="416.2" width="41.7" height="4.6" fill="url(#r172)"/><rect x="956" y="420.2" width="46.6" height="4.6" fill="url(#r173)"/><rect x="953.5" y="424.2" width="51.6" height="4.6" fill="url(#r174)"/><rect x="951" y="428.2" width="56.5" height="4.6" fill="url(#r175)"/><rect x="948.6" y="432.2" width="61.5" height="4.6" fill="url(#r176)"/><rect x="946.1" y="436.2" width="66.4" height="4.6" fill="url(#r177)"/><rect x="943.6" y="440.2" width="71.4" height="4.6" fill="url(#r178)"/><rect x="941.1" y="444.2" width="76.3" height="4.6" fill="url(#r179)"/><rect x="938.7" y="448.2" width="81.2" height="4.6" fill="url(#r180)"/><rect x="936.2" y="452.2" width="86.2" height="4.6" fill="url(#r181)"/><rect x="933.7" y="456.2" width="91.1" height="4.6" fill="url(#r182)"/><rect x="931.2" y="460.2" width="96.1" height="4.6" fill="url(#r183)"/><rect x="928.8" y="464.2" width="101" height="4.6" fill="url(#r184)"/><rect x="926.3" y="468.2" width="106" height="4.6" fill="url(#r185)"/><rect x="923.8" y="472.2" width="110.9" height="4.6" fill="url(#r186)"/><rect x="921.4" y="476.2" width="115.9" height="4.6" fill="url(#r187)"/><rect x="918.9" y="480.2" width="120.8" height="4.6" fill="url(#r188)"/><rect x="916.4" y="484.2" width="125.8" height="4.6" fill="url(#r189)"/><rect x="913.9" y="488.2" width="130.7" height="4.6" fill="url(#r190)"/><rect x="911.5" y="492.2" width="135.7" height="4.6" fill="url(#r191)"/><rect x="909" y="496.2" width="140.6" height="4.6" fill="url(#r192)"/><rect x="906.5" y="500.2" width="145.5" height="4.6" fill="url(#r193)"/><rect x="904" y="504.2" width="150.5" height="4.6" fill="url(#r194)"/><rect x="901.6" y="508.2" width="155.4" height="4.6" fill="url(#r195)"/><rect x="899.1" y="512.2" width="160.4" height="4.6" fill="url(#r196)"/><rect x="896.6" y="516.2" width="165.3" height="4.6" fill="url(#r197)"/><rect x="894.1" y="520.2" width="170.3" height="4.6" fill="url(#r198)"/><rect x="891.7" y="524.2" width="175.2" height="4.6" fill="url(#r199)"/><rect x="889.2" y="528.2" width="180.2" height="4.6" fill="url(#r200)"/><rect x="886.7" y="532.2" width="185.1" height="4.6" fill="url(#r201)"/><rect x="884.2" y="536.2" width="190.1" height="4.6" fill="url(#r202)"/><rect x="881.8" y="540.2" width="195" height="4.6" fill="url(#r203)"/><rect x="879.3" y="544.2" width="199.9" height="4.6" fill="url(#r204)"/><rect x="876.8" y="548.2" width="204.9" height="4.6" fill="url(#r205)"/><rect x="874.4" y="552.2" width="209.8" height="4.6" fill="url(#r206)"/><rect x="871.9" y="556.2" width="214.8" height="4.6" fill="url(#r207)"/><rect x="869.4" y="560.2" width="219.7" height="4.6" fill="url(#r208)"/><rect x="866.9" y="564.2" width="224.7" height="4.6" fill="url(#r209)"/><rect x="864.5" y="568.2" width="229.6" height="4.6" fill="url(#r210)"/><rect x="862" y="572.2" width="234.6" height="4.6" fill="url(#r211)"/><rect x="859.5" y="576.2" width="239.5" height="4.6" fill="url(#r212)"/><rect x="857" y="580.2" width="244.5" height="4.6" fill="url(#r213)"/><rect x="854.6" y="584.2" width="249.4" height="4.6" fill="url(#r214)"/><rect x="852.1" y="588.2" width="254.4" height="4.6" fill="url(#r215)"/><rect x="849.6" y="592.2" width="259.3" height="4.6" fill="url(#r216)"/><rect x="847.1" y="596.2" width="264.2" height="4.6" fill="url(#r217)"/><rect x="844.7" y="600.2" width="269.2" height="4.6" fill="url(#r218)"/><rect x="842.2" y="604.2" width="274.1" height="4.6" fill="url(#r219)"/><rect x="839.7" y="608.2" width="279.1" height="4.6" fill="url(#r220)"/><rect x="837.2" y="612.2" width="284" height="4.6" fill="url(#r221)"/><rect x="834.8" y="616.2" width="289" height="4.6" fill="url(#r222)"/><rect x="832.3" y="620.2" width="293.9" height="4.6" fill="url(#r223)"/><rect x="829.8" y="624.2" width="298.9" height="4.6" fill="url(#r224)"/><rect x="827.4" y="628.2" width="303.8" height="4.6" fill="url(#r225)"/><rect x="824.9" y="632.2" width="308.8" height="4.6" fill="url(#r226)"/><rect x="822.4" y="636.2" width="313.7" height="4.6" fill="url(#r227)"/><rect x="819.9" y="640.2" width="318.7" height="4.6" fill="url(#r228)"/><rect x="817.5" y="644.2" width="323.6" height="4.6" fill="url(#r229)"/><rect x="815" y="648.2" width="328.5" height="4.6" fill="url(#r230)"/><rect x="812.5" y="652.2" width="333.5" height="4.6" fill="url(#r231)"/><rect x="810" y="656.2" width="338.4" height="4.6" fill="url(#r232)"/><rect x="807.6" y="660.2" width="343.4" height="4.6" fill="url(#r233)"/><rect x="805.1" y="664.2" width="348.3" height="4.6" fill="url(#r234)"/><rect x="802.6" y="668.2" width="353.3" height="4.6" fill="url(#r235)"/><rect x="800.1" y="672.2" width="358.2" height="4.6" fill="url(#r236)"/><rect x="797.7" y="676.2" width="363.2" height="4.6" fill="url(#r237)"/><rect x="796.8" y="680.2" width="364.9" height="4.6" fill="url(#r238)"/><rect x="796.8" y="684.2" width="364.9" height="4.6" fill="url(#r239)"/></g></g><g stroke="#000" stroke-width="1.3"><line x1="891" y1="536.9" x2="996.9" y2="422.7"/><line x1="891" y1="536.9" x2="1067.5" y2="536.9"/><line x1="846.9" y1="608.2" x2="1067.5" y2="536.9"/><line x1="846.9" y1="608.2" x2="891" y2="679.6"/><line x1="891" y1="679.6" x2="1067.5" y2="536.9"/><line x1="916.6" y1="679.6" x2="1067.5" y2="536.9"/><line x1="916.6" y1="679.6" x2="1071.3" y2="543.1"/><line x1="920.4" y1="679.6" x2="1071.3" y2="543.1"/></g><polygon points="802.8,679.6 1155.7,679.6 979.3,394.2" fill="none" stroke="#000" stroke-width="1.6" stroke-linejoin="round"/><rect x="798" y="675.6" width="9.6" height="8" fill="#12843e" stroke="#0a3d1c" stroke-width="0.8"/><rect x="1150.9" y="675.6" width="9.6" height="8" fill="#12843e" stroke="#0a3d1c" stroke-width="0.8"/><rect x="974.5" y="390.2" width="9.6" height="8" fill="#12843e" stroke="#0a3d1c" stroke-width="0.8"/><rect x="1062.7" y="532.9" width="9.6" height="8" fill="#12843e" stroke="#0a3d1c" stroke-width="0.8"/><rect x="1066.5" y="539.1" width="9.6" height="8" fill="#12843e" stroke="#0a3d1c" stroke-width="0.8"/><rect x="915.6" y="675.6" width="9.6" height="8" fill="#12843e" stroke="#0a3d1c" stroke-width="0.8"/><rect x="886.2" y="675.6" width="9.6" height="8" fill="#12843e" stroke="#0a3d1c" stroke-width="0.8"/><rect x="842.1" y="604.2" width="9.6" height="8" fill="#12843e" stroke="#0a3d1c" stroke-width="0.8"/><rect x="886.2" y="532.9" width="9.6" height="8" fill="#12843e" stroke="#0a3d1c" stroke-width="0.8"/><rect x="992.1" y="418.7" width="9.6" height="8" fill="#12843e" stroke="#0a3d1c" stroke-width="0.8"/><rect x="911.8" y="675.6" width="9.6" height="8" fill="#12843e" stroke="#0a3d1c" stroke-width="0.8"/><g fill="#de2a36" fill-opacity="0.85"><ellipse cx="943.9" cy="450.7" rx="3.4" ry="3.1"/><ellipse cx="1013.5" cy="450.7" rx="3.4" ry="3.1"/><ellipse cx="979" cy="508" rx="3.4" ry="3.1"/><ellipse cx="877.3" cy="559.4" rx="3.4" ry="3.1"/><ellipse cx="873.5" cy="566" rx="3.4" ry="3.1"/><ellipse cx="869.6" cy="582.2" rx="3.4" ry="3.1"/><ellipse cx="919.9" cy="584.1" rx="3.4" ry="3.1"/><ellipse cx="853.4" cy="598" rx="3.4" ry="3.1"/><ellipse cx="890.9" cy="608.5" rx="3.4" ry="3.1"/><ellipse cx="838.7" cy="622" rx="3.4" ry="3.1"/><ellipse cx="832.9" cy="631.7" rx="3.4" ry="3.1"/><ellipse cx="827.1" cy="641.4" rx="3.4" ry="3.1"/><ellipse cx="978.7" cy="622.8" rx="3.4" ry="3.1"/><ellipse cx="925.7" cy="651" rx="3.4" ry="3.1"/><ellipse cx="1028.9" cy="638.6" rx="3.4" ry="3.1"/><ellipse cx="1059.9" cy="554.3" rx="3.4" ry="3.1"/><ellipse cx="1063" cy="559.4" rx="3.4" ry="3.1"/><ellipse cx="1078.4" cy="557.1" rx="3.4" ry="3.1"/><ellipse cx="1084.2" cy="566" rx="3.4" ry="3.1"/><ellipse cx="1086.9" cy="569.8" rx="3.4" ry="3.1"/><ellipse cx="1095.8" cy="584.1" rx="3.4" ry="3.1"/><ellipse cx="1084.2" cy="588.4" rx="3.4" ry="3.1"/><ellipse cx="1111.3" cy="608.5" rx="3.4" ry="3.1"/><ellipse cx="1120.2" cy="622.8" rx="3.4" ry="3.1"/><ellipse cx="1131.8" cy="642.1" rx="3.4" ry="3.1"/><ellipse cx="1135.7" cy="648.3" rx="3.4" ry="3.1"/><ellipse cx="853.4" cy="679.6" rx="3.4" ry="3.1"/><ellipse cx="873.5" cy="679.6" rx="3.4" ry="3.1"/><ellipse cx="891.6" cy="679.6" rx="3.4" ry="3.1"/><ellipse cx="899.8" cy="679.6" rx="3.4" ry="3.1"/><ellipse cx="904.4" cy="679.6" rx="3.4" ry="3.1"/><ellipse cx="920.6" cy="679.6" rx="3.4" ry="3.1"/><ellipse cx="931.5" cy="679.6" rx="3.4" ry="3.1"/><ellipse cx="943.9" cy="679.6" rx="3.4" ry="3.1"/><ellipse cx="951.6" cy="679.6" rx="3.4" ry="3.1"/><ellipse cx="958.5" cy="679.6" rx="3.4" ry="3.1"/><ellipse cx="979" cy="679.6" rx="3.4" ry="3.1"/><ellipse cx="1003.8" cy="679.6" rx="3.4" ry="3.1"/><ellipse cx="1013.5" cy="679.6" rx="3.4" ry="3.1"/><ellipse cx="1037.8" cy="679.6" rx="3.4" ry="3.1"/><ellipse cx="1066.8" cy="679.6" rx="3.4" ry="3.1"/><ellipse cx="1084.2" cy="679.6" rx="3.4" ry="3.1"/><ellipse cx="1105.5" cy="679.6" rx="3.4" ry="3.1"/><ellipse cx="891.4" cy="536.8" rx="3.4" ry="3.1"/><ellipse cx="847.1" cy="608.2" rx="3.4" ry="3.1"/><ellipse cx="1073" cy="536.5" rx="3.4" ry="3.1"/><ellipse cx="891" cy="679.6" rx="3.4" ry="3.1"/><ellipse cx="846.9" cy="608.2" rx="3.4" ry="3.1"/><ellipse cx="891" cy="536.9" rx="3.4" ry="3.1"/><ellipse cx="1155.7" cy="679.6" rx="3.4" ry="3.1"/><ellipse cx="1067.5" cy="536.9" rx="3.4" ry="3.1"/><ellipse cx="920.4" cy="679.6" rx="3.4" ry="3.1"/></g><line x1="879.3" y1="61.4" x2="886.3" y2="61.4" stroke="#000" stroke-width="1.1"/><line x1="631.2" y1="720.7" x2="637.2" y2="720.7" stroke="#000" stroke-width="0.9"/><line x1="902.6" y1="707.8" x2="913.4" y2="690.6" stroke="#000" stroke-width="1.8" marker-end="url(#ah)"/><line x1="950.9" y1="707.1" x2="933.4" y2="690.9" stroke="#000" stroke-width="1.8" marker-end="url(#ah)"/><g stroke="#6d6d6d" stroke-width="1.8"><line x1="892" y1="158.5" x2="920" y2="131.5"/><line x1="1286.6" y1="63.8" x2="1332.3" y2="63.8"/><line x1="847.1" y1="520.1" x2="813.5" y2="504"/></g><g stroke="#222" stroke-width="1.1"><line x1="1168" y1="540.3" x2="1206.4" y2="514"/><line x1="826.5" y1="722.4" x2="758.1" y2="723.5"/></g><line x1="941.8" y1="37.1" x2="930.6" y2="65.1" stroke="#555" stroke-width="0.5"/><line x1="941.8" y1="37.1" x2="967.7" y2="59.9" stroke="#555" stroke-width="0.5"/><line x1="941.8" y1="37.1" x2="945.1" y2="72.3" stroke="#555" stroke-width="0.5"/><line x1="930.6" y1="65.1" x2="967.7" y2="59.9" stroke="#555" stroke-width="0.5"/><line x1="930.6" y1="65.1" x2="945.1" y2="72.3" stroke="#555" stroke-width="0.5"/><line x1="930.6" y1="65.1" x2="956.7" y2="88.3" stroke="#555" stroke-width="0.5"/><line x1="930.6" y1="65.1" x2="934.1" y2="99.9" stroke="#555" stroke-width="0.5"/><line x1="967.7" y1="59.9" x2="945.1" y2="72.3" stroke="#555" stroke-width="0.5"/><line x1="967.7" y1="59.9" x2="956.7" y2="88.3" stroke="#555" stroke-width="0.5"/><line x1="967.7" y1="59.9" x2="970.2" y2="95.1" stroke="#555" stroke-width="0.5"/><line x1="945.1" y1="72.3" x2="956.7" y2="88.3" stroke="#555" stroke-width="0.5"/><line x1="945.1" y1="72.3" x2="934.1" y2="99.9" stroke="#555" stroke-width="0.5"/><line x1="945.1" y1="72.3" x2="970.2" y2="95.1" stroke="#555" stroke-width="0.5"/><line x1="956.7" y1="88.3" x2="934.1" y2="99.9" stroke="#555" stroke-width="0.5"/><line x1="956.7" y1="88.3" x2="970.2" y2="95.1" stroke="#555" stroke-width="0.5"/><line x1="956.7" y1="88.3" x2="958.6" y2="123.2" stroke="#555" stroke-width="0.5"/><line x1="934.1" y1="99.9" x2="970.2" y2="95.1" stroke="#555" stroke-width="0.5"/><line x1="934.1" y1="99.9" x2="958.6" y2="123.2" stroke="#555" stroke-width="0.5"/><line x1="970.2" y1="95.1" x2="958.6" y2="123.2" stroke="#555" stroke-width="0.5"/><line x1="941.8" y1="37.1" x2="932.1" y2="29.6" stroke="#35d39c" stroke-width="2.6"/><line x1="932.1" y1="29.6" x2="922.5" y2="22" stroke="#b2b5dc" stroke-width="2.6"/><line x1="941.8" y1="37.1" x2="950.5" y2="27" stroke="#35d39c" stroke-width="2.6"/><line x1="950.5" y1="27" x2="959.2" y2="16.8" stroke="#b2b5dc" stroke-width="2.6"/><line x1="941.8" y1="37.1" x2="939.1" y2="33" stroke="#35d39c" stroke-width="2.6"/><line x1="939.1" y1="33" x2="936.4" y2="29" stroke="#b2b5dc" stroke-width="2.6"/><line x1="941.8" y1="37.1" x2="933.5" y2="47" stroke="#35d39c" stroke-width="2.6"/><line x1="933.5" y1="47" x2="925.2" y2="57" stroke="#b2b5dc" stroke-width="2.6"/><line x1="941.8" y1="37.1" x2="951.8" y2="44.7" stroke="#35d39c" stroke-width="2.6"/><line x1="951.8" y1="44.7" x2="961.9" y2="52.2" stroke="#b2b5dc" stroke-width="2.6"/><line x1="930.6" y1="65.1" x2="920.9" y2="57.6" stroke="#35d39c" stroke-width="2.6"/><line x1="920.9" y1="57.6" x2="911.2" y2="50.2" stroke="#b2b5dc" stroke-width="2.6"/><line x1="930.6" y1="65.1" x2="927.9" y2="61" stroke="#35d39c" stroke-width="2.6"/><line x1="927.9" y1="61" x2="925.2" y2="57" stroke="#b2b5dc" stroke-width="2.6"/><line x1="930.6" y1="65.1" x2="922.1" y2="75" stroke="#35d39c" stroke-width="2.6"/><line x1="922.1" y1="75" x2="913.6" y2="85" stroke="#b2b5dc" stroke-width="2.6"/><line x1="930.6" y1="65.1" x2="933" y2="69.4" stroke="#35d39c" stroke-width="2.6"/><line x1="933" y1="69.4" x2="935.4" y2="73.8" stroke="#b2b5dc" stroke-width="2.6"/><line x1="930.6" y1="65.1" x2="940.3" y2="72.5" stroke="#35d39c" stroke-width="2.6"/><line x1="940.3" y1="72.5" x2="950" y2="80" stroke="#b2b5dc" stroke-width="2.6"/><line x1="967.7" y1="59.9" x2="964.8" y2="56" stroke="#35d39c" stroke-width="2.6"/><line x1="964.8" y1="56" x2="961.9" y2="52.2" stroke="#b2b5dc" stroke-width="2.6"/><line x1="967.7" y1="59.9" x2="976" y2="49.8" stroke="#35d39c" stroke-width="2.6"/><line x1="976" y1="49.8" x2="984.4" y2="39.6" stroke="#b2b5dc" stroke-width="2.6"/><line x1="967.7" y1="59.9" x2="970.4" y2="64" stroke="#35d39c" stroke-width="2.6"/><line x1="970.4" y1="64" x2="973.1" y2="68" stroke="#b2b5dc" stroke-width="2.6"/><line x1="967.7" y1="59.9" x2="977.4" y2="67.3" stroke="#35d39c" stroke-width="2.6"/><line x1="977.4" y1="67.3" x2="987.1" y2="74.8" stroke="#b2b5dc" stroke-width="2.6"/><line x1="967.7" y1="59.9" x2="958.9" y2="70" stroke="#35d39c" stroke-width="2.6"/><line x1="958.9" y1="70" x2="950" y2="80" stroke="#b2b5dc" stroke-width="2.6"/><line x1="945.1" y1="72.3" x2="935.2" y2="64.7" stroke="#35d39c" stroke-width="2.6"/><line x1="935.2" y1="64.7" x2="925.2" y2="57" stroke="#b2b5dc" stroke-width="2.6"/><line x1="945.1" y1="72.3" x2="953.5" y2="62.2" stroke="#35d39c" stroke-width="2.6"/><line x1="953.5" y1="62.2" x2="961.9" y2="52.2" stroke="#b2b5dc" stroke-width="2.6"/><line x1="945.1" y1="72.3" x2="942.2" y2="68.4" stroke="#35d39c" stroke-width="2.6"/><line x1="942.2" y1="68.4" x2="939.3" y2="64.5" stroke="#b2b5dc" stroke-width="2.6"/><line x1="945.1" y1="72.3" x2="936.4" y2="82.5" stroke="#35d39c" stroke-width="2.6"/><line x1="936.4" y1="82.5" x2="927.7" y2="92.8" stroke="#b2b5dc" stroke-width="2.6"/><line x1="945.1" y1="72.3" x2="954.5" y2="80" stroke="#35d39c" stroke-width="2.6"/><line x1="954.5" y1="80" x2="964" y2="87.8" stroke="#b2b5dc" stroke-width="2.6"/><line x1="945.1" y1="72.3" x2="947.5" y2="76.2" stroke="#35d39c" stroke-width="2.6"/><line x1="947.5" y1="76.2" x2="950" y2="80" stroke="#b2b5dc" stroke-width="2.6"/><line x1="956.7" y1="88.3" x2="946" y2="81" stroke="#35d39c" stroke-width="2.6"/><line x1="946" y1="81" x2="935.4" y2="73.8" stroke="#b2b5dc" stroke-width="2.6"/><line x1="956.7" y1="88.3" x2="964.9" y2="78.2" stroke="#35d39c" stroke-width="2.6"/><line x1="964.9" y1="78.2" x2="973.1" y2="68" stroke="#b2b5dc" stroke-width="2.6"/><line x1="956.7" y1="88.3" x2="959.1" y2="92.2" stroke="#35d39c" stroke-width="2.6"/><line x1="959.1" y1="92.2" x2="961.5" y2="96.1" stroke="#b2b5dc" stroke-width="2.6"/><line x1="956.7" y1="88.3" x2="948" y2="98.4" stroke="#35d39c" stroke-width="2.6"/><line x1="948" y1="98.4" x2="939.3" y2="108.6" stroke="#b2b5dc" stroke-width="2.6"/><line x1="956.7" y1="88.3" x2="966.4" y2="96.2" stroke="#35d39c" stroke-width="2.6"/><line x1="966.4" y1="96.2" x2="976" y2="104.2" stroke="#b2b5dc" stroke-width="2.6"/><line x1="956.7" y1="88.3" x2="953.4" y2="84.2" stroke="#35d39c" stroke-width="2.6"/><line x1="953.4" y1="84.2" x2="950" y2="80" stroke="#b2b5dc" stroke-width="2.6"/><line x1="934.1" y1="99.9" x2="923.9" y2="92.5" stroke="#35d39c" stroke-width="2.6"/><line x1="923.9" y1="92.5" x2="913.6" y2="85" stroke="#b2b5dc" stroke-width="2.6"/><line x1="934.1" y1="99.9" x2="930.9" y2="96.3" stroke="#35d39c" stroke-width="2.6"/><line x1="930.9" y1="96.3" x2="927.7" y2="92.8" stroke="#b2b5dc" stroke-width="2.6"/><line x1="934.1" y1="99.9" x2="925.4" y2="110.2" stroke="#35d39c" stroke-width="2.6"/><line x1="925.4" y1="110.2" x2="916.7" y2="120.6" stroke="#b2b5dc" stroke-width="2.6"/><line x1="934.1" y1="99.9" x2="936.7" y2="104.2" stroke="#35d39c" stroke-width="2.6"/><line x1="936.7" y1="104.2" x2="939.3" y2="108.6" stroke="#b2b5dc" stroke-width="2.6"/><line x1="934.1" y1="99.9" x2="943.8" y2="107.7" stroke="#35d39c" stroke-width="2.6"/><line x1="943.8" y1="107.7" x2="953.4" y2="115.4" stroke="#b2b5dc" stroke-width="2.6"/><line x1="934.1" y1="99.9" x2="942" y2="90" stroke="#35d39c" stroke-width="2.6"/><line x1="942" y1="90" x2="950" y2="80" stroke="#b2b5dc" stroke-width="2.6"/><line x1="970.2" y1="95.1" x2="978.7" y2="84.9" stroke="#35d39c" stroke-width="2.6"/><line x1="978.7" y1="84.9" x2="987.1" y2="74.8" stroke="#b2b5dc" stroke-width="2.6"/><line x1="970.2" y1="95.1" x2="967.1" y2="91.4" stroke="#35d39c" stroke-width="2.6"/><line x1="967.1" y1="91.4" x2="964" y2="87.8" stroke="#b2b5dc" stroke-width="2.6"/><line x1="970.2" y1="95.1" x2="973.1" y2="99.7" stroke="#35d39c" stroke-width="2.6"/><line x1="973.1" y1="99.7" x2="976" y2="104.2" stroke="#b2b5dc" stroke-width="2.6"/><line x1="970.2" y1="95.1" x2="979.9" y2="102.8" stroke="#35d39c" stroke-width="2.6"/><line x1="979.9" y1="102.8" x2="989.6" y2="110.6" stroke="#b2b5dc" stroke-width="2.6"/><line x1="970.2" y1="95.1" x2="961.8" y2="105.2" stroke="#35d39c" stroke-width="2.6"/><line x1="961.8" y1="105.2" x2="953.4" y2="115.4" stroke="#b2b5dc" stroke-width="2.6"/><line x1="970.2" y1="95.1" x2="960.1" y2="87.5" stroke="#35d39c" stroke-width="2.6"/><line x1="960.1" y1="87.5" x2="950" y2="80" stroke="#b2b5dc" stroke-width="2.6"/><line x1="958.6" y1="123.2" x2="949" y2="115.9" stroke="#35d39c" stroke-width="2.6"/><line x1="949" y1="115.9" x2="939.3" y2="108.6" stroke="#b2b5dc" stroke-width="2.6"/><line x1="958.6" y1="123.2" x2="967.3" y2="113.7" stroke="#35d39c" stroke-width="2.6"/><line x1="967.3" y1="113.7" x2="976" y2="104.2" stroke="#b2b5dc" stroke-width="2.6"/><line x1="958.6" y1="123.2" x2="956" y2="119.3" stroke="#35d39c" stroke-width="2.6"/><line x1="956" y1="119.3" x2="953.4" y2="115.4" stroke="#b2b5dc" stroke-width="2.6"/><line x1="958.6" y1="123.2" x2="950.2" y2="133.3" stroke="#35d39c" stroke-width="2.6"/><line x1="950.2" y1="133.3" x2="941.8" y2="143.5" stroke="#b2b5dc" stroke-width="2.6"/><line x1="958.6" y1="123.2" x2="961.5" y2="127.6" stroke="#35d39c" stroke-width="2.6"/><line x1="961.5" y1="127.6" x2="964.4" y2="131.9" stroke="#b2b5dc" stroke-width="2.6"/><line x1="958.6" y1="123.2" x2="968.5" y2="130.9" stroke="#35d39c" stroke-width="2.6"/><line x1="968.5" y1="130.9" x2="978.5" y2="138.6" stroke="#b2b5dc" stroke-width="2.6"/><circle cx="922.5" cy="22" r="2.9" fill="url(#sN)"/><circle cx="959.2" cy="16.8" r="2.9" fill="url(#sN)"/><circle cx="936.4" cy="29" r="2.9" fill="url(#sN)"/><circle cx="911.2" cy="50.2" r="2.9" fill="url(#sN)"/><circle cx="925.2" cy="57" r="2.9" fill="url(#sN)"/><circle cx="961.9" cy="52.2" r="2.9" fill="url(#sN)"/><circle cx="984.4" cy="39.6" r="2.9" fill="url(#sN)"/><circle cx="939.3" cy="64.5" r="2.9" fill="url(#sN)"/><circle cx="913.6" cy="85" r="2.9" fill="url(#sN)"/><circle cx="935.4" cy="73.8" r="2.9" fill="url(#sN)"/><circle cx="973.1" cy="68" r="2.9" fill="url(#sN)"/><circle cx="987.1" cy="74.8" r="2.9" fill="url(#sN)"/><circle cx="927.7" cy="92.8" r="2.9" fill="url(#sN)"/><circle cx="964" cy="87.8" r="2.9" fill="url(#sN)"/><circle cx="961.5" cy="96.1" r="2.9" fill="url(#sN)"/><circle cx="916.7" cy="120.6" r="2.9" fill="url(#sN)"/><circle cx="939.3" cy="108.6" r="2.9" fill="url(#sN)"/><circle cx="976" cy="104.2" r="2.9" fill="url(#sN)"/><circle cx="989.6" cy="110.6" r="2.9" fill="url(#sN)"/><circle cx="953.4" cy="115.4" r="2.9" fill="url(#sN)"/><circle cx="941.8" cy="143.5" r="2.9" fill="url(#sN)"/><circle cx="964.4" cy="131.9" r="2.9" fill="url(#sN)"/><circle cx="978.5" cy="138.6" r="2.9" fill="url(#sN)"/><circle cx="950" cy="80" r="2.9" fill="url(#sN)"/><circle cx="945" cy="50" r="2.9" fill="url(#sN)"/><circle cx="952" cy="102" r="2.9" fill="url(#sN)"/><circle cx="930" cy="80" r="2.9" fill="url(#sN)"/><circle cx="941.8" cy="37.1" r="7.2" fill="url(#sLu)"/><circle cx="930.6" cy="65.1" r="7.2" fill="url(#sLu)"/><circle cx="967.7" cy="59.9" r="7.2" fill="url(#sLu)"/><circle cx="945.1" cy="72.3" r="7.2" fill="url(#sLu)"/><circle cx="956.7" cy="88.3" r="7.2" fill="url(#sLu)"/><circle cx="934.1" cy="99.9" r="7.2" fill="url(#sLu)"/><circle cx="970.2" cy="95.1" r="7.2" fill="url(#sLu)"/><circle cx="958.6" cy="123.2" r="7.2" fill="url(#sLu)"/><line x1="1336.8" y1="51" x2="1375.6" y2="39.5" stroke="#9a9a9a" stroke-width="0.8"/><line x1="1375.6" y1="39.5" x2="1427.9" y2="42" stroke="#9a9a9a" stroke-width="0.8"/><line x1="1427.9" y1="42" x2="1389.1" y2="54.3" stroke="#9a9a9a" stroke-width="0.8"/><line x1="1389.1" y1="54.3" x2="1336.8" y2="51" stroke="#9a9a9a" stroke-width="0.8"/><line x1="1337.4" y1="138.2" x2="1389.1" y2="140.5" stroke="#9a9a9a" stroke-width="0.8"/><line x1="1389.1" y1="140.5" x2="1428.8" y2="128.2" stroke="#9a9a9a" stroke-width="0.8"/><line x1="1428.8" y1="128.2" x2="1375.6" y2="126.4" stroke="#9a9a9a" stroke-width="0.8"/><line x1="1375.6" y1="126.4" x2="1337.4" y2="138.2" stroke="#9a9a9a" stroke-width="0.8"/><line x1="1336.8" y1="51" x2="1337.4" y2="138.2" stroke="#9a9a9a" stroke-width="0.8"/><line x1="1389.1" y1="54.3" x2="1389.1" y2="140.5" stroke="#9a9a9a" stroke-width="0.8"/><line x1="1427.9" y1="42" x2="1428.8" y2="128.2" stroke="#9a9a9a" stroke-width="0.8"/><line x1="1375.6" y1="39.5" x2="1375.6" y2="126.4" stroke="#9a9a9a" stroke-width="0.8"/><line x1="1387.3" y1="42" x2="1387.3" y2="51.6" stroke="#a9acd6" stroke-width="1.3"/><line x1="1378.3" y1="51" x2="1387.3" y2="51.6" stroke="#a9acd6" stroke-width="1.3"/><line x1="1378.3" y1="51" x2="1383.2" y2="57.9" stroke="#a9acd6" stroke-width="1.3"/><line x1="1387.3" y1="51.6" x2="1383.2" y2="57.9" stroke="#a9acd6" stroke-width="1.3"/><line x1="1402.7" y1="58.8" x2="1409" y2="59.7" stroke="#a9acd6" stroke-width="1.3"/><line x1="1362.1" y1="67.3" x2="1356.7" y2="67.8" stroke="#a9acd6" stroke-width="1.3"/><line x1="1362.1" y1="67.3" x2="1363.3" y2="69.1" stroke="#a9acd6" stroke-width="1.3"/><line x1="1356.7" y1="67.8" x2="1363.3" y2="69.1" stroke="#a9acd6" stroke-width="1.3"/><line x1="1356.7" y1="67.8" x2="1357.2" y2="77.4" stroke="#a9acd6" stroke-width="1.3"/><line x1="1363.3" y1="69.1" x2="1357.2" y2="77.4" stroke="#a9acd6" stroke-width="1.3"/><line x1="1383.2" y1="57.9" x2="1383.2" y2="67.8" stroke="#a9acd6" stroke-width="1.3"/><line x1="1377.1" y1="68.3" x2="1383.2" y2="67.8" stroke="#a9acd6" stroke-width="1.3"/><line x1="1383.2" y1="67.8" x2="1383.2" y2="78.1" stroke="#a9acd6" stroke-width="1.3"/><line x1="1357.2" y1="77.4" x2="1361.2" y2="84.6" stroke="#a9acd6" stroke-width="1.3"/><line x1="1383.2" y1="78.1" x2="1388.2" y2="79.5" stroke="#a9acd6" stroke-width="1.3"/><line x1="1383.2" y1="78.1" x2="1389.1" y2="82.2" stroke="#a9acd6" stroke-width="1.3"/><line x1="1388.2" y1="79.5" x2="1389.1" y2="82.2" stroke="#a9acd6" stroke-width="1.3"/><line x1="1388.2" y1="79.5" x2="1393.7" y2="85.8" stroke="#a9acd6" stroke-width="1.3"/><line x1="1389.1" y1="82.2" x2="1393.7" y2="85.8" stroke="#a9acd6" stroke-width="1.3"/><line x1="1361.2" y1="84.6" x2="1362.1" y2="93.1" stroke="#a9acd6" stroke-width="1.3"/><line x1="1393.7" y1="85.8" x2="1403.6" y2="86.8" stroke="#a9acd6" stroke-width="1.3"/><line x1="1403.6" y1="86.8" x2="1413.1" y2="87.3" stroke="#a9acd6" stroke-width="1.3"/><line x1="1403.6" y1="86.8" x2="1404.1" y2="94.9" stroke="#a9acd6" stroke-width="1.3"/><line x1="1351.8" y1="93.1" x2="1362.1" y2="93.1" stroke="#a9acd6" stroke-width="1.3"/><line x1="1362.1" y1="93.1" x2="1371.6" y2="93.6" stroke="#a9acd6" stroke-width="1.3"/><line x1="1371.6" y1="93.6" x2="1375.6" y2="98.5" stroke="#a9acd6" stroke-width="1.3"/><line x1="1404.1" y1="94.9" x2="1408.1" y2="103.3" stroke="#a9acd6" stroke-width="1.3"/><line x1="1375.6" y1="98.5" x2="1378.3" y2="102.1" stroke="#a9acd6" stroke-width="1.3"/><line x1="1375.6" y1="98.5" x2="1382.8" y2="102.6" stroke="#a9acd6" stroke-width="1.3"/><line x1="1378.3" y1="102.1" x2="1382.8" y2="102.6" stroke="#a9acd6" stroke-width="1.3"/><line x1="1378.3" y1="102.1" x2="1381.9" y2="111.6" stroke="#a9acd6" stroke-width="1.3"/><line x1="1382.8" y1="102.6" x2="1381.9" y2="111.6" stroke="#a9acd6" stroke-width="1.3"/><line x1="1382.8" y1="102.6" x2="1388.2" y2="111.6" stroke="#a9acd6" stroke-width="1.3"/><line x1="1408.1" y1="103.3" x2="1401.2" y2="109.3" stroke="#a9acd6" stroke-width="1.3"/><line x1="1408.1" y1="103.3" x2="1408.4" y2="112.9" stroke="#a9acd6" stroke-width="1.3"/><line x1="1401.2" y1="109.3" x2="1403.6" y2="112.9" stroke="#a9acd6" stroke-width="1.3"/><line x1="1401.2" y1="109.3" x2="1408.4" y2="112.9" stroke="#a9acd6" stroke-width="1.3"/><line x1="1403.6" y1="112.9" x2="1408.4" y2="112.9" stroke="#a9acd6" stroke-width="1.3"/><line x1="1408.4" y1="112.9" x2="1408.1" y2="122.8" stroke="#a9acd6" stroke-width="1.3"/><line x1="1381.9" y1="111.6" x2="1388.2" y2="111.6" stroke="#a9acd6" stroke-width="1.3"/><line x1="1381.9" y1="111.6" x2="1381.9" y2="121.9" stroke="#a9acd6" stroke-width="1.3"/><line x1="1381.9" y1="121.9" x2="1377.4" y2="128.2" stroke="#a9acd6" stroke-width="1.3"/><line x1="1381.9" y1="121.9" x2="1386.8" y2="129.1" stroke="#a9acd6" stroke-width="1.3"/><line x1="1356.7" y1="120.1" x2="1362.6" y2="121" stroke="#a9acd6" stroke-width="1.3"/><line x1="1362.6" y1="121" x2="1368.4" y2="128.2" stroke="#a9acd6" stroke-width="1.3"/><line x1="1377.4" y1="128.2" x2="1386.8" y2="129.1" stroke="#a9acd6" stroke-width="1.3"/><line x1="1377.4" y1="128.2" x2="1368.4" y2="128.2" stroke="#a9acd6" stroke-width="1.3"/><line x1="1377.4" y1="128.2" x2="1378.3" y2="138.2" stroke="#a9acd6" stroke-width="1.3"/><line x1="1357.6" y1="144.5" x2="1362.1" y2="153.5" stroke="#a9acd6" stroke-width="1.3"/><line x1="1400" y1="45.3" x2="1404.6" y2="39.7" stroke="#35d39c" stroke-width="2.1"/><line x1="1404.6" y1="39.7" x2="1407.7" y2="35.9" stroke="#a9acd6" stroke-width="2.1"/><line x1="1400" y1="45.3" x2="1392.4" y2="43.3" stroke="#35d39c" stroke-width="2.1"/><line x1="1392.4" y1="43.3" x2="1387.3" y2="42" stroke="#a9acd6" stroke-width="2.1"/><line x1="1400" y1="45.3" x2="1392.4" y2="49.1" stroke="#35d39c" stroke-width="2.1"/><line x1="1392.4" y1="49.1" x2="1387.3" y2="51.6" stroke="#a9acd6" stroke-width="2.1"/><line x1="1400" y1="45.3" x2="1401.6" y2="53.4" stroke="#35d39c" stroke-width="2.1"/><line x1="1401.6" y1="53.4" x2="1402.7" y2="58.8" stroke="#a9acd6" stroke-width="2.1"/><line x1="1400" y1="45.3" x2="1405.4" y2="53.9" stroke="#35d39c" stroke-width="2.1"/><line x1="1405.4" y1="53.9" x2="1409" y2="59.7" stroke="#a9acd6" stroke-width="2.1"/><line x1="1374.7" y1="86.8" x2="1376.1" y2="75.7" stroke="#35d39c" stroke-width="2.1"/><line x1="1376.1" y1="75.7" x2="1377.1" y2="68.3" stroke="#a9acd6" stroke-width="2.1"/><line x1="1374.7" y1="86.8" x2="1379.8" y2="81.6" stroke="#35d39c" stroke-width="2.1"/><line x1="1379.8" y1="81.6" x2="1383.2" y2="78.1" stroke="#a9acd6" stroke-width="2.1"/><line x1="1374.7" y1="86.8" x2="1382.8" y2="82.4" stroke="#35d39c" stroke-width="2.1"/><line x1="1382.8" y1="82.4" x2="1388.2" y2="79.5" stroke="#a9acd6" stroke-width="2.1"/><line x1="1374.7" y1="86.8" x2="1383.3" y2="84" stroke="#35d39c" stroke-width="2.1"/><line x1="1383.3" y1="84" x2="1389.1" y2="82.2" stroke="#a9acd6" stroke-width="2.1"/><line x1="1374.7" y1="86.8" x2="1366.6" y2="85.5" stroke="#35d39c" stroke-width="2.1"/><line x1="1366.6" y1="85.5" x2="1361.2" y2="84.6" stroke="#a9acd6" stroke-width="2.1"/><line x1="1374.7" y1="86.8" x2="1367.1" y2="90.6" stroke="#35d39c" stroke-width="2.1"/><line x1="1367.1" y1="90.6" x2="1362.1" y2="93.1" stroke="#a9acd6" stroke-width="2.1"/><line x1="1374.7" y1="86.8" x2="1372.8" y2="90.9" stroke="#35d39c" stroke-width="2.1"/><line x1="1372.8" y1="90.9" x2="1371.6" y2="93.6" stroke="#a9acd6" stroke-width="2.1"/><line x1="1374.7" y1="86.8" x2="1375.2" y2="93.8" stroke="#35d39c" stroke-width="2.1"/><line x1="1375.2" y1="93.8" x2="1375.6" y2="98.5" stroke="#a9acd6" stroke-width="2.1"/><line x1="1374.7" y1="86.8" x2="1376.9" y2="96" stroke="#35d39c" stroke-width="2.1"/><line x1="1376.9" y1="96" x2="1378.3" y2="102.1" stroke="#a9acd6" stroke-width="2.1"/><line x1="1374.7" y1="86.8" x2="1379.6" y2="96.3" stroke="#35d39c" stroke-width="2.1"/><line x1="1379.6" y1="96.3" x2="1382.8" y2="102.6" stroke="#a9acd6" stroke-width="2.1"/><line x1="1391" y1="93.1" x2="1386.3" y2="84.1" stroke="#35d39c" stroke-width="2.1"/><line x1="1386.3" y1="84.1" x2="1383.2" y2="78.1" stroke="#a9acd6" stroke-width="2.1"/><line x1="1391" y1="93.1" x2="1389.3" y2="84.9" stroke="#35d39c" stroke-width="2.1"/><line x1="1389.3" y1="84.9" x2="1388.2" y2="79.5" stroke="#a9acd6" stroke-width="2.1"/><line x1="1391" y1="93.1" x2="1389.9" y2="86.6" stroke="#35d39c" stroke-width="2.1"/><line x1="1389.9" y1="86.6" x2="1389.1" y2="82.2" stroke="#a9acd6" stroke-width="2.1"/><line x1="1391" y1="93.1" x2="1392.6" y2="88.7" stroke="#35d39c" stroke-width="2.1"/><line x1="1392.6" y1="88.7" x2="1393.7" y2="85.8" stroke="#a9acd6" stroke-width="2.1"/><line x1="1391" y1="93.1" x2="1398.6" y2="89.3" stroke="#35d39c" stroke-width="2.1"/><line x1="1398.6" y1="89.3" x2="1403.6" y2="86.8" stroke="#a9acd6" stroke-width="2.1"/><line x1="1391" y1="93.1" x2="1398.9" y2="94.2" stroke="#35d39c" stroke-width="2.1"/><line x1="1398.9" y1="94.2" x2="1404.1" y2="94.9" stroke="#a9acd6" stroke-width="2.1"/><line x1="1391" y1="93.1" x2="1381.8" y2="96.3" stroke="#35d39c" stroke-width="2.1"/><line x1="1381.8" y1="96.3" x2="1375.6" y2="98.5" stroke="#a9acd6" stroke-width="2.1"/><line x1="1391" y1="93.1" x2="1383.4" y2="98.5" stroke="#35d39c" stroke-width="2.1"/><line x1="1383.4" y1="98.5" x2="1378.3" y2="102.1" stroke="#a9acd6" stroke-width="2.1"/><line x1="1391" y1="93.1" x2="1386.1" y2="98.8" stroke="#35d39c" stroke-width="2.1"/><line x1="1386.1" y1="98.8" x2="1382.8" y2="102.6" stroke="#a9acd6" stroke-width="2.1"/><line x1="1391" y1="93.1" x2="1389.3" y2="104.2" stroke="#35d39c" stroke-width="2.1"/><line x1="1389.3" y1="104.2" x2="1388.2" y2="111.6" stroke="#a9acd6" stroke-width="2.1"/><line x1="1364.8" y1="134.6" x2="1359.9" y2="125.9" stroke="#35d39c" stroke-width="2.1"/><line x1="1359.9" y1="125.9" x2="1356.7" y2="120.1" stroke="#a9acd6" stroke-width="2.1"/><line x1="1364.8" y1="134.6" x2="1363.5" y2="126.4" stroke="#35d39c" stroke-width="2.1"/><line x1="1363.5" y1="126.4" x2="1362.6" y2="121" stroke="#a9acd6" stroke-width="2.1"/><line x1="1364.8" y1="134.6" x2="1372.4" y2="130.8" stroke="#35d39c" stroke-width="2.1"/><line x1="1372.4" y1="130.8" x2="1377.4" y2="128.2" stroke="#a9acd6" stroke-width="2.1"/><line x1="1364.8" y1="134.6" x2="1367" y2="130.8" stroke="#35d39c" stroke-width="2.1"/><line x1="1367" y1="130.8" x2="1368.4" y2="128.2" stroke="#a9acd6" stroke-width="2.1"/><line x1="1364.8" y1="134.6" x2="1372.9" y2="136.8" stroke="#35d39c" stroke-width="2.1"/><line x1="1372.9" y1="136.8" x2="1378.3" y2="138.2" stroke="#a9acd6" stroke-width="2.1"/><line x1="1364.8" y1="134.6" x2="1360.5" y2="140.5" stroke="#35d39c" stroke-width="2.1"/><line x1="1360.5" y1="140.5" x2="1357.6" y2="144.5" stroke="#a9acd6" stroke-width="2.1"/><circle cx="1402.7" cy="26.3" r="2.1" fill="#e6e7f4" stroke="#8d92c6" stroke-width="0.9"/><circle cx="1407.7" cy="35.9" r="2.1" fill="#e6e7f4" stroke="#8d92c6" stroke-width="0.9"/><circle cx="1387.3" cy="42" r="2.1" fill="#e6e7f4" stroke="#8d92c6" stroke-width="0.9"/><circle cx="1419.3" cy="44" r="2.1" fill="#e6e7f4" stroke="#8d92c6" stroke-width="0.9"/><circle cx="1378.3" cy="51" r="2.1" fill="#e6e7f4" stroke="#8d92c6" stroke-width="0.9"/><circle cx="1387.3" cy="51.6" r="2.1" fill="#e6e7f4" stroke="#8d92c6" stroke-width="0.9"/><circle cx="1402.7" cy="58.8" r="2.1" fill="#e6e7f4" stroke="#8d92c6" stroke-width="0.9"/><circle cx="1409" cy="59.7" r="2.1" fill="#e6e7f4" stroke="#8d92c6" stroke-width="0.9"/><circle cx="1356.7" cy="57" r="2.1" fill="#e6e7f4" stroke="#8d92c6" stroke-width="0.9"/><circle cx="1362.1" cy="67.3" r="2.1" fill="#e6e7f4" stroke="#8d92c6" stroke-width="0.9"/><circle cx="1356.7" cy="67.8" r="2.1" fill="#e6e7f4" stroke="#8d92c6" stroke-width="0.9"/><circle cx="1363.3" cy="69.1" r="2.1" fill="#e6e7f4" stroke="#8d92c6" stroke-width="0.9"/><circle cx="1383.2" cy="57.9" r="2.1" fill="#e6e7f4" stroke="#8d92c6" stroke-width="0.9"/><circle cx="1377.1" cy="68.3" r="2.1" fill="#e6e7f4" stroke="#8d92c6" stroke-width="0.9"/><circle cx="1383.2" cy="67.8" r="2.1" fill="#e6e7f4" stroke="#8d92c6" stroke-width="0.9"/><circle cx="1357.2" cy="77.4" r="2.1" fill="#e6e7f4" stroke="#8d92c6" stroke-width="0.9"/><circle cx="1383.2" cy="78.1" r="2.1" fill="#e6e7f4" stroke="#8d92c6" stroke-width="0.9"/><circle cx="1388.2" cy="79.5" r="2.1" fill="#e6e7f4" stroke="#8d92c6" stroke-width="0.9"/><circle cx="1389.1" cy="82.2" r="2.1" fill="#e6e7f4" stroke="#8d92c6" stroke-width="0.9"/><circle cx="1361.2" cy="84.6" r="2.1" fill="#e6e7f4" stroke="#8d92c6" stroke-width="0.9"/><circle cx="1393.7" cy="85.8" r="2.1" fill="#e6e7f4" stroke="#8d92c6" stroke-width="0.9"/><circle cx="1403.6" cy="86.8" r="2.1" fill="#e6e7f4" stroke="#8d92c6" stroke-width="0.9"/><circle cx="1413.1" cy="87.3" r="2.1" fill="#e6e7f4" stroke="#8d92c6" stroke-width="0.9"/><circle cx="1351.8" cy="93.1" r="2.1" fill="#e6e7f4" stroke="#8d92c6" stroke-width="0.9"/><circle cx="1362.1" cy="93.1" r="2.1" fill="#e6e7f4" stroke="#8d92c6" stroke-width="0.9"/><circle cx="1371.6" cy="93.6" r="2.1" fill="#e6e7f4" stroke="#8d92c6" stroke-width="0.9"/><circle cx="1404.1" cy="94.9" r="2.1" fill="#e6e7f4" stroke="#8d92c6" stroke-width="0.9"/><circle cx="1375.6" cy="98.5" r="2.1" fill="#e6e7f4" stroke="#8d92c6" stroke-width="0.9"/><circle cx="1378.3" cy="102.1" r="2.1" fill="#e6e7f4" stroke="#8d92c6" stroke-width="0.9"/><circle cx="1382.8" cy="102.6" r="2.1" fill="#e6e7f4" stroke="#8d92c6" stroke-width="0.9"/><circle cx="1408.1" cy="103.3" r="2.1" fill="#e6e7f4" stroke="#8d92c6" stroke-width="0.9"/><circle cx="1401.2" cy="109.3" r="2.1" fill="#e6e7f4" stroke="#8d92c6" stroke-width="0.9"/><circle cx="1403.6" cy="112.9" r="2.1" fill="#e6e7f4" stroke="#8d92c6" stroke-width="0.9"/><circle cx="1408.4" cy="112.9" r="2.1" fill="#e6e7f4" stroke="#8d92c6" stroke-width="0.9"/><circle cx="1381.9" cy="111.6" r="2.1" fill="#e6e7f4" stroke="#8d92c6" stroke-width="0.9"/><circle cx="1388.2" cy="111.6" r="2.1" fill="#e6e7f4" stroke="#8d92c6" stroke-width="0.9"/><circle cx="1381.9" cy="121.9" r="2.1" fill="#e6e7f4" stroke="#8d92c6" stroke-width="0.9"/><circle cx="1408.1" cy="122.8" r="2.1" fill="#e6e7f4" stroke="#8d92c6" stroke-width="0.9"/><circle cx="1356.7" cy="120.1" r="2.1" fill="#e6e7f4" stroke="#8d92c6" stroke-width="0.9"/><circle cx="1362.6" cy="121" r="2.1" fill="#e6e7f4" stroke="#8d92c6" stroke-width="0.9"/><circle cx="1377.4" cy="128.2" r="2.1" fill="#e6e7f4" stroke="#8d92c6" stroke-width="0.9"/><circle cx="1386.8" cy="129.1" r="2.1" fill="#e6e7f4" stroke="#8d92c6" stroke-width="0.9"/><circle cx="1345.8" cy="135.5" r="2.1" fill="#e6e7f4" stroke="#8d92c6" stroke-width="0.9"/><circle cx="1368.4" cy="128.2" r="2.1" fill="#e6e7f4" stroke="#8d92c6" stroke-width="0.9"/><circle cx="1378.3" cy="138.2" r="2.1" fill="#e6e7f4" stroke="#8d92c6" stroke-width="0.9"/><circle cx="1357.6" cy="144.5" r="2.1" fill="#e6e7f4" stroke="#8d92c6" stroke-width="0.9"/><circle cx="1362.1" cy="153.5" r="2.1" fill="#e6e7f4" stroke="#8d92c6" stroke-width="0.9"/><circle cx="1400" cy="45.3" r="5.8" fill="url(#sLu)"/><circle cx="1374.7" cy="86.8" r="5.8" fill="url(#sLu)"/><circle cx="1391" cy="93.1" r="5.8" fill="url(#sLu)"/><circle cx="1364.8" cy="134.6" r="5.8" fill="url(#sLu)"/><line x1="733.3" y1="456.1" x2="733.3" y2="531.9" stroke="#c8c8c8" stroke-width="0.7"/><line x1="771.2" y1="456.1" x2="771.2" y2="531.9" stroke="#c8c8c8" stroke-width="0.7"/><line x1="758.2" y1="443.5" x2="758.2" y2="521" stroke="#c8c8c8" stroke-width="0.7"/><line x1="797" y1="443.5" x2="797" y2="521" stroke="#c8c8c8" stroke-width="0.7"/><line x1="733.3" y1="456.1" x2="771.2" y2="456.1" stroke="#c8c8c8" stroke-width="0.7"/><line x1="758.2" y1="443.5" x2="797" y2="443.5" stroke="#c8c8c8" stroke-width="0.7"/><line x1="733.3" y1="456.1" x2="758.2" y2="443.5" stroke="#c8c8c8" stroke-width="0.7"/><line x1="771.2" y1="456.1" x2="797" y2="443.5" stroke="#c8c8c8" stroke-width="0.7"/><line x1="733.3" y1="531.9" x2="771.2" y2="531.9" stroke="#c8c8c8" stroke-width="0.7"/><line x1="758.2" y1="521" x2="797" y2="521" stroke="#c8c8c8" stroke-width="0.7"/><line x1="733.3" y1="531.9" x2="758.2" y2="521" stroke="#c8c8c8" stroke-width="0.7"/><line x1="771.2" y1="531.9" x2="797" y2="521" stroke="#c8c8c8" stroke-width="0.7"/><line x1="749.6" y1="426.9" x2="745.1" y2="438" stroke="#9da1cf" stroke-width="1.6"/><line x1="745.1" y1="438" x2="740.2" y2="448.9" stroke="#9da1cf" stroke-width="1.6"/><line x1="787.5" y1="427.6" x2="783.1" y2="438.4" stroke="#9da1cf" stroke-width="1.6"/><line x1="783.1" y1="438.4" x2="778.5" y2="449.8" stroke="#9da1cf" stroke-width="1.6"/><line x1="727.9" y1="476.3" x2="732.6" y2="487.7" stroke="#9da1cf" stroke-width="1.6"/><line x1="732.6" y1="487.7" x2="737.5" y2="498.8" stroke="#9da1cf" stroke-width="1.6"/><line x1="758.8" y1="476.8" x2="763.7" y2="488.2" stroke="#9da1cf" stroke-width="1.6"/><line x1="765.8" y1="477.4" x2="770.9" y2="488.2" stroke="#9da1cf" stroke-width="1.6"/><line x1="792.2" y1="466.5" x2="797" y2="477.7" stroke="#9da1cf" stroke-width="1.6"/><line x1="797" y1="477.7" x2="801.9" y2="489.1" stroke="#9da1cf" stroke-width="1.6"/><line x1="751.4" y1="515.6" x2="746.5" y2="526.8" stroke="#9da1cf" stroke-width="1.6"/><line x1="746.5" y1="526.8" x2="742" y2="537.6" stroke="#9da1cf" stroke-width="1.6"/><line x1="789.3" y1="515.6" x2="784.4" y2="527.3" stroke="#9da1cf" stroke-width="1.6"/><line x1="784.4" y1="527.3" x2="779.9" y2="538.2" stroke="#9da1cf" stroke-width="1.6"/><circle cx="728.5" cy="443.5" r="2.5" fill="#e6e7f4" stroke="#8d92c6" stroke-width="1.1"/><circle cx="732.8" cy="443.5" r="2.5" fill="#e6e7f4" stroke="#8d92c6" stroke-width="1.1"/><circle cx="737.1" cy="443.5" r="2.5" fill="#e6e7f4" stroke="#8d92c6" stroke-width="1.1"/><circle cx="754.3" cy="432.6" r="2.5" fill="#e6e7f4" stroke="#8d92c6" stroke-width="1.1"/><circle cx="758.6" cy="432.6" r="2.5" fill="#e6e7f4" stroke="#8d92c6" stroke-width="1.1"/><circle cx="762.9" cy="432.6" r="2.5" fill="#e6e7f4" stroke="#8d92c6" stroke-width="1.1"/><circle cx="766.9" cy="443.5" r="2.5" fill="#e6e7f4" stroke="#8d92c6" stroke-width="1.1"/><circle cx="771.2" cy="443.5" r="2.5" fill="#e6e7f4" stroke="#8d92c6" stroke-width="1.1"/><circle cx="775.5" cy="443.5" r="2.5" fill="#e6e7f4" stroke="#8d92c6" stroke-width="1.1"/><circle cx="793.4" cy="432.6" r="2.5" fill="#e6e7f4" stroke="#8d92c6" stroke-width="1.1"/><circle cx="797.7" cy="432.6" r="2.5" fill="#e6e7f4" stroke="#8d92c6" stroke-width="1.1"/><circle cx="802" cy="432.6" r="2.5" fill="#e6e7f4" stroke="#8d92c6" stroke-width="1.1"/><circle cx="742" cy="483.1" r="2.5" fill="#e6e7f4" stroke="#8d92c6" stroke-width="1.1"/><circle cx="746.3" cy="483.1" r="2.5" fill="#e6e7f4" stroke="#8d92c6" stroke-width="1.1"/><circle cx="750.6" cy="483.1" r="2.5" fill="#e6e7f4" stroke="#8d92c6" stroke-width="1.1"/><circle cx="779.9" cy="483.1" r="2.5" fill="#e6e7f4" stroke="#8d92c6" stroke-width="1.1"/><circle cx="784.2" cy="483.1" r="2.5" fill="#e6e7f4" stroke="#8d92c6" stroke-width="1.1"/><circle cx="788.5" cy="483.1" r="2.5" fill="#e6e7f4" stroke="#8d92c6" stroke-width="1.1"/><circle cx="729.4" cy="532.8" r="2.5" fill="#e6e7f4" stroke="#8d92c6" stroke-width="1.1"/><circle cx="733.7" cy="532.8" r="2.5" fill="#e6e7f4" stroke="#8d92c6" stroke-width="1.1"/><circle cx="738" cy="532.8" r="2.5" fill="#e6e7f4" stroke="#8d92c6" stroke-width="1.1"/><circle cx="756.4" cy="521.9" r="2.5" fill="#e6e7f4" stroke="#8d92c6" stroke-width="1.1"/><circle cx="760.7" cy="521.9" r="2.5" fill="#e6e7f4" stroke="#8d92c6" stroke-width="1.1"/><circle cx="765" cy="521.9" r="2.5" fill="#e6e7f4" stroke="#8d92c6" stroke-width="1.1"/><circle cx="768.2" cy="533.7" r="2.5" fill="#e6e7f4" stroke="#8d92c6" stroke-width="1.1"/><circle cx="772.5" cy="533.7" r="2.5" fill="#e6e7f4" stroke="#8d92c6" stroke-width="1.1"/><circle cx="776.8" cy="533.7" r="2.5" fill="#e6e7f4" stroke="#8d92c6" stroke-width="1.1"/><circle cx="794.3" cy="521" r="2.5" fill="#e6e7f4" stroke="#8d92c6" stroke-width="1.1"/><circle cx="798.6" cy="521" r="2.5" fill="#e6e7f4" stroke="#8d92c6" stroke-width="1.1"/><circle cx="802.9" cy="521" r="2.5" fill="#e6e7f4" stroke="#8d92c6" stroke-width="1.1"/><circle cx="749.6" cy="426.9" r="2.5" fill="#e6e7f4" stroke="#8d92c6" stroke-width="1.1"/><circle cx="745.1" cy="438" r="2.5" fill="#e6e7f4" stroke="#8d92c6" stroke-width="1.1"/><circle cx="740.2" cy="448.9" r="2.5" fill="#e6e7f4" stroke="#8d92c6" stroke-width="1.1"/><circle cx="787.5" cy="427.6" r="2.5" fill="#e6e7f4" stroke="#8d92c6" stroke-width="1.1"/><circle cx="783.1" cy="438.4" r="2.5" fill="#e6e7f4" stroke="#8d92c6" stroke-width="1.1"/><circle cx="778.5" cy="449.8" r="2.5" fill="#e6e7f4" stroke="#8d92c6" stroke-width="1.1"/><circle cx="727.9" cy="476.3" r="2.5" fill="#e6e7f4" stroke="#8d92c6" stroke-width="1.1"/><circle cx="732.6" cy="487.7" r="2.5" fill="#e6e7f4" stroke="#8d92c6" stroke-width="1.1"/><circle cx="737.5" cy="498.8" r="2.5" fill="#e6e7f4" stroke="#8d92c6" stroke-width="1.1"/><circle cx="758.8" cy="476.8" r="2.5" fill="#e6e7f4" stroke="#8d92c6" stroke-width="1.1"/><circle cx="763.7" cy="488.2" r="2.5" fill="#e6e7f4" stroke="#8d92c6" stroke-width="1.1"/><circle cx="765.8" cy="477.4" r="2.5" fill="#e6e7f4" stroke="#8d92c6" stroke-width="1.1"/><circle cx="770.9" cy="488.2" r="2.5" fill="#e6e7f4" stroke="#8d92c6" stroke-width="1.1"/><circle cx="792.2" cy="466.5" r="2.5" fill="#e6e7f4" stroke="#8d92c6" stroke-width="1.1"/><circle cx="797" cy="477.7" r="2.5" fill="#e6e7f4" stroke="#8d92c6" stroke-width="1.1"/><circle cx="801.9" cy="489.1" r="2.5" fill="#e6e7f4" stroke="#8d92c6" stroke-width="1.1"/><circle cx="751.4" cy="515.6" r="2.5" fill="#e6e7f4" stroke="#8d92c6" stroke-width="1.1"/><circle cx="746.5" cy="526.8" r="2.5" fill="#e6e7f4" stroke="#8d92c6" stroke-width="1.1"/><circle cx="742" cy="537.6" r="2.5" fill="#e6e7f4" stroke="#8d92c6" stroke-width="1.1"/><circle cx="789.3" cy="515.6" r="2.5" fill="#e6e7f4" stroke="#8d92c6" stroke-width="1.1"/><circle cx="784.4" cy="527.3" r="2.5" fill="#e6e7f4" stroke="#8d92c6" stroke-width="1.1"/><circle cx="779.9" cy="538.2" r="2.5" fill="#e6e7f4" stroke="#8d92c6" stroke-width="1.1"/><line x1="755.5" y1="463.3" x2="757.5" y2="465.8" stroke="#9da1cf" stroke-width="1.4"/><line x1="757.5" y1="465.8" x2="759.5" y2="468.2" stroke="#e8b7bd" stroke-width="1.4"/><circle cx="759.5" cy="468.2" r="1.6" fill="#fbeff0" stroke="#e29aa3" stroke-width="0.8"/><line x1="755.5" y1="463.3" x2="753" y2="465.4" stroke="#9da1cf" stroke-width="1.4"/><line x1="753" y1="465.4" x2="750.5" y2="467.5" stroke="#e8b7bd" stroke-width="1.4"/><circle cx="750.5" cy="467.5" r="1.6" fill="#fbeff0" stroke="#e29aa3" stroke-width="0.8"/><line x1="755.5" y1="463.3" x2="753.5" y2="460.8" stroke="#9da1cf" stroke-width="1.4"/><line x1="753.5" y1="460.8" x2="751.5" y2="458.4" stroke="#e8b7bd" stroke-width="1.4"/><circle cx="751.5" cy="458.4" r="1.6" fill="#fbeff0" stroke="#e29aa3" stroke-width="0.8"/><line x1="755.5" y1="463.3" x2="758.4" y2="461.6" stroke="#9da1cf" stroke-width="1.4"/><line x1="758.4" y1="461.6" x2="761.3" y2="459.9" stroke="#e8b7bd" stroke-width="1.4"/><circle cx="761.3" cy="459.9" r="1.6" fill="#fbeff0" stroke="#e29aa3" stroke-width="0.8"/><circle cx="755.5" cy="463.3" r="2.8" fill="#c9cce8" stroke="#7a7fb5" stroke-width="1.2"/><line x1="768.7" y1="457.5" x2="770" y2="460.3" stroke="#9da1cf" stroke-width="1.4"/><line x1="770" y1="460.3" x2="771.2" y2="463.1" stroke="#e8b7bd" stroke-width="1.4"/><circle cx="771.2" cy="463.1" r="1.6" fill="#fbeff0" stroke="#e29aa3" stroke-width="0.8"/><line x1="768.7" y1="457.5" x2="765.7" y2="459.1" stroke="#9da1cf" stroke-width="1.4"/><line x1="765.7" y1="459.1" x2="762.7" y2="460.6" stroke="#e8b7bd" stroke-width="1.4"/><circle cx="762.7" cy="460.6" r="1.6" fill="#fbeff0" stroke="#e29aa3" stroke-width="0.8"/><line x1="768.7" y1="457.5" x2="767.4" y2="454.7" stroke="#9da1cf" stroke-width="1.4"/><line x1="767.4" y1="454.7" x2="766.2" y2="451.9" stroke="#e8b7bd" stroke-width="1.4"/><circle cx="766.2" cy="451.9" r="1.6" fill="#fbeff0" stroke="#e29aa3" stroke-width="0.8"/><line x1="768.7" y1="457.5" x2="772" y2="456.4" stroke="#9da1cf" stroke-width="1.4"/><line x1="772" y1="456.4" x2="775.2" y2="455.3" stroke="#e8b7bd" stroke-width="1.4"/><circle cx="775.2" cy="455.3" r="1.6" fill="#fbeff0" stroke="#e29aa3" stroke-width="0.8"/><circle cx="768.7" cy="457.5" r="2.8" fill="#c9cce8" stroke="#7a7fb5" stroke-width="1.2"/><line x1="760.4" y1="507.9" x2="762.1" y2="510.5" stroke="#9da1cf" stroke-width="1.4"/><line x1="762.1" y1="510.5" x2="763.9" y2="513.1" stroke="#e8b7bd" stroke-width="1.4"/><circle cx="763.9" cy="513.1" r="1.6" fill="#fbeff0" stroke="#e29aa3" stroke-width="0.8"/><line x1="760.4" y1="507.9" x2="757.7" y2="509.8" stroke="#9da1cf" stroke-width="1.4"/><line x1="757.7" y1="509.8" x2="755" y2="511.7" stroke="#e8b7bd" stroke-width="1.4"/><circle cx="755" cy="511.7" r="1.6" fill="#fbeff0" stroke="#e29aa3" stroke-width="0.8"/><line x1="760.4" y1="507.9" x2="758.7" y2="505.3" stroke="#9da1cf" stroke-width="1.4"/><line x1="758.7" y1="505.3" x2="756.9" y2="502.7" stroke="#e8b7bd" stroke-width="1.4"/><circle cx="756.9" cy="502.7" r="1.6" fill="#fbeff0" stroke="#e29aa3" stroke-width="0.8"/><line x1="760.4" y1="507.9" x2="763.4" y2="506.4" stroke="#9da1cf" stroke-width="1.4"/><line x1="763.4" y1="506.4" x2="766.5" y2="504.9" stroke="#e8b7bd" stroke-width="1.4"/><circle cx="766.5" cy="504.9" r="1.6" fill="#fbeff0" stroke="#e29aa3" stroke-width="0.8"/><circle cx="760.4" cy="507.9" r="2.8" fill="#c9cce8" stroke="#7a7fb5" stroke-width="1.2"/><line x1="775.9" y1="499.4" x2="776.8" y2="502.3" stroke="#9da1cf" stroke-width="1.4"/><line x1="776.8" y1="502.3" x2="777.6" y2="505.2" stroke="#e8b7bd" stroke-width="1.4"/><circle cx="777.6" cy="505.2" r="1.6" fill="#fbeff0" stroke="#e29aa3" stroke-width="0.8"/><line x1="775.9" y1="499.4" x2="772.7" y2="500.6" stroke="#9da1cf" stroke-width="1.4"/><line x1="772.7" y1="500.6" x2="769.5" y2="501.8" stroke="#e8b7bd" stroke-width="1.4"/><circle cx="769.5" cy="501.8" r="1.6" fill="#fbeff0" stroke="#e29aa3" stroke-width="0.8"/><line x1="775.9" y1="499.4" x2="775" y2="496.5" stroke="#9da1cf" stroke-width="1.4"/><line x1="775" y1="496.5" x2="774.2" y2="493.6" stroke="#e8b7bd" stroke-width="1.4"/><circle cx="774.2" cy="493.6" r="1.6" fill="#fbeff0" stroke="#e29aa3" stroke-width="0.8"/><line x1="775.9" y1="499.4" x2="779.3" y2="498.7" stroke="#9da1cf" stroke-width="1.4"/><line x1="779.3" y1="498.7" x2="782.7" y2="497.9" stroke="#e8b7bd" stroke-width="1.4"/><circle cx="782.7" cy="497.9" r="1.6" fill="#fbeff0" stroke="#e29aa3" stroke-width="0.8"/><circle cx="775.9" cy="499.4" r="2.8" fill="#c9cce8" stroke="#7a7fb5" stroke-width="1.2"/><polyline points="1241.5,409.6 1216,486.2 1250,558.5" fill="none" stroke="#333" stroke-width="0.75"/><polyline points="1250,407.4 1284,480.9 1258.5,557.4" fill="none" stroke="#333" stroke-width="0.75"/><polyline points="1241.5,409.6 1250,407.4" fill="none" stroke="#333" stroke-width="0.75"/><polyline points="1250,558.5 1258.5,557.4" fill="none" stroke="#333" stroke-width="0.75"/><polyline points="1216,486.2 1228,482 1284,480.9" fill="none" stroke="#333" stroke-width="0.75"/><polyline points="1241.5,409.6 1262,470 1258.5,557.4" fill="none" stroke="#333" stroke-width="0.75"/><polyline points="1250,407.4 1232,470 1250,558.5" fill="none" stroke="#333" stroke-width="0.75"/><line x1="1228.4" y1="449.1" x2="1219.6" y2="441.4" stroke="#35d39c" stroke-width="2.3"/><line x1="1219.6" y1="441.4" x2="1213.8" y2="436.2" stroke="#a9acd6" stroke-width="2.3"/><line x1="1228.4" y1="449.1" x2="1219" y2="456.7" stroke="#35d39c" stroke-width="2.3"/><line x1="1219" y1="456.7" x2="1212.8" y2="461.7" stroke="#a9acd6" stroke-width="2.3"/><line x1="1232.3" y1="523.3" x2="1222.5" y2="516.3" stroke="#35d39c" stroke-width="2.3"/><line x1="1222.5" y1="516.3" x2="1216" y2="511.7" stroke="#a9acd6" stroke-width="2.3"/><line x1="1232.3" y1="523.3" x2="1222.5" y2="531" stroke="#35d39c" stroke-width="2.3"/><line x1="1222.5" y1="531" x2="1216" y2="536.2" stroke="#a9acd6" stroke-width="2.3"/><line x1="1250.4" y1="420.1" x2="1240.6" y2="413.1" stroke="#35d39c" stroke-width="2.3"/><line x1="1240.6" y1="413.1" x2="1234" y2="408.5" stroke="#a9acd6" stroke-width="2.3"/><line x1="1250.4" y1="420.1" x2="1258.4" y2="411.2" stroke="#35d39c" stroke-width="2.3"/><line x1="1258.4" y1="411.2" x2="1263.8" y2="405.3" stroke="#a9acd6" stroke-width="2.3"/><line x1="1267.8" y1="443.8" x2="1276.9" y2="435.4" stroke="#35d39c" stroke-width="2.3"/><line x1="1276.9" y1="435.4" x2="1283" y2="429.8" stroke="#a9acd6" stroke-width="2.3"/><line x1="1267.8" y1="443.8" x2="1276.3" y2="451.4" stroke="#35d39c" stroke-width="2.3"/><line x1="1276.3" y1="451.4" x2="1282" y2="456.4" stroke="#a9acd6" stroke-width="2.3"/><line x1="1271.8" y1="518" x2="1281" y2="509.8" stroke="#35d39c" stroke-width="2.3"/><line x1="1281" y1="509.8" x2="1287.2" y2="504.3" stroke="#a9acd6" stroke-width="2.3"/><line x1="1271.8" y1="518" x2="1279.8" y2="525.2" stroke="#35d39c" stroke-width="2.3"/><line x1="1279.8" y1="525.2" x2="1285.1" y2="530" stroke="#a9acd6" stroke-width="2.3"/><line x1="1250" y1="545.8" x2="1240.7" y2="554.1" stroke="#35d39c" stroke-width="2.3"/><line x1="1240.7" y1="554.1" x2="1234.5" y2="559.6" stroke="#a9acd6" stroke-width="2.3"/><line x1="1250" y1="545.8" x2="1258.3" y2="553.4" stroke="#35d39c" stroke-width="2.3"/><line x1="1258.3" y1="553.4" x2="1263.8" y2="558.5" stroke="#a9acd6" stroke-width="2.3"/><line x1="1228.4" y1="449.1" x2="1225.8" y2="438.8" stroke="#35d39c" stroke-width="2.3"/><line x1="1225.8" y1="438.8" x2="1224" y2="432" stroke="#a9acd6" stroke-width="2.3"/><line x1="1228.4" y1="449.1" x2="1224.6" y2="455" stroke="#35d39c" stroke-width="2.3"/><line x1="1224.6" y1="455" x2="1222" y2="459" stroke="#a9acd6" stroke-width="2.3"/><line x1="1232.3" y1="523.3" x2="1228.5" y2="529.1" stroke="#35d39c" stroke-width="2.3"/><line x1="1228.5" y1="529.1" x2="1226" y2="533" stroke="#a9acd6" stroke-width="2.3"/><line x1="1267.8" y1="443.8" x2="1272.7" y2="437.3" stroke="#35d39c" stroke-width="2.3"/><line x1="1272.7" y1="437.3" x2="1276" y2="433" stroke="#a9acd6" stroke-width="2.3"/><line x1="1264.8" y1="469.3" x2="1270.3" y2="463.1" stroke="#35d39c" stroke-width="2.3"/><line x1="1270.3" y1="463.1" x2="1274" y2="459" stroke="#a9acd6" stroke-width="2.3"/><line x1="1271.8" y1="518" x2="1274.9" y2="527.6" stroke="#35d39c" stroke-width="2.3"/><line x1="1274.9" y1="527.6" x2="1277" y2="534" stroke="#a9acd6" stroke-width="2.3"/><line x1="1250.4" y1="420.1" x2="1245.4" y2="415.4" stroke="#35d39c" stroke-width="2.5"/><line x1="1245.4" y1="415.4" x2="1243.4" y2="413.6" stroke="#a9acd6" stroke-width="2.5"/><line x1="1250.4" y1="420.1" x2="1255.4" y2="415.4" stroke="#35d39c" stroke-width="2.5"/><line x1="1255.4" y1="415.4" x2="1257.4" y2="413.6" stroke="#a9acd6" stroke-width="2.5"/><line x1="1250.4" y1="420.1" x2="1245.4" y2="424.8" stroke="#35d39c" stroke-width="2.5"/><line x1="1245.4" y1="424.8" x2="1243.4" y2="426.6" stroke="#a9acd6" stroke-width="2.5"/><line x1="1250.4" y1="420.1" x2="1255.4" y2="424.8" stroke="#35d39c" stroke-width="2.5"/><line x1="1255.4" y1="424.8" x2="1257.4" y2="426.6" stroke="#a9acd6" stroke-width="2.5"/><line x1="1250.4" y1="420.1" x2="1250.4" y2="411.5" stroke="#35d39c" stroke-width="2.5"/><line x1="1250.4" y1="411.5" x2="1250.4" y2="408.1" stroke="#a9acd6" stroke-width="2.5"/><line x1="1250.4" y1="420.1" x2="1250.4" y2="428.7" stroke="#35d39c" stroke-width="2.5"/><line x1="1250.4" y1="428.7" x2="1250.4" y2="432.1" stroke="#a9acd6" stroke-width="2.5"/><line x1="1250.4" y1="420.1" x2="1248.5" y2="430.2" stroke="#35d39c" stroke-width="2.5"/><line x1="1248.5" y1="430.2" x2="1247.7" y2="434.1" stroke="#a9acd6" stroke-width="2.5"/><line x1="1250.4" y1="420.1" x2="1256.3" y2="430.7" stroke="#35d39c" stroke-width="2.5"/><line x1="1256.3" y1="430.7" x2="1258.6" y2="434.8" stroke="#a9acd6" stroke-width="2.5"/><line x1="1228.4" y1="449.1" x2="1223.4" y2="444.4" stroke="#35d39c" stroke-width="2.5"/><line x1="1223.4" y1="444.4" x2="1221.4" y2="442.6" stroke="#a9acd6" stroke-width="2.5"/><line x1="1228.4" y1="449.1" x2="1223.4" y2="453.8" stroke="#35d39c" stroke-width="2.5"/><line x1="1223.4" y1="453.8" x2="1221.4" y2="455.6" stroke="#a9acd6" stroke-width="2.5"/><line x1="1228.4" y1="449.1" x2="1233.4" y2="453.8" stroke="#35d39c" stroke-width="2.5"/><line x1="1233.4" y1="453.8" x2="1235.4" y2="455.6" stroke="#a9acd6" stroke-width="2.5"/><line x1="1228.4" y1="449.1" x2="1228.4" y2="440.5" stroke="#35d39c" stroke-width="2.5"/><line x1="1228.4" y1="440.5" x2="1228.4" y2="437.1" stroke="#a9acd6" stroke-width="2.5"/><line x1="1228.4" y1="449.1" x2="1228.4" y2="457.7" stroke="#35d39c" stroke-width="2.5"/><line x1="1228.4" y1="457.7" x2="1228.4" y2="461.1" stroke="#a9acd6" stroke-width="2.5"/><line x1="1228.4" y1="449.1" x2="1240.1" y2="451.3" stroke="#35d39c" stroke-width="2.5"/><line x1="1240.1" y1="451.3" x2="1244.7" y2="452.2" stroke="#a9acd6" stroke-width="2.5"/><line x1="1228.4" y1="449.1" x2="1237.3" y2="442.3" stroke="#35d39c" stroke-width="2.5"/><line x1="1237.3" y1="442.3" x2="1240.7" y2="439.6" stroke="#a9acd6" stroke-width="2.5"/><line x1="1228.4" y1="449.1" x2="1237.3" y2="451.6" stroke="#35d39c" stroke-width="2.5"/><line x1="1237.3" y1="451.6" x2="1240.7" y2="452.6" stroke="#a9acd6" stroke-width="2.5"/><line x1="1228.4" y1="449.1" x2="1228.4" y2="460.3" stroke="#35d39c" stroke-width="2.5"/><line x1="1228.4" y1="460.3" x2="1228.4" y2="464.7" stroke="#a9acd6" stroke-width="2.5"/><line x1="1228.4" y1="449.1" x2="1233.4" y2="456.4" stroke="#35d39c" stroke-width="2.5"/><line x1="1233.4" y1="456.4" x2="1235.4" y2="459.2" stroke="#a9acd6" stroke-width="2.5"/><line x1="1228.4" y1="449.1" x2="1223.8" y2="456.2" stroke="#35d39c" stroke-width="2.5"/><line x1="1223.8" y1="456.2" x2="1222" y2="459" stroke="#a9acd6" stroke-width="2.5"/><line x1="1237.7" y1="445.7" x2="1226" y2="443.5" stroke="#35d39c" stroke-width="2.5"/><line x1="1226" y1="443.5" x2="1221.4" y2="442.6" stroke="#a9acd6" stroke-width="2.5"/><line x1="1237.7" y1="445.7" x2="1236" y2="452.8" stroke="#35d39c" stroke-width="2.5"/><line x1="1236" y1="452.8" x2="1235.4" y2="455.6" stroke="#a9acd6" stroke-width="2.5"/><line x1="1237.7" y1="445.7" x2="1231" y2="439.5" stroke="#35d39c" stroke-width="2.5"/><line x1="1231" y1="439.5" x2="1228.4" y2="437.1" stroke="#a9acd6" stroke-width="2.5"/><line x1="1237.7" y1="445.7" x2="1242.7" y2="441" stroke="#35d39c" stroke-width="2.5"/><line x1="1242.7" y1="441" x2="1244.7" y2="439.2" stroke="#a9acd6" stroke-width="2.5"/><line x1="1237.7" y1="445.7" x2="1242.7" y2="450.4" stroke="#35d39c" stroke-width="2.5"/><line x1="1242.7" y1="450.4" x2="1244.7" y2="452.2" stroke="#a9acd6" stroke-width="2.5"/><line x1="1237.7" y1="445.7" x2="1237.7" y2="437.1" stroke="#35d39c" stroke-width="2.5"/><line x1="1237.7" y1="437.1" x2="1237.7" y2="433.7" stroke="#a9acd6" stroke-width="2.5"/><line x1="1237.7" y1="445.7" x2="1239.9" y2="441.3" stroke="#35d39c" stroke-width="2.5"/><line x1="1239.9" y1="441.3" x2="1240.7" y2="439.6" stroke="#a9acd6" stroke-width="2.5"/><line x1="1237.7" y1="445.7" x2="1239.9" y2="450.7" stroke="#35d39c" stroke-width="2.5"/><line x1="1239.9" y1="450.7" x2="1240.7" y2="452.6" stroke="#a9acd6" stroke-width="2.5"/><line x1="1237.7" y1="445.7" x2="1244.9" y2="437.3" stroke="#35d39c" stroke-width="2.5"/><line x1="1244.9" y1="437.3" x2="1247.7" y2="434.1" stroke="#a9acd6" stroke-width="2.5"/><line x1="1237.7" y1="445.7" x2="1244.9" y2="454.6" stroke="#35d39c" stroke-width="2.5"/><line x1="1244.9" y1="454.6" x2="1247.7" y2="458.1" stroke="#a9acd6" stroke-width="2.5"/><line x1="1237.7" y1="445.7" x2="1236" y2="455.4" stroke="#35d39c" stroke-width="2.5"/><line x1="1236" y1="455.4" x2="1235.4" y2="459.2" stroke="#a9acd6" stroke-width="2.5"/><line x1="1247.7" y1="446.1" x2="1249.6" y2="436" stroke="#35d39c" stroke-width="2.5"/><line x1="1249.6" y1="436" x2="1250.4" y2="432.1" stroke="#a9acd6" stroke-width="2.5"/><line x1="1247.7" y1="446.1" x2="1238.8" y2="452.9" stroke="#35d39c" stroke-width="2.5"/><line x1="1238.8" y1="452.9" x2="1235.4" y2="455.6" stroke="#a9acd6" stroke-width="2.5"/><line x1="1247.7" y1="446.1" x2="1245.5" y2="441.1" stroke="#35d39c" stroke-width="2.5"/><line x1="1245.5" y1="441.1" x2="1244.7" y2="439.2" stroke="#a9acd6" stroke-width="2.5"/><line x1="1247.7" y1="446.1" x2="1245.5" y2="450.5" stroke="#35d39c" stroke-width="2.5"/><line x1="1245.5" y1="450.5" x2="1244.7" y2="452.2" stroke="#a9acd6" stroke-width="2.5"/><line x1="1247.7" y1="446.1" x2="1240.5" y2="437.2" stroke="#35d39c" stroke-width="2.5"/><line x1="1240.5" y1="437.2" x2="1237.7" y2="433.7" stroke="#a9acd6" stroke-width="2.5"/><line x1="1247.7" y1="446.1" x2="1242.7" y2="441.4" stroke="#35d39c" stroke-width="2.5"/><line x1="1242.7" y1="441.4" x2="1240.7" y2="439.6" stroke="#a9acd6" stroke-width="2.5"/><line x1="1247.7" y1="446.1" x2="1252.7" y2="441.4" stroke="#35d39c" stroke-width="2.5"/><line x1="1252.7" y1="441.4" x2="1254.7" y2="439.6" stroke="#a9acd6" stroke-width="2.5"/><line x1="1247.7" y1="446.1" x2="1242.7" y2="450.8" stroke="#35d39c" stroke-width="2.5"/><line x1="1242.7" y1="450.8" x2="1240.7" y2="452.6" stroke="#a9acd6" stroke-width="2.5"/><line x1="1247.7" y1="446.1" x2="1252.7" y2="450.8" stroke="#35d39c" stroke-width="2.5"/><line x1="1252.7" y1="450.8" x2="1254.7" y2="452.6" stroke="#a9acd6" stroke-width="2.5"/><line x1="1247.7" y1="446.1" x2="1247.7" y2="437.5" stroke="#35d39c" stroke-width="2.5"/><line x1="1247.7" y1="437.5" x2="1247.7" y2="434.1" stroke="#a9acd6" stroke-width="2.5"/><line x1="1247.7" y1="446.1" x2="1247.7" y2="454.7" stroke="#35d39c" stroke-width="2.5"/><line x1="1247.7" y1="454.7" x2="1247.7" y2="458.1" stroke="#a9acd6" stroke-width="2.5"/><line x1="1247.7" y1="446.1" x2="1255.5" y2="438" stroke="#35d39c" stroke-width="2.5"/><line x1="1255.5" y1="438" x2="1258.6" y2="434.8" stroke="#a9acd6" stroke-width="2.5"/><line x1="1247.7" y1="446.1" x2="1255.5" y2="455.2" stroke="#35d39c" stroke-width="2.5"/><line x1="1255.5" y1="455.2" x2="1258.6" y2="458.8" stroke="#a9acd6" stroke-width="2.5"/><line x1="1247.7" y1="446.1" x2="1257.1" y2="439.8" stroke="#35d39c" stroke-width="2.5"/><line x1="1257.1" y1="439.8" x2="1260.8" y2="437.3" stroke="#a9acd6" stroke-width="2.5"/><line x1="1258.6" y1="446.8" x2="1252.7" y2="436.2" stroke="#35d39c" stroke-width="2.5"/><line x1="1252.7" y1="436.2" x2="1250.4" y2="432.1" stroke="#a9acd6" stroke-width="2.5"/><line x1="1258.6" y1="446.8" x2="1248.6" y2="441.3" stroke="#35d39c" stroke-width="2.5"/><line x1="1248.6" y1="441.3" x2="1244.7" y2="439.2" stroke="#a9acd6" stroke-width="2.5"/><line x1="1258.6" y1="446.8" x2="1248.6" y2="450.7" stroke="#35d39c" stroke-width="2.5"/><line x1="1248.6" y1="450.7" x2="1244.7" y2="452.2" stroke="#a9acd6" stroke-width="2.5"/><line x1="1258.6" y1="446.8" x2="1255.8" y2="441.6" stroke="#35d39c" stroke-width="2.5"/><line x1="1255.8" y1="441.6" x2="1254.7" y2="439.6" stroke="#a9acd6" stroke-width="2.5"/><line x1="1258.6" y1="446.8" x2="1255.8" y2="451" stroke="#35d39c" stroke-width="2.5"/><line x1="1255.8" y1="451" x2="1254.7" y2="452.6" stroke="#a9acd6" stroke-width="2.5"/><line x1="1258.6" y1="446.8" x2="1250.8" y2="437.7" stroke="#35d39c" stroke-width="2.5"/><line x1="1250.8" y1="437.7" x2="1247.7" y2="434.1" stroke="#a9acd6" stroke-width="2.5"/><line x1="1258.6" y1="446.8" x2="1250.8" y2="454.9" stroke="#35d39c" stroke-width="2.5"/><line x1="1250.8" y1="454.9" x2="1247.7" y2="458.1" stroke="#a9acd6" stroke-width="2.5"/><line x1="1258.6" y1="446.8" x2="1263.6" y2="451.5" stroke="#35d39c" stroke-width="2.5"/><line x1="1263.6" y1="451.5" x2="1265.6" y2="453.3" stroke="#a9acd6" stroke-width="2.5"/><line x1="1258.6" y1="446.8" x2="1258.6" y2="438.2" stroke="#35d39c" stroke-width="2.5"/><line x1="1258.6" y1="438.2" x2="1258.6" y2="434.8" stroke="#a9acd6" stroke-width="2.5"/><line x1="1258.6" y1="446.8" x2="1258.6" y2="455.4" stroke="#35d39c" stroke-width="2.5"/><line x1="1258.6" y1="455.4" x2="1258.6" y2="458.8" stroke="#a9acd6" stroke-width="2.5"/><line x1="1258.6" y1="446.8" x2="1260.2" y2="440" stroke="#35d39c" stroke-width="2.5"/><line x1="1260.2" y1="440" x2="1260.8" y2="437.3" stroke="#a9acd6" stroke-width="2.5"/><line x1="1258.6" y1="446.8" x2="1270.3" y2="449.3" stroke="#35d39c" stroke-width="2.5"/><line x1="1270.3" y1="449.3" x2="1274.8" y2="450.3" stroke="#a9acd6" stroke-width="2.5"/><line x1="1258.6" y1="446.8" x2="1265.2" y2="453.3" stroke="#35d39c" stroke-width="2.5"/><line x1="1265.2" y1="453.3" x2="1267.8" y2="455.8" stroke="#a9acd6" stroke-width="2.5"/><line x1="1258.6" y1="446.8" x2="1258" y2="458.3" stroke="#35d39c" stroke-width="2.5"/><line x1="1258" y1="458.3" x2="1257.8" y2="462.8" stroke="#a9acd6" stroke-width="2.5"/><line x1="1258.6" y1="446.8" x2="1263.1" y2="454.4" stroke="#35d39c" stroke-width="2.5"/><line x1="1263.1" y1="454.4" x2="1264.8" y2="457.3" stroke="#a9acd6" stroke-width="2.5"/><line x1="1267.8" y1="443.8" x2="1258.4" y2="440.8" stroke="#35d39c" stroke-width="2.5"/><line x1="1258.4" y1="440.8" x2="1254.7" y2="439.6" stroke="#a9acd6" stroke-width="2.5"/><line x1="1267.8" y1="443.8" x2="1258.4" y2="450.1" stroke="#35d39c" stroke-width="2.5"/><line x1="1258.4" y1="450.1" x2="1254.7" y2="452.6" stroke="#a9acd6" stroke-width="2.5"/><line x1="1267.8" y1="443.8" x2="1266.2" y2="450.6" stroke="#35d39c" stroke-width="2.5"/><line x1="1266.2" y1="450.6" x2="1265.6" y2="453.3" stroke="#a9acd6" stroke-width="2.5"/><line x1="1267.8" y1="443.8" x2="1261.2" y2="437.3" stroke="#35d39c" stroke-width="2.5"/><line x1="1261.2" y1="437.3" x2="1258.6" y2="434.8" stroke="#a9acd6" stroke-width="2.5"/><line x1="1267.8" y1="443.8" x2="1262.8" y2="439.1" stroke="#35d39c" stroke-width="2.5"/><line x1="1262.8" y1="439.1" x2="1260.8" y2="437.3" stroke="#a9acd6" stroke-width="2.5"/><line x1="1267.8" y1="443.8" x2="1272.8" y2="439.1" stroke="#35d39c" stroke-width="2.5"/><line x1="1272.8" y1="439.1" x2="1274.8" y2="437.3" stroke="#a9acd6" stroke-width="2.5"/><line x1="1267.8" y1="443.8" x2="1272.8" y2="448.5" stroke="#35d39c" stroke-width="2.5"/><line x1="1272.8" y1="448.5" x2="1274.8" y2="450.3" stroke="#a9acd6" stroke-width="2.5"/><line x1="1267.8" y1="443.8" x2="1267.8" y2="435.2" stroke="#35d39c" stroke-width="2.5"/><line x1="1267.8" y1="435.2" x2="1267.8" y2="431.8" stroke="#a9acd6" stroke-width="2.5"/><line x1="1267.8" y1="443.8" x2="1267.8" y2="452.4" stroke="#35d39c" stroke-width="2.5"/><line x1="1267.8" y1="452.4" x2="1267.8" y2="455.8" stroke="#a9acd6" stroke-width="2.5"/><line x1="1267.8" y1="443.8" x2="1265.6" y2="453.5" stroke="#35d39c" stroke-width="2.5"/><line x1="1265.6" y1="453.5" x2="1264.8" y2="457.3" stroke="#a9acd6" stroke-width="2.5"/><line x1="1267.8" y1="443.8" x2="1273.7" y2="436" stroke="#35d39c" stroke-width="2.5"/><line x1="1273.7" y1="436" x2="1276" y2="433" stroke="#a9acd6" stroke-width="2.5"/><line x1="1267.8" y1="443.8" x2="1272.3" y2="454.7" stroke="#35d39c" stroke-width="2.5"/><line x1="1272.3" y1="454.7" x2="1274" y2="459" stroke="#a9acd6" stroke-width="2.5"/><line x1="1235.4" y1="471.2" x2="1235.4" y2="460" stroke="#35d39c" stroke-width="2.5"/><line x1="1235.4" y1="460" x2="1235.4" y2="455.6" stroke="#a9acd6" stroke-width="2.5"/><line x1="1235.4" y1="471.2" x2="1230.4" y2="463.9" stroke="#35d39c" stroke-width="2.5"/><line x1="1230.4" y1="463.9" x2="1228.4" y2="461.1" stroke="#a9acd6" stroke-width="2.5"/><line x1="1235.4" y1="471.2" x2="1230.4" y2="466.5" stroke="#35d39c" stroke-width="2.5"/><line x1="1230.4" y1="466.5" x2="1228.4" y2="464.7" stroke="#a9acd6" stroke-width="2.5"/><line x1="1235.4" y1="471.2" x2="1240.4" y2="466.5" stroke="#35d39c" stroke-width="2.5"/><line x1="1240.4" y1="466.5" x2="1242.4" y2="464.7" stroke="#a9acd6" stroke-width="2.5"/><line x1="1235.4" y1="471.2" x2="1230.4" y2="475.9" stroke="#35d39c" stroke-width="2.5"/><line x1="1230.4" y1="475.9" x2="1228.4" y2="477.7" stroke="#a9acd6" stroke-width="2.5"/><line x1="1235.4" y1="471.2" x2="1240.4" y2="475.9" stroke="#35d39c" stroke-width="2.5"/><line x1="1240.4" y1="475.9" x2="1242.4" y2="477.7" stroke="#a9acd6" stroke-width="2.5"/><line x1="1235.4" y1="471.2" x2="1235.4" y2="462.6" stroke="#35d39c" stroke-width="2.5"/><line x1="1235.4" y1="462.6" x2="1235.4" y2="459.2" stroke="#a9acd6" stroke-width="2.5"/><line x1="1235.4" y1="471.2" x2="1235.4" y2="479.8" stroke="#35d39c" stroke-width="2.5"/><line x1="1235.4" y1="479.8" x2="1235.4" y2="483.2" stroke="#a9acd6" stroke-width="2.5"/><line x1="1235.4" y1="471.2" x2="1238.2" y2="467.3" stroke="#35d39c" stroke-width="2.5"/><line x1="1238.2" y1="467.3" x2="1239.3" y2="465.8" stroke="#a9acd6" stroke-width="2.5"/><line x1="1235.4" y1="471.2" x2="1238.2" y2="476.7" stroke="#35d39c" stroke-width="2.5"/><line x1="1238.2" y1="476.7" x2="1239.3" y2="478.8" stroke="#a9acd6" stroke-width="2.5"/><line x1="1246.3" y1="472.3" x2="1247.3" y2="462.1" stroke="#35d39c" stroke-width="2.5"/><line x1="1247.3" y1="462.1" x2="1247.7" y2="458.1" stroke="#a9acd6" stroke-width="2.5"/><line x1="1246.3" y1="472.3" x2="1243.5" y2="466.8" stroke="#35d39c" stroke-width="2.5"/><line x1="1243.5" y1="466.8" x2="1242.4" y2="464.7" stroke="#a9acd6" stroke-width="2.5"/><line x1="1246.3" y1="472.3" x2="1243.5" y2="476.2" stroke="#35d39c" stroke-width="2.5"/><line x1="1243.5" y1="476.2" x2="1242.4" y2="477.7" stroke="#a9acd6" stroke-width="2.5"/><line x1="1246.3" y1="472.3" x2="1238.5" y2="480.1" stroke="#35d39c" stroke-width="2.5"/><line x1="1238.5" y1="480.1" x2="1235.4" y2="483.2" stroke="#a9acd6" stroke-width="2.5"/><line x1="1246.3" y1="472.3" x2="1241.3" y2="467.6" stroke="#35d39c" stroke-width="2.5"/><line x1="1241.3" y1="467.6" x2="1239.3" y2="465.8" stroke="#a9acd6" stroke-width="2.5"/><line x1="1246.3" y1="472.3" x2="1251.3" y2="467.6" stroke="#35d39c" stroke-width="2.5"/><line x1="1251.3" y1="467.6" x2="1253.3" y2="465.8" stroke="#a9acd6" stroke-width="2.5"/><line x1="1246.3" y1="472.3" x2="1241.3" y2="477" stroke="#35d39c" stroke-width="2.5"/><line x1="1241.3" y1="477" x2="1239.3" y2="478.8" stroke="#a9acd6" stroke-width="2.5"/><line x1="1246.3" y1="472.3" x2="1251.3" y2="477" stroke="#35d39c" stroke-width="2.5"/><line x1="1251.3" y1="477" x2="1253.3" y2="478.8" stroke="#a9acd6" stroke-width="2.5"/><line x1="1246.3" y1="472.3" x2="1246.3" y2="480.9" stroke="#35d39c" stroke-width="2.5"/><line x1="1246.3" y1="480.9" x2="1246.3" y2="484.3" stroke="#a9acd6" stroke-width="2.5"/><line x1="1246.3" y1="472.3" x2="1254.6" y2="465.5" stroke="#35d39c" stroke-width="2.5"/><line x1="1254.6" y1="465.5" x2="1257.8" y2="462.8" stroke="#a9acd6" stroke-width="2.5"/><line x1="1246.3" y1="472.3" x2="1254.6" y2="474.8" stroke="#35d39c" stroke-width="2.5"/><line x1="1254.6" y1="474.8" x2="1257.8" y2="475.8" stroke="#a9acd6" stroke-width="2.5"/><line x1="1246.3" y1="472.3" x2="1246.2" y2="483.8" stroke="#35d39c" stroke-width="2.5"/><line x1="1246.2" y1="483.8" x2="1246.2" y2="488.3" stroke="#a9acd6" stroke-width="2.5"/><line x1="1246.3" y1="472.3" x2="1251.3" y2="479.9" stroke="#35d39c" stroke-width="2.5"/><line x1="1251.3" y1="479.9" x2="1253.2" y2="482.8" stroke="#a9acd6" stroke-width="2.5"/><line x1="1264.8" y1="469.3" x2="1265.4" y2="457.8" stroke="#35d39c" stroke-width="2.5"/><line x1="1265.4" y1="457.8" x2="1265.6" y2="453.3" stroke="#a9acd6" stroke-width="2.5"/><line x1="1264.8" y1="469.3" x2="1260.3" y2="461.7" stroke="#35d39c" stroke-width="2.5"/><line x1="1260.3" y1="461.7" x2="1258.6" y2="458.8" stroke="#a9acd6" stroke-width="2.5"/><line x1="1264.8" y1="469.3" x2="1267" y2="459.6" stroke="#35d39c" stroke-width="2.5"/><line x1="1267" y1="459.6" x2="1267.8" y2="455.8" stroke="#a9acd6" stroke-width="2.5"/><line x1="1264.8" y1="469.3" x2="1256.5" y2="466.8" stroke="#35d39c" stroke-width="2.5"/><line x1="1256.5" y1="466.8" x2="1253.3" y2="465.8" stroke="#a9acd6" stroke-width="2.5"/><line x1="1264.8" y1="469.3" x2="1256.5" y2="476.1" stroke="#35d39c" stroke-width="2.5"/><line x1="1256.5" y1="476.1" x2="1253.3" y2="478.8" stroke="#a9acd6" stroke-width="2.5"/><line x1="1264.8" y1="469.3" x2="1259.8" y2="464.6" stroke="#35d39c" stroke-width="2.5"/><line x1="1259.8" y1="464.6" x2="1257.8" y2="462.8" stroke="#a9acd6" stroke-width="2.5"/><line x1="1264.8" y1="469.3" x2="1269.8" y2="464.6" stroke="#35d39c" stroke-width="2.5"/><line x1="1269.8" y1="464.6" x2="1271.8" y2="462.8" stroke="#a9acd6" stroke-width="2.5"/><line x1="1264.8" y1="469.3" x2="1259.8" y2="474" stroke="#35d39c" stroke-width="2.5"/><line x1="1259.8" y1="474" x2="1257.8" y2="475.8" stroke="#a9acd6" stroke-width="2.5"/><line x1="1264.8" y1="469.3" x2="1269.8" y2="474" stroke="#35d39c" stroke-width="2.5"/><line x1="1269.8" y1="474" x2="1271.8" y2="475.8" stroke="#a9acd6" stroke-width="2.5"/><line x1="1264.8" y1="469.3" x2="1264.8" y2="460.7" stroke="#35d39c" stroke-width="2.5"/><line x1="1264.8" y1="460.7" x2="1264.8" y2="457.3" stroke="#a9acd6" stroke-width="2.5"/><line x1="1264.8" y1="469.3" x2="1264.8" y2="477.9" stroke="#35d39c" stroke-width="2.5"/><line x1="1264.8" y1="477.9" x2="1264.8" y2="481.3" stroke="#a9acd6" stroke-width="2.5"/><line x1="1264.8" y1="469.3" x2="1271.4" y2="461.9" stroke="#35d39c" stroke-width="2.5"/><line x1="1271.4" y1="461.9" x2="1274" y2="459" stroke="#a9acd6" stroke-width="2.5"/><line x1="1234.7" y1="497.1" x2="1235.2" y2="487.1" stroke="#35d39c" stroke-width="2.5"/><line x1="1235.2" y1="487.1" x2="1235.4" y2="483.2" stroke="#a9acd6" stroke-width="2.5"/><line x1="1234.7" y1="497.1" x2="1229.7" y2="492.4" stroke="#35d39c" stroke-width="2.5"/><line x1="1229.7" y1="492.4" x2="1227.7" y2="490.6" stroke="#a9acd6" stroke-width="2.5"/><line x1="1234.7" y1="497.1" x2="1239.7" y2="492.4" stroke="#35d39c" stroke-width="2.5"/><line x1="1239.7" y1="492.4" x2="1241.7" y2="490.6" stroke="#a9acd6" stroke-width="2.5"/><line x1="1234.7" y1="497.1" x2="1229.7" y2="501.8" stroke="#35d39c" stroke-width="2.5"/><line x1="1229.7" y1="501.8" x2="1227.7" y2="503.6" stroke="#a9acd6" stroke-width="2.5"/><line x1="1234.7" y1="497.1" x2="1239.7" y2="501.8" stroke="#35d39c" stroke-width="2.5"/><line x1="1239.7" y1="501.8" x2="1241.7" y2="503.6" stroke="#a9acd6" stroke-width="2.5"/><line x1="1234.7" y1="497.1" x2="1234.7" y2="505.7" stroke="#35d39c" stroke-width="2.5"/><line x1="1234.7" y1="505.7" x2="1234.7" y2="509.1" stroke="#a9acd6" stroke-width="2.5"/><line x1="1234.7" y1="497.1" x2="1243" y2="490.8" stroke="#35d39c" stroke-width="2.5"/><line x1="1243" y1="490.8" x2="1246.2" y2="488.3" stroke="#a9acd6" stroke-width="2.5"/><line x1="1234.7" y1="497.1" x2="1243" y2="500.1" stroke="#35d39c" stroke-width="2.5"/><line x1="1243" y1="500.1" x2="1246.2" y2="501.3" stroke="#a9acd6" stroke-width="2.5"/><line x1="1234.7" y1="497.1" x2="1233" y2="507.3" stroke="#35d39c" stroke-width="2.5"/><line x1="1233" y1="507.3" x2="1232.3" y2="511.3" stroke="#a9acd6" stroke-width="2.5"/><line x1="1234.7" y1="497.1" x2="1234.6" y2="509.1" stroke="#35d39c" stroke-width="2.5"/><line x1="1234.6" y1="509.1" x2="1234.6" y2="513.8" stroke="#a9acd6" stroke-width="2.5"/><line x1="1234.7" y1="497.1" x2="1239.7" y2="505.2" stroke="#35d39c" stroke-width="2.5"/><line x1="1239.7" y1="505.2" x2="1241.6" y2="508.3" stroke="#a9acd6" stroke-width="2.5"/><line x1="1253.2" y1="494.8" x2="1253.3" y2="483.3" stroke="#35d39c" stroke-width="2.5"/><line x1="1253.3" y1="483.3" x2="1253.3" y2="478.8" stroke="#a9acd6" stroke-width="2.5"/><line x1="1253.2" y1="494.8" x2="1248.2" y2="487.2" stroke="#35d39c" stroke-width="2.5"/><line x1="1248.2" y1="487.2" x2="1246.3" y2="484.3" stroke="#a9acd6" stroke-width="2.5"/><line x1="1253.2" y1="494.8" x2="1244.9" y2="491.8" stroke="#35d39c" stroke-width="2.5"/><line x1="1244.9" y1="491.8" x2="1241.7" y2="490.6" stroke="#a9acd6" stroke-width="2.5"/><line x1="1253.2" y1="494.8" x2="1244.9" y2="501.1" stroke="#35d39c" stroke-width="2.5"/><line x1="1244.9" y1="501.1" x2="1241.7" y2="503.6" stroke="#a9acd6" stroke-width="2.5"/><line x1="1253.2" y1="494.8" x2="1248.2" y2="490.1" stroke="#35d39c" stroke-width="2.5"/><line x1="1248.2" y1="490.1" x2="1246.2" y2="488.3" stroke="#a9acd6" stroke-width="2.5"/><line x1="1253.2" y1="494.8" x2="1258.2" y2="490.1" stroke="#35d39c" stroke-width="2.5"/><line x1="1258.2" y1="490.1" x2="1260.2" y2="488.3" stroke="#a9acd6" stroke-width="2.5"/><line x1="1253.2" y1="494.8" x2="1248.2" y2="499.5" stroke="#35d39c" stroke-width="2.5"/><line x1="1248.2" y1="499.5" x2="1246.2" y2="501.3" stroke="#a9acd6" stroke-width="2.5"/><line x1="1253.2" y1="494.8" x2="1258.2" y2="499.5" stroke="#35d39c" stroke-width="2.5"/><line x1="1258.2" y1="499.5" x2="1260.2" y2="501.3" stroke="#a9acd6" stroke-width="2.5"/><line x1="1253.2" y1="494.8" x2="1253.2" y2="486.2" stroke="#35d39c" stroke-width="2.5"/><line x1="1253.2" y1="486.2" x2="1253.2" y2="482.8" stroke="#a9acd6" stroke-width="2.5"/><line x1="1253.2" y1="494.8" x2="1253.2" y2="503.4" stroke="#35d39c" stroke-width="2.5"/><line x1="1253.2" y1="503.4" x2="1253.2" y2="506.8" stroke="#a9acd6" stroke-width="2.5"/><line x1="1253.2" y1="494.8" x2="1255.9" y2="491.1" stroke="#35d39c" stroke-width="2.5"/><line x1="1255.9" y1="491.1" x2="1256.9" y2="489.7" stroke="#a9acd6" stroke-width="2.5"/><line x1="1253.2" y1="494.8" x2="1255.9" y2="500.5" stroke="#35d39c" stroke-width="2.5"/><line x1="1255.9" y1="500.5" x2="1256.9" y2="502.7" stroke="#a9acd6" stroke-width="2.5"/><line x1="1263.9" y1="496.2" x2="1264.5" y2="485.5" stroke="#35d39c" stroke-width="2.5"/><line x1="1264.5" y1="485.5" x2="1264.8" y2="481.3" stroke="#a9acd6" stroke-width="2.5"/><line x1="1263.9" y1="496.2" x2="1261.2" y2="490.5" stroke="#35d39c" stroke-width="2.5"/><line x1="1261.2" y1="490.5" x2="1260.2" y2="488.3" stroke="#a9acd6" stroke-width="2.5"/><line x1="1263.9" y1="496.2" x2="1261.2" y2="499.9" stroke="#35d39c" stroke-width="2.5"/><line x1="1261.2" y1="499.9" x2="1260.2" y2="501.3" stroke="#a9acd6" stroke-width="2.5"/><line x1="1263.9" y1="496.2" x2="1256.2" y2="503.8" stroke="#35d39c" stroke-width="2.5"/><line x1="1256.2" y1="503.8" x2="1253.2" y2="506.8" stroke="#a9acd6" stroke-width="2.5"/><line x1="1263.9" y1="496.2" x2="1258.9" y2="491.5" stroke="#35d39c" stroke-width="2.5"/><line x1="1258.9" y1="491.5" x2="1256.9" y2="489.7" stroke="#a9acd6" stroke-width="2.5"/><line x1="1263.9" y1="496.2" x2="1268.9" y2="491.5" stroke="#35d39c" stroke-width="2.5"/><line x1="1268.9" y1="491.5" x2="1270.9" y2="489.7" stroke="#a9acd6" stroke-width="2.5"/><line x1="1263.9" y1="496.2" x2="1258.9" y2="500.9" stroke="#35d39c" stroke-width="2.5"/><line x1="1258.9" y1="500.9" x2="1256.9" y2="502.7" stroke="#a9acd6" stroke-width="2.5"/><line x1="1263.9" y1="496.2" x2="1268.9" y2="500.9" stroke="#35d39c" stroke-width="2.5"/><line x1="1268.9" y1="500.9" x2="1270.9" y2="502.7" stroke="#a9acd6" stroke-width="2.5"/><line x1="1263.9" y1="496.2" x2="1263.9" y2="504.8" stroke="#35d39c" stroke-width="2.5"/><line x1="1263.9" y1="504.8" x2="1263.9" y2="508.2" stroke="#a9acd6" stroke-width="2.5"/><line x1="1263.9" y1="496.2" x2="1264.5" y2="507.2" stroke="#35d39c" stroke-width="2.5"/><line x1="1264.5" y1="507.2" x2="1264.8" y2="511.5" stroke="#a9acd6" stroke-width="2.5"/><line x1="1263.9" y1="496.2" x2="1269.6" y2="503.3" stroke="#35d39c" stroke-width="2.5"/><line x1="1269.6" y1="503.3" x2="1271.8" y2="506" stroke="#a9acd6" stroke-width="2.5"/><line x1="1232.3" y1="523.3" x2="1234" y2="513.1" stroke="#35d39c" stroke-width="2.5"/><line x1="1234" y1="513.1" x2="1234.7" y2="509.1" stroke="#a9acd6" stroke-width="2.5"/><line x1="1232.3" y1="523.3" x2="1227.3" y2="518.6" stroke="#35d39c" stroke-width="2.5"/><line x1="1227.3" y1="518.6" x2="1225.3" y2="516.8" stroke="#a9acd6" stroke-width="2.5"/><line x1="1232.3" y1="523.3" x2="1227.3" y2="528" stroke="#35d39c" stroke-width="2.5"/><line x1="1227.3" y1="528" x2="1225.3" y2="529.8" stroke="#a9acd6" stroke-width="2.5"/><line x1="1232.3" y1="523.3" x2="1237.3" y2="528" stroke="#35d39c" stroke-width="2.5"/><line x1="1237.3" y1="528" x2="1239.3" y2="529.8" stroke="#a9acd6" stroke-width="2.5"/><line x1="1232.3" y1="523.3" x2="1232.3" y2="514.7" stroke="#35d39c" stroke-width="2.5"/><line x1="1232.3" y1="514.7" x2="1232.3" y2="511.3" stroke="#a9acd6" stroke-width="2.5"/><line x1="1232.3" y1="523.3" x2="1232.3" y2="531.9" stroke="#35d39c" stroke-width="2.5"/><line x1="1232.3" y1="531.9" x2="1232.3" y2="535.3" stroke="#a9acd6" stroke-width="2.5"/><line x1="1232.3" y1="523.3" x2="1234" y2="516.5" stroke="#35d39c" stroke-width="2.5"/><line x1="1234" y1="516.5" x2="1234.6" y2="513.8" stroke="#a9acd6" stroke-width="2.5"/><line x1="1232.3" y1="523.3" x2="1244" y2="525.8" stroke="#35d39c" stroke-width="2.5"/><line x1="1244" y1="525.8" x2="1248.6" y2="526.8" stroke="#a9acd6" stroke-width="2.5"/><line x1="1232.3" y1="523.3" x2="1239" y2="529.8" stroke="#35d39c" stroke-width="2.5"/><line x1="1239" y1="529.8" x2="1241.6" y2="532.3" stroke="#a9acd6" stroke-width="2.5"/><line x1="1232.3" y1="523.3" x2="1241.2" y2="517" stroke="#35d39c" stroke-width="2.5"/><line x1="1241.2" y1="517" x2="1244.6" y2="514.5" stroke="#a9acd6" stroke-width="2.5"/><line x1="1232.3" y1="523.3" x2="1241.2" y2="526.3" stroke="#35d39c" stroke-width="2.5"/><line x1="1241.2" y1="526.3" x2="1244.6" y2="527.5" stroke="#a9acd6" stroke-width="2.5"/><line x1="1232.3" y1="523.3" x2="1227.8" y2="530.3" stroke="#35d39c" stroke-width="2.5"/><line x1="1227.8" y1="530.3" x2="1226" y2="533" stroke="#a9acd6" stroke-width="2.5"/><line x1="1241.6" y1="520.3" x2="1241.7" y2="508.3" stroke="#35d39c" stroke-width="2.5"/><line x1="1241.7" y1="508.3" x2="1241.7" y2="503.6" stroke="#a9acd6" stroke-width="2.5"/><line x1="1241.6" y1="520.3" x2="1236.6" y2="512.2" stroke="#35d39c" stroke-width="2.5"/><line x1="1236.6" y1="512.2" x2="1234.7" y2="509.1" stroke="#a9acd6" stroke-width="2.5"/><line x1="1241.6" y1="520.3" x2="1229.9" y2="517.8" stroke="#35d39c" stroke-width="2.5"/><line x1="1229.9" y1="517.8" x2="1225.3" y2="516.8" stroke="#a9acd6" stroke-width="2.5"/><line x1="1241.6" y1="520.3" x2="1239.9" y2="527.1" stroke="#35d39c" stroke-width="2.5"/><line x1="1239.9" y1="527.1" x2="1239.3" y2="529.8" stroke="#a9acd6" stroke-width="2.5"/><line x1="1241.6" y1="520.3" x2="1234.9" y2="513.8" stroke="#35d39c" stroke-width="2.5"/><line x1="1234.9" y1="513.8" x2="1232.3" y2="511.3" stroke="#a9acd6" stroke-width="2.5"/><line x1="1241.6" y1="520.3" x2="1236.6" y2="515.6" stroke="#35d39c" stroke-width="2.5"/><line x1="1236.6" y1="515.6" x2="1234.6" y2="513.8" stroke="#a9acd6" stroke-width="2.5"/><line x1="1241.6" y1="520.3" x2="1246.6" y2="515.6" stroke="#35d39c" stroke-width="2.5"/><line x1="1246.6" y1="515.6" x2="1248.6" y2="513.8" stroke="#a9acd6" stroke-width="2.5"/><line x1="1241.6" y1="520.3" x2="1246.6" y2="525" stroke="#35d39c" stroke-width="2.5"/><line x1="1246.6" y1="525" x2="1248.6" y2="526.8" stroke="#a9acd6" stroke-width="2.5"/><line x1="1241.6" y1="520.3" x2="1241.6" y2="511.7" stroke="#35d39c" stroke-width="2.5"/><line x1="1241.6" y1="511.7" x2="1241.6" y2="508.3" stroke="#a9acd6" stroke-width="2.5"/><line x1="1241.6" y1="520.3" x2="1241.6" y2="528.9" stroke="#35d39c" stroke-width="2.5"/><line x1="1241.6" y1="528.9" x2="1241.6" y2="532.3" stroke="#a9acd6" stroke-width="2.5"/><line x1="1241.6" y1="520.3" x2="1243.8" y2="516.1" stroke="#35d39c" stroke-width="2.5"/><line x1="1243.8" y1="516.1" x2="1244.6" y2="514.5" stroke="#a9acd6" stroke-width="2.5"/><line x1="1241.6" y1="520.3" x2="1243.8" y2="525.5" stroke="#35d39c" stroke-width="2.5"/><line x1="1243.8" y1="525.5" x2="1244.6" y2="527.5" stroke="#a9acd6" stroke-width="2.5"/><line x1="1241.6" y1="520.3" x2="1248.8" y2="529.4" stroke="#35d39c" stroke-width="2.5"/><line x1="1248.8" y1="529.4" x2="1251.6" y2="533" stroke="#a9acd6" stroke-width="2.5"/><line x1="1241.6" y1="520.3" x2="1251.2" y2="516.6" stroke="#35d39c" stroke-width="2.5"/><line x1="1251.2" y1="516.6" x2="1255" y2="515.2" stroke="#a9acd6" stroke-width="2.5"/><line x1="1241.6" y1="520.3" x2="1251.2" y2="526" stroke="#35d39c" stroke-width="2.5"/><line x1="1251.2" y1="526" x2="1255" y2="528.2" stroke="#a9acd6" stroke-width="2.5"/><line x1="1251.6" y1="521" x2="1252.8" y2="510.8" stroke="#35d39c" stroke-width="2.5"/><line x1="1252.8" y1="510.8" x2="1253.2" y2="506.8" stroke="#a9acd6" stroke-width="2.5"/><line x1="1251.6" y1="521" x2="1242.7" y2="527.3" stroke="#35d39c" stroke-width="2.5"/><line x1="1242.7" y1="527.3" x2="1239.3" y2="529.8" stroke="#a9acd6" stroke-width="2.5"/><line x1="1251.6" y1="521" x2="1249.4" y2="515.8" stroke="#35d39c" stroke-width="2.5"/><line x1="1249.4" y1="515.8" x2="1248.6" y2="513.8" stroke="#a9acd6" stroke-width="2.5"/><line x1="1251.6" y1="521" x2="1249.4" y2="525.2" stroke="#35d39c" stroke-width="2.5"/><line x1="1249.4" y1="525.2" x2="1248.6" y2="526.8" stroke="#a9acd6" stroke-width="2.5"/><line x1="1251.6" y1="521" x2="1244.4" y2="511.9" stroke="#35d39c" stroke-width="2.5"/><line x1="1244.4" y1="511.9" x2="1241.6" y2="508.3" stroke="#a9acd6" stroke-width="2.5"/><line x1="1251.6" y1="521" x2="1244.4" y2="529.1" stroke="#35d39c" stroke-width="2.5"/><line x1="1244.4" y1="529.1" x2="1241.6" y2="532.3" stroke="#a9acd6" stroke-width="2.5"/><line x1="1251.6" y1="521" x2="1246.6" y2="516.3" stroke="#35d39c" stroke-width="2.5"/><line x1="1246.6" y1="516.3" x2="1244.6" y2="514.5" stroke="#a9acd6" stroke-width="2.5"/><line x1="1251.6" y1="521" x2="1256.6" y2="516.3" stroke="#35d39c" stroke-width="2.5"/><line x1="1256.6" y1="516.3" x2="1258.6" y2="514.5" stroke="#a9acd6" stroke-width="2.5"/><line x1="1251.6" y1="521" x2="1246.6" y2="525.7" stroke="#35d39c" stroke-width="2.5"/><line x1="1246.6" y1="525.7" x2="1244.6" y2="527.5" stroke="#a9acd6" stroke-width="2.5"/><line x1="1251.6" y1="521" x2="1256.6" y2="525.7" stroke="#35d39c" stroke-width="2.5"/><line x1="1256.6" y1="525.7" x2="1258.6" y2="527.5" stroke="#a9acd6" stroke-width="2.5"/><line x1="1251.6" y1="521" x2="1251.6" y2="529.6" stroke="#35d39c" stroke-width="2.5"/><line x1="1251.6" y1="529.6" x2="1251.6" y2="533" stroke="#a9acd6" stroke-width="2.5"/><line x1="1251.6" y1="521" x2="1254" y2="516.8" stroke="#35d39c" stroke-width="2.5"/><line x1="1254" y1="516.8" x2="1255" y2="515.2" stroke="#a9acd6" stroke-width="2.5"/><line x1="1251.6" y1="521" x2="1254" y2="526.2" stroke="#35d39c" stroke-width="2.5"/><line x1="1254" y1="526.2" x2="1255" y2="528.2" stroke="#a9acd6" stroke-width="2.5"/><line x1="1251.6" y1="521" x2="1259.1" y2="530.1" stroke="#35d39c" stroke-width="2.5"/><line x1="1259.1" y1="530.1" x2="1262" y2="533.7" stroke="#a9acd6" stroke-width="2.5"/><line x1="1251.6" y1="521" x2="1261.1" y2="514.2" stroke="#35d39c" stroke-width="2.5"/><line x1="1261.1" y1="514.2" x2="1264.8" y2="511.5" stroke="#a9acd6" stroke-width="2.5"/><line x1="1262" y1="521.7" x2="1263.4" y2="512" stroke="#35d39c" stroke-width="2.5"/><line x1="1263.4" y1="512" x2="1263.9" y2="508.2" stroke="#a9acd6" stroke-width="2.5"/><line x1="1262" y1="521.7" x2="1252.4" y2="516" stroke="#35d39c" stroke-width="2.5"/><line x1="1252.4" y1="516" x2="1248.6" y2="513.8" stroke="#a9acd6" stroke-width="2.5"/><line x1="1262" y1="521.7" x2="1252.4" y2="525.4" stroke="#35d39c" stroke-width="2.5"/><line x1="1252.4" y1="525.4" x2="1248.6" y2="526.8" stroke="#a9acd6" stroke-width="2.5"/><line x1="1262" y1="521.7" x2="1259.6" y2="516.5" stroke="#35d39c" stroke-width="2.5"/><line x1="1259.6" y1="516.5" x2="1258.6" y2="514.5" stroke="#a9acd6" stroke-width="2.5"/><line x1="1262" y1="521.7" x2="1259.6" y2="525.9" stroke="#35d39c" stroke-width="2.5"/><line x1="1259.6" y1="525.9" x2="1258.6" y2="527.5" stroke="#a9acd6" stroke-width="2.5"/><line x1="1262" y1="521.7" x2="1254.5" y2="529.8" stroke="#35d39c" stroke-width="2.5"/><line x1="1254.5" y1="529.8" x2="1251.6" y2="533" stroke="#a9acd6" stroke-width="2.5"/><line x1="1262" y1="521.7" x2="1257" y2="517" stroke="#35d39c" stroke-width="2.5"/><line x1="1257" y1="517" x2="1255" y2="515.2" stroke="#a9acd6" stroke-width="2.5"/><line x1="1262" y1="521.7" x2="1257" y2="526.4" stroke="#35d39c" stroke-width="2.5"/><line x1="1257" y1="526.4" x2="1255" y2="528.2" stroke="#a9acd6" stroke-width="2.5"/><line x1="1262" y1="521.7" x2="1267" y2="526.4" stroke="#35d39c" stroke-width="2.5"/><line x1="1267" y1="526.4" x2="1269" y2="528.2" stroke="#a9acd6" stroke-width="2.5"/><line x1="1262" y1="521.7" x2="1262" y2="530.3" stroke="#35d39c" stroke-width="2.5"/><line x1="1262" y1="530.3" x2="1262" y2="533.7" stroke="#a9acd6" stroke-width="2.5"/><line x1="1262" y1="521.7" x2="1264" y2="514.4" stroke="#35d39c" stroke-width="2.5"/><line x1="1264" y1="514.4" x2="1264.8" y2="511.5" stroke="#a9acd6" stroke-width="2.5"/><line x1="1262" y1="521.7" x2="1269.1" y2="527.7" stroke="#35d39c" stroke-width="2.5"/><line x1="1269.1" y1="527.7" x2="1271.8" y2="530" stroke="#a9acd6" stroke-width="2.5"/><line x1="1271.8" y1="518" x2="1271.2" y2="507" stroke="#35d39c" stroke-width="2.5"/><line x1="1271.2" y1="507" x2="1270.9" y2="502.7" stroke="#a9acd6" stroke-width="2.5"/><line x1="1271.8" y1="518" x2="1266.1" y2="510.9" stroke="#35d39c" stroke-width="2.5"/><line x1="1266.1" y1="510.9" x2="1263.9" y2="508.2" stroke="#a9acd6" stroke-width="2.5"/><line x1="1271.8" y1="518" x2="1262.3" y2="515.5" stroke="#35d39c" stroke-width="2.5"/><line x1="1262.3" y1="515.5" x2="1258.6" y2="514.5" stroke="#a9acd6" stroke-width="2.5"/><line x1="1271.8" y1="518" x2="1262.3" y2="524.8" stroke="#35d39c" stroke-width="2.5"/><line x1="1262.3" y1="524.8" x2="1258.6" y2="527.5" stroke="#a9acd6" stroke-width="2.5"/><line x1="1271.8" y1="518" x2="1269.8" y2="525.3" stroke="#35d39c" stroke-width="2.5"/><line x1="1269.8" y1="525.3" x2="1269" y2="528.2" stroke="#a9acd6" stroke-width="2.5"/><line x1="1271.8" y1="518" x2="1266.8" y2="513.3" stroke="#35d39c" stroke-width="2.5"/><line x1="1266.8" y1="513.3" x2="1264.8" y2="511.5" stroke="#a9acd6" stroke-width="2.5"/><line x1="1271.8" y1="518" x2="1276.8" y2="513.3" stroke="#35d39c" stroke-width="2.5"/><line x1="1276.8" y1="513.3" x2="1278.8" y2="511.5" stroke="#a9acd6" stroke-width="2.5"/><line x1="1271.8" y1="518" x2="1276.8" y2="522.7" stroke="#35d39c" stroke-width="2.5"/><line x1="1276.8" y1="522.7" x2="1278.8" y2="524.5" stroke="#a9acd6" stroke-width="2.5"/><line x1="1271.8" y1="518" x2="1271.8" y2="509.4" stroke="#35d39c" stroke-width="2.5"/><line x1="1271.8" y1="509.4" x2="1271.8" y2="506" stroke="#a9acd6" stroke-width="2.5"/><line x1="1271.8" y1="518" x2="1271.8" y2="526.6" stroke="#35d39c" stroke-width="2.5"/><line x1="1271.8" y1="526.6" x2="1271.8" y2="530" stroke="#a9acd6" stroke-width="2.5"/><line x1="1271.8" y1="518" x2="1275.5" y2="529.5" stroke="#35d39c" stroke-width="2.5"/><line x1="1275.5" y1="529.5" x2="1277" y2="534" stroke="#a9acd6" stroke-width="2.5"/><line x1="1250" y1="545.8" x2="1244" y2="536.1" stroke="#35d39c" stroke-width="2.5"/><line x1="1244" y1="536.1" x2="1241.6" y2="532.3" stroke="#a9acd6" stroke-width="2.5"/><line x1="1250" y1="545.8" x2="1251.2" y2="536.6" stroke="#35d39c" stroke-width="2.5"/><line x1="1251.2" y1="536.6" x2="1251.6" y2="533" stroke="#a9acd6" stroke-width="2.5"/><line x1="1250" y1="545.8" x2="1245" y2="541.1" stroke="#35d39c" stroke-width="2.5"/><line x1="1245" y1="541.1" x2="1243" y2="539.3" stroke="#a9acd6" stroke-width="2.5"/><line x1="1250" y1="545.8" x2="1255" y2="541.1" stroke="#35d39c" stroke-width="2.5"/><line x1="1255" y1="541.1" x2="1257" y2="539.3" stroke="#a9acd6" stroke-width="2.5"/><line x1="1250" y1="545.8" x2="1245" y2="550.5" stroke="#35d39c" stroke-width="2.5"/><line x1="1245" y1="550.5" x2="1243" y2="552.3" stroke="#a9acd6" stroke-width="2.5"/><line x1="1250" y1="545.8" x2="1255" y2="550.5" stroke="#35d39c" stroke-width="2.5"/><line x1="1255" y1="550.5" x2="1257" y2="552.3" stroke="#a9acd6" stroke-width="2.5"/><line x1="1250" y1="545.8" x2="1250" y2="554.4" stroke="#35d39c" stroke-width="2.5"/><line x1="1250" y1="554.4" x2="1250" y2="557.8" stroke="#a9acd6" stroke-width="2.5"/><line x1="1250.4" y1="432.1" x2="1247.7" y2="434.1" stroke="#a9acd6" stroke-width="1"/><line x1="1221.4" y1="455.6" x2="1222" y2="459" stroke="#a9acd6" stroke-width="1"/><line x1="1235.4" y1="455.6" x2="1240.7" y2="452.6" stroke="#a9acd6" stroke-width="1"/><line x1="1235.4" y1="455.6" x2="1235.4" y2="459.2" stroke="#a9acd6" stroke-width="1"/><line x1="1228.4" y1="461.1" x2="1228.4" y2="464.7" stroke="#a9acd6" stroke-width="1"/><line x1="1244.7" y1="439.2" x2="1240.7" y2="439.6" stroke="#a9acd6" stroke-width="1"/><line x1="1244.7" y1="439.2" x2="1247.7" y2="434.1" stroke="#a9acd6" stroke-width="1"/><line x1="1244.7" y1="452.2" x2="1240.7" y2="452.6" stroke="#a9acd6" stroke-width="1"/><line x1="1254.7" y1="439.6" x2="1258.6" y2="434.8" stroke="#a9acd6" stroke-width="1"/><line x1="1265.6" y1="453.3" x2="1267.8" y2="455.8" stroke="#a9acd6" stroke-width="1"/><line x1="1265.6" y1="453.3" x2="1264.8" y2="457.3" stroke="#a9acd6" stroke-width="1"/><line x1="1258.6" y1="434.8" x2="1260.8" y2="437.3" stroke="#a9acd6" stroke-width="1"/><line x1="1258.6" y1="458.8" x2="1257.8" y2="462.8" stroke="#a9acd6" stroke-width="1"/><line x1="1258.6" y1="458.8" x2="1264.8" y2="457.3" stroke="#a9acd6" stroke-width="1"/><line x1="1274.8" y1="437.3" x2="1276" y2="433" stroke="#a9acd6" stroke-width="1"/><line x1="1267.8" y1="455.8" x2="1264.8" y2="457.3" stroke="#a9acd6" stroke-width="1"/><line x1="1242.4" y1="464.7" x2="1239.3" y2="465.8" stroke="#a9acd6" stroke-width="1"/><line x1="1242.4" y1="477.7" x2="1239.3" y2="478.8" stroke="#a9acd6" stroke-width="1"/><line x1="1235.4" y1="483.2" x2="1239.3" y2="478.8" stroke="#a9acd6" stroke-width="1"/><line x1="1253.3" y1="465.8" x2="1257.8" y2="462.8" stroke="#a9acd6" stroke-width="1"/><line x1="1253.3" y1="478.8" x2="1257.8" y2="475.8" stroke="#a9acd6" stroke-width="1"/><line x1="1253.3" y1="478.8" x2="1253.2" y2="482.8" stroke="#a9acd6" stroke-width="1"/><line x1="1246.3" y1="484.3" x2="1246.2" y2="488.3" stroke="#a9acd6" stroke-width="1"/><line x1="1271.8" y1="462.8" x2="1274" y2="459" stroke="#a9acd6" stroke-width="1"/><line x1="1241.7" y1="490.6" x2="1246.2" y2="488.3" stroke="#a9acd6" stroke-width="1"/><line x1="1241.7" y1="503.6" x2="1246.2" y2="501.3" stroke="#a9acd6" stroke-width="1"/><line x1="1241.7" y1="503.6" x2="1241.6" y2="508.3" stroke="#a9acd6" stroke-width="1"/><line x1="1234.7" y1="509.1" x2="1232.3" y2="511.3" stroke="#a9acd6" stroke-width="1"/><line x1="1234.7" y1="509.1" x2="1234.6" y2="513.8" stroke="#a9acd6" stroke-width="1"/><line x1="1260.2" y1="488.3" x2="1256.9" y2="489.7" stroke="#a9acd6" stroke-width="1"/><line x1="1260.2" y1="501.3" x2="1256.9" y2="502.7" stroke="#a9acd6" stroke-width="1"/><line x1="1253.2" y1="506.8" x2="1256.9" y2="502.7" stroke="#a9acd6" stroke-width="1"/><line x1="1270.9" y1="502.7" x2="1271.8" y2="506" stroke="#a9acd6" stroke-width="1"/><line x1="1263.9" y1="508.2" x2="1264.8" y2="511.5" stroke="#a9acd6" stroke-width="1"/><line x1="1225.3" y1="529.8" x2="1226" y2="533" stroke="#a9acd6" stroke-width="1"/><line x1="1239.3" y1="529.8" x2="1241.6" y2="532.3" stroke="#a9acd6" stroke-width="1"/><line x1="1239.3" y1="529.8" x2="1244.6" y2="527.5" stroke="#a9acd6" stroke-width="1"/><line x1="1232.3" y1="511.3" x2="1234.6" y2="513.8" stroke="#a9acd6" stroke-width="1"/><line x1="1248.6" y1="513.8" x2="1244.6" y2="514.5" stroke="#a9acd6" stroke-width="1"/><line x1="1248.6" y1="526.8" x2="1244.6" y2="527.5" stroke="#a9acd6" stroke-width="1"/><line x1="1241.6" y1="532.3" x2="1244.6" y2="527.5" stroke="#a9acd6" stroke-width="1"/><line x1="1258.6" y1="514.5" x2="1255" y2="515.2" stroke="#a9acd6" stroke-width="1"/><line x1="1258.6" y1="527.5" x2="1255" y2="528.2" stroke="#a9acd6" stroke-width="1"/><line x1="1251.6" y1="533" x2="1255" y2="528.2" stroke="#a9acd6" stroke-width="1"/><line x1="1269" y1="528.2" x2="1271.8" y2="530" stroke="#a9acd6" stroke-width="1"/><circle cx="1243.4" cy="413.6" r="2.2" fill="#c9cbe6" stroke="#868bc0" stroke-width="1"/><circle cx="1257.4" cy="413.6" r="2.2" fill="#c9cbe6" stroke="#868bc0" stroke-width="1"/><circle cx="1243.4" cy="426.6" r="2.2" fill="#c9cbe6" stroke="#868bc0" stroke-width="1"/><circle cx="1257.4" cy="426.6" r="2.2" fill="#c9cbe6" stroke="#868bc0" stroke-width="1"/><circle cx="1250.4" cy="408.1" r="2.2" fill="#c9cbe6" stroke="#868bc0" stroke-width="1"/><circle cx="1250.4" cy="432.1" r="2.2" fill="#c9cbe6" stroke="#868bc0" stroke-width="1"/><circle cx="1221.4" cy="442.6" r="2.2" fill="#c9cbe6" stroke="#868bc0" stroke-width="1"/><circle cx="1221.4" cy="455.6" r="2.2" fill="#c9cbe6" stroke="#868bc0" stroke-width="1"/><circle cx="1235.4" cy="455.6" r="2.2" fill="#c9cbe6" stroke="#868bc0" stroke-width="1"/><circle cx="1228.4" cy="437.1" r="2.2" fill="#c9cbe6" stroke="#868bc0" stroke-width="1"/><circle cx="1228.4" cy="461.1" r="2.2" fill="#c9cbe6" stroke="#868bc0" stroke-width="1"/><circle cx="1244.7" cy="439.2" r="2.2" fill="#c9cbe6" stroke="#868bc0" stroke-width="1"/><circle cx="1244.7" cy="452.2" r="2.2" fill="#c9cbe6" stroke="#868bc0" stroke-width="1"/><circle cx="1237.7" cy="433.7" r="2.2" fill="#c9cbe6" stroke="#868bc0" stroke-width="1"/><circle cx="1240.7" cy="439.6" r="2.2" fill="#c9cbe6" stroke="#868bc0" stroke-width="1"/><circle cx="1254.7" cy="439.6" r="2.2" fill="#c9cbe6" stroke="#868bc0" stroke-width="1"/><circle cx="1240.7" cy="452.6" r="2.2" fill="#c9cbe6" stroke="#868bc0" stroke-width="1"/><circle cx="1254.7" cy="452.6" r="2.2" fill="#c9cbe6" stroke="#868bc0" stroke-width="1"/><circle cx="1247.7" cy="434.1" r="2.2" fill="#c9cbe6" stroke="#868bc0" stroke-width="1"/><circle cx="1247.7" cy="458.1" r="2.2" fill="#c9cbe6" stroke="#868bc0" stroke-width="1"/><circle cx="1265.6" cy="453.3" r="2.2" fill="#c9cbe6" stroke="#868bc0" stroke-width="1"/><circle cx="1258.6" cy="434.8" r="2.2" fill="#c9cbe6" stroke="#868bc0" stroke-width="1"/><circle cx="1258.6" cy="458.8" r="2.2" fill="#c9cbe6" stroke="#868bc0" stroke-width="1"/><circle cx="1260.8" cy="437.3" r="2.2" fill="#c9cbe6" stroke="#868bc0" stroke-width="1"/><circle cx="1274.8" cy="437.3" r="2.2" fill="#c9cbe6" stroke="#868bc0" stroke-width="1"/><circle cx="1274.8" cy="450.3" r="2.2" fill="#c9cbe6" stroke="#868bc0" stroke-width="1"/><circle cx="1267.8" cy="431.8" r="2.2" fill="#c9cbe6" stroke="#868bc0" stroke-width="1"/><circle cx="1267.8" cy="455.8" r="2.2" fill="#c9cbe6" stroke="#868bc0" stroke-width="1"/><circle cx="1228.4" cy="464.7" r="2.2" fill="#c9cbe6" stroke="#868bc0" stroke-width="1"/><circle cx="1242.4" cy="464.7" r="2.2" fill="#c9cbe6" stroke="#868bc0" stroke-width="1"/><circle cx="1228.4" cy="477.7" r="2.2" fill="#c9cbe6" stroke="#868bc0" stroke-width="1"/><circle cx="1242.4" cy="477.7" r="2.2" fill="#c9cbe6" stroke="#868bc0" stroke-width="1"/><circle cx="1235.4" cy="459.2" r="2.2" fill="#c9cbe6" stroke="#868bc0" stroke-width="1"/><circle cx="1235.4" cy="483.2" r="2.2" fill="#c9cbe6" stroke="#868bc0" stroke-width="1"/><circle cx="1239.3" cy="465.8" r="2.2" fill="#c9cbe6" stroke="#868bc0" stroke-width="1"/><circle cx="1253.3" cy="465.8" r="2.2" fill="#c9cbe6" stroke="#868bc0" stroke-width="1"/><circle cx="1239.3" cy="478.8" r="2.2" fill="#c9cbe6" stroke="#868bc0" stroke-width="1"/><circle cx="1253.3" cy="478.8" r="2.2" fill="#c9cbe6" stroke="#868bc0" stroke-width="1"/><circle cx="1246.3" cy="484.3" r="2.2" fill="#c9cbe6" stroke="#868bc0" stroke-width="1"/><circle cx="1257.8" cy="462.8" r="2.2" fill="#c9cbe6" stroke="#868bc0" stroke-width="1"/><circle cx="1271.8" cy="462.8" r="2.2" fill="#c9cbe6" stroke="#868bc0" stroke-width="1"/><circle cx="1257.8" cy="475.8" r="2.2" fill="#c9cbe6" stroke="#868bc0" stroke-width="1"/><circle cx="1271.8" cy="475.8" r="2.2" fill="#c9cbe6" stroke="#868bc0" stroke-width="1"/><circle cx="1264.8" cy="457.3" r="2.2" fill="#c9cbe6" stroke="#868bc0" stroke-width="1"/><circle cx="1264.8" cy="481.3" r="2.2" fill="#c9cbe6" stroke="#868bc0" stroke-width="1"/><circle cx="1227.7" cy="490.6" r="2.2" fill="#c9cbe6" stroke="#868bc0" stroke-width="1"/><circle cx="1241.7" cy="490.6" r="2.2" fill="#c9cbe6" stroke="#868bc0" stroke-width="1"/><circle cx="1227.7" cy="503.6" r="2.2" fill="#c9cbe6" stroke="#868bc0" stroke-width="1"/><circle cx="1241.7" cy="503.6" r="2.2" fill="#c9cbe6" stroke="#868bc0" stroke-width="1"/><circle cx="1234.7" cy="509.1" r="2.2" fill="#c9cbe6" stroke="#868bc0" stroke-width="1"/><circle cx="1246.2" cy="488.3" r="2.2" fill="#c9cbe6" stroke="#868bc0" stroke-width="1"/><circle cx="1260.2" cy="488.3" r="2.2" fill="#c9cbe6" stroke="#868bc0" stroke-width="1"/><circle cx="1246.2" cy="501.3" r="2.2" fill="#c9cbe6" stroke="#868bc0" stroke-width="1"/><circle cx="1260.2" cy="501.3" r="2.2" fill="#c9cbe6" stroke="#868bc0" stroke-width="1"/><circle cx="1253.2" cy="482.8" r="2.2" fill="#c9cbe6" stroke="#868bc0" stroke-width="1"/><circle cx="1253.2" cy="506.8" r="2.2" fill="#c9cbe6" stroke="#868bc0" stroke-width="1"/><circle cx="1256.9" cy="489.7" r="2.2" fill="#c9cbe6" stroke="#868bc0" stroke-width="1"/><circle cx="1270.9" cy="489.7" r="2.2" fill="#c9cbe6" stroke="#868bc0" stroke-width="1"/><circle cx="1256.9" cy="502.7" r="2.2" fill="#c9cbe6" stroke="#868bc0" stroke-width="1"/><circle cx="1270.9" cy="502.7" r="2.2" fill="#c9cbe6" stroke="#868bc0" stroke-width="1"/><circle cx="1263.9" cy="508.2" r="2.2" fill="#c9cbe6" stroke="#868bc0" stroke-width="1"/><circle cx="1225.3" cy="516.8" r="2.2" fill="#c9cbe6" stroke="#868bc0" stroke-width="1"/><circle cx="1225.3" cy="529.8" r="2.2" fill="#c9cbe6" stroke="#868bc0" stroke-width="1"/><circle cx="1239.3" cy="529.8" r="2.2" fill="#c9cbe6" stroke="#868bc0" stroke-width="1"/><circle cx="1232.3" cy="511.3" r="2.2" fill="#c9cbe6" stroke="#868bc0" stroke-width="1"/><circle cx="1232.3" cy="535.3" r="2.2" fill="#c9cbe6" stroke="#868bc0" stroke-width="1"/><circle cx="1234.6" cy="513.8" r="2.2" fill="#c9cbe6" stroke="#868bc0" stroke-width="1"/><circle cx="1248.6" cy="513.8" r="2.2" fill="#c9cbe6" stroke="#868bc0" stroke-width="1"/><circle cx="1248.6" cy="526.8" r="2.2" fill="#c9cbe6" stroke="#868bc0" stroke-width="1"/><circle cx="1241.6" cy="508.3" r="2.2" fill="#c9cbe6" stroke="#868bc0" stroke-width="1"/><circle cx="1241.6" cy="532.3" r="2.2" fill="#c9cbe6" stroke="#868bc0" stroke-width="1"/><circle cx="1244.6" cy="514.5" r="2.2" fill="#c9cbe6" stroke="#868bc0" stroke-width="1"/><circle cx="1258.6" cy="514.5" r="2.2" fill="#c9cbe6" stroke="#868bc0" stroke-width="1"/><circle cx="1244.6" cy="527.5" r="2.2" fill="#c9cbe6" stroke="#868bc0" stroke-width="1"/><circle cx="1258.6" cy="527.5" r="2.2" fill="#c9cbe6" stroke="#868bc0" stroke-width="1"/><circle cx="1251.6" cy="533" r="2.2" fill="#c9cbe6" stroke="#868bc0" stroke-width="1"/><circle cx="1255" cy="515.2" r="2.2" fill="#c9cbe6" stroke="#868bc0" stroke-width="1"/><circle cx="1255" cy="528.2" r="2.2" fill="#c9cbe6" stroke="#868bc0" stroke-width="1"/><circle cx="1269" cy="528.2" r="2.2" fill="#c9cbe6" stroke="#868bc0" stroke-width="1"/><circle cx="1262" cy="533.7" r="2.2" fill="#c9cbe6" stroke="#868bc0" stroke-width="1"/><circle cx="1264.8" cy="511.5" r="2.2" fill="#c9cbe6" stroke="#868bc0" stroke-width="1"/><circle cx="1278.8" cy="511.5" r="2.2" fill="#c9cbe6" stroke="#868bc0" stroke-width="1"/><circle cx="1278.8" cy="524.5" r="2.2" fill="#c9cbe6" stroke="#868bc0" stroke-width="1"/><circle cx="1271.8" cy="506" r="2.2" fill="#c9cbe6" stroke="#868bc0" stroke-width="1"/><circle cx="1271.8" cy="530" r="2.2" fill="#c9cbe6" stroke="#868bc0" stroke-width="1"/><circle cx="1243" cy="539.3" r="2.2" fill="#c9cbe6" stroke="#868bc0" stroke-width="1"/><circle cx="1257" cy="539.3" r="2.2" fill="#c9cbe6" stroke="#868bc0" stroke-width="1"/><circle cx="1243" cy="552.3" r="2.2" fill="#c9cbe6" stroke="#868bc0" stroke-width="1"/><circle cx="1257" cy="552.3" r="2.2" fill="#c9cbe6" stroke="#868bc0" stroke-width="1"/><circle cx="1250" cy="557.8" r="2.2" fill="#c9cbe6" stroke="#868bc0" stroke-width="1"/><circle cx="1213.8" cy="436.2" r="2.2" fill="#c9cbe6" stroke="#868bc0" stroke-width="1"/><circle cx="1212.8" cy="461.7" r="2.2" fill="#c9cbe6" stroke="#868bc0" stroke-width="1"/><circle cx="1216" cy="511.7" r="2.2" fill="#c9cbe6" stroke="#868bc0" stroke-width="1"/><circle cx="1216" cy="536.2" r="2.2" fill="#c9cbe6" stroke="#868bc0" stroke-width="1"/><circle cx="1234" cy="408.5" r="2.2" fill="#c9cbe6" stroke="#868bc0" stroke-width="1"/><circle cx="1263.8" cy="405.3" r="2.2" fill="#c9cbe6" stroke="#868bc0" stroke-width="1"/><circle cx="1283" cy="429.8" r="2.2" fill="#c9cbe6" stroke="#868bc0" stroke-width="1"/><circle cx="1282" cy="456.4" r="2.2" fill="#c9cbe6" stroke="#868bc0" stroke-width="1"/><circle cx="1287.2" cy="504.3" r="2.2" fill="#c9cbe6" stroke="#868bc0" stroke-width="1"/><circle cx="1285.1" cy="530" r="2.2" fill="#c9cbe6" stroke="#868bc0" stroke-width="1"/><circle cx="1234.5" cy="559.6" r="2.2" fill="#c9cbe6" stroke="#868bc0" stroke-width="1"/><circle cx="1263.8" cy="558.5" r="2.2" fill="#c9cbe6" stroke="#868bc0" stroke-width="1"/><circle cx="1224" cy="432" r="2.2" fill="#c9cbe6" stroke="#868bc0" stroke-width="1"/><circle cx="1222" cy="459" r="2.2" fill="#c9cbe6" stroke="#868bc0" stroke-width="1"/><circle cx="1226" cy="533" r="2.2" fill="#c9cbe6" stroke="#868bc0" stroke-width="1"/><circle cx="1276" cy="433" r="2.2" fill="#c9cbe6" stroke="#868bc0" stroke-width="1"/><circle cx="1274" cy="459" r="2.2" fill="#c9cbe6" stroke="#868bc0" stroke-width="1"/><circle cx="1277" cy="534" r="2.2" fill="#c9cbe6" stroke="#868bc0" stroke-width="1"/><circle cx="1250.4" cy="420.1" r="6.3" fill="url(#sLu)"/><circle cx="1228.4" cy="449.1" r="6.3" fill="url(#sLu)"/><circle cx="1237.7" cy="445.7" r="6.3" fill="url(#sLu)"/><circle cx="1247.7" cy="446.1" r="6.3" fill="url(#sLu)"/><circle cx="1258.6" cy="446.8" r="6.3" fill="url(#sLu)"/><circle cx="1267.8" cy="443.8" r="6.3" fill="url(#sLu)"/><circle cx="1235.4" cy="471.2" r="6.3" fill="url(#sLu)"/><circle cx="1246.3" cy="472.3" r="6.3" fill="url(#sLu)"/><circle cx="1264.8" cy="469.3" r="6.3" fill="url(#sLu)"/><circle cx="1234.7" cy="497.1" r="6.3" fill="url(#sLu)"/><circle cx="1253.2" cy="494.8" r="6.3" fill="url(#sLu)"/><circle cx="1263.9" cy="496.2" r="6.3" fill="url(#sLu)"/><circle cx="1232.3" cy="523.3" r="6.3" fill="url(#sLu)"/><circle cx="1241.6" cy="520.3" r="6.3" fill="url(#sLu)"/><circle cx="1251.6" cy="521" r="6.3" fill="url(#sLu)"/><circle cx="1262" cy="521.7" r="6.3" fill="url(#sLu)"/><circle cx="1271.8" cy="518" r="6.3" fill="url(#sLu)"/><circle cx="1250" cy="545.8" r="6.3" fill="url(#sLu)"/><line x1="675.7" y1="676.5" x2="737.1" y2="676.5" stroke="#333" stroke-width="0.8"/><line x1="675.7" y1="676.5" x2="656.4" y2="695.3" stroke="#333" stroke-width="0.8"/><line x1="675.7" y1="676.5" x2="695" y2="746.1" stroke="#333" stroke-width="0.8"/><line x1="695" y1="746.1" x2="756.4" y2="746.1" stroke="#333" stroke-width="0.8"/><line x1="695" y1="746.1" x2="675.7" y2="764.9" stroke="#333" stroke-width="0.8"/><line x1="656.4" y1="695.3" x2="717.8" y2="695.3" stroke="#333" stroke-width="0.8"/><line x1="656.4" y1="695.3" x2="675.7" y2="764.9" stroke="#333" stroke-width="0.8"/><line x1="675.7" y1="764.9" x2="737.1" y2="764.9" stroke="#333" stroke-width="0.8"/><line x1="737.1" y1="676.5" x2="717.8" y2="695.3" stroke="#333" stroke-width="0.8"/><line x1="737.1" y1="676.5" x2="756.4" y2="746.1" stroke="#333" stroke-width="0.8"/><line x1="756.4" y1="746.1" x2="737.1" y2="764.9" stroke="#333" stroke-width="0.8"/><line x1="717.8" y1="695.3" x2="737.1" y2="764.9" stroke="#333" stroke-width="0.8"/><line x1="668.7" y1="692.6" x2="679.2" y2="695.4" stroke="#35d39c" stroke-width="2.6"/><line x1="679.2" y1="695.4" x2="684.6" y2="696.8" stroke="#eec6cb" stroke-width="2.6"/><line x1="668.7" y1="692.6" x2="672.4" y2="701.2" stroke="#35d39c" stroke-width="2.6"/><line x1="672.4" y1="701.2" x2="674.3" y2="705.6" stroke="#eec6cb" stroke-width="2.6"/><line x1="668.7" y1="692.6" x2="659" y2="698.3" stroke="#35d39c" stroke-width="2.6"/><line x1="659" y1="698.3" x2="654.1" y2="701.2" stroke="#eec6cb" stroke-width="2.6"/><line x1="668.7" y1="692.6" x2="659.5" y2="692.1" stroke="#35d39c" stroke-width="2.6"/><line x1="659.5" y1="692.1" x2="654.7" y2="691.8" stroke="#eec6cb" stroke-width="2.6"/><line x1="668.7" y1="692.6" x2="663.9" y2="684.7" stroke="#35d39c" stroke-width="2.6"/><line x1="663.9" y1="684.7" x2="661.5" y2="680.6" stroke="#eec6cb" stroke-width="2.6"/><line x1="668.7" y1="692.6" x2="673.9" y2="684.8" stroke="#35d39c" stroke-width="2.6"/><line x1="673.9" y1="684.8" x2="676.5" y2="680.8" stroke="#eec6cb" stroke-width="2.6"/><line x1="695.6" y1="688.2" x2="704.6" y2="691.1" stroke="#35d39c" stroke-width="2.6"/><line x1="704.6" y1="691.1" x2="709.2" y2="692.5" stroke="#eec6cb" stroke-width="2.6"/><line x1="695.6" y1="688.2" x2="697.4" y2="697.5" stroke="#35d39c" stroke-width="2.6"/><line x1="697.4" y1="697.5" x2="698.3" y2="702.4" stroke="#eec6cb" stroke-width="2.6"/><line x1="695.6" y1="688.2" x2="690.3" y2="696.3" stroke="#35d39c" stroke-width="2.6"/><line x1="690.3" y1="696.3" x2="687.5" y2="700.4" stroke="#eec6cb" stroke-width="2.6"/><line x1="695.6" y1="688.2" x2="685.7" y2="687" stroke="#35d39c" stroke-width="2.6"/><line x1="685.7" y1="687" x2="680.7" y2="686.4" stroke="#eec6cb" stroke-width="2.6"/><line x1="695.6" y1="688.2" x2="691.6" y2="679.1" stroke="#35d39c" stroke-width="2.6"/><line x1="691.6" y1="679.1" x2="689.6" y2="674.4" stroke="#eec6cb" stroke-width="2.6"/><line x1="695.6" y1="688.2" x2="701.8" y2="682.2" stroke="#35d39c" stroke-width="2.6"/><line x1="701.8" y1="682.2" x2="705" y2="679.2" stroke="#eec6cb" stroke-width="2.6"/><line x1="702.6" y1="703.1" x2="713.3" y2="705.9" stroke="#35d39c" stroke-width="2.6"/><line x1="713.3" y1="705.9" x2="718.8" y2="707.4" stroke="#eec6cb" stroke-width="2.6"/><line x1="702.6" y1="703.1" x2="705.9" y2="710.9" stroke="#35d39c" stroke-width="2.6"/><line x1="705.9" y1="710.9" x2="707.6" y2="715" stroke="#eec6cb" stroke-width="2.6"/><line x1="702.6" y1="703.1" x2="694.8" y2="710.9" stroke="#35d39c" stroke-width="2.6"/><line x1="694.8" y1="710.9" x2="690.9" y2="715" stroke="#eec6cb" stroke-width="2.6"/><line x1="702.6" y1="703.1" x2="693.2" y2="698.3" stroke="#35d39c" stroke-width="2.6"/><line x1="693.2" y1="698.3" x2="688.3" y2="695.9" stroke="#eec6cb" stroke-width="2.6"/><line x1="702.6" y1="703.1" x2="702" y2="692.9" stroke="#35d39c" stroke-width="2.6"/><line x1="702" y1="692.9" x2="701.7" y2="687.6" stroke="#eec6cb" stroke-width="2.6"/><line x1="702.6" y1="703.1" x2="708.5" y2="697.1" stroke="#35d39c" stroke-width="2.6"/><line x1="708.5" y1="697.1" x2="711.5" y2="694" stroke="#eec6cb" stroke-width="2.6"/><line x1="708.2" y1="717.1" x2="718" y2="720.2" stroke="#35d39c" stroke-width="2.6"/><line x1="718" y1="720.2" x2="723.1" y2="721.9" stroke="#eec6cb" stroke-width="2.6"/><line x1="708.2" y1="717.1" x2="711.3" y2="725" stroke="#35d39c" stroke-width="2.6"/><line x1="711.3" y1="725" x2="712.8" y2="729.1" stroke="#eec6cb" stroke-width="2.6"/><line x1="708.2" y1="717.1" x2="701.4" y2="723.9" stroke="#35d39c" stroke-width="2.6"/><line x1="701.4" y1="723.9" x2="697.9" y2="727.3" stroke="#eec6cb" stroke-width="2.6"/><line x1="708.2" y1="717.1" x2="698.8" y2="715.9" stroke="#35d39c" stroke-width="2.6"/><line x1="698.8" y1="715.9" x2="693.9" y2="715.3" stroke="#eec6cb" stroke-width="2.6"/><line x1="708.2" y1="717.1" x2="705" y2="707.2" stroke="#35d39c" stroke-width="2.6"/><line x1="705" y1="707.2" x2="703.4" y2="702.2" stroke="#eec6cb" stroke-width="2.6"/><line x1="708.2" y1="717.1" x2="715.2" y2="711.3" stroke="#35d39c" stroke-width="2.6"/><line x1="715.2" y1="711.3" x2="718.8" y2="708.3" stroke="#eec6cb" stroke-width="2.6"/><line x1="734.1" y1="713.3" x2="744.1" y2="714.6" stroke="#35d39c" stroke-width="2.6"/><line x1="744.1" y1="714.6" x2="749.2" y2="715.3" stroke="#eec6cb" stroke-width="2.6"/><line x1="734.1" y1="713.3" x2="737.8" y2="720.9" stroke="#35d39c" stroke-width="2.6"/><line x1="737.8" y1="720.9" x2="739.8" y2="724.8" stroke="#eec6cb" stroke-width="2.6"/><line x1="734.1" y1="713.3" x2="727.8" y2="718.9" stroke="#35d39c" stroke-width="2.6"/><line x1="727.8" y1="718.9" x2="724.5" y2="721.8" stroke="#eec6cb" stroke-width="2.6"/><line x1="734.1" y1="713.3" x2="724.6" y2="711.1" stroke="#35d39c" stroke-width="2.6"/><line x1="724.6" y1="711.1" x2="719.8" y2="710" stroke="#eec6cb" stroke-width="2.6"/><line x1="734.1" y1="713.3" x2="732.4" y2="703.5" stroke="#35d39c" stroke-width="2.6"/><line x1="732.4" y1="703.5" x2="731.5" y2="698.4" stroke="#eec6cb" stroke-width="2.6"/><line x1="734.1" y1="713.3" x2="742.5" y2="707.1" stroke="#35d39c" stroke-width="2.6"/><line x1="742.5" y1="707.1" x2="746.8" y2="703.9" stroke="#eec6cb" stroke-width="2.6"/><line x1="678.9" y1="727.7" x2="689.5" y2="729.6" stroke="#35d39c" stroke-width="2.6"/><line x1="689.5" y1="729.6" x2="694.9" y2="730.6" stroke="#eec6cb" stroke-width="2.6"/><line x1="678.9" y1="727.7" x2="682.4" y2="736.6" stroke="#35d39c" stroke-width="2.6"/><line x1="682.4" y1="736.6" x2="684.3" y2="741.1" stroke="#eec6cb" stroke-width="2.6"/><line x1="678.9" y1="727.7" x2="672.5" y2="734.7" stroke="#35d39c" stroke-width="2.6"/><line x1="672.5" y1="734.7" x2="669.2" y2="738.2" stroke="#eec6cb" stroke-width="2.6"/><line x1="678.9" y1="727.7" x2="669.5" y2="727.4" stroke="#35d39c" stroke-width="2.6"/><line x1="669.5" y1="727.4" x2="664.7" y2="727.3" stroke="#eec6cb" stroke-width="2.6"/><line x1="678.9" y1="727.7" x2="678.8" y2="719.3" stroke="#35d39c" stroke-width="2.6"/><line x1="678.8" y1="719.3" x2="678.7" y2="715" stroke="#eec6cb" stroke-width="2.6"/><line x1="678.9" y1="727.7" x2="687.2" y2="721.6" stroke="#35d39c" stroke-width="2.6"/><line x1="687.2" y1="721.6" x2="691.5" y2="718.4" stroke="#eec6cb" stroke-width="2.6"/><line x1="711.7" y1="737.3" x2="721.1" y2="740.7" stroke="#35d39c" stroke-width="2.6"/><line x1="721.1" y1="740.7" x2="726" y2="742.4" stroke="#eec6cb" stroke-width="2.6"/><line x1="711.7" y1="737.3" x2="713.5" y2="745" stroke="#35d39c" stroke-width="2.6"/><line x1="713.5" y1="745" x2="714.5" y2="749" stroke="#eec6cb" stroke-width="2.6"/><line x1="711.7" y1="737.3" x2="706.8" y2="744.3" stroke="#35d39c" stroke-width="2.6"/><line x1="706.8" y1="744.3" x2="704.2" y2="748" stroke="#eec6cb" stroke-width="2.6"/><line x1="711.7" y1="737.3" x2="702.8" y2="736.7" stroke="#35d39c" stroke-width="2.6"/><line x1="702.8" y1="736.7" x2="698.2" y2="736.3" stroke="#eec6cb" stroke-width="2.6"/><line x1="711.7" y1="737.3" x2="707.1" y2="728.9" stroke="#35d39c" stroke-width="2.6"/><line x1="707.1" y1="728.9" x2="704.8" y2="724.6" stroke="#eec6cb" stroke-width="2.6"/><line x1="711.7" y1="737.3" x2="718.5" y2="728.7" stroke="#35d39c" stroke-width="2.6"/><line x1="718.5" y1="728.7" x2="722" y2="724.3" stroke="#eec6cb" stroke-width="2.6"/><line x1="718.7" y1="752.2" x2="728.4" y2="755.5" stroke="#35d39c" stroke-width="2.6"/><line x1="728.4" y1="755.5" x2="733.4" y2="757.1" stroke="#eec6cb" stroke-width="2.6"/><line x1="718.7" y1="752.2" x2="720.1" y2="760.6" stroke="#35d39c" stroke-width="2.6"/><line x1="720.1" y1="760.6" x2="720.9" y2="764.9" stroke="#eec6cb" stroke-width="2.6"/><line x1="718.7" y1="752.2" x2="709.1" y2="757.6" stroke="#35d39c" stroke-width="2.6"/><line x1="709.1" y1="757.6" x2="704.1" y2="760.4" stroke="#eec6cb" stroke-width="2.6"/><line x1="718.7" y1="752.2" x2="709.3" y2="748.8" stroke="#35d39c" stroke-width="2.6"/><line x1="709.3" y1="748.8" x2="704.4" y2="747.1" stroke="#eec6cb" stroke-width="2.6"/><line x1="718.7" y1="752.2" x2="717.8" y2="742.3" stroke="#35d39c" stroke-width="2.6"/><line x1="717.8" y1="742.3" x2="717.3" y2="737.2" stroke="#eec6cb" stroke-width="2.6"/><line x1="718.7" y1="752.2" x2="727.6" y2="745.5" stroke="#35d39c" stroke-width="2.6"/><line x1="727.6" y1="745.5" x2="732.1" y2="742" stroke="#eec6cb" stroke-width="2.6"/><line x1="744.6" y1="747.8" x2="753.9" y2="750.7" stroke="#35d39c" stroke-width="2.6"/><line x1="753.9" y1="750.7" x2="758.6" y2="752.1" stroke="#eec6cb" stroke-width="2.6"/><line x1="744.6" y1="747.8" x2="746.7" y2="755.9" stroke="#35d39c" stroke-width="2.6"/><line x1="746.7" y1="755.9" x2="747.8" y2="760" stroke="#eec6cb" stroke-width="2.6"/><line x1="744.6" y1="747.8" x2="738.2" y2="755.8" stroke="#35d39c" stroke-width="2.6"/><line x1="738.2" y1="755.8" x2="734.9" y2="759.9" stroke="#eec6cb" stroke-width="2.6"/><line x1="744.6" y1="747.8" x2="733.8" y2="743.6" stroke="#35d39c" stroke-width="2.6"/><line x1="733.8" y1="743.6" x2="728.2" y2="741.4" stroke="#eec6cb" stroke-width="2.6"/><line x1="744.6" y1="747.8" x2="743.8" y2="738.5" stroke="#35d39c" stroke-width="2.6"/><line x1="743.8" y1="738.5" x2="743.4" y2="733.7" stroke="#eec6cb" stroke-width="2.6"/><line x1="744.6" y1="747.8" x2="750.1" y2="740.1" stroke="#35d39c" stroke-width="2.6"/><line x1="750.1" y1="740.1" x2="752.9" y2="736.1" stroke="#eec6cb" stroke-width="2.6"/><circle cx="684.6" cy="696.8" r="1.7" fill="#fbf0f1" stroke="#e0a2aa" stroke-width="0.8"/><circle cx="674.3" cy="705.6" r="1.7" fill="#fbf0f1" stroke="#e0a2aa" stroke-width="0.8"/><circle cx="654.1" cy="701.2" r="1.7" fill="#fbf0f1" stroke="#e0a2aa" stroke-width="0.8"/><circle cx="654.7" cy="691.8" r="1.7" fill="#fbf0f1" stroke="#e0a2aa" stroke-width="0.8"/><circle cx="661.5" cy="680.6" r="1.7" fill="#fbf0f1" stroke="#e0a2aa" stroke-width="0.8"/><circle cx="676.5" cy="680.8" r="1.7" fill="#fbf0f1" stroke="#e0a2aa" stroke-width="0.8"/><circle cx="709.2" cy="692.5" r="1.7" fill="#fbf0f1" stroke="#e0a2aa" stroke-width="0.8"/><circle cx="698.3" cy="702.4" r="1.7" fill="#fbf0f1" stroke="#e0a2aa" stroke-width="0.8"/><circle cx="687.5" cy="700.4" r="1.7" fill="#fbf0f1" stroke="#e0a2aa" stroke-width="0.8"/><circle cx="680.7" cy="686.4" r="1.7" fill="#fbf0f1" stroke="#e0a2aa" stroke-width="0.8"/><circle cx="689.6" cy="674.4" r="1.7" fill="#fbf0f1" stroke="#e0a2aa" stroke-width="0.8"/><circle cx="705" cy="679.2" r="1.7" fill="#fbf0f1" stroke="#e0a2aa" stroke-width="0.8"/><circle cx="718.8" cy="707.4" r="1.7" fill="#fbf0f1" stroke="#e0a2aa" stroke-width="0.8"/><circle cx="707.6" cy="715" r="1.7" fill="#fbf0f1" stroke="#e0a2aa" stroke-width="0.8"/><circle cx="690.9" cy="715" r="1.7" fill="#fbf0f1" stroke="#e0a2aa" stroke-width="0.8"/><circle cx="688.3" cy="695.9" r="1.7" fill="#fbf0f1" stroke="#e0a2aa" stroke-width="0.8"/><circle cx="701.7" cy="687.6" r="1.7" fill="#fbf0f1" stroke="#e0a2aa" stroke-width="0.8"/><circle cx="711.5" cy="694" r="1.7" fill="#fbf0f1" stroke="#e0a2aa" stroke-width="0.8"/><circle cx="723.1" cy="721.9" r="1.7" fill="#fbf0f1" stroke="#e0a2aa" stroke-width="0.8"/><circle cx="712.8" cy="729.1" r="1.7" fill="#fbf0f1" stroke="#e0a2aa" stroke-width="0.8"/><circle cx="697.9" cy="727.3" r="1.7" fill="#fbf0f1" stroke="#e0a2aa" stroke-width="0.8"/><circle cx="693.9" cy="715.3" r="1.7" fill="#fbf0f1" stroke="#e0a2aa" stroke-width="0.8"/><circle cx="703.4" cy="702.2" r="1.7" fill="#fbf0f1" stroke="#e0a2aa" stroke-width="0.8"/><circle cx="718.8" cy="708.3" r="1.7" fill="#fbf0f1" stroke="#e0a2aa" stroke-width="0.8"/><circle cx="749.2" cy="715.3" r="1.7" fill="#fbf0f1" stroke="#e0a2aa" stroke-width="0.8"/><circle cx="739.8" cy="724.8" r="1.7" fill="#fbf0f1" stroke="#e0a2aa" stroke-width="0.8"/><circle cx="724.5" cy="721.8" r="1.7" fill="#fbf0f1" stroke="#e0a2aa" stroke-width="0.8"/><circle cx="719.8" cy="710" r="1.7" fill="#fbf0f1" stroke="#e0a2aa" stroke-width="0.8"/><circle cx="731.5" cy="698.4" r="1.7" fill="#fbf0f1" stroke="#e0a2aa" stroke-width="0.8"/><circle cx="746.8" cy="703.9" r="1.7" fill="#fbf0f1" stroke="#e0a2aa" stroke-width="0.8"/><circle cx="694.9" cy="730.6" r="1.7" fill="#fbf0f1" stroke="#e0a2aa" stroke-width="0.8"/><circle cx="684.3" cy="741.1" r="1.7" fill="#fbf0f1" stroke="#e0a2aa" stroke-width="0.8"/><circle cx="669.2" cy="738.2" r="1.7" fill="#fbf0f1" stroke="#e0a2aa" stroke-width="0.8"/><circle cx="664.7" cy="727.3" r="1.7" fill="#fbf0f1" stroke="#e0a2aa" stroke-width="0.8"/><circle cx="678.7" cy="715" r="1.7" fill="#fbf0f1" stroke="#e0a2aa" stroke-width="0.8"/><circle cx="691.5" cy="718.4" r="1.7" fill="#fbf0f1" stroke="#e0a2aa" stroke-width="0.8"/><circle cx="726" cy="742.4" r="1.7" fill="#fbf0f1" stroke="#e0a2aa" stroke-width="0.8"/><circle cx="714.5" cy="749" r="1.7" fill="#fbf0f1" stroke="#e0a2aa" stroke-width="0.8"/><circle cx="704.2" cy="748" r="1.7" fill="#fbf0f1" stroke="#e0a2aa" stroke-width="0.8"/><circle cx="698.2" cy="736.3" r="1.7" fill="#fbf0f1" stroke="#e0a2aa" stroke-width="0.8"/><circle cx="704.8" cy="724.6" r="1.7" fill="#fbf0f1" stroke="#e0a2aa" stroke-width="0.8"/><circle cx="722" cy="724.3" r="1.7" fill="#fbf0f1" stroke="#e0a2aa" stroke-width="0.8"/><circle cx="733.4" cy="757.1" r="1.7" fill="#fbf0f1" stroke="#e0a2aa" stroke-width="0.8"/><circle cx="720.9" cy="764.9" r="1.7" fill="#fbf0f1" stroke="#e0a2aa" stroke-width="0.8"/><circle cx="704.1" cy="760.4" r="1.7" fill="#fbf0f1" stroke="#e0a2aa" stroke-width="0.8"/><circle cx="704.4" cy="747.1" r="1.7" fill="#fbf0f1" stroke="#e0a2aa" stroke-width="0.8"/><circle cx="717.3" cy="737.2" r="1.7" fill="#fbf0f1" stroke="#e0a2aa" stroke-width="0.8"/><circle cx="732.1" cy="742" r="1.7" fill="#fbf0f1" stroke="#e0a2aa" stroke-width="0.8"/><circle cx="758.6" cy="752.1" r="1.7" fill="#fbf0f1" stroke="#e0a2aa" stroke-width="0.8"/><circle cx="747.8" cy="760" r="1.7" fill="#fbf0f1" stroke="#e0a2aa" stroke-width="0.8"/><circle cx="734.9" cy="759.9" r="1.7" fill="#fbf0f1" stroke="#e0a2aa" stroke-width="0.8"/><circle cx="728.2" cy="741.4" r="1.7" fill="#fbf0f1" stroke="#e0a2aa" stroke-width="0.8"/><circle cx="743.4" cy="733.7" r="1.7" fill="#fbf0f1" stroke="#e0a2aa" stroke-width="0.8"/><circle cx="752.9" cy="736.1" r="1.7" fill="#fbf0f1" stroke="#e0a2aa" stroke-width="0.8"/><circle cx="668.7" cy="692.6" r="7" fill="url(#sLu)"/><circle cx="695.6" cy="688.2" r="7" fill="url(#sLu)"/><circle cx="702.6" cy="703.1" r="7" fill="url(#sLu)"/><circle cx="708.2" cy="717.1" r="7" fill="url(#sLu)"/><circle cx="734.1" cy="713.3" r="7" fill="url(#sLu)"/><circle cx="678.9" cy="727.7" r="7" fill="url(#sLu)"/><circle cx="711.7" cy="737.3" r="7" fill="url(#sLu)"/><circle cx="718.7" cy="752.2" r="7" fill="url(#sLu)"/><circle cx="744.6" cy="747.8" r="7" fill="url(#sLu)"/><circle cx="1229.8" cy="662.7" r="7.75" fill="url(#shd)"/><circle cx="1228.3" cy="660.7" r="6.2" fill="url(#sH)"/><circle cx="1274.3" cy="662" r="12" fill="url(#shd)"/><circle cx="1272.8" cy="660" r="9.6" fill="url(#sN)"/><circle cx="1328.7" cy="662.3" r="16.25" fill="url(#shd)"/><circle cx="1327.2" cy="660.3" r="13" fill="url(#sLu)"/><g font-family="Liberation Serif, serif" fill="#000"><text x="21.35" y="54.88" font-size="32.00" textLength="40.30" lengthAdjust="spacingAndGlyphs">(a)</text><text x="223.96" y="86.50" font-size="30.69" textLength="87.50" lengthAdjust="spacingAndGlyphs">0 GPa</text><text x="255.32" y="213.20" font-size="25.95" textLength="64.36" lengthAdjust="spacingAndGlyphs">LuH<tspan font-size="18.17" font-style="normal" dy="4.93">2</tspan></text><text x="332.34" y="204.60" font-size="25.95" textLength="62.62" lengthAdjust="spacingAndGlyphs">LuH<tspan font-size="18.17" font-style="normal" dy="4.93">3</tspan></text><text x="390.16" y="234.80" font-size="25.95" textLength="50.53" lengthAdjust="spacingAndGlyphs">NH<tspan font-size="18.17" font-style="normal" dy="4.93">3</tspan></text><text x="349.97" y="312.30" font-size="25.95" textLength="59.10" lengthAdjust="spacingAndGlyphs">N<tspan font-size="18.17" font-style="normal" dy="4.93">2</tspan><tspan dy="-4.93">H</tspan><tspan font-size="18.17" font-style="normal" dy="4.93">3</tspan></text><text x="410.26" y="330.80" font-size="25.95" textLength="29.94" lengthAdjust="spacingAndGlyphs">H<tspan font-size="18.17" font-style="normal" dy="4.93">2</tspan></text><text x="0.43" y="365.10" font-size="25.95" textLength="32.38" lengthAdjust="spacingAndGlyphs">Lu</text><text x="49.04" y="454.00" font-size="25.95" textLength="91.72" lengthAdjust="spacingAndGlyphs">Lu<tspan font-size="18.17" font-style="normal" dy="4.93">12</tspan><tspan dy="-4.93">N</tspan><tspan font-size="18.17" font-style="normal" dy="4.93">11</tspan></text><text x="135.15" y="496.80" font-size="25.95" textLength="52.21" lengthAdjust="spacingAndGlyphs">LuN</text><text x="238.06" y="592.00" font-size="25.95" textLength="30.15" lengthAdjust="spacingAndGlyphs">N<tspan font-size="18.17" font-style="normal" dy="4.93">2</tspan></text><text x="436.62" y="369.20" font-size="20.61" textLength="183.95" lengthAdjust="spacingAndGlyphs" fill="#2a3f5f">Formation energy</text><text x="436.93" y="394.00" font-size="20.76" textLength="109.82" lengthAdjust="spacingAndGlyphs" fill="#2a3f5f">(eV/atom)</text><text x="436.79" y="432.90" font-size="15.57" textLength="23.72" lengthAdjust="spacingAndGlyphs" fill="#2a3f5f">−2</text><text x="469.84" y="432.90" font-size="15.57" textLength="38.48" lengthAdjust="spacingAndGlyphs" fill="#2a3f5f">−1.5</text><text x="518.80" y="432.90" font-size="15.57" textLength="23.50" lengthAdjust="spacingAndGlyphs" fill="#2a3f5f">−1</text><text x="553.14" y="432.90" font-size="15.57" textLength="38.38" lengthAdjust="spacingAndGlyphs" fill="#2a3f5f">−0.5</text><text x="608.11" y="432.90" font-size="15.57" textLength="9.88" lengthAdjust="spacingAndGlyphs" fill="#2a3f5f">0</text><text x="64.95" y="637.70" font-size="22.44" textLength="66.13" lengthAdjust="spacingAndGlyphs" fill="#2a3f5f">Stable</text><text x="196.75" y="639.60" font-size="22.44" textLength="116.14" lengthAdjust="spacingAndGlyphs" fill="#2a3f5f">Above Hull</text><text x="402.48" y="639.20" font-size="22.44" textLength="234.19" lengthAdjust="spacingAndGlyphs" fill="#2a3f5f">Convex Hull (shading)</text><text x="621.48" y="54.67" font-size="33.00" textLength="41.46" lengthAdjust="spacingAndGlyphs">(b)</text><text x="775.24" y="24.50" font-size="30.69" textLength="88.21" lengthAdjust="spacingAndGlyphs">0 GPa</text><text x="719.24" y="38.90" font-size="25.95" textLength="30.68" lengthAdjust="spacingAndGlyphs">N<tspan font-size="18.17" font-style="normal" dy="4.93">2</tspan></text><text x="850.93" y="179.00" font-size="25.95" textLength="53.04" lengthAdjust="spacingAndGlyphs">LuN</text><text x="861.43" y="201.90" font-size="25.95" textLength="92.64" lengthAdjust="spacingAndGlyphs">Lu<tspan font-size="18.17" font-style="normal" dy="4.93">12</tspan><tspan dy="-4.93">N</tspan><tspan font-size="18.17" font-style="normal" dy="4.93">11</tspan></text><text x="589.33" y="208.20" font-size="25.95" textLength="61.87" lengthAdjust="spacingAndGlyphs">N<tspan font-size="18.17" font-style="normal" dy="4.93">2</tspan><tspan dy="-4.93">H</tspan><tspan font-size="18.17" font-style="normal" dy="4.93">3</tspan></text><text x="570.14" y="256.00" font-size="25.95" textLength="51.46" lengthAdjust="spacingAndGlyphs">NH<tspan font-size="18.17" font-style="normal" dy="4.93">3</tspan></text><text x="552.54" y="353.40" font-size="25.95" textLength="30.79" lengthAdjust="spacingAndGlyphs">H<tspan font-size="18.17" font-style="normal" dy="4.93">2</tspan></text><text x="626.63" y="353.40" font-size="25.95" textLength="63.55" lengthAdjust="spacingAndGlyphs">LuH<tspan font-size="18.17" font-style="normal" dy="4.93">3</tspan></text><text x="697.63" y="353.40" font-size="25.95" textLength="63.33" lengthAdjust="spacingAndGlyphs">LuH<tspan font-size="18.17" font-style="normal" dy="4.93">2</tspan></text><text x="922.22" y="353.30" font-size="25.95" textLength="32.49" lengthAdjust="spacingAndGlyphs">Lu</text><text x="1061.71" y="54.75" font-size="33.11" textLength="38.69" lengthAdjust="spacingAndGlyphs">(c)</text><text x="1212.52" y="24.50" font-size="30.69" textLength="87.93" lengthAdjust="spacingAndGlyphs">5 GPa</text><text x="1147.35" y="38.90" font-size="25.95" textLength="30.25" lengthAdjust="spacingAndGlyphs">N<tspan font-size="18.17" font-style="normal" dy="4.93">2</tspan></text><text x="1213.50" y="73.00" font-size="25.95" textLength="65.70" lengthAdjust="spacingAndGlyphs">LuN<tspan font-size="18.17" font-style="normal" dy="4.93">9</tspan></text><text x="1281.23" y="179.20" font-size="25.95" textLength="53.45" lengthAdjust="spacingAndGlyphs">LuN</text><text x="1290.83" y="199.90" font-size="25.95" textLength="93.25" lengthAdjust="spacingAndGlyphs">Lu<tspan font-size="18.17" font-style="normal" dy="4.93">12</tspan><tspan dy="-4.93">N</tspan><tspan font-size="18.17" font-style="normal" dy="4.93">11</tspan></text><text x="1015.05" y="208.20" font-size="25.95" textLength="60.74" lengthAdjust="spacingAndGlyphs">N<tspan font-size="18.17" font-style="normal" dy="4.93">2</tspan><tspan dy="-4.93">H</tspan><tspan font-size="18.17" font-style="normal" dy="4.93">3</tspan></text><text x="995.94" y="255.90" font-size="25.95" textLength="51.46" lengthAdjust="spacingAndGlyphs">NH<tspan font-size="18.17" font-style="normal" dy="4.93">3</tspan></text><text x="986.14" y="353.50" font-size="25.95" textLength="30.89" lengthAdjust="spacingAndGlyphs">H<tspan font-size="18.17" font-style="normal" dy="4.93">2</tspan></text><text x="1052.93" y="353.50" font-size="25.95" textLength="63.65" lengthAdjust="spacingAndGlyphs">LuH<tspan font-size="18.17" font-style="normal" dy="4.93">3</tspan></text><text x="1123.41" y="353.50" font-size="25.95" textLength="64.77" lengthAdjust="spacingAndGlyphs">LuH<tspan font-size="18.17" font-style="normal" dy="4.93">2</tspan></text><text x="1370.03" y="353.50" font-size="25.95" textLength="32.38" lengthAdjust="spacingAndGlyphs">Lu</text><text x="843.04" y="401.49" font-size="32.44" textLength="42.65" lengthAdjust="spacingAndGlyphs">(d)</text><text x="942.97" y="385.40" font-size="25.95" textLength="29.83" lengthAdjust="spacingAndGlyphs">N<tspan font-size="18.17" font-style="normal" dy="4.93">2</tspan></text><text x="998.92" y="391.80" font-size="30.69" textLength="103.32" lengthAdjust="spacingAndGlyphs">10 GPa</text><text x="1015.30" y="427.40" font-size="25.95" textLength="65.29" lengthAdjust="spacingAndGlyphs">LuN<tspan font-size="18.17" font-style="normal" dy="4.93">9</tspan></text><text x="850.32" y="531.00" font-size="25.95" textLength="37.72" lengthAdjust="spacingAndGlyphs">NH</text><text x="1074.48" y="532.80" font-size="25.95" textLength="50.36" lengthAdjust="spacingAndGlyphs">LuN</text><text x="1085.15" y="556.40" font-size="25.95" textLength="90.50" lengthAdjust="spacingAndGlyphs">Lu<tspan font-size="18.17" font-style="normal" dy="4.93">12</tspan><tspan dy="-4.93">N</tspan><tspan font-size="18.17" font-style="normal" dy="4.93">11</tspan></text><text x="787.26" y="604.70" font-size="25.95" textLength="50.32" lengthAdjust="spacingAndGlyphs">NH<tspan font-size="18.17" font-style="normal" dy="4.93">3</tspan></text><text x="842.63" y="667.50" font-size="25.95" textLength="63.24" lengthAdjust="spacingAndGlyphs">LuH<tspan font-size="18.17" font-style="normal" dy="4.93">3</tspan></text><text x="764.47" y="688.40" font-size="25.95" textLength="29.51" lengthAdjust="spacingAndGlyphs">H<tspan font-size="18.17" font-style="normal" dy="4.93">2</tspan></text><text x="1163.72" y="688.40" font-size="25.95" textLength="32.49" lengthAdjust="spacingAndGlyphs">Lu</text><text x="833.24" y="732.00" font-size="25.95" textLength="92.70" lengthAdjust="spacingAndGlyphs">Lu<tspan font-size="18.17" font-style="normal" dy="4.93">10</tspan><tspan dy="-4.93">H</tspan><tspan font-size="18.17" font-style="normal" dy="4.93">21</tspan></text><text x="940.63" y="732.00" font-size="25.95" textLength="63.54" lengthAdjust="spacingAndGlyphs">LuH<tspan font-size="18.17" font-style="normal" dy="4.93">2</tspan></text><text x="1218.30" y="698.70" font-size="25.95" textLength="19.37" lengthAdjust="spacingAndGlyphs">H</text><text x="1262.61" y="698.70" font-size="25.95" textLength="19.08" lengthAdjust="spacingAndGlyphs">N</text><text x="1311.54" y="698.70" font-size="25.95" textLength="31.76" lengthAdjust="spacingAndGlyphs">Lu</text><text x="841.60" y="79.90" font-size="22.90" textLength="66.99" lengthAdjust="spacingAndGlyphs" font-style="italic">Fm<tspan font-style="normal">3</tspan>m</text><text x="1431.50" y="94.00" font-size="20.61" textLength="57.84" lengthAdjust="spacingAndGlyphs" font-style="italic">P<tspan font-style="normal">2</tspan><tspan font-size="14.43" font-style="normal" dy="3.92">1</tspan><tspan font-style="normal" dy="-3.92">/</tspan>c</text><text x="659.90" y="496.70" font-size="22.60" textLength="62.56" lengthAdjust="spacingAndGlyphs" font-style="italic">Pmna</text><text x="1297.26" y="496.70" font-size="23.36" textLength="75.38" lengthAdjust="spacingAndGlyphs" font-style="italic">C<tspan font-style="normal">2/</tspan>m</text><text x="618.80" y="734.70" font-size="14.96" textLength="19.47" lengthAdjust="spacingAndGlyphs" font-style="italic">P<tspan font-style="normal">1</tspan></text></g></svg></body></html>
